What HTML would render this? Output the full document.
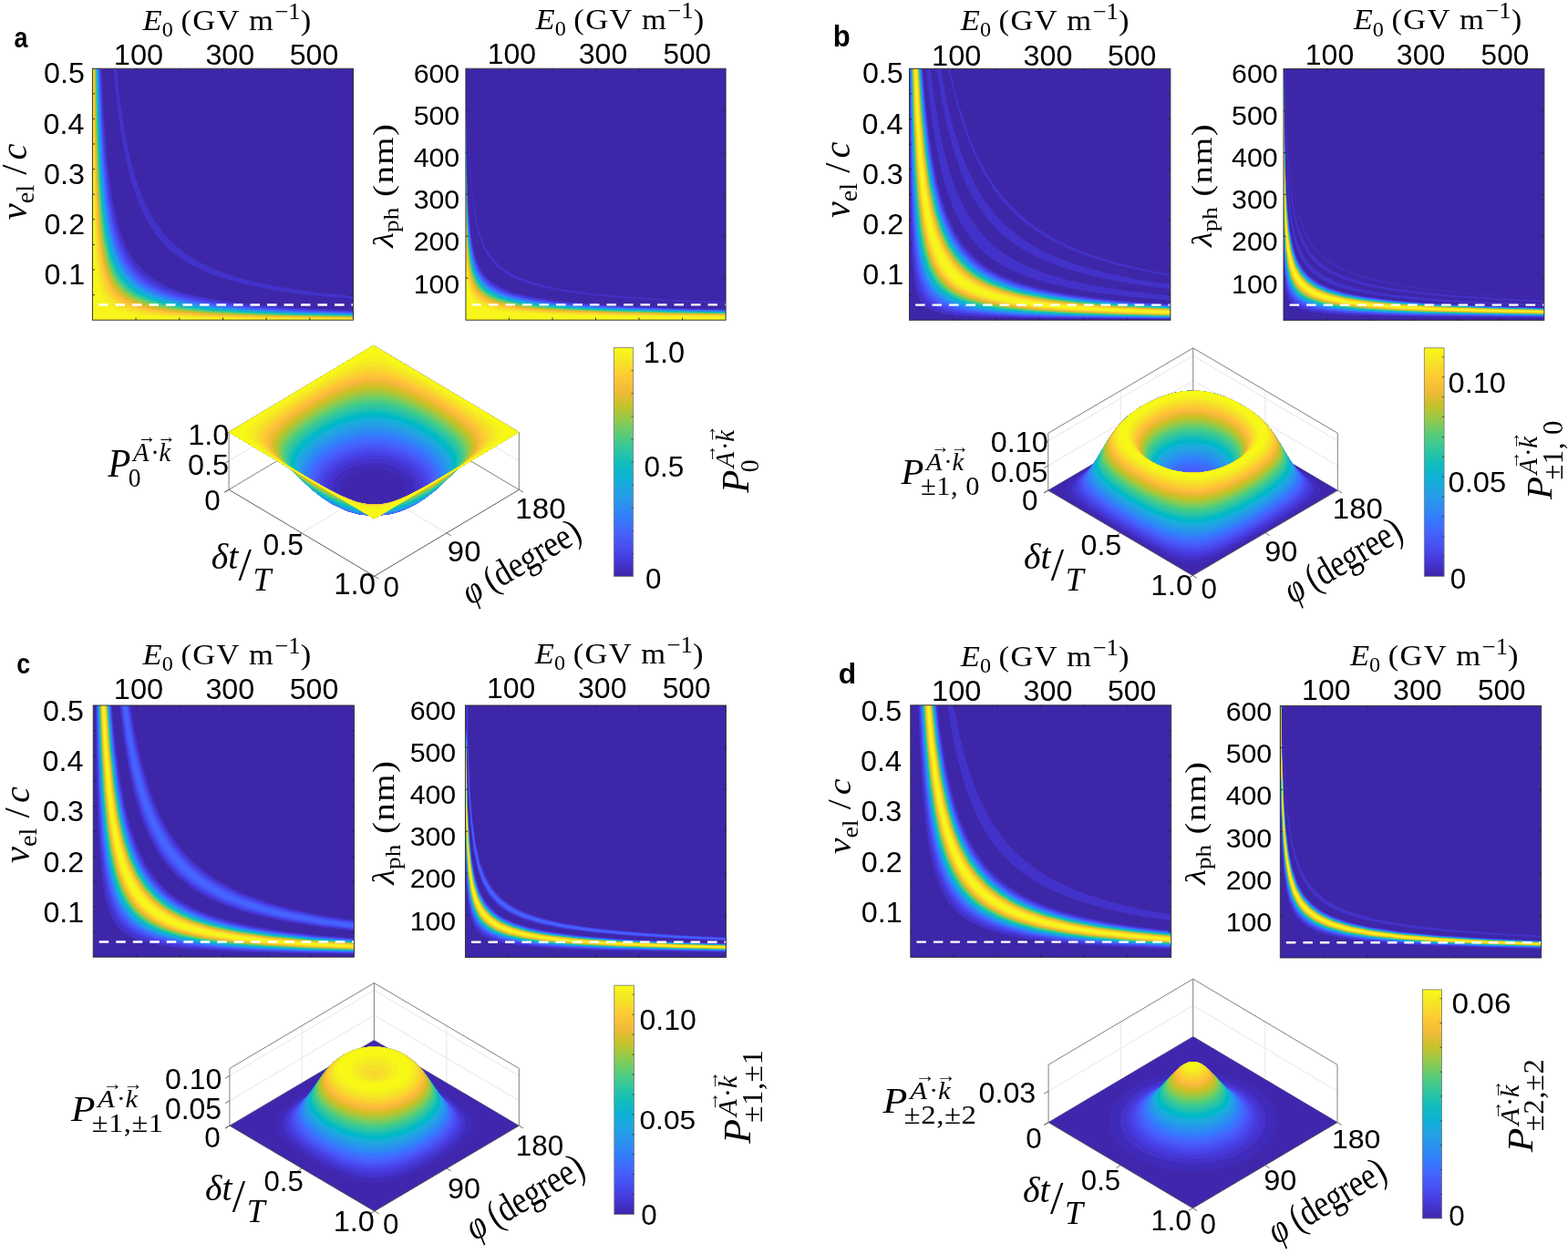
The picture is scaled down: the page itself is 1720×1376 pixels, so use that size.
<!DOCTYPE html>
<html><head><meta charset="utf-8"><style>
html,body{margin:0;padding:0;background:#fff;overflow:hidden;}
svg{display:block;}
.n{font-family:"Liberation Sans",sans-serif;font-size:29px;fill:#000;}
.m{font-family:"Liberation Serif",serif;fill:#000;}
</style></head><body>
<svg width="1720" height="1376" viewBox="0 0 1720 1376">
<defs>
<filter id="bl" x="0" y="0" width="1" height="1"><feGaussianBlur stdDeviation="0.6"/></filter>
<filter id="bl2"><feGaussianBlur stdDeviation="0.5"/></filter>
</defs>
<rect width="1720" height="1376" fill="#fff"/>
<clipPath id="cav"><rect x="101.4" y="75.2" width="286.1" height="276"/></clipPath>
<g clip-path="url(#cav)"><rect x="101.4" y="75.2" width="286.1" height="276" fill="#3e26a8"/>
<g filter="url(#bl)"><path fill="#4332c9" d="M124.5 75.3l3.5 36.3l5 36.7l5 27l7.5 29.3l7.8 21.5l9.7 19.5l9.8 14.3l12 13l12 9.7l15 9.3l19.2 8.7l24.5 8l31.8 7.3l27.3 4.5l36.5 4.5l36.2 3.2l0 -3l-38.2 -4l-41 -6l-27.3 -5.5l-24.3 -6.5l-18.5 -6.5l-17.5 -8l-15.7 -9.5l-13.5 -10.7l-8 -8l-5.8 -6.8l-10 -14.5l-8.7 -16.7l-7 -17.6l-7 -23l-7.5 -34.2l-5.5 -35.5l-4 -36.8zM101.5 75.3l0 275.8l285.8 0l0 -10.5l-56.5 -2.5l-47.7 -3.5l-36.8 -4.2l-29 -5.3l-16.3 -4.2l-19.2 -7.3l-11.5 -6.2l-11 -8.3l-9.5 -10l-5 -7l-4.3 -7.2l-5.7 -12.8l-5.8 -17.7l-5.2 -23.8l-5.5 -39.8l-4 -48.5l-2.8 -57z"/>
<path fill="#4639d9" d="M101.5 75.3l0 275.8l285.8 0l0 -9.5l-53.7 -2.2l-52.3 -3.5l-35 -3.8l-32.3 -5.5l-19 -5l-15.2 -5.7l-12.3 -6.5l-11 -8.3l-8.7 -9.2l-8 -12l-7.3 -16l-6.5 -22l-5 -26.3l-4.2 -34.8l-3.5 -45.7l-2.8 -59.8z"/>
<path fill="#473fe3" d="M101.5 75.3l0 275.8l285.8 0l0 -9.2l-49 -1.8l-56 -3.5l-38.5 -4l-31.3 -5.2l-16.7 -4.3l-15.5 -5.5l-13.3 -6.7l-11.2 -8.3l-9.3 -9.7l-7.7 -11.8l-7 -15.5l-6.5 -22.2l-5.8 -32.1l-4 -36.5l-3.2 -47.5l-2.3 -52z"/>
<path fill="#4746eb" d="M101.5 75.3l0 275.8l285.8 0l0 -8.7l-58 -2.3l-47.7 -3l-37.6 -3.7l-32.2 -5.3l-18.8 -4.7l-15.7 -5.8l-12.8 -6.7l-10 -7.5l-9.7 -10.5l-8.3 -13.3l-5.7 -13.5l-6 -20.7l-5.5 -30.6l-4 -36.2l-3 -42.8l-2.5 -60.5z"/>
<path fill="#484df1" d="M101.5 75.3l0 275.8l285.8 0l0 -8.5l-60.7 -2.2l-51.3 -3.3l-38 -4l-25.8 -4.2l-19.2 -4.8l-14.8 -5.2l-13.2 -6.8l-10.5 -7.7l-9 -9.5l-7 -10.5l-7.3 -16l-6.2 -21.5l-3.5 -17.8l-2.3 -15l-3.7 -35.3l-3.3 -49.5l-2 -54z"/>
<path fill="#4854f6" d="M101.5 75.3l0 275.8l285.8 0l0 -8.2l-57.7 -2l-50.5 -3l-40.6 -4l-30.5 -5l-19.5 -5l-13.5 -5l-12.7 -6.8l-11 -8.5l-9.8 -11.2l-7 -12l-3.7 -8.8l-3.5 -10.2l-4.3 -16.8l-4.7 -28l-4 -38.3l-3 -46.7l-2.3 -56.3z"/>
<path fill="#475bfa" d="M101.5 75.3l0 275.8l285.8 0l0 -8l-53.7 -1.7l-53.3 -3l-37.8 -3.5l-29 -4.3l-20 -4.5l-17.2 -5.7l-13.5 -6.8l-7.3 -5l-5 -4.2l-9 -10.3l-4.5 -7l-3.7 -7.2l-5.8 -15l-5.2 -20.5l-4.3 -25.5l-4 -38.3l-3.2 -52.5l-2 -52.8z"/>
<path fill="#4563fc" d="M101.5 75.3l0 275.8l285.8 0l0 -7.7l-60.2 -2l-48.5 -2.8l-38.1 -3.5l-30.2 -4.5l-18.5 -4.2l-18.3 -6.3l-11.7 -6l-10.3 -7.5l-6.2 -6.2l-4.8 -6l-7.7 -13.5l-5.3 -13.5l-5.2 -20l-4.8 -28.5l-3.7 -36.6l-3.3 -53l-2 -54z"/>
<path fill="#426afe" d="M101.5 75.3l0 275.8l285.8 0l0 -7.5l-55.2 -1.7l-55 -3l-38.3 -3.5l-30.3 -4.5l-17.5 -4l-17.7 -6l-12.8 -6.5l-6.5 -4.5l-5.2 -4.5l-8.5 -9.8l-6.8 -11.2l-6.7 -17l-4.8 -18.3l-4.5 -26.5l-3.7 -35.5l-3.5 -57l-1.8 -54.5z"/>
<path fill="#3c71ff" d="M101.5 75.3l0 275.8l285.8 0l0 -7.2l-61.2 -2l-50.3 -2.8l-36.5 -3.2l-31 -4.5l-18.8 -4.3l-18.2 -6.2l-12 -6.3l-10.8 -8.2l-8.2 -9.3l-4 -6l-4 -7.5l-5.5 -14l-4.8 -17.7l-5 -29.5l-3.7 -37.1l-3 -49.5l-2 -60.5z"/>
<path fill="#3479fd" d="M101.5 75.3l0 275.8l285.8 0l0 -7l-55.2 -1.7l-57.3 -3l-41.3 -3.8l-26.7 -4l-18.8 -4.2l-16.2 -5.5l-13.3 -6.8l-11 -8.5l-9 -10.5l-7.7 -14l-5.8 -16l-5 -21.5l-4.2 -29l-3.5 -39.3l-2.5 -45.7l-1.8 -55.3z"/>
<path fill="#2f81fa" d="M101.5 75.3l0 275.8l285.8 0l0 -7l-61.2 -1.7l-48.5 -2.5l-36.3 -3l-31.8 -4.3l-21 -4.5l-15.5 -5l-12.2 -5.7l-11.8 -8.3l-6.5 -6.5l-3.7 -4.7l-4.8 -7.5l-3.5 -7l-5.2 -14.3l-4.3 -16.7l-4.5 -27.3l-3.7 -37.5l-3 -51.3l-2 -61z"/>
<path fill="#2d87f6" d="M101.5 75.3l0 275.8l285.8 0l0 -6.7l-60.7 -1.8l-53.5 -2.7l-33.1 -2.8l-33.2 -4.5l-20.5 -4.5l-14.5 -4.7l-12.5 -6l-5.5 -3.5l-6.3 -5l-9 -10l-4.2 -6.5l-3.5 -6.8l-6 -16l-5.3 -22.2l-4 -27l-3.5 -38.8l-2.7 -51.5l-1.8 -54.8z"/>
<path fill="#2d8ef1" d="M101.5 75.3l0 275.8l285.8 0l0 -6.5l-60 -1.7l-51 -2.5l-39.8 -3.3l-31 -4.2l-20.5 -4.5l-16.2 -5.5l-13 -6.8l-10.8 -8.5l-8 -9.5l-7.2 -13l-6.3 -17.7l-4.5 -20l-4 -28l-3.5 -40.8l-2.5 -49l-1.5 -54.3z"/>
<path fill="#2995ed" d="M101.5 75.3l0 275.8l285.8 0l0 -6.5l-59 -1.5l-56.2 -2.7l-36.6 -3l-31.2 -4.3l-19.5 -4.2l-16.5 -5.5l-11.5 -5.8l-10.5 -7.7l-4.5 -4.5l-5.5 -7l-7 -12.8l-5.3 -14.5l-5 -21.2l-4 -27.3l-3.5 -39.8l-2.7 -54l-1.5 -53.5z"/>
<path fill="#259be8" d="M101.5 75.3l0 275.8l285.8 0l0 -6.2l-64.7 -1.8l-47 -2.2l-36.1 -2.8l-32 -4l-23 -4.7l-15.5 -5l-12 -5.8l-10.5 -7.5l-6 -6l-3.7 -4.7l-7 -12l-6 -16l-5 -21.3l-4.5 -32l-3 -35.8l-2.5 -49l-1.8 -59z"/>
<path fill="#23a0e5" d="M101.5 75.3l0 275.8l285.8 0l0 -6l-63.5 -1.7l-52.5 -2.5l-40 -3.3l-29.3 -4l-20.5 -4.5l-16 -5.5l-11.5 -6l-10 -7.7l-8.5 -10l-7.2 -13.3l-5.5 -15.7l-4.5 -20l-4 -28.5l-3.3 -38.8l-2.5 -50.3l-1.7 -58z"/>
<path fill="#1fa6e2" d="M101.5 75.3l0 275.8l285.8 0l0 -6l-54.7 -1.2l-57.3 -2.5l-40 -3l-30 -3.8l-23 -4.7l-14.8 -4.8l-13.2 -6.5l-10 -7.5l-8.3 -9.2l-5 -8l-3 -6.3l-5.7 -16.5l-4.5 -20.5l-3.5 -25l-3.3 -37.8l-2.5 -49l-1.7 -63.5z"/>
<path fill="#1aacdd" d="M101.5 75.3l0 275.8l285.8 0l0 -5.7l-60.5 -1.5l-51.5 -2.3l-40.8 -3l-28.7 -3.5l-18.5 -3.5l-19.5 -5.7l-12.8 -6l-10.7 -7.8l-4.8 -4.7l-4.7 -6l-7.3 -13.3l-5.2 -15l-4.5 -20l-4.3 -31.2l-2.7 -33.8l-2.5 -50.5l-1.8 -62.3z"/>
<path fill="#13b1d7" d="M101.5 75.3l0 275.8l285.8 0l0 -5.5l-58.7 -1.5l-53.3 -2.2l-41.5 -3l-29 -3.5l-20.8 -4l-15.2 -4.5l-12.5 -5.5l-7.3 -4.5l-4.7 -3.8l-5.8 -5.7l-3.7 -4.8l-6.5 -11.2l-5.8 -15.5l-5 -21.8l-4 -29l-3.2 -40.8l-2.5 -55l-1.3 -54z"/>
<path fill="#07b5d0" d="M101.5 75.3l0 275.8l285.8 0l0 -5.5l-56.7 -1.2l-55.3 -2.3l-36.8 -2.5l-31.5 -3.5l-22 -4l-18 -5.2l-13.5 -6.3l-9.5 -6.7l-6.2 -6.3l-3.5 -4.5l-3.5 -5.5l-3.8 -7.5l-5.5 -15.7l-4.5 -20.5l-3.7 -28l-3 -37.3l-2.5 -53.8l-1.5 -59.5z"/>
<path fill="#00b9c8" d="M101.5 75.3l0 275.8l285.8 0l0 -5.2l-62.7 -1.5l-53.8 -2.3l-41.3 -3l-28.5 -3.5l-20.2 -4l-15.5 -4.7l-12.3 -5.8l-5.7 -3.7l-5.5 -4.5l-8.8 -10.3l-6.2 -11.5l-5.3 -14.7l-4.5 -20l-3.7 -27.3l-3.5 -44.5l-2.3 -51.3l-1.5 -58z"/>
<path fill="#06bcbf" d="M101.5 75.3l0 275.8l285.8 0l0 -5.2l-52 -1l-59.5 -2.3l-41.5 -2.7l-31 -3.5l-21.5 -4l-15.5 -4.5l-13.8 -6.3l-10.7 -7.7l-8.8 -10l-6.7 -12.3l-5.5 -16l-4 -18.2l-4 -29.8l-3 -38.8l-2.5 -57.2l-1.3 -56.3z"/>
<path fill="#16bfb7" d="M101.5 75.3l0 275.8l285.8 0l0 -5l-58.2 -1.2l-58 -2.3l-37.6 -2.5l-33 -3.7l-18.7 -3.5l-17.3 -5l-12.5 -5.8l-10.2 -7.2l-8.8 -9.8l-7 -12.5l-5.2 -15l-4.5 -20.5l-4 -31.2l-2.8 -37.1l-2.2 -51.5l-1.5 -62z"/>
<path fill="#25c2ae" d="M101.5 75.3l0 275.8l285.8 0l0 -5l-55.7 -1l-60.3 -2.2l-41.3 -2.8l-30.5 -3.5l-20 -3.7l-13.2 -3.8l-12.5 -5.2l-6.8 -4l-5.5 -4.3l-8.5 -9.2l-4 -6.3l-3.2 -6.5l-5.5 -15.7l-4.8 -22.8l-3.5 -28.5l-3 -42.3l-2.2 -57l-1 -52z"/>
<path fill="#2ec4a5" d="M101.5 75.3l0 275.8l285.8 0l0 -4.7l-62 -1.3l-58.7 -2.2l-37.3 -2.5l-32.5 -3.8l-17.3 -3.2l-17.7 -5.3l-6.5 -2.7l-7.3 -4l-9 -7l-4 -4.3l-4.7 -6.5l-5.8 -11.2l-5 -15.3l-4.5 -22.5l-3.5 -29.7l-2.7 -40.6l-2 -50.7l-1.3 -58.3z"/>
<path fill="#34c79b" d="M101.5 75.3l0 275.8l285.8 0l0 -4.5l-50 -1l-65.5 -2.2l-40.3 -2.5l-30.7 -3.3l-20.3 -3.5l-19.2 -5.5l-11.8 -5.5l-9.7 -7l-4 -4l-5.3 -6.7l-5.7 -10.8l-5 -14.5l-4.8 -22.7l-3.5 -29l-2.5 -34.8l-2.5 -62.3l-1.2 -56z"/>
<path fill="#3dca90" d="M101.5 75.3l0 275.8l285.8 0l0 -4.5l-56.7 -1l-58.5 -2l-41.3 -2.5l-29.3 -3l-21 -3.5l-19 -5.2l-11.2 -5l-10.5 -7.3l-8.3 -9l-3.2 -5l-4 -8l-5 -14.7l-4.3 -20.3l-3.5 -28.2l-2.7 -38.3l-2.3 -56l-1.2 -62.3z"/>
<path fill="#4bcb84" d="M101.5 75.3l0 275.8l285.8 0l0 -4.2l-63.7 -1.3l-56.5 -2l-40.3 -2.5l-28.3 -3l-19.2 -3.2l-17.5 -4.8l-13 -5.7l-5.5 -3.5l-5.3 -4.3l-7.2 -8.2l-3.8 -6l-3.2 -6.8l-4.8 -14l-4.7 -23.5l-3.5 -30.7l-2.3 -33.6l-2 -49.7l-1.5 -68.8z"/>
<path fill="#5bcc77" d="M101.5 75.3l0 275.8l285.8 0l0 -4.2l-61 -1l-59.2 -2l-41.1 -2.5l-28.7 -3l-19.3 -3.3l-16 -4.2l-12.5 -5.3l-11 -7.5l-8 -8.7l-3.5 -5.5l-4 -8.3l-3.2 -9.2l-2.5 -9.5l-3.3 -17.5l-3.2 -28.3l-2.8 -42.3l-2 -55.5l-1 -58z"/>
<path fill="#6bcd69" d="M101.5 75.3l0 275.8l285.8 0l0 -4l-58 -1l-56.2 -1.7l-44.8 -2.5l-28.5 -2.8l-24.3 -4l-14.7 -4l-13.3 -5.7l-10.2 -7.3l-7 -7.7l-4.3 -6.8l-3 -6.2l-4.5 -13.3l-4.5 -21.7l-3.5 -30.3l-2.7 -43l-1.8 -48.8l-1.2 -65z"/>
<path fill="#7ecc5b" d="M101.5 75.3l0 275.8l285.8 0l0 -4l-55 -0.7l-65 -2l-40 -2.3l-30.8 -3l-20 -3.2l-17.7 -4.8l-13.3 -6l-10 -7.5l-3.7 -4l-4.5 -6.2l-6 -12.5l-4.3 -14.3l-4 -22l-3 -28.2l-2.5 -41.3l-2 -60.8l-1 -53z"/>
<path fill="#90ca4d" d="M101.5 75.3l0 275.8l285.8 0l0 -3.7l-63 -1l-57 -1.8l-37.5 -2l-32.8 -3l-20.7 -3.2l-14.3 -3.5l-15 -6l-10 -6.8l-8.2 -9l-6.3 -11.2l-4.5 -13l-2.2 -9.3l-2.8 -15.7l-3.2 -30.5l-2.3 -36.8l-2 -58.5l-1 -60.8z"/>
<path fill="#a1c840" d="M101.5 75.3l0 275.8l285.8 0l0 -3.5l-60 -1l-60 -1.7l-42.3 -2.3l-29.5 -2.7l-19.5 -3l-17 -4.3l-12.7 -5.2l-10 -6.8l-8 -8.7l-6.3 -11.3l-3.7 -10.5l-2.3 -8.7l-3.5 -19.8l-2.7 -25.7l-2.5 -40.8l-1.8 -51.3l-1.2 -68.5z"/>
<path fill="#b2c534" d="M101.5 75.3l0 275.8l285.8 0l0 -3.5l-68.7 -1l-57.5 -1.7l-40.8 -2.3l-30.3 -3l-19.2 -3.2l-14.8 -4l-13.2 -6l-9.5 -7.3l-4.3 -4.7l-3.7 -5.5l-5.3 -11.3l-4.5 -15.7l-3.5 -20.5l-3 -30.5l-2 -35.3l-2 -64.5l-0.7 -55.8z"/>
<path fill="#c3c22b" d="M101.5 75.3l0 275.8l285.8 0l0 -3.2l-66.2 -1l-54 -1.5l-41.1 -2l-31.7 -2.8l-20.3 -3l-16.5 -4l-12.5 -5l-6.2 -3.7l-4.8 -3.8l-5 -5.2l-3.2 -4.5l-6 -12.3l-4.5 -15.5l-3.5 -20.5l-3 -30.7l-2.3 -42.3l-1.5 -50l-1 -64.8z"/>
<path fill="#d1bf27" d="M101.5 75.3l0 275.8l285.8 0l0 -3.2l-63.7 -0.8l-56.8 -1.5l-38.3 -1.7l-34 -2.8l-21 -3l-16 -3.7l-9.7 -3.5l-6 -3l-7.5 -5.3l-7.3 -7.7l-3.5 -5.5l-3.7 -8l-4.8 -16l-3.7 -22.3l-3 -32.7l-2 -39.8l-1.8 -64.8l-0.7 -50.5z"/>
<path fill="#dfbc2a" d="M101.5 75.3l0 275.8l285.8 0l0 -3l-61 -0.7l-60.2 -1.5l-39.3 -1.8l-32 -2.5l-22 -3l-16.3 -3.7l-13.5 -5.3l-9.7 -6.5l-4.8 -4.7l-3.2 -4.3l-6.5 -13l-4.5 -16l-3 -18l-2.8 -27.7l-2.2 -41.3l-1.8 -62l-0.7 -60.8z"/>
<path fill="#ebba31" d="M101.5 75.3l0 275.8l285.8 0l0 -2.7l-58.2 -0.8l-63.8 -1.5l-40.5 -1.7l-32.3 -2.5l-20.5 -2.8l-17.5 -4l-7.7 -2.7l-6.8 -3.3l-7.2 -5l-5 -5l-3.3 -4.2l-5 -9.5l-2.7 -7.5l-2.5 -9.5l-3 -17l-3 -29.8l-2.3 -42.3l-1.5 -52.5l-1 -71.5z"/>
<path fill="#f6ba3c" d="M101.5 75.3l0 275.8l285.8 0l0 -2.7l-55.5 -0.5l-67.7 -1.5l-46.1 -2l-30.5 -2.5l-22 -3.3l-12.2 -3l-9 -3.2l-5.5 -2.8l-8 -5.7l-4.5 -4.8l-3.5 -5l-5.3 -11.2l-4 -14.5l-3.2 -20.3l-2.5 -27.5l-2 -39.5l-1.5 -55.3l-1 -70.5z"/>
<path fill="#febe3c" d="M101.5 75.3l0 275.8l285.8 0l0 -2.5l-125 -2l-42.8 -1.7l-32.5 -2.5l-18.7 -2.5l-16.5 -3.8l-7.8 -2.7l-6.2 -3l-8.3 -6l-3.7 -4l-3.8 -5.3l-5 -10.7l-3.7 -13.5l-3.5 -22l-2.5 -29l-2 -44.1l-1.5 -65l-0.5 -55.5z"/>
<path fill="#fec537" d="M101.5 75.3l0 275.8l285.8 0l0 -2.2l-127.2 -2l-39.3 -1.5l-32.3 -2.3l-23.2 -3l-15.3 -3.5l-12 -4.7l-8.5 -5.8l-4 -4l-4 -5.5l-5.2 -11.2l-3.5 -12.8l-3.3 -20.5l-2.2 -25l-1.5 -28l-1.8 -60.3l-1 -83.5z"/>
<path fill="#fdcc32" d="M101.5 75.3l0 275.8l285.8 0l0 -2.2l-68.2 -0.5l-62.5 -1.3l-39.8 -1.5l-32.3 -2.2l-21.2 -2.8l-15.3 -3.5l-6.5 -2.2l-6.2 -3l-6.5 -4.5l-4.5 -4.5l-3.8 -5.3l-4.7 -10.2l-4.5 -17.8l-2.5 -18l-2.3 -28.2l-1.5 -33.6l-1.5 -63.7l-0.7 -70.8z"/>
<path fill="#fad42e" d="M101.5 75.3l0 275.8l285.8 0l0 -2l-125.2 -1.5l-45.3 -1.5l-31.5 -2l-21.5 -2.5l-14.8 -3l-11.5 -4l-6 -3.2l-4 -3l-6 -6.5l-3 -4.8l-3 -6.7l-2.2 -7l-2.5 -11.3l-2.5 -18.2l-2 -25.5l-1.5 -33.8l-1.5 -66.5l-0.8 -72.8z"/>
<path fill="#f7dc2a" d="M101.5 75.3l0 275.8l285.8 0l0 -1.7l-131.5 -1.5l-45.3 -1.5l-31 -2l-19 -2.3l-16.2 -3.5l-7.8 -2.7l-5 -2.5l-7.2 -5.5l-6.3 -8.3l-4.7 -11.5l-3.8 -17.2l-2.2 -19.3l-1.8 -26l-1.2 -32.5l-1.3 -60.8l-0.7 -77z"/>
<path fill="#f5e427" d="M101.5 75.3l0 275.8l285.8 0l0 -1.5l-128.5 -1.2l-45 -1.3l-32.5 -1.7l-21.8 -2.3l-16.5 -3.2l-8.7 -3l-5.8 -3l-3.7 -2.8l-6.5 -7.2l-4.8 -9.8l-3.5 -13.2l-2.7 -19.5l-2 -27.5l-1.3 -31.8l-1.2 -62.8l-0.8 -84z"/>
<path fill="#f5ec22" d="M101.5 75.3l0 275.8l285.8 0l0 -1.2l-128 -1l-51.3 -1.3l-30 -1.5l-19 -1.7l-15.2 -2.5l-12.8 -4l-8.5 -5.3l-3.5 -3.5l-3.7 -5.5l-4 -10l-3 -14l-2.3 -20l-1.7 -30.5l-1 -33.3z"/>
<path fill="#f7f51b" d="M101.5 75.3l0 275.8l285.8 0l0 -0.7l-135.2 -1l-48.6 -1l-29.5 -1.3l-21 -1.7l-15.2 -2.5l-10.8 -3.5l-7.5 -4.8l-5.2 -6.2l-2.5 -5l-2 -5.8l-2.8 -13.5l-2 -19.5l-1.5 -30l-1 -41.5z"/></g>
<line x1="108" y1="334.5" x2="387.5" y2="334.5" stroke="#fff" stroke-width="2.4" stroke-dasharray="10.5 8"/>
</g>
<rect x="101.4" y="75.2" width="286.1" height="276" fill="none" stroke="#262626" stroke-width="0.9"/>
<path d="M149.1 75.2v2.6M149.1 351.2v-2.6M196.8 75.2v2.6M196.8 351.2v-2.6M244.5 75.2v2.6M244.5 351.2v-2.6M292.1 75.2v2.6M292.1 351.2v-2.6M339.8 75.2v2.6M339.8 351.2v-2.6M101.4 102.8h2.6M387.5 102.8h-2.6M101.4 130.4h2.6M387.5 130.4h-2.6M101.4 158h2.6M387.5 158h-2.6M101.4 185.6h2.6M387.5 185.6h-2.6M101.4 213.2h2.6M387.5 213.2h-2.6M101.4 240.8h2.6M387.5 240.8h-2.6M101.4 268.4h2.6M387.5 268.4h-2.6M101.4 296h2.6M387.5 296h-2.6M101.4 323.6h2.6M387.5 323.6h-2.6" stroke="#262626" stroke-width="0.9" fill="none"/>
<clipPath id="cal"><rect x="510.9" y="75.2" width="285.2" height="276"/></clipPath>
<g clip-path="url(#cal)"><rect x="510.9" y="75.2" width="285.2" height="276" fill="#3e26a8"/>
<g filter="url(#bl)"><path fill="#4332c9" d="M511 86.3l0 264.7l285 0l-0 -11.7l-52.8 -1.3l-57 -2.2l-41.2 -2.5l-34.8 -3.3l-25.2 -3.7l-21 -5l-10.3 -3.8l-5.7 -2.7l-10 -6.8l-5.3 -5.2l-3.2 -4.3l-5.8 -11l-4 -13l-3.5 -20.5l-2.2 -25.5l-1.5 -32.7l-1.3 -59.3zM512.3 75.3l0.7 49.5l1.8 50l2 31l3.2 28.2l4.5 21.8l5.5 15.5l7 12.2l8.8 9.8l6 4.7l6.7 4.3l7.5 3.7l9.5 3.8l20.3 5.7l25.2 4.8l31.5 4l37.3 3.2l54.7 3.3l51.5 2l0 -1.3l-55 -2.2l-59.7 -4l-36.8 -3.8l-27.2 -4l-24.5 -5.2l-18.8 -6l-15.5 -7.5l-6 -4l-5.7 -4.8l-9 -10.2l-4.5 -7.3l-3.3 -6.7l-5 -14.5l-4.5 -21.3l-3 -24l-2.5 -34.5l-1.7 -44.5z"/>
<path fill="#4639d9" d="M511 98.6l0 252.5l285 -0l-0 -11.3l-57 -1.2l-57.5 -2.3l-38 -2.2l-37.5 -3.5l-24.8 -3.8l-17.7 -4.2l-10 -3.5l-8.3 -4l-8.7 -6.3l-7.5 -8.5l-5.8 -11l-4.5 -15.5l-2.7 -17.2l-2.3 -26.3l-1.5 -35z"/>
<path fill="#473fe3" d="M511 104.8l0 246.2l285 0l-0 -10.7l-50.5 -1.3l-61.3 -2.2l-46.5 -2.8l-31.7 -3l-25.3 -3.7l-18.7 -4.5l-9.8 -3.5l-6.7 -3.3l-8.8 -6l-7 -7.5l-5.7 -10l-4.8 -14.7l-3 -17l-2.2 -23.8l-1.5 -30.2l-1.3 -55.3z"/>
<path fill="#4746eb" d="M511 110.1l0 241l285 -0l-0.3 -10.8l-50.7 -1l-62 -2.2l-46.8 -2.8l-29.7 -2.7l-23 -3.3l-21 -4.7l-13 -4.8l-7 -3.7l-5 -3.5l-5.8 -5.5l-2.7 -3.5l-5.8 -10.5l-4.2 -13.8l-3 -17.5l-2.3 -25l-1.5 -33.5z"/>
<path fill="#484df1" d="M511 114.6l0 236.5l285 -0l-0 -10.5l-59 -1.3l-54.5 -2l-40.3 -2.2l-32.2 -2.8l-29 -4l-17.8 -4l-14 -5l-6.2 -3.2l-5.5 -3.8l-7.5 -7.5l-6.3 -10.5l-2.7 -7.2l-2.3 -8.5l-2.7 -16l-2.3 -24.5l-1.2 -25.5l-1.3 -53z"/>
<path fill="#4854f6" d="M511 118.8l0 232.2l285 0l-0 -10.2l-57.8 -1.3l-55.7 -2l-41 -2.2l-34.8 -3l-25.2 -3.5l-17.3 -3.8l-7.5 -2.2l-8.7 -3.5l-10.8 -6.5l-7.5 -7.5l-6.2 -10.5l-4.3 -12.8l-3.2 -18l-2.3 -24l-1.5 -32.2z"/>
<path fill="#475bfa" d="M511 122.8l0 228.2l285 0l-0 -10l-113.3 -3.2l-41.5 -2.3l-32.7 -2.7l-23.3 -3l-21.7 -4.5l-14.5 -5l-5.5 -2.8l-6.8 -4.5l-7.2 -7.2l-5.8 -9.5l-4 -11.3l-3.7 -19.5l-2 -20.2l-1.5 -28l-1.3 -51.3z"/>
<path fill="#4563fc" d="M511 126.3l0 224.7l285 0l-0 -10l-53.8 -1l-58.7 -2l-38.5 -2l-37 -3l-21.8 -2.7l-21.5 -4.3l-15.7 -5.2l-7.8 -4l-4 -2.8l-8.5 -8.5l-5.5 -9.5l-4.2 -12.7l-3.3 -18.3l-2 -21.5l-1.5 -31z"/>
<path fill="#426afe" d="M511 129.8l0 221.2l285 0l-0 -9.7l-60 -1.3l-57.3 -2l-41.2 -2.2l-32.3 -2.8l-24.2 -3.2l-20.5 -4.5l-12 -4.3l-6 -3l-6 -4l-7.5 -7.5l-6 -10.2l-3.8 -11l-3 -15.3l-2.2 -21.2l-1.5 -27.5l-1.3 -49.5z"/>
<path fill="#3c71ff" d="M511 133.1l0 218l285 -0l-0 -9.5l-116 -3.3l-42.3 -2.2l-32.7 -2.8l-19.8 -2.5l-22.5 -4.5l-15.2 -5.2l-10.8 -6.3l-7.5 -7.2l-5.5 -8.8l-4.5 -12.5l-3.5 -18.7l-2 -20.8l-1.5 -30.2z"/>
<path fill="#3479fd" d="M511 136.3l0 214.7l285 0l-0 -9.5l-63 -1.2l-63 -2.3l-45.8 -2.7l-34 -3.5l-21.7 -3.8l-12.3 -3.2l-9.7 -3.8l-10.8 -6.5l-6 -5.7l-2.5 -3.3l-4.7 -8.7l-4 -12.5l-2.8 -15.5l-2.2 -24l-1.3 -26.3z"/>
<path fill="#2f81fa" d="M511 139.3l0 211.7l285 0l-0 -9.2l-113 -3l-44.3 -2.3l-31.5 -2.5l-24.2 -3l-22 -4.5l-13.3 -4.5l-10.7 -6l-7.8 -7.2l-5.7 -9l-4 -10.8l-3.3 -15.5l-2.2 -20.5l-1.5 -26l-1.3 -47.5z"/>
<path fill="#2d87f6" d="M511 142.3l0 208.7l285 0l-0 -9.2l-46 -0.8l-65.3 -2l-41.2 -2l-33.5 -2.5l-27.3 -3.2l-18.2 -3.5l-16.5 -5.3l-11 -6l-3.8 -3l-4.5 -4.7l-3.7 -5.5l-2.5 -5l-3.3 -9.3l-3 -14.5l-2.2 -20l-1.5 -25.7l-1.3 -46.8z"/>
<path fill="#2d8ef1" d="M511 145.3l0 205.7l285 0l-0 -9l-115.8 -3l-40.2 -2l-32.5 -2.5l-23.3 -2.7l-19 -3.5l-14.5 -4.3l-9.7 -4.5l-4 -2.5l-7.5 -6.7l-4 -5.5l-3 -5.8l-3.8 -11l-2.7 -14l-2 -18.2l-1.5 -25.3l-1.3 -46.2z"/>
<path fill="#2995ed" d="M511 148.3l0 202.7l285 0l-0 -9l-47.5 -0.7l-66.3 -2l-45.5 -2.3l-31.7 -2.5l-24.3 -3l-21.7 -4.5l-14 -5l-9 -5.2l-8 -7.8l-5.5 -9.2l-3.5 -10l-3 -14.8l-2.3 -21l-1.5 -28.2z"/>
<path fill="#259be8" d="M511 151.1l0 200l285 -0l-0 -8.8l-118 -3l-36.3 -1.7l-34 -2.5l-25.5 -3l-19.7 -3.8l-15 -4.7l-10.8 -5.8l-8 -7.2l-4.7 -7l-4 -9.5l-3.8 -16.3l-2.2 -19.2l-1.5 -24.8l-1.3 -44.7z"/>
<path fill="#23a0e5" d="M511 153.8l0 197.2l285 0l-0 -8.7l-59.3 -1l-68.7 -2.3l-48 -2.7l-32.5 -3.3l-17.3 -2.7l-14.5 -3.5l-12.5 -4.8l-7.5 -4.5l-7.2 -6.7l-5.5 -8.5l-4 -10.8l-3.3 -16l-2 -18.7l-1.5 -27.5z"/>
<path fill="#1fa6e2" d="M511 156.6l0 194.5l285 -0l-0 -8.5l-74.5 -1.5l-57.5 -2l-40 -2.3l-36.5 -3.5l-18.8 -3l-12.5 -3l-12.2 -4.5l-8.3 -4.7l-4.5 -3.8l-4 -4.5l-5.2 -9l-3.5 -10.2l-2.8 -14l-2 -18.5l-1.5 -27z"/>
<path fill="#1aacdd" d="M511 159.3l0 191.7l285 0l-0 -8.5l-60.5 -1l-69.8 -2.2l-44.5 -2.5l-35.7 -3.5l-14.3 -2.3l-15.2 -3.5l-11.3 -4l-9.2 -5.2l-6 -5.3l-5.8 -8l-4.5 -11l-3 -13.2l-2.2 -18.5l-1.8 -29.5z"/>
<path fill="#13b1d7" d="M511 162.1l0 189l285 -0l-0 -8.3l-115.5 -2.7l-43.3 -2l-28.2 -2l-23.5 -2.5l-23 -4l-13.8 -4l-11.7 -5.8l-8 -6.7l-5.8 -8.3l-4 -10l-3.2 -14.5l-2 -16.7l-1.5 -23.3l-1.3 -42.5z"/>
<path fill="#07b5d0" d="M511 164.6l0 186.5l285 -0l-0 -8.3l-106 -2.2l-47 -2l-36.5 -2.5l-24.8 -2.8l-19.5 -3.5l-14.5 -4.2l-10.2 -5l-4.3 -3l-4.7 -4.5l-4.5 -6.3l-2.5 -5l-2.5 -7l-2.8 -12l-2 -15.2l-1.7 -25.8l-1.3 -41.7z"/>
<path fill="#00b9c8" d="M511 167.3l0 183.7l285 0l-0 -8l-110.5 -2.5l-46 -2l-29.8 -2l-26.2 -2.7l-19.3 -3.3l-14.7 -4l-6.3 -2.5l-6.5 -3.5l-5 -3.7l-3.5 -3.5l-4.7 -6.8l-4.8 -11.7l-2.7 -12.5l-2 -16.3l-1.5 -22.7l-1.3 -41.3z"/>
<path fill="#06bcbf" d="M511 170.1l0 181l285 -0l-0 -8l-107.8 -2.3l-42.7 -1.7l-38.3 -2.5l-23.7 -2.5l-19.5 -3.3l-15.5 -4.2l-11.3 -5.3l-5.5 -4l-3.7 -3.7l-5 -7.3l-4.3 -10.7l-2.7 -12.3l-2.3 -18.7l-1.5 -25.3z"/>
<path fill="#16bfb7" d="M511 172.6l0 178.5l285 -0l-0 -7.8l-112.5 -2.5l-41.8 -1.7l-34.2 -2.3l-26 -2.7l-19 -3.3l-15 -4.2l-11 -5.3l-4.8 -3.5l-4.2 -4.2l-3.8 -5.3l-4.5 -10.2l-3.2 -13.8l-2.3 -18.5l-1.5 -24.7z"/>
<path fill="#25c2ae" d="M511 175.3l0 175.7l285 0l-0 -7.7l-109.8 -2.3l-43.2 -1.7l-32 -2l-29.5 -3l-19.3 -3.3l-13.7 -3.7l-11.5 -5.3l-5.3 -3.7l-4.7 -4.8l-3.8 -5.5l-4.2 -10l-3 -12.7l-2 -15.5l-1.5 -21.8l-1.3 -39.5z"/>
<path fill="#2ec4a5" d="M511 178.1l0 173l285 -0l-0 -7.5l-70.3 -1.3l-64.7 -2l-42.5 -2.2l-33.3 -3l-17 -2.5l-14.5 -3.3l-10.7 -3.7l-6.8 -3.5l-7.7 -6.3l-5.5 -7.5l-4.3 -10.2l-2.7 -11.8l-2.3 -18l-1.5 -24z"/>
<path fill="#34c79b" d="M511 180.8l0 170.2l285 0l-0 -7.5l-112 -2.2l-43.5 -1.8l-35 -2.2l-26.3 -2.8l-16.5 -2.7l-14.2 -3.8l-11.8 -5.2l-4.7 -3.3l-4.3 -4l-5 -7l-4.5 -11.2l-2.2 -10l-2 -15l-1.8 -26.3z"/>
<path fill="#3dca90" d="M511 183.6l0 167.5l285 -0l-0 -7.3l-117.3 -2.5l-42 -1.7l-31 -2l-24.7 -2.5l-19.8 -3.3l-15.2 -4.2l-8.8 -4l-6.7 -4.8l-6.5 -7.5l-4.8 -10l-3.2 -13l-2.3 -17.2l-1.5 -23.3z"/>
<path fill="#4bcb84" d="M511 186.3l0 164.7l285 0l-0 -7.2l-67.5 -1l-61.8 -1.8l-42.5 -2l-34.7 -2.7l-17.5 -2.3l-14.5 -2.7l-11.3 -3.3l-10.2 -4.7l-5.3 -3.8l-4.2 -4.2l-3.5 -5l-4.8 -11.3l-2.5 -11l-2 -15.7l-1.5 -22.8z"/>
<path fill="#5bcc77" d="M511 189.3l0 161.7l285 0l-0 -7l-74.3 -1.2l-59.7 -1.8l-45.3 -2.2l-29.7 -2.5l-17 -2.3l-15 -3l-10.5 -3.2l-8.5 -4l-6.8 -5l-6.2 -7.8l-4.3 -9.5l-2.5 -9.7l-2 -13.3l-1.7 -22.2l-1.3 -36.5z"/>
<path fill="#6bcd69" d="M511 192.3l0 158.7l285 0l-0 -7l-57.8 -0.7l-67.5 -1.8l-45.5 -2l-36 -2.7l-18 -2.3l-13.5 -2.5l-13.7 -4l-8 -3.7l-6 -4.3l-3.5 -3.5l-3.5 -4.7l-3.8 -8l-3.2 -12.3l-2.3 -16.5l-1.5 -22z"/>
<path fill="#7ecc5b" d="M511 195.1l0 156l285 -0l-0 -6.8l-130.8 -2.7l-43.7 -2l-32.5 -2.5l-18.3 -2.3l-13.5 -2.5l-13.7 -4l-7.5 -3.5l-7.8 -5.7l-4.7 -5.8l-4.5 -9.2l-3.3 -12.8l-2 -14.7l-1.5 -21.8z"/>
<path fill="#90ca4d" d="M511 198.3l0 152.7l285 0l-0 -6.7l-60.8 -0.8l-68.2 -1.7l-45.3 -2l-30.5 -2.3l-21 -2.5l-15.7 -3l-11.5 -3.5l-7.5 -3.5l-6 -4.2l-4.8 -5l-2.5 -3.8l-3.7 -8.5l-2.8 -11l-2.2 -17.2l-1.3 -18.5z"/>
<path fill="#a1c840" d="M511 201.3l0 149.7l285 0l-0 -6.5l-68.8 -1l-66 -1.7l-39.2 -1.8l-33.8 -2.5l-18.5 -2.2l-14.7 -2.8l-11.3 -3.2l-8.7 -4l-6.5 -4.8l-6.3 -7.7l-2.5 -5l-2 -5.8l-2.2 -9.7l-2 -15.5l-1.3 -18.3z"/>
<path fill="#b2c534" d="M511 204.6l0 146.5l285 -0l-0 -6.3l-108.8 -2l-44.5 -1.5l-36.7 -2l-27.5 -2.5l-17 -2.5l-13 -3l-11.8 -4.5l-7 -4.5l-6.2 -6.7l-4.5 -8.8l-2.8 -9.5l-2.2 -14l-1.5 -18.2l-1.3 -32.8z"/>
<path fill="#c3c22b" d="M511 207.8l0 143.2l285 0l-0 -6.2l-73.8 -1l-58.5 -1.5l-41.7 -1.8l-34.8 -2.5l-13.5 -1.5l-18 -3l-13.2 -3.7l-7.8 -3.5l-5.5 -3.8l-6.5 -7.2l-4.2 -8.8l-2.3 -8l-2.2 -13.7l-1.5 -17.8l-1.3 -32z"/>
<path fill="#d1bf27" d="M511 211.3l0 139.7l285 0l-0 -6l-114.3 -2l-72.7 -3l-27.5 -2.2l-17.3 -2.3l-15.5 -3.2l-11.2 -4l-7.5 -4.5l-6.3 -6.3l-4.5 -8l-3 -9.7l-2.5 -15.5l-1.2 -15.3l-1.3 -31.2z"/>
<path fill="#dfbc2a" d="M511 215.1l0 136l285 -0l-0 -6l-113 -1.8l-74.8 -3l-22.7 -1.7l-22.3 -2.8l-16.2 -3.5l-10.8 -4l-7.5 -4.7l-6 -6.5l-4.5 -9l-2.2 -8l-2 -12l-1.5 -16.8l-1.3 -30.5z"/>
<path fill="#ebba31" d="M511 218.8l0 132.2l285 0l-0 -5.7l-112 -1.8l-76.8 -3l-25.5 -2l-18 -2.2l-15 -3l-12.2 -4.3l-7.8 -4.7l-5.7 -6l-4.3 -7.8l-2.7 -9l-2 -11.7l-1.5 -16.3l-1.3 -29.7z"/>
<path fill="#f6ba3c" d="M511 222.8l0 128.2l285 0l-0 -5.5l-111.5 -1.7l-78.5 -3l-23 -1.8l-19 -2.2l-18.3 -3.8l-8.5 -3l-7.2 -4l-6.3 -5.7l-4.7 -8l-2.8 -8.3l-2 -10.5l-1.7 -17.7l-1.3 -28.8z"/>
<path fill="#febe3c" d="M511 227l0 124l285 -0l-0 -5.3l-111.8 -1.7l-75.7 -2.8l-27.3 -2l-20.5 -2.5l-14.5 -3l-9.5 -3.2l-7.2 -4l-6.8 -6.5l-4 -7l-3 -9.5l-2.2 -14l-1.3 -15z"/>
<path fill="#fec537" d="M511 231.5l0 119.5l285 -0l-0 -5.3l-112.5 -1.5l-77 -2.7l-24.8 -1.8l-19.5 -2.2l-13.5 -2.5l-12 -3.8l-7.5 -4l-6 -5.5l-4 -6.2l-3 -8.3l-2.2 -11.5l-1.5 -14.7l-1.3 -27z"/>
<path fill="#fdcc32" d="M511 236.5l0 114.5l285 -0l-0 -5l-114.8 -1.5l-73.2 -2.5l-26 -1.8l-18.5 -2l-15.5 -2.7l-11.5 -3.5l-8 -4.3l-5.3 -4.7l-4 -6l-3 -8l-2.2 -11l-1.5 -14.3l-1.3 -25.7z"/>
<path fill="#fad42e" d="M511 242l0 109l285 -0l-0 -4.8l-106.3 -1.2l-80.7 -2.5l-24.3 -1.5l-22.2 -2.3l-16.8 -3l-9 -2.7l-7.2 -3.5l-3.5 -2.5l-3.5 -3.5l-4.5 -7.5l-2.3 -6.8l-2.2 -12.2l-1.3 -13.3z"/>
<path fill="#f7dc2a" d="M511 248.3l0 102.7l285 0l-0 -4.5l-112 -1.2l-75 -2.3l-22 -1.2l-24.3 -2.3l-16.5 -2.7l-9 -2.5l-7.7 -3.5l-4.3 -3l-3 -3l-3.2 -4.8l-3 -7.5l-2.3 -10.7l-1.2 -11l-1.3 -23.3z"/>
<path fill="#f5e427" d="M511 255.3l0 95.7l285 0l-0 -4l-133.3 -1.7l-70.2 -2.5l-34.3 -3l-13.2 -2.3l-9.8 -2.7l-7.7 -3.8l-6 -5.2l-3.8 -6l-2.2 -6.3l-1.8 -8.2l-1.5 -13.5z"/>
<path fill="#f5ec22" d="M511 264l0 87l285 -0l-0 -3.8l-123.3 -1.2l-51 -1.3l-34.2 -1.5l-31.8 -2.7l-12 -2l-7.7 -2l-8.3 -3.5l-4.2 -3l-3.5 -3.8l-3.5 -6.5l-2.3 -7.7l-1.7 -12l-1.3 -19.5z"/>
<path fill="#f7f51b" d="M511 275.8l0 75.2l285 0l-0 -3.2l-103.8 -0.8l-82.7 -1.7l-45.8 -2.5l-15.2 -1.8l-11.5 -2.2l-7.5 -2.5l-5.8 -3.3l-4 -3.7l-3.2 -5.3l-2.3 -6.7l-1.7 -10.5l-1.3 -17z"/></g>
<line x1="517.5" y1="334.4" x2="796.1" y2="334.4" stroke="#fff" stroke-width="2.4" stroke-dasharray="10.5 8"/>
</g>
<rect x="510.9" y="75.2" width="285.2" height="276" fill="none" stroke="#262626" stroke-width="0.9"/>
<path d="M558.4 75.2v2.6M558.4 351.2v-2.6M606 75.2v2.6M606 351.2v-2.6M653.5 75.2v2.6M653.5 351.2v-2.6M701 75.2v2.6M701 351.2v-2.6M748.6 75.2v2.6M748.6 351.2v-2.6M510.9 121.2h2.6M796.1 121.2h-2.6M510.9 167.2h2.6M796.1 167.2h-2.6M510.9 213.2h2.6M796.1 213.2h-2.6M510.9 259.2h2.6M796.1 259.2h-2.6M510.9 305.2h2.6M796.1 305.2h-2.6" stroke="#262626" stroke-width="0.9" fill="none"/>
<line x1="251.1" y1="505.7" x2="409.8" y2="410.8" stroke="#e0e0e0" stroke-width="0.8"/>
<line x1="409.8" y1="410.8" x2="569.3" y2="505.8" stroke="#e0e0e0" stroke-width="0.8"/>
<line x1="251.1" y1="474.1" x2="409.8" y2="379.2" stroke="#e0e0e0" stroke-width="0.8"/>
<line x1="409.8" y1="379.2" x2="569.3" y2="474.2" stroke="#e0e0e0" stroke-width="0.8"/>
<line x1="330.4" y1="489.8" x2="330.4" y2="426.6" stroke="#e0e0e0" stroke-width="0.8"/>
<line x1="489.5" y1="489.9" x2="489.5" y2="426.7" stroke="#e0e0e0" stroke-width="0.8"/>
<line x1="330.9" y1="584.8" x2="489.5" y2="489.9" stroke="#e0e0e0" stroke-width="0.8"/>
<line x1="330.4" y1="489.8" x2="489.9" y2="584.8" stroke="#e0e0e0" stroke-width="0.8"/>
<line x1="409.8" y1="442.4" x2="409.8" y2="379.2" stroke="#707070" stroke-width="0.9"/>
<line x1="251.1" y1="474.1" x2="409.8" y2="379.2" stroke="#707070" stroke-width="0.9"/>
<line x1="409.8" y1="379.2" x2="569.3" y2="474.2" stroke="#707070" stroke-width="0.9"/>
<line x1="251.1" y1="537.3" x2="409.8" y2="442.4" stroke="#707070" stroke-width="0.9"/>
<line x1="409.8" y1="442.4" x2="569.3" y2="537.4" stroke="#707070" stroke-width="0.9"/>
<line x1="251.1" y1="537.3" x2="251.1" y2="474.1" stroke="#707070" stroke-width="0.9"/>
<line x1="569.3" y1="537.4" x2="569.3" y2="474.2" stroke="#707070" stroke-width="0.9"/>
<g filter="url(#bl2)"><path fill="#3f28ad" d="M409.5 379.2l-158.3 95l66.6 39.7l23.7 22.6l11.3 9l11.4 7.4l17.3 8l12 3.3l11 1.3l6.3 3.7l5.7 -3.7l12.3 -1.6l10.4 -3l9 -3.7l8.3 -4.3l9 -5.7l11.7 -9l25.6 -24.3l66.4 -39.7z"/>
<path fill="#412cba" d="M374.8 534.5l1 -3.3l2.7 -4l4.3 -4l7 -4l5.3 -2l7.7 -1.7l11.3 -0.3l12 2.3l5 2l6.4 3.7l6.3 6.6l1.3 3l0.7 4l-2 6.4l-3 3.6l-11.7 4.4l-8.6 2l-14.4 0.6l-10.6 -1.6l-15.7 -5.4l-2 -2l-2.3 -4zM409.5 379.2l-158.3 95l66.6 39.7l23.7 22.6l11.3 9l11.4 7.4l17.3 8l12 3.3l11 1.3l6.3 3.7l5.7 -3.7l12.3 -1.6l10.4 -3l9 -3.7l8.3 -4.3l9 -5.7l11.7 -9l25.6 -24.3l66.4 -39.7z"/>
<path fill="#4432cb" d="M365.2 532.8l1.3 -4.3l3.4 -5l3 -3l8 -5.4l9.3 -4l12.7 -2.6l10.6 -0.4l8.4 1l8 2l5.3 2l9 5l6.3 5.4l3 4.3l1.7 5l-0 4.3l-1.3 3.7l-17.7 8l-15.7 4.3l-14.3 0.7l-10.7 -1.7l-10.6 -3.3l-18.4 -8.3l-1.3 -4zM409.5 379.2l-158.3 95l66.6 39.7l23.7 22.6l11.3 9l11.4 7.4l17.3 8l12 3.3l11 1.3l6.3 3.7l5.7 -3.7l12.3 -1.6l10.4 -3l9 -3.7l8.3 -4.3l9 -5.7l11.7 -9l25.6 -24.3l66.4 -39.7z"/>
<path fill="#4639da" d="M359.5 531.8l1.7 -5.7l2 -3.3l6.3 -6.3l6.3 -4.4l7.4 -3.6l12 -3.7l9 -1.3l12 -0l16.3 3.3l6 2.3l10 5.7l7.7 7l2.6 3.7l1.7 4.3l0.3 5.7l-0.6 2l-12.4 6.3l-11.6 5l-15.7 4.3l-14.3 0.7l-14.4 -2.7l-18.6 -7.3l-13 -6.7zM409.5 379.2l-158.3 95l66.6 39.7l23.7 22.6l11.3 9l11.4 7.4l17.3 8l12 3.3l11 1.3l6.3 3.7l5.7 -3.7l12.3 -1.6l10.4 -3l9 -3.7l8.3 -4.3l9 -5.7l11.7 -9l25.6 -24.3l66.4 -39.7z"/>
<path fill="#4741e5" d="M355.5 529.2l2 -5.7l4 -5.3l6.3 -5.7l10.7 -6.3l8.7 -3.3l11 -2.7l5.6 -0.7l12.4 0l10.6 1.7l10 3l8.7 4l7.3 4.7l4.7 4l5.7 7.3l1.6 5l0 5.3l-17 9.4l-18.6 7.3l-11 2.3l-12 0.4l-14.4 -2.7l-18.6 -7.3l-17.4 -9zM409.5 379.2l-158.3 95l66.6 39.7l23.7 22.6l11.3 9l11.4 7.4l17.3 8l12 3.3l11 1.3l6.3 3.7l5.7 -3.7l12.3 -1.6l10.4 -3l9 -3.7l8.3 -4.3l9 -5.7l11.7 -9l25.6 -24.3l66.4 -39.7z"/>
<path fill="#484aee" d="M351.8 529.2l1.3 -5.3l5.4 -8l6.3 -5.7l9.7 -6l7.6 -3.3l11.4 -3.4l11.3 -1.6l10.3 -0l10 1.3l9 2.3l9.4 3.7l7 3.7l7.3 5.3l5.7 5.7l4 6.6l1 7.7l-1.7 1.7l-11 6l-19.7 9l-15.6 4.3l-14.4 0.7l-14.3 -2.7l-14.3 -5.3l-25.4 -13.4zM409.5 379.2l-158.3 95l66.6 39.7l23.7 22.6l11.3 9l11.4 7.4l17.3 8l12 3.3l11 1.3l6.3 3.7l5.7 -3.7l12.3 -1.6l10.4 -3l9 -3.7l8.3 -4.3l9 -5.7l11.7 -9l25.6 -24.3l66.4 -39.7z"/>
<path fill="#4852f4" d="M348.8 527.5l1.3 -5.3l5 -7.7l6.4 -6l8 -5.3l9.6 -4.7l14 -4.3l12.4 -1.7l9 0l9 1l13 3.3l9 3.7l10.3 6l6.7 5.3l5.6 6.7l3 6.7l0.4 5.6l-15.7 9l-19.7 9l-15.6 4.4l-14.4 0.6l-14.3 -2.6l-14.3 -5.4l-28 -14.6zM409.5 379.2l-158.3 95l66.6 39.7l23.7 22.6l11.3 9l11.4 7.4l17.3 8l12 3.3l11 1.3l6.3 3.7l5.7 -3.7l12.3 -1.6l10.4 -3l9 -3.7l8.3 -4.3l9 -5.7l11.7 -9l25.6 -24.3l66.4 -39.7z"/>
<path fill="#475bf9" d="M346.2 526.2l2 -7l4.3 -6.3l8 -7.4l10 -6.3l9.7 -4.3l14 -4l10 -1.4l11.7 0l10 1.4l14 4l11 5l8 5l8.3 7.3l4 5.3l2.3 5l0.7 7l-18.3 10.4l-19.7 9l-15.7 4.3l-14.3 0.7l-14.3 -2.7l-14.4 -5.3l-13 -6.4l-17.3 -9.6l-1 -1zM409.5 379.2l-158.3 95l66.6 39.7l23.7 22.6l11.3 9l11.4 7.4l17.3 8l12 3.3l11 1.3l6.3 3.7l5.7 -3.7l12.3 -1.6l10.4 -3l9 -3.7l8.3 -4.3l9 -5.7l11.7 -9l25.6 -24.3l66.4 -39.7z"/>
<path fill="#4563fd" d="M343.8 523.5l1.7 -5.3l4 -6.4l8.3 -8l11 -7l11.3 -5l11 -3.3l13.4 -2l11 -0l12 1.7l9.6 2.6l9.4 3.7l14 8l4.6 3.7l8 9l2.7 5.3l0.7 7.7l-20.7 11.6l-19.7 9l-15.6 4.4l-14.4 0.6l-14.3 -2.6l-18.7 -7.4l-29 -15.6zM409.5 379.2l-158.3 95l66.6 39.7l23.7 22.6l11.3 9l11.4 7.4l17.3 8l10.7 3l12.3 1.6l6.3 3.7l5.7 -3.7l10.7 -1.3l12 -3.3l9 -3.7l8.3 -4.3l9 -5.7l11.7 -9l25.6 -24.3l66.4 -39.7z"/>
<path fill="#416cfe" d="M341.5 522.5l1.3 -5l5 -8l9 -8.3l9.4 -6l11.3 -5.4l12.7 -4l12 -2l11 -0.3l12 1.3l9.6 2.4l11.7 4.3l13 7l8.7 6.7l6.3 7l3.7 7l0.6 7.3l-18 10.7l-22 10.6l-9.6 3.4l-8.7 2l-14.3 0.6l-14.4 -2.6l-18.6 -7.4l-31.4 -17zM409.5 379.2l-158.3 95l66.6 39.7l23.7 22.6l11.3 9l11.4 7.4l16.6 7.6l10.4 3l13 1.7l6.6 4l6.4 -4l9.3 -1l8.3 -2l13.4 -5l8.3 -4.3l9 -5.7l11.7 -9l25.6 -24.3l66.4 -39.7z"/>
<path fill="#3975fe" d="M339.5 519.8l2.7 -7l3.3 -4.7l6.7 -6.6l13.3 -9l10.7 -5l15 -4.7l13.6 -2l10.4 -0l10.3 1.3l12 3l11 4.4l10.7 5.6l10.3 7.7l6.3 6.7l4.7 8.6l0.7 5.7l-1 2.3l-24.4 13.7l-17 8l-9.6 3.3l-8.7 2l-14.3 0.7l-10.7 -1.7l-10.7 -3.3l-20.3 -9.3l-25 -14.4zM409.5 379.2l-158.3 95l66.6 39.7l23.7 22.6l11.3 9l11.4 7.4l11 5.3l10.3 3.7l10 2.3l8.7 1l6.6 4l6.4 -4l10 -1.3l10.3 -2.7l9.7 -3.7l9.3 -4.6l9 -5.7l11.7 -9l25.6 -24.3l66.4 -39.7z"/>
<path fill="#307efb" d="M337.5 518.2l3.3 -8l3 -4l8 -7.7l12.7 -8.3l11.3 -5.3l15 -4.7l13.4 -2l11.6 0l13.4 2l12.3 3.7l14.7 6.6l7.6 4.7l7.7 6l7 7.7l3.7 7l1 6.6l-0.4 1.7l-1 1l-26 14.7l-17 8l-9.6 3.3l-8.7 2l-14.3 0.7l-10.7 -1.7l-10.7 -3.3l-20.3 -9.4l-26 -14.6l-1 -1zM409.5 379.2l-158.3 95l66.6 39.7l23.7 22.6l11.3 9l10.4 6.7l9.3 4.7l11.7 4.3l11 2.7l8.3 1l7.3 4.3l7 -4.3l9.7 -1.4l8 -2l12 -4.3l10.7 -5.3l9.6 -6.4l9.4 -7.3l25.6 -24.3l66.4 -39.7z"/>
<path fill="#2e87f7" d="M335.5 517.2l2 -6l5.7 -8l10.3 -9l10.7 -6.7l13.3 -6l13.3 -4l13.7 -2l11 0l13.7 2l12.3 3.7l14.3 6.3l10.4 6.4l9.3 7.6l5.3 6.4l3.7 7.6l0.3 7.7l-24 14l-22 10.7l-9.6 3.3l-8.7 2l-14.3 0.7l-10.7 -1.7l-10.7 -3.3l-20.3 -9.4l-28.3 -16l-0.7 -1zM409.5 379.2l-158.3 95l66.6 39.7l23.7 22.6l11.3 9l7.7 5l13.3 6.7l11.4 4l10 2.3l7 0.7l8.6 5l8 -5l6.7 -0.7l12.3 -3l11.4 -4.3l11 -5.7l7.6 -5l11.7 -9.3l23.3 -22.3l66.4 -39.7z"/>
<path fill="#2c8ff1" d="M333.5 516.5l1.3 -5l2 -4l3.7 -5l9.3 -8.7l13 -8.3l12 -5.7l12 -4l14.4 -2.6l13.3 -0.4l13 1.7l14 4l8.3 3.3l15.4 8.4l10 7.6l7 7.7l4.3 9l0.3 6.3l-1 2l-30 17l-17 8l-9.6 3.4l-8.7 2l-14.3 0.6l-10.7 -1.6l-10.7 -3.4l-20.3 -9.3l-30.7 -17.7zM409.5 379.2l-158.3 95l66.6 39.7l23.7 22.6l10 8l7.7 5l7.3 4l11.7 5l12.3 3.7l11.3 1.7l9 5.3l8.7 -5.3l16 -3l13 -4.7l11.3 -5.7l7 -4.3l10.4 -8l25.6 -24.3l66.4 -39.7z"/>
<path fill="#2796eb" d="M331.8 514.2l2.7 -7.3l4.3 -6l10.7 -9.7l12 -7.7l14.3 -6.6l11.3 -3.7l15 -2.7l11 -0.3l10 1l12 2.7l15.4 5.6l14.3 7.7l12.7 9.7l7 8l3.6 7.6l0.4 7.7l-0.4 1l-21.3 12.7l-11 6l-17 8l-9.7 3.3l-8.6 2l-14.4 0.7l-10.6 -1.7l-10.7 -3.3l-11.7 -5l-13.6 -7l-26.7 -15.4l-1 -1.6zM409.5 379.2l-158.3 95l66.6 39.7l23.7 22.6l9.7 7.7l6.6 4.3l8.7 4.7l10 4.3l14.3 4.4l9.7 1.3l10.3 6l9.7 -6l9.3 -1.3l11.7 -3.4l11.3 -4.6l8.4 -4.4l8.3 -5.3l7.7 -6l25.6 -24.3l66.4 -39.7z"/>
<path fill="#259de6" d="M330.2 512.2l3.7 -8.7l8.6 -9.6l6.7 -5.4l13 -8l14 -6.3l14.3 -4.3l13 -2l13 -0l13 2l11.7 3.3l10.7 4.3l15.6 8.7l9 6.7l7.7 7.6l5 8.4l1 3.3l0.3 4.7l-1.3 4l-28.3 16.3l-17.4 8.7l-7.3 3l-12.3 3.6l-9 1.4l-8.7 -0l-10.7 -1.7l-10.6 -3.3l-11.7 -5l-17.3 -9l-24.7 -14.4l-1 -2zM409.5 379.2l-158.3 95l66.6 39.7l23.7 22.6l8 6.4l8.3 5.3l19 9l11.7 3.7l11.7 2l10.6 6.3l10.4 -6.3l8.3 -1.4l12.7 -3.6l12 -5l11 -6l14.3 -10.7l23.3 -22.3l66.4 -39.7z"/>
<path fill="#20a4e3" d="M328.2 512.8l2.3 -8l6.4 -8.7l9 -8l12 -8l16 -7.6l14.3 -4.7l13.3 -2.3l13.4 -0.4l14 2l14.6 4.4l15.7 7l12 7.3l7.3 5.7l9 9.6l4.4 9l0.3 5.4l-0.7 3.6l-30.6 18l-17.4 8.7l-7.3 3l-12.3 3.7l-9 1.3l-8.7 -0l-10.7 -1.7l-10.6 -3.3l-20.4 -9.3l-35 -20l-1 -2zM409.5 379.2l-158.3 95l66.6 39.7l23.4 22.3l8.6 6.7l8 5l19.4 9l12 3.6l9.6 1.7l12 7l11.4 -7l8 -1.3l11.6 -3.4l10 -4l13.4 -7l14.3 -10.3l23.3 -22.3l66.4 -39.7z"/>
<path fill="#1babde" d="M326.5 511.8l1.7 -7l5.3 -8.3l10.3 -9.7l16 -10.3l17 -7.7l12 -3.7l14.4 -2.3l13.6 -0l14.4 2.3l14.6 4.7l14.4 6.7l12 7.3l9.6 7.7l7 7.6l3 5l1.7 4.7l0.3 5.7l-0.6 3.3l-4 3l-28.4 16.3l-17.3 8.7l-7.3 3l-12.4 3.7l-9 1.3l-8.6 0l-10.7 -1.7l-10.7 -3.3l-20.3 -9.3l-36.7 -21l-1 -2.7zM409.5 379.2l-158.3 95l66.6 39.7l20.7 20l8.3 6.6l7.7 5l13.3 7l8 3.4l11.4 3.6l10.6 2l13 7.7l12.4 -7.7l11.6 -2.3l9.4 -3l12.3 -5.3l8 -4.4l15.3 -10.6l23 -22l66.4 -39.7z"/>
<path fill="#12b1d6" d="M324.8 510.5l1.3 -6.3l2 -4l5 -6.7l12.4 -10.7l12.6 -8l14 -6.6l16 -5.4l13.7 -2.3l12 -0.3l15 2l14.7 4.3l9.6 4l17 9.3l12 9l7.7 8l4.3 7.4l1.4 5.3l-0 3l-1 4.7l-1 1l-26.7 15.6l-19 10l-9 4l-12 4l-12 2l-8.7 0l-10.6 -1.6l-10.7 -3.4l-20.3 -9.3l-37.7 -21.7l-1.3 -2.3zM409.5 379.2l-158.3 95l66.6 39.7l20.4 19.6l15.3 11l19.3 9.7l15 5l9 1.7l14 8.3l13.7 -8.3l9.7 -2l11.3 -3.7l18.3 -8.7l11 -7l7.7 -6l20.3 -19.6l66.4 -39.7z"/>
<path fill="#04b6ce" d="M323.2 509.2l0.3 -3l2 -5.7l5 -7.3l10 -9.3l8.4 -6l9.6 -5.7l15 -7l13 -4.3l17 -3l12.4 -0l12 1.6l14.3 4l12 5l17 9.4l11.3 8.3l8.4 8.3l3 4.4l2.3 5l1 7l-0.7 3.6l-1.3 2.7l-23 13.7l-24.3 13l-9 4l-12 4l-12 2l-8.7 -0l-10.7 -1.7l-10.6 -3.3l-11.7 -5l-13.7 -7l-34.3 -20l-1.3 -2.7zM409.5 379.2l-158.3 95l66.6 39.7l19.7 19l7.3 5.6l10 6.4l19.4 9.3l12 4l8.6 1.7l16 9.3l15.4 -9.3l6 -1l11 -3.4l13.3 -5.6l10 -5.4l9.3 -6l7.4 -5.6l19.6 -19l66.4 -39.7z"/>
<path fill="#01bac4" d="M321.8 504.8l2 -5.7l2.7 -4.3l9.3 -10l7.7 -6l14.6 -9l15 -7l11.7 -4l14.3 -3l14.4 -0.7l13.3 1.7l11.7 3l16 6.3l15 8l13.6 9.7l10.7 11l2.3 3.7l2 5l0.4 7.6l-1.4 4.4l-2 1.6l-23 13.7l-24.3 13l-9 4l-12 4l-12 2l-8.7 -0l-10.6 -1.7l-15.7 -5.3l-15.3 -7.3l-22.7 -12.7l-18.7 -11.7l-1.3 -4.3zM409.5 379.2l-158.3 95l66.6 39.7l20.7 19.6l16 10.7l19.3 9.3l12 4l8 1.7l17 10l16.4 -10l10.3 -2.3l10.3 -3.7l19 -9.3l15.4 -10.4l20.6 -19.6l66.4 -39.7z"/>
<path fill="#11beba" d="M320.2 503.8l2.7 -7.3l3.6 -5.4l4.7 -5l12.3 -10l14.4 -8.6l12.6 -6l16.4 -5.7l14.3 -2.7l13.7 -0.3l12.6 1.7l19.7 6l15 7l13.3 8l11.4 8.6l8.6 9.4l4 7.6l0.7 2.4l-0 5.6l-1 4l-1.3 2.4l-25.7 15.3l-24.3 13l-9 4l-12 4l-12 2l-8.7 0l-10.7 -1.7l-15.6 -5.3l-15.4 -7.3l-22.6 -12.7l-20 -12.3l-1.7 -5.7zM409.5 379.2l-158.3 95l66.6 39.7l17.7 17l7 5.3l11.7 7.3l11.6 6l10.4 4.4l16.6 4.6l18 10.7l17.4 -10.7l10.6 -2.6l10 -3.7l20 -10l16.4 -11.3l17.6 -17l66.4 -39.7z"/>
<path fill="#23c1af" d="M318.5 502.8l1 -4l2.7 -5.3l9 -10.4l12 -9.3l15 -9l17 -7.7l15.3 -4.6l13 -2l13 -0l17 3l14.7 5l13.6 6.3l17 10.3l8.7 6.7l9.7 10.3l4 7.7l0.6 7.7l-1.6 5.6l-1.4 1.7l-26.6 16l-24.4 13l-9 4l-12 4l-12 2l-8.6 0l-10.7 -1.7l-15.7 -5.3l-15.3 -7.3l-22.7 -12.7l-21.3 -13.3l-1.7 -4.7zM409.5 379.2l-158.3 95l66.6 39.7l18.4 17.3l14.3 9.7l8.3 4.6l13.7 6.4l10.3 3.6l8.4 2l19.6 11.7l19 -11.7l16 -4.6l8.7 -3.7l14.7 -7.7l15.3 -10.3l18.3 -17.3l66.4 -39.7z"/>
<path fill="#2ec4a4" d="M316.8 502.2l3 -9l5 -6.7l10.7 -9.6l17.6 -11.7l13 -6.7l17.7 -6.6l15.3 -3.4l13.7 -0.6l14 1.6l16.3 4.7l12 5l19 10.3l12.7 9l10 9.7l4.3 6.3l1.7 4l0.7 7.4l-2 6.3l-1.7 2l-27.7 16.7l-24.3 13l-9 4l-12 4l-12 2l-8.7 -0l-10.6 -1.7l-15.7 -5.3l-15.3 -7.4l-22.7 -12.6l-22 -13.4l-2.3 -5.3zM409.5 379.2l-158.3 95l65.6 39l19.4 17.7l16.3 10.6l19 9.4l10 3.6l8 2l21.3 12.7l21 -12.7l18.4 -6l18.6 -9.3l17 -11.3l17 -16l66.4 -39.7z"/>
<path fill="#36c898" d="M315.2 501.5l1.7 -7l6 -9l13 -11.7l17.6 -11.3l16.4 -8l14.6 -5.3l13.7 -3l17.3 -0.7l13.4 2l13.6 4l14.4 6l17 9.3l14.3 10l10.3 10l4.7 7l1.7 4.7l0.3 5l-1.3 5.3l-2.4 4.4l-21.3 13l-24.3 13.6l-17 8l-12 4l-12 2l-8.7 0l-10.7 -1.6l-15.6 -5.4l-15.4 -7.3l-22.6 -12.7l-23 -14l-3 -6.3zM409.5 379.2l-158.3 95l65.6 39l15 14l17 11.7l21.7 11l10.7 4l6.6 1.6l23 13.7l22.4 -13.7l18 -6l21.3 -11l16.3 -11.3l14 -13.3l66.4 -39.7z"/>
<path fill="#43cb8a" d="M313.8 497.5l1.3 -4.3l2.4 -4.4l3.3 -4.3l6.7 -6.7l10.6 -8.3l13.4 -8.3l17.3 -8.7l14.3 -5.3l14.4 -3.4l14.3 -1l12.7 1.4l17.3 4.6l12.3 5l19 10l13.4 9l11.6 10.4l6.7 9.3l1.7 4.7l0.3 4.3l-1.7 6.7l-2.6 4.3l-22.4 13.7l-24.3 13.6l-17 8l-12 4l-12 2l-8.7 0l-14.3 -2.6l-14.3 -5.4l-21.7 -11l-29.7 -17.3l-9 -6l-3 -6.7zM409.5 379.2l-158.3 95l65.6 39l13.4 12.3l15.6 11l14.4 8l9.3 4.4l16.7 5.6l24.6 14.7l22.4 -13.7l19.6 -7.3l17.7 -9l19.7 -13.3l12.6 -12l66.4 -39.7z"/>
<path fill="#55cc7b" d="M312.2 496.2l1.3 -4.3l3 -5.4l9.7 -10.3l10.3 -8l19 -11.7l16.4 -7.6l15.6 -5.4l11.4 -2.3l15.6 -0.7l14 2l19.7 6.4l16.3 7.6l17.7 10.7l13.7 10.7l7.6 8.3l2.4 3.7l2 5l0.3 7.3l-1.3 4.3l-3.7 5.7l-23 14l-24.3 13.7l-17 8l-12 4l-12 2l-8.7 -0l-14.3 -2.7l-14.4 -5.3l-21.6 -11l-38.7 -23l-2.3 -3l-2.4 -5.7zM409.5 379.2l-158.3 95l65.6 39l13.7 12.3l17.3 11.7l20 10.3l17.4 6.4l25.6 15.3l25.7 -15.7l15 -5.3l20.3 -10.3l19.7 -13.4l11.3 -10.6l66.4 -39.7z"/>
<path fill="#69cd6b" d="M310.5 494.8l3 -7.7l8.3 -10l13.4 -10.6l17.6 -11l18 -8.7l15 -5.3l14.7 -3l15.7 -0.4l16.6 3l16.4 5.7l18 8.7l16.3 10l13.3 10.3l7.4 7.7l5 8.6l0.6 2.4l0 6l-2.6 7l-3 4l-24 14.6l-24.4 13.7l-17 8l-12 4l-12 2l-8.6 0l-14.4 -2.7l-14.3 -5.3l-21.7 -11l-29.6 -17.3l-10 -6.4l-2 -2.3l-3.4 -7.3zM409.5 379.2l-158.3 95l65.6 39l12.4 11l17.3 11.7l19.7 10.3l16.6 6.3l28 16.7l28 -17l17.4 -6.7l17 -9l18.3 -12.3l11.3 -10.3l66.4 -39.7z"/>
<path fill="#7fcc5a" d="M308.8 493.5l1 -3.7l3 -5.6l7.7 -8.7l13.3 -10.7l20.7 -12.6l17.6 -8.4l16.7 -5.6l13 -2.4l12.3 -0.3l15.4 2.3l18.3 6l20 9.7l17 10.3l13 10l7.3 7.4l5.4 8.6l1 3.4l-0 6l-1.7 5l-4.7 6.6l-25 15.4l-24.3 13.6l-17 8l-12 4l-12 2l-8.7 0l-14.3 -2.6l-14.3 -5.4l-21.7 -11l-29.7 -17.3l-11 -7l-2 -2.3l-3.6 -7zM409.5 379.2l-158.3 95l65.6 39l13.7 11.7l16.3 10.6l17 9l17.4 7l29.6 17.7l29.7 -18l14.3 -5.7l19.7 -10.3l18.3 -12.3l10 -9l66.4 -39.7z"/>
<path fill="#94ca4a" d="M307.2 491.5l1.3 -4l3 -5.3l8.7 -9.4l13.3 -10.3l14.4 -9l17.3 -9l14.7 -6l14.3 -4l14.7 -1.7l15 1.4l15.3 4l15.7 6.3l17.3 9l18.7 12l13 11l6.6 8.3l2.4 5.4l0.6 5l-1.6 6.6l-5.7 8.4l-20.3 12.6l-25 14.4l-17.4 8.6l-14.3 5.4l-11 2.3l-12 0.3l-14.3 -2.6l-18.7 -7.4l-17.3 -9l-37.7 -22.3l-5.3 -4l-3.4 -5l-2.3 -6.3zM409.5 379.2l-158.3 95l65.6 39l13.4 11l15.3 10l21 11l13 5.3l31.3 18.7l31.4 -19l14.3 -6l17.7 -9.3l17.3 -11.4l11.3 -9.6l66.4 -39.7z"/>
<path fill="#a9c73a" d="M305.2 492.5l1 -5l2.7 -5.3l3.3 -4.4l6.7 -6.6l12 -9.4l17.3 -11l19.7 -10l16.6 -6.3l8.7 -2.3l8.3 -1.4l13 -0.3l12 1.7l16.7 5l22 10l15 8.6l17.7 12.4l9.3 8.6l6.3 9l1.4 4l0.3 5l-2.3 7l-5.7 7.7l-21.3 13.3l-25 14.4l-17.4 8.6l-14.3 5.4l-11 2.3l-12 0.3l-14.3 -2.6l-14.4 -5.4l-21.6 -11l-29.7 -17.3l-14 -9.3l-5.3 -8l-1.4 -4zM409.5 379.2l-158.3 95l65.6 39l9.7 8l17.7 11.7l20 10.6l12 5l34.6 20.7l34.7 -21l13.3 -5.7l16.7 -9l17.3 -11.3l10 -8.3l66.4 -39.7z"/>
<path fill="#bdc32e" d="M303.5 489.2l1.3 -4.3l3.4 -5.7l7.6 -8.3l13.7 -10.7l22 -13.7l18.3 -9l14 -5.3l15.7 -3.7l14 -0.6l14 2l17 5.3l19 8.7l18 10.3l19.3 13.7l9.7 9.3l4 5.7l2 4.6l0.3 6.7l-1.3 4.3l-2 3.7l-6.3 7.3l-21.4 13.4l-25 14.3l-17.3 8.7l-14.3 5.3l-11 2.3l-12 0.4l-14.4 -2.7l-18.6 -7.3l-17.4 -9l-42.6 -25.7l-6.4 -7.3l-3 -6.7zM409.5 379.2l-158.3 95l65.6 39l13 10l15.4 9.7l16.6 9l11 4.6l38 22.7l36.4 -22l7.6 -3.3l20.4 -10.7l16.6 -10.7l11 -8.6l66.4 -39.7z"/>
<path fill="#cfc027" d="M301.5 489.5l0.3 -3l2.7 -6l3.3 -4.7l7.4 -7.3l12 -9.3l18.3 -11.7l21 -11l15.7 -6.3l15.6 -4l14.4 -1l13.3 1.6l15 4.4l14.3 6l25.4 13.6l20 13.7l11.6 10.7l3.4 4.3l2.6 5l1 6.7l-1 4.6l-2 4l-7.6 9l-19 12l-22.4 13l-23.3 12l-14.3 5.4l-11 2.3l-12 0.3l-14.4 -2.6l-14.3 -5.4l-21.7 -11l-29.6 -17.3l-13.7 -8.7l-4.3 -4.3l-5.4 -8.3zM409.5 379.2l-158.3 95l67.3 40l10 7.7l13 8.3l13 7.3l16 7.7l40.3 24l39.7 -24l14 -6.7l12 -6.6l16.7 -10.7l9.6 -7.3l66.4 -39.7z"/>
<path fill="#e0bc2a" d="M299.8 485.5l2.7 -6.3l2.3 -3.4l10.3 -10.3l13 -9.7l20 -12.3l21.7 -11l14.7 -5.7l13.6 -3.3l13.4 -1l15.3 2l13.3 4l15 6.3l24.7 13.4l21.3 14.3l12.4 11l6 9l1.3 7l-1.3 5.3l-2.4 4.4l-7.3 8.3l-14.7 9.7l-28.3 16.6l-23.3 12l-14.4 5.4l-11 2.3l-12 0.3l-14.3 -2.6l-18.7 -7.4l-17.3 -9l-37.7 -22.3l-7 -4.7l-8 -9l-3 -6.3zM409.5 379.2l-158.3 95l67.3 40l7.7 5.7l17.3 11l22 11.3l45.3 27l44.7 -27l20.7 -10.7l15 -9.3l11.6 -8.3l66.4 -39.7z"/>
<path fill="#eeba34" d="M297.8 484.2l1.3 -4l3.4 -5.3l10.3 -10.4l18 -13l20 -12l18.7 -9.3l15.3 -6l15.3 -3.7l12.4 -0.6l7 0.6l11 2.4l16 5.6l22.6 11l17 10l14.7 10l14 12l3.7 4.4l4 8l0.3 4.3l-1 4.3l-2.7 5l-4 5l-6 5.7l-37 22.7l-16.3 9l-19.7 9l-15.6 4.3l-14.4 0.7l-14.3 -2.7l-18.7 -7.3l-17.3 -9l-37.7 -22.4l-9 -6.3l-7.3 -8l-3.7 -7zM409.5 379.2l-158.3 95l70.6 42l18 12l22.4 12l48.6 29l48 -29l21 -11.3l19.7 -13l69.7 -41.7z"/>
<path fill="#fbbb3e" d="M295.5 483.5l1.3 -4.3l2.4 -4l9.3 -10l15.3 -11.7l23.7 -14.7l19.3 -10l19 -7.6l16 -3.7l12.7 -0.3l15 2.6l16 5.7l17.7 8.3l24.3 14l18.3 12.7l12.4 11l5.6 8.7l1 3.3l0 4l-1 3.7l-4 6.6l-10.6 10.4l-20 12.6l-22.4 13l-23.3 12l-14.3 5.4l-11 2.3l-12 0.3l-14.4 -2.6l-18.6 -7.4l-17.4 -9l-37.6 -22.3l-8.4 -5.7l-9.6 -9.6l-3.7 -6.4l-1 -3.6zM409.5 379.2l-158.3 95l74 44l16.6 10.7l13.7 7.3l55.3 33l54.7 -33l14.7 -8l14.3 -9.3l74.7 -44.7z"/>
<path fill="#fec239" d="M293.2 482.5l0.7 -3l3.3 -6l10.3 -10.7l23 -16.3l19 -11.3l14.7 -7.7l17.7 -7.7l15 -4.3l15.3 -1.3l9 1l7.3 1.6l17 6l20 9.7l24 14l18 12.3l6.7 5.4l7.3 7.3l5 8l0.7 6.3l-1 3.7l-4.3 7l-11.4 10.7l-21.3 13.6l-22.3 13l-23.4 12l-14.3 5.4l-11 2.3l-12 0.3l-14.3 -2.6l-18.7 -7.4l-17.3 -9l-37.7 -22.3l-9.7 -6.7l-10 -9.6l-4.3 -7zM409.5 379.2l-158.3 95l159.6 95l158.4 -95z"/>
<path fill="#fdcb32" d="M293.2 474.5l8 -9.3l13.3 -10.7l19.4 -12.7l18.3 -10.6l18.3 -9.4l12 -5l16.4 -4.6l11.6 -1l15 2l15.4 5l20 9.3l25.3 14.3l17 11l14.3 11l6.7 6.7l3.3 4.7l2 5l0 4.6l-2.3 6l-3 4l-12.3 11.4l-16.7 11l-28.3 16.6l-23.4 12l-14.3 5.4l-11 2.3l-12 0.3l-14.3 -2.6l-18.7 -7.4l-31.3 -17l-29.4 -18l-12 -9.6l-7.3 -8.7l-2.3 -6l-0 -4.3zM409.5 379.2l-158.3 95l159.6 95l158.4 -95z"/>
<path fill="#fad52e" d="M288.2 478.5l1.7 -4.3l3.3 -4.7l11 -10.3l21.7 -15l26.3 -15.7l19.7 -10l18.6 -7.3l12.4 -2.7l11 -0.3l15.3 3l17.3 6.6l15.7 7.7l28.3 16.3l18.7 12.4l13 10.3l7.7 8.7l2.3 5l0.3 3.6l-1 4l-3.3 5.7l-6.3 6.7l-6.4 5.3l-12.3 8.7l-31 18.6l-16.3 9l-19.7 9l-8 2.7l-9.3 2l-14 0.3l-13 -2.6l-18.7 -7.4l-17.3 -9l-37.7 -22.3l-14.7 -10.3l-10.3 -9.7l-4.3 -7l-0.7 -2.3zM409.5 379.2l-158.3 95l159.6 95l158.4 -95z"/>
<path fill="#f6de29" d="M284.8 478.5l0.7 -3l2.6 -4.7l9.4 -9.6l14.3 -10.7l31 -19.3l17.3 -9.7l17 -8.3l9 -3.7l14.7 -4l12.7 -0.7l14 2.7l17.3 6.7l24.7 12.6l28 16.7l17.3 11.7l9.3 7.3l8.7 9.3l2.3 4.7l0.4 4.3l-1 3.7l-3.4 5.3l-12.3 11.4l-15.7 11l-36.3 21.6l-19 10l-18 7.4l-13.7 3l-11.3 -0l-11.3 -2.4l-9.7 -3.3l-10.7 -4.7l-17.3 -9l-37.7 -22.3l-16.3 -11.3l-10 -8.7l-5 -6.3l-1.7 -4zM409.5 379.2l-158.3 95l159.6 95l158.4 -95z"/>
<path fill="#f5e825" d="M281.2 477.5l1 -4l2 -3.3l10 -10l21.7 -15.4l29 -17.6l18 -10l24.3 -11.4l14 -4l12 -0.6l11.3 2l18.4 7l21 10.6l35.6 21l15.7 10.4l14 10.6l5.7 5.7l2.6 3.7l1.4 3l0.3 4l-2 5.3l-2.7 3.7l-12.3 11l-19 13l-31 18.6l-27.7 14.7l-12.6 5.3l-13.4 3.7l-13.3 0.3l-11 -2.3l-17.7 -7l-20.6 -10.7l-29.7 -17.3l-19.7 -12.7l-15 -11.3l-8 -8.7l-2 -4.3zM409.5 379.2l-158.3 95l159.6 95l158.4 -95z"/>
<path fill="#f6f11f" d="M276.5 476.5l0.7 -3.3l2 -3.7l9 -8.7l12.6 -9.3l25.7 -16.3l28.3 -16.7l23.4 -12.3l18.3 -7.4l11 -2l10 0.7l12.7 3.7l22 10.3l19.3 10.7l38.7 23.3l19.3 13.3l10.7 9.7l1.6 2l2 5.3l-0.3 3l-1.7 3.7l-7.3 8l-12.3 9.3l-21 13.7l-36 21.3l-24 12.7l-16.7 6.7l-9.7 2l-8.6 -0l-4.4 -0.7l-13.6 -4.3l-17.7 -8.4l-27 -15l-36 -22l-17.7 -12.3l-10.3 -9.7l-2 -3.3zM409.5 379.2l-158.3 95l159.6 95l158.4 -95z"/>
<path fill="#f8f818" d="M269.5 474.2l1 -3l5.3 -6l11 -8.3l28.7 -18.4l40.3 -24l19.7 -11l15.7 -7.6l11.6 -4l9.7 -0.7l12 3l19.7 9.3l27.3 15.4l33 19.6l28.3 18l11.7 8.7l4.7 5l1.6 3.7l0 2.6l-2.6 4.7l-4.7 4.7l-14.7 10.6l-27 17l-56.6 33l-21.4 10l-9 2.4l-8.6 -0l-14 -4.4l-15 -7.3l-27.4 -15.3l-40.6 -24.4l-18.4 -11.6l-13.3 -9.7l-6 -6l-1.3 -2.3zM409.5 379.2l-158.3 95l159.6 95l158.4 -95z"/></g>
<line x1="251.1" y1="537.3" x2="410.6" y2="632.3" stroke="#4d4d4d" stroke-width="0.9"/>
<line x1="410.6" y1="632.3" x2="569.3" y2="537.4" stroke="#4d4d4d" stroke-width="0.9"/>
<line x1="251.1" y1="537.3" x2="246.3" y2="540.1" stroke="#4d4d4d" stroke-width="0.8"/>
<line x1="330.9" y1="584.8" x2="326.1" y2="587.6" stroke="#4d4d4d" stroke-width="0.8"/>
<line x1="410.6" y1="632.3" x2="405.8" y2="635.1" stroke="#4d4d4d" stroke-width="0.8"/>
<line x1="410.6" y1="632.3" x2="415.4" y2="635.1" stroke="#4d4d4d" stroke-width="0.8"/>
<line x1="489.9" y1="584.8" x2="494.7" y2="587.7" stroke="#4d4d4d" stroke-width="0.8"/>
<line x1="569.3" y1="537.4" x2="574.1" y2="540.2" stroke="#4d4d4d" stroke-width="0.8"/>
<line x1="251.1" y1="537.3" x2="246.3" y2="540.1" stroke="#4d4d4d" stroke-width="0.8"/>
<line x1="251.1" y1="505.7" x2="246.3" y2="508.5" stroke="#4d4d4d" stroke-width="0.8"/>
<line x1="251.1" y1="474.1" x2="246.3" y2="476.9" stroke="#4d4d4d" stroke-width="0.8"/>
<linearGradient id="ga" x1="0" y1="0" x2="0" y2="1"><stop offset="0%" stop-color="#f9fb15"/><stop offset="6.2%" stop-color="#f5e327"/><stop offset="12.5%" stop-color="#feca33"/><stop offset="18.8%" stop-color="#f1ba37"/><stop offset="25%" stop-color="#c8c129"/><stop offset="31.2%" stop-color="#94ca4a"/><stop offset="37.5%" stop-color="#5ccc76"/><stop offset="43.8%" stop-color="#34c79c"/><stop offset="50%" stop-color="#12beb9"/><stop offset="56.2%" stop-color="#0cb3d3"/><stop offset="62.5%" stop-color="#21a3e3"/><stop offset="68.8%" stop-color="#2c90f0"/><stop offset="75%" stop-color="#347afd"/><stop offset="81.2%" stop-color="#4562fc"/><stop offset="87.5%" stop-color="#484cef"/><stop offset="93.8%" stop-color="#4536d5"/><stop offset="100%" stop-color="#3e26a8"/></linearGradient>
<rect x="673.3" y="381.6" width="21.4" height="251" fill="url(#ga)" stroke="#7a7a7a" stroke-width="0.8"/>
<path d="M694.7 406.7h-2.2M694.7 431.8h-2.2M694.7 456.9h-2.2M694.7 482h-2.2M694.7 507.1h-2.2M694.7 532.2h-2.2M694.7 557.3h-2.2M694.7 582.4h-2.2M694.7 607.5h-2.2" stroke="#333" stroke-width="0.8" fill="none"/>
<clipPath id="cbv"><rect x="997.5" y="75.3" width="286.4" height="276"/></clipPath>
<g clip-path="url(#cbv)"><rect x="997.5" y="75.3" width="286.4" height="276" fill="#3e26a8"/>
<g filter="url(#bl)"><path fill="#4332c9" d="M1040.1 75.4l8 34l5.2 18.5l8 23.7l8.3 20l9.7 19.3l10.5 16.7l10.8 14l12.2 13l14.3 12.2l14.7 10.3l16.8 9.5l19.7 9l25 9l20.7 6l31.3 7.2l28.5 5.3l-0.3 -2.3l-12.2 -2l-26.3 -5.5l-28.7 -7.5l-21.5 -7l-16 -6.2l-20.5 -9.8l-16.5 -9.7l-14.5 -10.5l-12 -10.5l-14 -15l-10.2 -13.5l-8 -12.5l-9.8 -18.2l-6.5 -14.5l-7 -18.3l-10 -32.2l-7.7 -32.5zM1027.4 75.4l5.5 33.5l6.5 31l7.5 27.7l7.2 21l6.5 15.3l11.3 20.7l11.2 15.7l13 14l14.5 12l13 8.5l16.8 8.8l20.2 8.2l24 7.5l26 6.3l35.7 6.5l37.5 5l0 -5l-33.5 -5l-33.7 -6.8l-29.3 -7.7l-23.7 -8.3l-15 -6.5l-19.7 -10.7l-12.8 -8.8l-12.7 -10.7l-11.8 -12.3l-10.2 -13.2l-10.5 -17l-9.5 -19.5l-7.5 -19.2l-8.8 -28.5l-7 -29.3l-6.2 -33.2zM1016.1 75.4l3.7 36.5l5 36l5.5 29.5l7 27.5l8.3 23.2l8.2 17l9.8 15l12.5 14l11.7 9.7l14.3 9l10 5l10.7 4.5l24 7.8l31 7l31.2 5l31.5 3.7l43.3 3.8l-0 -5.3l-44.8 -4.7l-33 -5l-30.5 -6.3l-27.4 -7.7l-18.5 -7l-16.8 -8.3l-13.5 -8.5l-14 -11.5l-11 -11.7l-10.7 -15l-9.3 -17l-7.2 -17.2l-8 -25l-6.5 -27l-7.3 -41l-4.5 -35.8zM997.6 75.4l0.7 134l1 48.2l1.3 28l2 21.5l2.5 12.7l4 10l5.2 6.3l7.5 4.5l10 3l14.8 2.2l24.2 1.8l69.3 1.7l143.7 0.8l-0 -16.3l-37.3 -2.5l-43.7 -4.2l-38 -5.5l-24.2 -5l-22.8 -6.5l-19.2 -7.8l-13.3 -7.2l-9.2 -6.5l-6.3 -5.3l-12 -13l-10 -15.2l-9 -19.5l-7 -21.5l-6 -25.5l-6 -36.5l-4.7 -41.5l-3 -35.2z"/>
<path fill="#4639d9" d="M997.9 75.4l1.2 132.7l1 38.2l1.5 30.3l2 20.7l3 16l2 6.3l3 6.2l5.8 7l7.2 4.8l12.8 4.2l17 2.8l20.7 1.7l67.2 2.3l141.5 1.2l0 -15.5l-39.5 -2.5l-42 -4l-33 -4.5l-30.4 -6l-18.3 -5l-10.2 -3.5l-12 -5l-11.5 -6l-8.5 -5.5l-12.8 -10.7l-10 -11.5l-10 -16l-7.5 -16.8l-7.2 -22.4l-6.5 -29l-4.8 -29.8l-4.7 -41.5l-3.3 -39.2z"/>
<path fill="#473fe3" d="M998.1 75.4l1.2 125.2l1.3 44l1.7 31.2l2.8 24l3.2 14l4.5 10.3l3.3 4.5l3 3l8.2 5.2l13 4.3l14.3 2.5l20.7 2l35.5 1.7l39.7 1l133.3 1.3l-0 -15l-40.8 -2.5l-42.2 -4l-31.5 -4.3l-28.7 -5.5l-23.8 -6.5l-19.2 -7.5l-14.8 -8l-14 -10.5l-9.7 -10l-8 -10.7l-8 -14.3l-6.8 -16.2l-4 -12.3l-4 -14.9l-6.7 -34.8l-5.3 -40l-5 -57.2z"/>
<path fill="#4746eb" d="M998.1 75.4l1.7 132l1.3 37.4l2 31.5l3 23.3l3 12.2l4.7 10.8l3.3 4.5l3.5 3.5l8.7 5.5l6.5 2.5l7.5 2l16.3 2.7l21.5 2l29 1.5l45.4 1.3l128.3 1.2l-0.3 -14.5l-44.2 -2.7l-39.5 -3.8l-30 -4l-31.5 -6l-19.5 -5.2l-21.7 -8.3l-15.3 -8.2l-8.5 -6l-7.5 -6.5l-9.7 -10.8l-8.8 -13l-6.2 -12.2l-7.3 -19l-7.2 -27.2l-5.8 -31.5l-5 -39.5l-4.7 -55.5z"/>
<path fill="#484df1" d="M998.4 75.4l1.7 129l1.5 41.4l1.8 26.3l2.5 21l3.7 16.5l5 11.5l5.8 7.2l8.5 6l11.7 4.5l15.8 3.3l22.5 2.5l35.7 2l43.7 1.2l125.5 1.3l0 -14l-48 -3l-41 -4l-27.5 -3.8l-30.9 -6l-24.5 -7l-17.3 -7l-10.7 -5.7l-7.3 -4.8l-12 -10l-8.7 -9.7l-9.5 -14.3l-6.8 -13.7l-6.7 -18.5l-7 -27.2l-5.5 -31l-5.8 -48.3l-3.7 -45.7z"/>
<path fill="#4854f6" d="M998.6 75.4l0.5 64.2l1.2 63l1.5 39.7l2 29l2.8 21.5l3.7 15.8l5 11.2l2.8 4l4.2 4.5l5.5 4l4.3 2.3l11.2 4l16.3 3.2l23 2.5l29.5 1.8l36.9 1.2l134.8 1.8l-0 -13.8l-48 -3l-41.5 -4l-29.3 -4l-28.4 -5.5l-19.5 -5.2l-10.3 -3.5l-12.5 -5.3l-13.2 -7.2l-8.3 -5.8l-6.2 -5.2l-9.8 -10.3l-9.7 -14l-8.5 -17.2l-6 -16.8l-7.3 -28.4l-6 -35.3l-5 -43.5l-3.5 -45.7z"/>
<path fill="#475bfa" d="M998.6 75.4l2 126.2l1.5 38.2l2 28.5l3 23.3l3.7 15.5l5.3 11.7l2.7 4l4.5 4.8l5.5 4l5.3 2.7l10.7 3.8l16 3.2l24.8 2.8l29 1.7l45.7 1.5l123.5 1.5l-0 -13.2l-44.8 -2.8l-36 -3.2l-33.7 -4.3l-31.2 -5.7l-22.5 -6l-19.8 -7.5l-15 -8l-13.7 -10.3l-11 -11.5l-8.8 -12.5l-7.2 -14l-7.5 -20l-7.3 -28.2l-6.2 -36.7l-5 -44l-3.5 -45.5z"/>
<path fill="#4563fc" d="M998.9 75.4l0.5 57l1.5 68.7l1.5 36.7l2.2 30.8l3 22l3 12.7l2.5 7.3l2.8 5.7l3.2 5l3.8 4.3l3.5 3l5.5 3.5l12.5 5l17.2 3.7l23.5 2.8l31.5 2l43.7 1.5l123.5 1.7l0 -13l-59.7 -4l-44.5 -4.7l-32.5 -5.3l-28 -6.7l-14.2 -4.8l-17.8 -8l-11.7 -7.2l-11.3 -9.3l-9.5 -10.5l-9 -13.5l-7.5 -15.5l-6 -16.7l-7.2 -28.7l-5.5 -32.3l-5.3 -45.5l-3.7 -47.7z"/>
<path fill="#426afe" d="M998.9 75.4l2.2 125.7l1.8 39.5l2.2 28.2l2.5 18.3l3.5 15.2l2.8 7.8l3 6l3 4.5l4 4.5l7.7 5.7l7.3 3.5l8.2 2.8l16.8 3.5l23.5 2.7l31 2l41.7 1.5l123.7 1.8l-0.2 -12.8l-53.3 -3.2l-43 -4.3l-36.7 -5.5l-29.5 -6.7l-17.5 -5.8l-18 -8.2l-11.5 -7.3l-10.2 -8.5l-10.5 -11.7l-7.8 -11.8l-7.2 -14.7l-6.5 -18l-6.8 -26.5l-6.2 -36.7l-5 -44.3l-3.5 -47.2z"/>
<path fill="#3c71ff" d="M999.1 75.4l0.5 52.5l1.5 66l1.7 40.9l2.3 29.8l3 22l4.5 18l5 11l3.2 4.7l5 5.3l10 6.5l13 4.7l18.5 3.8l24.8 2.7l32.5 2l34.7 1.3l124.5 2l-0 -12.5l-49.8 -3l-46.7 -4.5l-35.8 -5.3l-28.2 -6.2l-20.2 -6.5l-18 -8.3l-11.5 -7.2l-11 -9.3l-9.5 -10.7l-8.8 -13.5l-6.2 -13l-6.5 -18l-6.5 -25.5l-6.5 -38.2l-4.5 -39.5l-4 -52z"/>
<path fill="#3479fd" d="M999.1 75.4l2.2 119.2l1.8 39.5l2.5 31.2l3 21l4.2 16.8l2.3 5.7l4 7.5l6.7 8l8 5.8l5 2.5l9 3.2l13.8 3.3l26.5 3.5l27.5 2l42.7 1.7l125.5 2l-0 -12l-52.3 -3.2l-44.2 -4.3l-36 -5.2l-27.5 -6l-15 -4.5l-15.2 -6l-16.5 -9l-12 -9.3l-10.3 -10.7l-9.7 -14.3l-7.3 -14.7l-6 -16.5l-7 -27.2l-6.2 -36.8l-4.5 -39.2l-4 -53.8z"/>
<path fill="#2f81fa" d="M999.4 75.4l0.5 50l1.7 70.2l1.8 37.5l2.2 28.5l3.3 23.2l4.7 18.3l5.3 11.2l3.5 5l4.2 4.5l8.5 6l5.8 2.8l8.5 3l19.7 4.2l23 2.8l33.8 2.2l39.9 1.5l118 2l0 -12l-51.5 -3l-44.7 -4.2l-35 -5l-31 -6.8l-16.7 -5.2l-12.3 -5l-14 -7.5l-8.2 -5.8l-6.3 -5.2l-10.2 -11l-9.3 -13.8l-8 -16.7l-5.5 -15.8l-6.5 -25.7l-6.5 -39l-5 -46.2l-3.2 -45z"/>
<path fill="#2d87f6" d="M999.4 75.4l1 68l1.5 53l2 40.2l2.5 28.2l3.7 23.5l3.8 13.5l6.2 13l4 5.3l3.5 3.5l6.5 4.7l6.8 3.5l12.5 4.3l18.7 3.7l21.3 2.5l28.2 2l42.7 1.8l119.5 2l0 -11.5l-47.2 -2.8l-51 -4.7l-36 -5.3l-29.2 -6.5l-19.3 -6.2l-16 -7.3l-10.7 -6.5l-12 -9.7l-10.3 -11.5l-8.2 -12.8l-7.3 -15.2l-6 -17.3l-6.5 -26.2l-5.7 -34.5l-5.3 -47.7l-3.5 -47z"/>
<path fill="#2d8ef1" d="M999.4 75.4l1.2 72.5l1.5 49.5l2 38.4l2.5 27.8l3.5 22.2l4 14.8l5.5 12l4.3 6l5 5l8.5 5.7l13.7 5.5l16.3 3.8l24.5 3.2l30.2 2.3l40.7 1.7l121 2.3l0 -11.3l-49.5 -3l-48.5 -4.5l-35 -5l-27.9 -6l-18.8 -5.7l-15 -6.3l-11.7 -6.5l-13.5 -10.2l-10.8 -11.5l-8.7 -13l-7.8 -16l-5.7 -16.3l-6.5 -25.7l-6.3 -37.2l-5.2 -48.5l-3.3 -46z"/>
<path fill="#2995ed" d="M999.6 75.4l0.7 54.2l1.8 62.5l2 39.7l2.7 30.8l3.8 23.2l4.2 15l2.3 5.5l4 7.3l4 5.2l3.7 3.8l10 6.7l14.3 5.5l21.5 4.5l20.7 2.5l31.3 2.3l42.4 1.7l114.8 2l-0 -11l-55.3 -3.2l-42.5 -4l-36.7 -5.3l-27.7 -6l-15.8 -4.7l-14.5 -5.8l-14 -7.5l-8.2 -5.7l-7 -6l-9.8 -10.8l-8.7 -13.2l-6.3 -12.8l-7.5 -21.2l-3.5 -13.2l-3.7 -17.8l-4.8 -30l-4.7 -43.5l-3.8 -50.7z"/>
<path fill="#259be8" d="M999.6 75.4l2.5 111.7l2 40.7l2.7 31.8l3.8 24l4.2 15.5l2.8 6.7l3.2 6l3.8 5.3l4 4.2l5 4l6.2 3.8l13.5 5.2l16.3 3.8l21.7 3l31 2.5l37.5 1.7l124 2.5l-0 -10.7l-54.3 -3.3l-45.2 -4.2l-35 -5l-28 -6l-17.2 -5.3l-15.3 -6.2l-12.2 -6.8l-13.3 -10l-6.7 -6.7l-5 -6l-8.8 -13.5l-8 -17.5l-5.2 -15.8l-6.5 -27.2l-5.8 -36.2l-4.5 -42.3l-3.5 -49.7z"/>
<path fill="#23a0e5" d="M999.9 75.4l0.7 53.5l2 66l2.3 39.9l2.5 26l3.2 20.5l4.5 16.8l2.5 6.2l3.8 7l7.5 9.3l5.2 4.2l5.8 3.5l13.7 5.5l15.8 3.8l22.7 3.2l34.5 2.8l38.7 1.7l58 1.5l60.5 0.8l0 -10.5l-53 -3l-44 -4l-39 -5.5l-26.7 -5.8l-22.7 -7.2l-15.8 -7.3l-12.2 -7.7l-9.5 -8l-9 -10l-8.8 -13.3l-7.2 -15.2l-6.5 -19l-6.8 -28.7l-5 -31.5l-4.7 -44l-3.8 -51.5z"/>
<path fill="#1fa6e2" d="M999.9 75.4l1.2 68.7l1.8 52l2.2 38.5l2.5 25.5l3.3 20.2l4.5 16.8l6 13l3.2 4.7l4.5 5l5.5 4.5l5.3 3.3l7.5 3.5l7.2 2.5l15.8 3.7l22.5 3.3l29.7 2.5l41.2 2l120 2.5l0 -10.3l-55.2 -3.2l-39 -3.5l-32.8 -4.3l-14.4 -2.5l-20.5 -4.5l-20.5 -6.2l-14.3 -6l-15 -8.8l-10 -8l-10 -10.7l-9 -13.5l-7 -14.5l-6.2 -17.8l-4 -15l-3.5 -16.4l-4.8 -30l-4.7 -43.8l-3.8 -53.2z"/>
<path fill="#1aacdd" d="M999.9 75.4l1.2 63.2l1.8 53l2.2 39.5l2.5 26.2l3.8 23.3l4.5 16.2l5.5 12l3.7 5.5l5 5.5l9.3 6.8l7.7 3.7l8.5 3l17 4l23.3 3.3l34.7 2.7l38.2 1.8l56 1.5l59 0.7l0 -10l-57.5 -3.2l-45.2 -4.3l-33.3 -4.7l-29.9 -6.5l-16.8 -5.3l-12.7 -5.2l-13.3 -7.3l-12.2 -9.2l-10.3 -10.8l-9.2 -13.5l-7 -14.2l-6.8 -19l-3.2 -12l-4 -18.5l-5.5 -35.5l-4.3 -40.5l-3.7 -52.2z"/>
<path fill="#13b1d7" d="M1000.1 75.4l1 58l1.7 54l2.5 43.7l3 29.5l4 22.5l4.3 14.2l5.5 11.5l4.2 6l4.8 5l10 7l13.7 5.8l17.3 4.2l26.7 3.8l31.5 2.5l36.7 1.7l52.5 1.5l64.3 1l-0 -9.7l-56.3 -3.3l-46 -4.2l-33.7 -4.8l-29.2 -6.2l-15 -4.5l-14.5 -5.8l-15.5 -8.5l-13 -10.2l-10.5 -11.8l-7.8 -12l-6.5 -13.5l-7 -20.2l-6.7 -29l-5 -32l-4.5 -42.2l-3.8 -54z"/>
<path fill="#07b5d0" d="M1000.1 75.4l1.2 62.5l1.8 51l2.2 38.9l2.8 28.3l3.7 22.7l5.3 18.3l5.7 11.7l5 6.8l4.3 4.2l10.2 7l15 6l19.8 4.5l22.2 3l30.8 2.5l41.9 2l53.8 1.5l58 0.8l-0 -9.5l-48 -2.5l-47 -4l-39.5 -5.3l-31 -6.5l-15.7 -4.7l-17 -7l-15.3 -9l-9 -7.3l-11 -12l-9.2 -14.5l-7 -15.5l-6.3 -19.2l-6.7 -30.7l-5 -34.3l-4.5 -46l-3 -43.7z"/>
<path fill="#00b9c8" d="M1000.4 75.4l1 57.5l2 57.5l2.2 37.4l3.3 31.5l3.7 21l5.3 17.3l3.5 7.5l3.7 6l8 8.7l8.3 5.8l6.5 3.2l8.7 3.3l18.5 4.5l24.8 3.5l30 2.5l40.2 2l50.7 1.5l63 1l0 -9.3l-50.2 -2.7l-41.8 -3.5l-37.7 -4.8l-27.7 -5.2l-20.3 -5.5l-16.5 -6.3l-15.5 -8.2l-12.2 -9.3l-9 -9.2l-5 -6.5l-5.3 -8.3l-6.7 -13.7l-7.3 -20.8l-6.5 -27.7l-5.2 -33.5l-4.5 -42.7l-3.8 -54.5z"/>
<path fill="#06bcbf" d="M1000.4 75.4l1 52.5l2 58.5l2 34.9l3 31.8l4 24.2l5 17.5l6 12.5l4.2 6l4.8 5l9.7 7l13.8 6l20 5l22.2 3.3l27.8 2.5l42.4 2.2l115.5 2.8l0 -9.3l-48.7 -2.5l-47.5 -4l-42.5 -5.7l-29 -6.3l-19.5 -6.2l-16 -7.3l-13 -8.2l-8.2 -7l-10 -11.3l-8 -12.5l-7.8 -17l-6 -18.5l-6.7 -30.7l-5 -34.5l-4.5 -46.5l-2.8 -44z"/>
<path fill="#16bfb7" d="M1000.4 75.4l1.5 65.7l1.7 46.8l2.3 36.9l3.2 31.5l3.5 20.3l5 17.5l2.5 6l4.3 7.7l4.5 6l4.7 4.8l9.3 6.5l7.7 3.7l9.3 3.3l16.7 4l22 3.2l30.8 2.8l37.2 2l55.2 1.7l62 1l0 -8.7l-51 -2.8l-47 -4l-36.2 -4.7l-27.7 -5.5l-16.3 -4.5l-17.7 -6.8l-14 -7.5l-6.3 -4.2l-7.2 -6l-5.5 -5.5l-6 -7.3l-7.5 -11.7l-7.3 -15.5l-6.5 -19.8l-6.7 -30.4l-5 -34.3l-4.5 -46.2l-3 -46z"/>
<path fill="#25c2ae" d="M1000.6 75.4l1 52.2l2 56.5l2.7 44l3 27.7l4 22.3l5 16.5l5.8 11.7l4.5 6.3l4.2 4.5l9 6.7l12.8 6l17.7 5l24.5 4l35.8 3.3l38.2 2l113 2.7l-0 -8.7l-45.8 -2.3l-49.2 -4l-34.3 -4.2l-30.7 -5.8l-19.2 -5.2l-16.5 -6.3l-15 -8l-12.3 -9.2l-10.7 -11.5l-8.5 -12.8l-7.8 -16.5l-6 -18l-6.7 -29.7l-5.3 -35.5l-4.5 -46l-3 -47.7z"/>
<path fill="#2ec4a5" d="M1000.6 75.4l1.2 56.7l2 53.5l2.5 39.5l3 28.5l4.3 23.7l5 16.5l5.7 11.8l5.5 7.5l4.8 4.7l9.2 6.5l6.5 3.3l11 4l18 4.2l20 3l29.5 2.8l40.2 2.2l53.8 1.8l61 1l-0 -8.3l-51.8 -2.7l-47.5 -4l-34.7 -4.5l-27.2 -5.3l-18.3 -5l-18.7 -7.2l-15.5 -8.8l-12 -9.7l-10.8 -12.5l-7 -11.3l-7.2 -16l-6.5 -20.5l-6 -27.7l-5 -34.5l-4 -40.5l-3.5 -52.7z"/>
<path fill="#34c79b" d="M1000.9 75.4l1 52.2l2 54.3l2.2 37.2l3.5 34l4 22.5l5.3 17.5l6 12.2l4.5 6.3l4.5 4.7l10.2 7.5l12 5.5l9.5 3l11.8 2.8l22.5 3.5l28.7 2.7l39 2.3l51 1.7l65.2 1.3l0 -8.3l-54 -2.7l-47 -4l-36 -4.8l-26.4 -5.2l-16.3 -4.5l-17.7 -6.8l-13.5 -7.2l-7.3 -5l-6.5 -5.5l-9.2 -10l-9.3 -14l-7.7 -17l-6 -18.8l-6.8 -31.2l-4.5 -31.5l-4.5 -46.5l-3 -48.2z"/>
<path fill="#3dca90" d="M1000.9 75.4l1.2 56.2l2.3 56.8l2.5 36.9l3.5 30.8l5 24.7l4.7 14l6.8 12.5l3.5 4.5l5.2 5.3l3.8 3l7.7 4.7l7.8 3.5l8 2.8l17.7 4.2l21.8 3.3l29.5 2.7l39.7 2.3l62.2 2l50 0.7l0 -7.7l-48.7 -2.5l-49.3 -4l-32.5 -4l-30.9 -5.8l-18.5 -5l-17.3 -6.5l-14.5 -7.7l-12.2 -9.3l-10.5 -11.2l-8.8 -13.3l-8 -17.5l-6.2 -19.7l-6 -27.7l-5 -34.8l-4 -41l-3.5 -53.2z"/>
<path fill="#4bcb84" d="M1000.9 75.4l1.5 60l2 49.5l2.5 37.7l3.7 33l4 20.7l5 16l6 12l4.5 6.3l5.3 5.5l5.7 4.5l5.8 3.5l7.5 3.5l9.2 3.2l19 4.5l22.3 3.3l33.7 3l37.2 2l53.5 1.7l54.5 1l0 -7.7l-43 -2l-49.2 -3.8l-39.8 -4.7l-30.7 -5.8l-17.5 -4.7l-19.5 -7.5l-15.7 -9l-11.3 -9.3l-9.2 -10.5l-8.5 -13.5l-7.8 -17.7l-6 -19.8l-6 -28.9l-4.5 -32.3l-4.2 -45l-3 -48.7z"/>
<path fill="#5bcc77" d="M1001.1 75.4l1.2 56l2 50l2.3 35.2l3.2 31.5l4 23.2l5.5 19l3 7l3.8 6.8l8 10l10 7.7l13.5 6.5l18.2 5.3l25.3 4.2l27 2.8l40.4 2.5l47.3 1.7l68 1.5l-0 -7.5l-49.5 -2.5l-52.3 -4.2l-35 -4.5l-28.2 -5.5l-15.5 -4.3l-18.5 -7l-14.2 -7.7l-12.3 -9.5l-10.2 -11.3l-8.5 -13.2l-7.3 -16l-6.2 -19.8l-6 -27.7l-5 -35l-4.8 -51.2l-2.7 -44z"/>
<path fill="#6bcd69" d="M1001.1 75.4l1.5 59.5l2.5 56.7l2.7 36.5l3.3 26.5l4.7 23.2l5.3 15.5l6.5 12l4.2 5.5l4.8 4.8l10.7 7.5l7.3 3.5l11.2 4l18 4.2l23.8 3.5l30.2 2.8l34.7 2l57.5 2l53.8 1l-0 -7.3l-55.8 -2.7l-43 -3.5l-33 -4l-31.2 -5.8l-17 -4.5l-18.2 -6.7l-13.8 -7.3l-12.7 -9.5l-10.8 -11.5l-8.5 -13l-7 -15l-7 -21.7l-6.2 -29.5l-4.8 -34l-4.2 -45.5l-3 -49.2z"/>
<path fill="#7ecc5b" d="M1001.4 75.4l1 47.5l2.5 61l2.7 38.9l3.3 28l3.7 20.3l3 11.2l3 8.5l5.8 11.5l5 7l4.7 5l4.5 3.8l7 4.5l14.3 6.2l16.5 4.5l25.5 4.3l33.7 3.2l39 2.3l107.2 3l0 -7l-54.2 -2.8l-41.3 -3.2l-39.5 -4.8l-28.2 -5.2l-17 -4.5l-20 -7.5l-12.5 -6.8l-7.2 -5l-6.8 -5.7l-8.5 -9.3l-6 -8.5l-3.7 -6.5l-7.5 -17l-6.3 -20.5l-5 -23.4l-5.5 -38.8l-4.5 -49.7l-2.7 -44.5z"/>
<path fill="#90ca4d" d="M1001.4 75.4l1.2 51.2l2.5 58.3l2.8 37.9l3.2 27.5l4.3 22.3l5.5 17.5l4.2 9l3.8 6l3.5 4.5l5.5 5.5l10 7l14 6.2l19.5 5.3l23 3.7l29.7 3l41 2.5l56.2 2l52.5 1l0 -6.7l-48.7 -2.3l-48.8 -3.7l-35.7 -4.3l-31.2 -5.7l-18.5 -5l-16.5 -6.3l-13.3 -7l-12.7 -9.5l-9.5 -10l-9.5 -14.2l-7.3 -15.8l-6.2 -19.5l-6.3 -28.9l-5.2 -37.8l-4.3 -47.2l-2.7 -46.5z"/>
<path fill="#a1c840" d="M1001.4 75.4l1.7 61.7l2 44.5l2.8 38.5l3.5 29.7l5 25l5.2 15.8l4 8.2l3.3 5.3l8.5 9.7l5.2 4.3l5.5 3.5l14.5 6.5l18.3 5l22 3.7l34.2 3.5l36.7 2.3l53.5 2l56.5 1.2l0 -6.5l-47.2 -2.2l-49.8 -3.8l-39.5 -4.7l-28.2 -5.3l-17.7 -4.7l-18.5 -7l-14.5 -8l-12 -9.5l-8.3 -9l-6 -8.5l-3.7 -6.5l-7 -15.8l-5.8 -18.2l-6.2 -29.2l-4.5 -31.8l-4.8 -51.2l-2.7 -48.5z"/>
<path fill="#b2c534" d="M1001.6 75.4l1.5 57.7l2.2 49.5l2.8 37.5l3.5 29.2l5 24.8l5.2 15.7l4.3 8.8l3.5 5.5l3.5 4.5l5.7 5.7l5.5 4.3l6.3 3.7l12.7 5.5l18.3 5l23.7 4l31.8 3.3l40.7 2.5l54.7 2l51.3 1l-0 -6.3l-49.8 -2.2l-49.2 -3.8l-37.5 -4.5l-26.2 -4.7l-19.3 -5l-18.2 -6.8l-14.5 -7.7l-11.5 -8.8l-10.3 -11l-8.5 -13l-7.5 -16.5l-6 -19l-6 -27.9l-5 -35.8l-4.2 -46.7l-3 -50.5z"/>
<path fill="#c3c22b" d="M1001.6 75.4l1.7 60.5l2.3 47.7l3 39l3.5 27.7l4.7 23l5.3 15.8l3 6.5l4.5 7.5l4.7 6l4 4l6 4.7l6.5 4l13.3 5.8l18.2 5l23.5 4l31.3 3.2l39.4 2.5l44.3 1.8l63 1.5l-0 -6l-52.5 -2.5l-46 -3.5l-39.8 -4.8l-24.7 -4.5l-20.2 -5.2l-18 -6.8l-12.8 -6.7l-7.2 -5l-6.3 -5.3l-9 -9.7l-5 -7l-4.2 -7.3l-4 -8.2l-4.5 -11.5l-6.3 -22l-5.2 -27.2l-4.3 -32.5l-4 -45.3l-2.7 -49.2z"/>
<path fill="#d1bf27" d="M1001.9 75.4l1.2 49.5l2.3 51l3.2 43.9l3.3 26.8l5.2 26l5.3 15.7l3 6.5l5 8.3l3.5 4.5l6 6l11.7 8l14.8 6.2l16.7 4.5l23.3 4l30.7 3.3l38.5 2.5l50.2 2l58 1.2l0 -5.5l-55.2 -2.7l-45.5 -3.5l-37.5 -4.5l-29.5 -5.5l-18.2 -5l-16.3 -6.3l-7.5 -3.7l-8.5 -5.3l-11.5 -9.5l-9.7 -11.5l-4.5 -7l-4.5 -8.5l-4.3 -10l-3.7 -11l-4.3 -16l-5.2 -27.4l-4.5 -35.3l-4 -47.5l-2.5 -44.2z"/>
<path fill="#dfbc2a" d="M1001.9 75.4l1.7 59l2.3 46.5l2.7 36.2l3.8 30.5l5 24.2l5.2 15.8l4.5 9.2l4 6.3l7.8 8.7l5.5 4.5l5.7 3.8l14.3 6.5l19.5 5.5l25 4.2l34.5 3.5l36.2 2.3l51.5 2l52.7 1.2l0 -5.5l-49.7 -2.2l-42.3 -3l-37.5 -4l-31.7 -5.3l-22 -5.5l-17.2 -6.2l-14 -7.3l-12.5 -9.2l-10.5 -11.3l-4.8 -6.7l-4.7 -8.3l-7.3 -17l-6.2 -21.5l-5.8 -29.9l-4.5 -35.8l-3.7 -44.7l-2.5 -46.5z"/>
<path fill="#ebba31" d="M1002.1 75.4l1.2 48l2.5 54l3 39.5l3.8 29.9l4.7 23.3l5.8 17.2l4 8.3l4.2 6.7l8.8 9.8l11.2 8l14.5 6.5l20 5.5l21.8 3.7l32.7 3.5l38.5 2.5l57.5 2.3l47.5 1l-0 -5l-44 -2l-50.5 -3.5l-37 -4l-32.5 -5.5l-19.7 -5l-17.3 -6.3l-16 -8.5l-10.7 -8.2l-10 -10.8l-4.8 -6.7l-4.7 -8.3l-7.3 -17l-6.5 -22.7l-5.2 -27.5l-4.3 -33l-4 -46.7l-2.7 -49z"/>
<path fill="#f6ba3c" d="M1002.1 75.4l1.5 50.5l2.2 48l3 40l3.8 30.7l5.5 26.5l5.5 16l3.5 7.2l4.5 7.3l3.7 4.7l5.8 5.8l11.5 8l12.7 5.7l18 5.3l25 4.5l32.3 3.5l37.4 2.5l47.8 2l58 1.5l-0 -5l-51.5 -2.3l-45.5 -3.2l-36.5 -4l-29.7 -5l-21 -5.3l-19 -7l-13.5 -7.2l-11.5 -8.8l-9.8 -10.5l-9 -14l-7.7 -18l-6.3 -21.7l-5.2 -27.2l-4.8 -37.5l-3.5 -41.5l-2.7 -51.5z"/>
<path fill="#febe3c" d="M1002.4 75.4l1.5 52.7l2.7 54.3l2.8 33.7l3.7 29.2l4.5 22l6 18.3l6.8 13l8.5 10.5l5.7 5l6.3 4.2l7 3.8l7.7 3.2l19.8 5.8l18.7 3.5l28.8 3.5l44.7 3.2l53.5 2.3l52.7 1.2l0 -4.5l-54.7 -2.5l-42 -3l-37 -4l-30 -5l-20.2 -5l-17 -6l-13.5 -6.7l-8.3 -5.5l-5.7 -4.8l-10 -10.7l-8.3 -12.8l-7.7 -17.5l-6.8 -23.2l-5.2 -27.5l-4.5 -35.5l-4 -48.5l-2.5 -46.7z"/>
<path fill="#fec537" d="M1002.4 75.4l2 60.5l2.7 50.2l3.5 38.5l3.5 24.2l5.3 23l6 16.3l3.5 6.7l4.2 6.5l9.3 10l5.5 4.3l6.5 4l15 6.5l17 4.7l25.5 4.5l29.7 3.3l40.5 2.7l47 2l54.7 1.5l-0.2 -4.5l-44.5 -1.7l-54.8 -3.8l-36.5 -4l-30.7 -5.2l-18.7 -4.8l-16.8 -6l-14.5 -7.5l-11.5 -8.5l-10.7 -11.5l-8.8 -13.7l-6.5 -14.8l-6.2 -20.5l-6 -30.2l-4.3 -32.7l-4.2 -50.5l-2.8 -49.5z"/>
<path fill="#fdcc32" d="M1002.6 75.4l1.7 56l2.8 51l3 34.7l4 29.2l4.7 21.8l5.8 16.7l7.2 13.5l5 6.5l5.8 5.8l6.5 5l5.7 3.5l12.8 5.7l21 6l22.5 4l31.2 3.5l35.2 2.5l50 2.3l56.3 1.5l-0 -4l-48.5 -2l-48.3 -3.3l-39.7 -4.2l-29.7 -5l-20 -5l-19 -7l-13 -7l-11.8 -9l-4.7 -4.8l-5.8 -7l-8.2 -13.5l-7.3 -17.5l-5.7 -20.5l-5 -26.2l-4.3 -33.2l-3.7 -44l-3 -56z"/>
<path fill="#fad42e" d="M1002.6 75.4l2 57l2.5 46l3 35.5l4.5 32.7l4.7 21.2l5.8 16.5l7.5 13.8l4 5.2l5.5 5.8l10.7 8l7.5 4l7.8 3.2l19.5 5.8l23 4.2l27.2 3.3l44.2 3.2l51.5 2.3l50.3 1.2l-0 -3.5l-57 -2.5l-45.8 -3.2l-36.2 -4l-29.2 -5l-20.5 -5.3l-16.8 -6.2l-12.7 -6.8l-6.5 -4.5l-7 -6l-5 -5.2l-5.3 -6.8l-8.2 -14.2l-7.3 -18.8l-5.2 -20l-4.5 -24.7l-4.8 -39.5l-3.5 -44.7l-2.5 -48z"/>
<path fill="#f7dc2a" d="M1002.9 75.4l2 57.7l2.7 48.3l3.5 37.9l3.5 24.5l4.8 21.8l6 17.5l3.7 7.7l4.5 7.3l4.8 6l5 5l6 4.7l7.2 4.5l13.5 6l20 5.8l20.3 3.7l28.7 3.5l35.2 2.8l58.5 2.7l51 1.3l0 -3l-47.5 -2l-50 -3.3l-34.7 -3.5l-28.2 -4.2l-23.3 -5.3l-19.2 -6.5l-16.5 -8.5l-5.8 -4l-6.7 -5.7l-5.3 -5.5l-5.2 -6.8l-5 -8l-4 -8l-6 -15.7l-5.8 -22l-5 -28.7l-4 -34.8l-3.7 -49.7l-2.3 -43.5z"/>
<path fill="#f5e427" d="M1003.1 75.4l1.7 52.2l2.8 49.3l3.2 36.7l3.8 27.2l5 23.3l6.5 18.7l4.2 8.5l4 6.3l5 6.2l4.3 4.3l6.2 5l6.3 4l14.7 6.7l18.8 5.5l22.5 4.3l31.2 3.7l36.2 2.8l46.5 2.2l57.8 1.8l-0 -2.8l-52.5 -2.2l-42.8 -2.8l-34 -3.2l-32.4 -4.8l-23.3 -5.2l-19.7 -6.8l-15 -7.7l-11.3 -8.5l-5.7 -5.8l-5.3 -6.5l-4.7 -7.2l-4 -7.5l-3.5 -8l-4.3 -12.3l-4.5 -17.2l-5 -27.7l-4.2 -36l-4 -53.3l-2 -43.2z"/>
<path fill="#f5ec22" d="M1003.4 75.4l1.7 51.7l3 51.5l3.3 35.3l4.2 29.2l4.5 20l6.5 18.7l4 8l4.3 6.8l5 6.2l4.7 4.8l6.3 5l6.7 4.2l15 6.8l19 5.5l24.3 4.5l32.2 3.7l37.5 2.8l48 2.2l50.2 1.5l-0.2 -2.5l-48.3 -1.7l-51.2 -3.3l-33.3 -3.2l-31.7 -4.8l-22.7 -5.2l-16.3 -5.5l-13.5 -6.5l-6 -3.8l-8 -6.2l-6.5 -6.5l-5 -6.3l-5 -7.7l-4 -7.8l-7 -18.5l-5 -19.5l-4.2 -23.7l-4 -32.7l-3.8 -47l-2.7 -56z"/>
<path fill="#f7f51b" d="M1003.6 75.4l1.7 50l2.8 47.2l3.2 36.3l4 28.7l5.3 24l6.5 18.7l4.2 8.5l3.8 6l4 5.3l6.2 6.5l5.5 4.5l6.5 4.2l14.8 7l21 6.3l20.7 4l27.3 3.5l39.4 3.2l49 2.5l54.3 1.8l-0 -1.8l-55.5 -2.2l-55.8 -3.8l-32.2 -3.5l-22.2 -3.5l-20.3 -4.5l-13.7 -4.2l-8.3 -3.3l-13 -6.7l-7.5 -5.3l-5.7 -5l-6.3 -6.7l-3.7 -5l-8 -14l-6.8 -17.8l-5.2 -20.5l-5 -29.4l-3.5 -31l-3.5 -46.5l-2.5 -53.5z"/></g>
<line x1="1004.1" y1="334.6" x2="1283.9" y2="334.6" stroke="#fff" stroke-width="2.4" stroke-dasharray="10.5 8"/>
</g>
<rect x="997.5" y="75.3" width="286.4" height="276" fill="none" stroke="#262626" stroke-width="0.9"/>
<path d="M1045.2 75.3v2.6M1045.2 351.3v-2.6M1093 75.3v2.6M1093 351.3v-2.6M1140.7 75.3v2.6M1140.7 351.3v-2.6M1188.4 75.3v2.6M1188.4 351.3v-2.6M1236.2 75.3v2.6M1236.2 351.3v-2.6M997.5 102.9h2.6M1283.9 102.9h-2.6M997.5 130.5h2.6M1283.9 130.5h-2.6M997.5 158.1h2.6M1283.9 158.1h-2.6M997.5 185.7h2.6M1283.9 185.7h-2.6M997.5 213.3h2.6M1283.9 213.3h-2.6M997.5 240.9h2.6M1283.9 240.9h-2.6M997.5 268.5h2.6M1283.9 268.5h-2.6M997.5 296.1h2.6M1283.9 296.1h-2.6M997.5 323.7h2.6M1283.9 323.7h-2.6" stroke="#262626" stroke-width="0.9" fill="none"/>
<clipPath id="cbl"><rect x="1408" y="75.5" width="285.9" height="275.9"/></clipPath>
<g clip-path="url(#cbl)"><rect x="1408" y="75.5" width="285.9" height="275.9" fill="#3e26a8"/>
<g filter="url(#bl)"><path fill="#4332c9" d="M1412.4 124.1l1.2 30l2.8 34.7l4 29.3l4.2 19l4.8 14.2l4 8.8l3.7 6.5l8.8 11.2l11 9.5l11 6.7l16.7 7.3l20 6l25 5.2l26.5 4l39.2 4.3l46 3.5l52.5 2.7l-0.2 -0.5l-41.3 -2l-51 -3.7l-36.2 -3.8l-31.2 -4.5l-22.5 -4.5l-25.3 -7.2l-9.5 -3.8l-9.2 -4.5l-11 -7l-5.5 -4.5l-6.3 -6.2l-7.5 -10l-6.7 -13l-5.8 -16.7l-4.2 -19l-4 -29l-2.5 -30zM1409.6 75.6l1 47.7l1.7 45.3l2.3 32.5l3.2 26.9l4.3 20.8l5.5 16.2l7 13l5.2 6.8l5.5 5.5l6 4.7l6.8 4.3l15.7 7.2l21.8 6.5l28.5 5.5l30.7 4l38.7 3.5l52.3 3.3l48 2l-0.3 -1.5l-59.5 -2.8l-59.2 -4.5l-31 -3.5l-25.7 -4l-23.8 -5.2l-18.7 -6l-15.8 -7.5l-12 -8.5l-7 -7l-3.7 -4.8l-4.5 -7l-3.8 -7.5l-5.5 -15.5l-4.5 -20.2l-3.2 -24l-2.5 -30.2l-2 -42.3zM1408.9 75.6l0.5 51.2l1.5 54.3l2 35.5l2.5 24.2l3.5 19.5l5 16.2l3.2 7l4 6.5l8.5 9.5l11 7.8l8.8 4.2l11.7 4.3l16.5 4.2l29.5 5l35 3.8l34 2.5l48.2 2.5l59.5 2l0 -1.8l-68 -2.7l-54.2 -3.5l-36 -3.5l-23.5 -3.3l-24 -4.7l-19.2 -5.8l-15.3 -7l-11.2 -8l-5.5 -5.5l-5 -6.5l-6.3 -11.7l-4.7 -14l-4.5 -22.3l-2.8 -23.9l-2.2 -34.8l-1.5 -43zM1408.1 75.6l0.2 221.9l1 14.5l2 11.5l2.5 6.3l4.5 5.2l6.8 3.8l11.2 3l18.3 2.2l23.7 1.5l79.5 2l136 1l-0 -10.7l-70 -2.3l-53.5 -2.7l-45.5 -3.8l-34.2 -4.7l-16.3 -3.5l-15.2 -4.8l-11 -5l-10.5 -7.2l-5.3 -5.3l-3.5 -4.5l-3.5 -5.7l-3 -6.5l-4.5 -14.5l-3.5 -19.8l-2.5 -26l-1.7 -34.2z"/>
<path fill="#4639d9" d="M1408.1 75.6l0.2 210.4l1 17.5l2 14l3.5 9.5l3.8 4.8l7.5 4.7l9.5 3l15.2 2.5l23.5 2l74.8 2.5l144.7 1.5l-0 -10l-71.3 -2.2l-57.7 -3l-39.2 -3.3l-35 -4.7l-18.5 -4l-13.5 -4.3l-12.3 -5.7l-9.5 -6.8l-4.5 -4.5l-4.2 -5.5l-5.3 -9.7l-5.2 -16.5l-3.5 -20.3l-2.8 -30.9l-1.5 -33.3z"/>
<path fill="#473fe3" d="M1408.1 75.6l0 196.2l0.5 15.2l1.2 17.8l2.3 13l3.5 8.5l4.2 5l8 4.7l12.3 3.5l15.2 2.3l21 1.7l32 1.5l48.7 1.3l136.8 1.5l-0 -9.8l-62.5 -1.7l-57.5 -2.8l-45.5 -3.5l-35 -4.5l-18.5 -3.7l-16.5 -5l-12.7 -6l-9 -6.5l-7.5 -8.3l-3.5 -5.5l-3.8 -8l-4.5 -15l-3.5 -21l-2.2 -24.7l-1.8 -37z"/>
<path fill="#4746eb" d="M1408.1 75.6l0 191.2l0.7 21.2l1.3 16l2 11.5l3.7 9.5l5.3 6l6.7 4l11.3 3.5l15.2 2.5l26.3 2.3l32.5 1.5l48.4 1.2l132.3 1.5l-0 -9.2l-78.5 -2.5l-52 -2.8l-44 -3.7l-28.7 -4l-18.8 -4l-14.2 -4.5l-11.8 -5.5l-10.2 -7.5l-4.5 -4.8l-4 -5.5l-5.8 -11.7l-4.7 -17l-3 -19.5l-2.3 -26.3l-1.5 -32.7l-1.2 -55.2z"/>
<path fill="#484df1" d="M1408.1 75.6l0 186.4l0.7 22.8l1.3 16.7l2.5 14l3.5 8.5l4.5 5.5l7.5 4.8l10.7 3.5l18 3l22.8 2l36.5 1.7l47.2 1.3l130.5 1.5l-0 -9l-62.8 -1.8l-62.2 -3l-39 -3l-34.5 -4.2l-21.5 -4.3l-15 -4.5l-12.2 -5.5l-9.8 -6.7l-5.2 -5.3l-3.5 -4.5l-6 -11.2l-4.3 -13.3l-3.7 -20.7l-2.5 -26.5l-1.8 -36.2l-1.2 -54.8z"/>
<path fill="#4854f6" d="M1408.1 75.6l0 182.4l0.7 23.8l1.3 17.5l2.7 15.5l3.3 8l4.5 5.7l3.5 2.8l5.2 2.7l10 3.3l19.5 3.2l22.8 2l36.2 1.8l46 1.2l130 1.5l-0 -8.5l-59 -1.7l-64 -3l-40 -3l-33.5 -4l-21.2 -4l-17.3 -5l-12.7 -5.8l-5.5 -3.5l-5.3 -4.2l-4.5 -4.8l-4 -5.5l-5.2 -10.5l-4.3 -14l-3.5 -20.5l-2.5 -28l-1.5 -32.2l-1.2 -54.5z"/>
<path fill="#475bfa" d="M1408.1 75.6l0 178.7l1 29.5l1.5 17.7l2.2 11.8l3.8 9.2l5 6l6.5 4.3l12.5 4.2l15.7 2.8l23.3 2.2l32.7 1.8l40 1.2l141.5 2l-0 -8.5l-68.5 -2l-52.5 -2.5l-43.5 -3.2l-34.7 -4.3l-18.3 -3.5l-17.5 -5l-13.2 -6l-9.5 -6.7l-7.5 -8.3l-6.3 -11.2l-3 -8.3l-2.2 -8.5l-3.3 -19.2l-2.2 -24.3l-1.8 -35.4l-1.2 -54z"/>
<path fill="#4563fc" d="M1408.1 75.6l0 175.4l1 30.5l1.5 18.3l2.2 12.2l3.8 9.5l4.5 5.8l5 3.7l4.5 2.3l7.2 2.5l16 3.2l23.5 2.5l35.5 2l48.7 1.5l132.3 1.8l-0 -8.3l-64.5 -1.7l-58.5 -2.8l-43 -3.2l-34.2 -4.3l-20.3 -4l-15.7 -4.7l-12 -5.5l-9 -6.3l-8.3 -9l-2.7 -4.2l-4.3 -9l-4.7 -16.5l-3.3 -21l-2 -23.5l-1.7 -39.5z"/>
<path fill="#426afe" d="M1408.1 75.6l0 172.2l1.2 36l1.5 16.2l2.5 12.5l4 9.3l5.8 6.5l8.2 4.7l13.5 4l17.8 2.8l22.5 2l33.7 1.7l40.7 1.3l134.3 1.7l-0 -7.7l-67 -2l-57.8 -2.8l-39.9 -3l-36.5 -4.5l-20 -4l-16.3 -5l-10.7 -5l-5.5 -3.5l-5.5 -4.5l-4 -4.2l-4 -5.5l-5.5 -11.3l-4.5 -15.7l-3 -18.8l-2.5 -29.5l-1.5 -35.2z"/>
<path fill="#3c71ff" d="M1408.1 75.6l0 169.2l1 32.5l1.5 19.2l2.5 14l4 10l4.5 5.8l3.7 3l5.5 3l11.5 3.7l15 2.8l28 2.7l72 3l136.5 2l-0 -7.7l-69.3 -2l-57.2 -2.8l-39.5 -3l-33 -4l-18.7 -3.5l-19 -5.5l-11.5 -5.2l-10.5 -7.5l-7.3 -8.3l-6.2 -11.7l-2.8 -8l-2.2 -9l-3.3 -20.8l-2.2 -27.2l-1.5 -34.7l-1.3 -63.5z"/>
<path fill="#3479fd" d="M1408.1 75.6l0 166.2l1.2 38l1.8 19.2l2.5 12.3l3.2 8l5.8 7.2l3.2 2.5l6.8 3.5l11.5 3.5l15.7 2.8l25.8 2.5l32 1.7l46.9 1.5l129.3 1.8l-0 -7.5l-58 -1.5l-61.8 -2.8l-44.9 -3.2l-35.3 -4.3l-19.5 -3.7l-15 -4.3l-13.2 -5.7l-6.8 -4.3l-4 -3.2l-7 -7.8l-3.5 -5.5l-3.5 -7.5l-4.2 -14l-3.5 -20.7l-2.3 -25.3l-1.7 -38.7l-1.3 -63z"/>
<path fill="#2f81fa" d="M1408.1 75.6l0 163.4l1.2 39l1.8 19.8l2.5 12.5l4 9.5l2.5 3.5l3.5 3.5l7.2 4.5l13.8 4.5l15.7 2.7l25.3 2.5l31 1.8l44.9 1.5l132.3 2l-0 -7.3l-60.3 -1.7l-61.2 -2.8l-44.5 -3.2l-33.2 -4l-21 -4l-15.5 -4.5l-13.8 -6.3l-9 -6.5l-7.7 -8.7l-6.5 -12.5l-4.5 -15.5l-3.3 -20.5l-2.2 -27l-1.5 -34.5l-1.3 -62.5z"/>
<path fill="#2d87f6" d="M1408.1 75.6l0 160.9l1.5 44l1.5 16l2.5 12.8l4 9.7l5.5 6.8l3.2 2.5l5.5 3l13.3 4.2l15.5 2.8l28.2 2.7l32.3 1.8l46.9 1.5l125.8 1.7l-0 -7l-62.8 -1.7l-60.5 -2.8l-41.2 -3l-34 -4l-20.2 -3.7l-17.5 -5l-12.8 -5.8l-9.5 -6.7l-7.2 -8l-3.8 -6l-3.5 -7.8l-4.5 -16l-3 -19.2l-2.2 -26.8l-1.5 -34.2l-1.3 -62.2z"/>
<path fill="#2d8ef1" d="M1408.1 75.6l0 158.4l1.2 40.8l1.8 20.5l2.7 14l4 9.5l4.5 5.7l6 4.5l7 3.3l6.3 2l17.5 3.5l23 2.5l27 1.7l45.9 1.8l138.8 2.2l-0 -7l-57.8 -1.5l-62.7 -2.7l-42.5 -3l-34.7 -4l-19.5 -3.5l-19.5 -5.5l-11.8 -5.3l-10 -7l-8 -9l-6.2 -12l-4.8 -16.5l-3 -19.2l-2.2 -26.5l-1.5 -34l-1.3 -62z"/>
<path fill="#2995ed" d="M1408.1 76.4l0 155.2l1.5 46l1.7 18.5l3 14l3.8 8.5l2.5 3.5l3.7 3.7l7.8 4.8l13.7 4.5l19 3.2l23.3 2.3l36 2l45.9 1.5l123.8 1.7l-0 -6.7l-60 -1.5l-57.8 -2.5l-43.4 -3l-35.8 -4l-22 -4l-18.2 -5.3l-12.5 -5.7l-8.8 -6.3l-7.5 -8.2l-2.7 -4.3l-3.8 -7.7l-4.2 -13.8l-3.5 -20.2l-2.5 -28.5l-1.5 -34l-1.3 -61.5z"/>
<path fill="#259be8" d="M1408.1 77.9l0 151.4l1.5 46.8l1.5 17l2.7 14.5l3.8 9.5l3.2 4.7l3.5 3.5l4.3 3l5 2.5l11.5 3.8l19.7 3.5l22.8 2.2l34.5 2l43.9 1.5l127.8 2l-0 -6.5l-62.3 -1.7l-61.5 -2.8l-44.2 -3.2l-31.5 -3.8l-21.2 -4l-17 -5l-11 -5l-9.8 -6.7l-4.7 -4.8l-4.8 -6.5l-5.5 -11.5l-3.7 -13.2l-3.3 -20l-2 -22.5l-1.7 -37.5l-1.3 -61.5z"/>
<path fill="#23a0e5" d="M1408.1 79.4l0 147.7l1.7 51.5l2 18.7l2.8 12l3.5 8l3 4.3l3.2 3.2l3.8 2.8l5.7 3l12.5 4l18.5 3.2l22.3 2.3l33.2 2l41.7 1.5l131.8 2.2l-0 -6.5l-71.3 -2l-54 -2.5l-38.4 -2.7l-33.3 -3.8l-23.2 -4.2l-17.3 -5l-12.5 -5.8l-8.5 -6l-4.7 -4.7l-3.5 -4.5l-2.8 -4.5l-3.7 -8.3l-4.3 -15l-3 -18.7l-2 -22.3l-1.7 -37.4l-1.3 -61z"/>
<path fill="#1fa6e2" d="M1408.1 80.9l0 143.9l1.7 52.5l2 19l2.8 12.3l4.5 9.7l5.5 6.3l9 5.5l13 4.2l18.2 3.3l24.8 2.5l34.5 2l42.9 1.5l126.8 2l-0 -6.3l-66.5 -1.7l-56 -2.5l-39.5 -2.8l-37.5 -4.2l-22.5 -4.3l-16 -4.7l-11.5 -5.3l-9.2 -6.5l-7.5 -8.2l-3 -4.8l-3.8 -8l-4.5 -15.5l-3 -18.7l-2.2 -26l-1.5 -33.5l-1.3 -60.5z"/>
<path fill="#1aacdd" d="M1408.1 82.1l0 140.7l1.7 53.2l2 19.3l2.8 12.5l3.7 8.7l3 4.3l3.5 3.5l9 5.5l10 3.5l15.8 3.2l26.2 3l31 2l46.2 1.8l130.8 2.2l-0 -6.2l-61.3 -1.5l-62.7 -2.8l-44.7 -3.2l-31.5 -3.8l-20.3 -3.7l-17.2 -5l-10.8 -4.8l-10.5 -7.2l-7.2 -8l-2.8 -4.3l-3.7 -7.7l-4.5 -15l-3.3 -19.8l-2 -22l-1.7 -36.9l-1.3 -60.5z"/>
<path fill="#13b1d7" d="M1408.1 83.6l0 137l1.7 54.2l1.8 18l3 14.2l4.2 9.8l2.5 3.5l3.8 3.7l3.7 2.8l5.8 3l14.5 4.5l19.2 3.2l23 2.3l28.8 1.7l47.7 1.8l126 2l-0 -5.8l-63.5 -1.7l-62 -2.8l-47 -3.5l-27 -3.2l-20.5 -3.8l-18.2 -5.2l-11.5 -5.3l-9.3 -6.5l-7.2 -8l-3.8 -6l-3.2 -7.2l-4.3 -14.8l-3 -18.5l-2.2 -25.7l-1.5 -33l-1.3 -60z"/>
<path fill="#07b5d0" d="M1408.1 84.9l0 133.7l0.7 33.7l1.3 24.8l1.7 16.5l2.5 12l2 5.7l3 5.8l6.3 7l9.2 5.5l14.3 4.5l19 3.2l22.5 2.3l32.7 2l49 1.7l121.5 2l-0 -5.7l-65.5 -1.8l-61.5 -2.7l-44 -3.3l-29.2 -3.5l-22.5 -4.2l-15.3 -4.5l-10.7 -4.8l-10.5 -7.2l-7.8 -8.8l-6 -11.5l-4.5 -15.2l-3 -18.5l-2.2 -25.5l-1.5 -33l-1.3 -59.7z"/>
<path fill="#00b9c8" d="M1408.1 86.4l0 130.2l0.7 34l1.3 25.5l2 18.2l3 13l3.5 8l5.7 7.3l6.3 4.5l5 2.5l8.7 3l18.3 3.7l21.2 2.5l28 2l47.7 2l134.3 2.5l-0 -5.7l-67.5 -1.8l-61 -2.7l-43.5 -3.3l-30.7 -3.7l-18.5 -3.5l-16.5 -4.8l-12.3 -5.5l-9.5 -6.7l-4 -4l-4.5 -6l-5.5 -11.3l-4.2 -15l-2.8 -17.2l-2.2 -25.5l-1.5 -32.7l-1.3 -59.3z"/>
<path fill="#06bcbf" d="M1408.1 87.6l0 127l0.7 34.7l1.3 25.5l1.7 17l3 14l4.3 9.7l6 7.3l9 5.7l11.2 4l18.8 3.8l24.7 2.7l30.5 2l53 2l121.5 2l-0 -5.5l-62.5 -1.5l-58.5 -2.5l-44 -3l-35.2 -4l-20.5 -3.7l-17.5 -5l-10.8 -4.8l-10.5 -7.2l-4 -4l-5 -6.8l-5.2 -11l-3.8 -13.2l-3.2 -20.3l-2 -23.2l-1.5 -32.5l-1.3 -59.2z"/>
<path fill="#16bfb7" d="M1408.1 89.1l0 123.5l0.7 35.2l1.3 26l2 18.7l2.5 11.8l2 5.7l2.5 5l3 4.3l3.5 3.5l4.5 3.2l5.2 2.8l15 4.7l17 3l26.8 2.8l33.5 2l40.2 1.5l126 2.2l-0 -5.2l-57 -1.5l-65.8 -2.8l-40.4 -2.7l-37.8 -4.3l-19.2 -3.5l-17.8 -5l-12.2 -5.5l-9.5 -6.7l-3.8 -3.8l-5 -6.7l-5 -10.3l-4.2 -15l-3 -19l-2 -23.2l-1.5 -32.2l-1.3 -58.8z"/>
<path fill="#25c2ae" d="M1408.1 90.4l0 120.2l0.7 35.7l1.5 29.8l2.3 18.7l3.2 12.8l3.3 7l2 3l5.2 5.5l4.8 3.2l5 2.5l14.2 4.5l18.5 3.3l24.3 2.5l37.5 2.2l41.4 1.5l121.8 2.3l-0 -5.3l-59.3 -1.5l-65 -2.7l-45.7 -3.3l-33.5 -4l-18.5 -3.5l-15.7 -4.5l-13.3 -6l-9 -6.5l-4.7 -5l-4.3 -6l-4.5 -9.5l-4.2 -14.7l-3 -19l-2.3 -27l-1.5 -36.2z"/>
<path fill="#2ec4a5" d="M1408.1 91.9l0 116.7l0.7 36.2l1.3 26.8l2.2 21l2.5 11.2l4.3 10.3l6.2 7.7l5.5 4l4.3 2.3l12.2 4.2l17.8 3.5l24.2 2.8l29 2l49.2 2l126.3 2.2l-0 -5l-68.8 -1.7l-57 -2.5l-39.7 -2.8l-32 -3.5l-21.7 -3.7l-19 -5.3l-12.3 -5.5l-9.7 -7l-4.8 -5l-3.2 -4.5l-5.5 -11.2l-3.8 -13l-3.2 -20l-2.3 -27l-1.5 -36z"/>
<path fill="#34c79b" d="M1408.1 93.1l0 113.5l1 44.2l1.2 23l1.8 16.2l3 14l2 5.5l2.7 5.3l6.3 7.2l4.5 3.3l5.7 3l11 3.7l17.5 3.5l23.5 2.8l32.8 2.2l42.4 1.8l130.3 2.5l-0 -5l-55.8 -1.3l-62.2 -2.5l-42.7 -2.7l-35.8 -3.8l-22.2 -3.7l-19.3 -5.3l-13.2 -6l-9.3 -6.7l-4.5 -4.8l-3.2 -4.5l-5.3 -10.5l-4.2 -14.7l-3 -18.8l-2.3 -26.7l-1.5 -35.7z"/>
<path fill="#3dca90" d="M1408.1 94.6l0 110.2l1 44.7l1.5 26.5l2.2 17.8l3.8 14l4.2 8l6 6.5l8 5l13.5 4.7l19.5 3.8l22.5 2.5l33.5 2.2l43.5 1.8l126.5 2.5l-0 -4.8l-58 -1.5l-66.3 -2.7l-43.4 -3l-31.5 -3.5l-21.3 -3.8l-17.2 -4.7l-13 -5.8l-9.8 -7l-4.5 -4.7l-3.7 -5.3l-5.3 -11l-4 -14.5l-2.7 -17.5l-2.3 -26.7l-1.5 -35.5z"/>
<path fill="#4bcb84" d="M1408.1 96.1l0 106.7l1 45.2l1.5 27l1.5 13.5l3 14.3l4 9.7l3 4.5l3.7 4l4.3 3.3l6.5 3.5l11.7 4l17.5 3.5l26.5 3l34.3 2.2l44.4 1.8l122.8 2.2l-0 -4.5l-60.3 -1.5l-61 -2.5l-38.7 -2.5l-36.5 -3.7l-23.5 -4l-14.5 -3.8l-15.2 -6.2l-9 -6l-8 -8.5l-6 -10.8l-4.8 -15.2l-2.7 -15.8l-2.5 -26.4l-1.5 -31.5l-1.3 -57.3z"/>
<path fill="#5bcc77" d="M1408.1 97.4l0 103.5l1 45.9l1.5 27.3l2.5 19.7l3 11.5l4.5 9.3l6 6.7l8 5.3l13.7 5l17.3 3.5l25.7 3l28.5 2l47 2l127 2.5l-0 -4.5l-62.5 -1.5l-55.5 -2.3l-43.2 -2.7l-34.3 -3.5l-24 -4l-15.5 -4l-8.2 -3l-7.8 -3.8l-8 -5.5l-4.5 -4.2l-4 -5l-5.5 -10.3l-4.2 -13.5l-3 -16.7l-2.5 -26.2l-1.5 -31.5l-1.3 -56.8z"/>
<path fill="#6bcd69" d="M1408.1 98.9l0 100.2l1 46.5l1.5 27.5l1.7 15.5l2.8 13l4 10l3.5 5.2l3 3.3l6 4.5l5.2 2.7l11.5 4l17 3.5l22.5 2.8l30.3 2.2l44.9 2l130.8 2.8l-0 -4.5l-64.8 -1.5l-55 -2.3l-42.7 -2.7l-32 -3.3l-20.7 -3.2l-19.5 -4.8l-7.8 -2.7l-7.5 -3.5l-9 -6l-7.2 -7.5l-6.3 -10.8l-3.2 -9l-2 -7.7l-2.5 -14.5l-2.3 -22.5l-1.7 -34.7l-1.3 -56.8z"/>
<path fill="#7ecc5b" d="M1408.1 100.4l0.2 113.7l1 36.5l1.5 24.5l2.3 17.2l3.2 12.5l3.8 8l6.5 7.8l4.7 3.5l6.8 3.5l10.2 3.5l20 4l24 2.7l32.8 2.3l41.4 1.7l69.3 1.8l58 0.7l-0 -4l-59.3 -1.5l-57.2 -2.2l-44.2 -2.8l-32.8 -3.2l-22.5 -3.5l-19.2 -4.8l-8.3 -3l-7.7 -3.7l-7.8 -5.3l-8 -8.5l-5.7 -10.2l-4.8 -15l-2.7 -15.5l-2.5 -26l-1.5 -31l-1.3 -56.2z"/>
<path fill="#90ca4d" d="M1408.1 101.6l0.2 110.7l1 37l1.5 24.7l2.3 17.5l3 12l4 8.8l3 4.2l4.2 4.3l3.8 2.7l6 3.3l12.2 4.2l17 3.5l28 3.3l28.8 2l46.9 2l123.8 2.5l-0 -4l-61.5 -1.5l-56.8 -2.3l-43.7 -2.7l-36.2 -3.8l-19.8 -3.2l-17 -4.3l-9 -3.2l-6.7 -3.3l-8.5 -5.7l-6.3 -6.3l-3.2 -4.5l-3.5 -6.5l-4.5 -13l-3.5 -18.5l-2.5 -25.7l-1.5 -31l-1.3 -55.7z"/>
<path fill="#a1c840" d="M1408.1 103.1l0.2 107.5l1 37.4l1.5 25l2.3 17.8l3.7 14.2l4 8l5.8 6.8l5 3.7l6.7 3.5l11 3.8l16.8 3.5l24.5 3l30.7 2.2l45 2l127.5 2.8l-0 -4l-56 -1.3l-64 -2.5l-40.2 -2.5l-37 -3.7l-20.3 -3.3l-17.2 -4.2l-12.5 -4.8l-7.3 -4l-4.7 -3.5l-8 -8.5l-5.5 -9.7l-3 -8.3l-2 -7.7l-2.8 -16l-2.2 -24l-1.5 -30.5l-1.3 -55.7z"/>
<path fill="#b2c534" d="M1408.1 104.6l0.2 104.2l1 38l1.5 25.2l2.3 18l3.5 13.8l4.2 8.7l2.8 3.8l3.7 3.7l4 3l6 3.3l12 4.2l19.8 4l26.2 3l33 2.3l49 2l116.5 2.2l-0.3 -3.7l-58.2 -1.3l-58.3 -2.2l-47.9 -3l-29.8 -3l-23.7 -3.8l-16.3 -4l-11 -4l-7.7 -4l-6 -4.2l-5 -4.8l-3.8 -4.7l-5 -9.3l-4.7 -15.2l-2.8 -16l-2.2 -23.7l-1.5 -30.5l-1.3 -55.3z"/>
<path fill="#c3c22b" d="M1408.1 106.4l0.2 100.7l1 38.5l1.8 28.2l2 15.5l4 15.3l5.2 9.7l5.8 6l5.5 3.8l5 2.5l10.7 3.7l19.5 4l25.5 3l32 2.3l47 2l120.5 2.5l-0 -3.5l-61 -1.5l-57.8 -2.3l-44.2 -2.7l-32.5 -3.3l-22.2 -3.5l-16.5 -4l-12.3 -4.5l-7.5 -4l-5.2 -3.7l-5.3 -5l-3 -3.8l-5.7 -10.5l-4.5 -14.5l-2.8 -16l-2.2 -23.4l-1.5 -30.3l-1.3 -55z"/>
<path fill="#d1bf27" d="M1408.1 107.9l0.5 110.7l1 31.8l1.7 25.2l2.3 15.7l3.2 12l3.5 7.5l2 3l6.3 6.5l9 5.5l12.7 4.5l21.5 4.3l24.5 2.7l32.8 2.3l47.9 2l116.8 2.2l-0 -3.2l-63.8 -1.5l-57 -2.3l-40.4 -2.5l-31.3 -3l-24.7 -3.7l-16.8 -4l-13.5 -5l-6.5 -3.5l-5 -3.5l-8 -8.3l-6 -10.5l-4.5 -14l-3.2 -18.7l-2.3 -25.2l-1.5 -33.8z"/>
<path fill="#dfbc2a" d="M1408.1 109.4l0.2 94l1 39.7l1.8 29l2.5 18.5l3.5 12.7l4.5 9l6.2 7l4 3l7 3.8l11.5 4l18 3.7l24.5 3l30 2.3l43.2 2l62.8 1.7l65 1l-0 -3.2l-49.8 -1l-62.5 -2.3l-47.2 -2.7l-32 -3l-25.2 -3.8l-18.8 -4.5l-12.5 -4.7l-11 -6.8l-8.2 -8.5l-3.5 -5.5l-2.8 -5.7l-4 -12.8l-3 -16.7l-2.2 -23.2l-1.5 -29.8l-1.3 -54.2z"/>
<path fill="#ebba31" d="M1408.1 111.1l0.5 104.2l1 32.3l1.5 23.4l2.7 20l3 11l4.8 9.8l4 5l3 2.7l8.7 5.5l14 5l15.3 3.3l25.5 3.2l29.2 2.3l41.5 2l59.7 1.7l71.3 1.3l-0 -3l-52.8 -1.3l-67 -2.5l-44.4 -2.7l-34.5 -3.5l-16.3 -2.5l-19.5 -4.5l-14.5 -5.5l-5 -2.8l-6.2 -4.5l-7.3 -7.7l-5.7 -10.3l-4.3 -13.2l-3.2 -18.5l-2.3 -25l-1.5 -33.2z"/>
<path fill="#f6ba3c" d="M1408.1 112.9l0.5 100.7l1.2 38l1.8 23.5l2.7 17.5l3 10.2l4.8 9.3l2.7 3.5l4.3 4l9.5 5.7l8.5 3.3l8.2 2.2l21 3.8l23.3 2.5l38 2.5l43.2 1.7l113 2.3l-0 -2.8l-55.8 -1.2l-61 -2.3l-42.4 -2.5l-34.8 -3.2l-23.2 -3.5l-18.8 -4.5l-10.2 -3.8l-6.5 -3.2l-7.3 -5l-7.7 -8.3l-5.3 -9.2l-4.7 -14.8l-2.8 -15.5l-2 -19.4l-1.7 -32.8l-1.3 -53.5z"/>
<path fill="#febe3c" d="M1408.1 114.6l0.5 97.2l1.2 38.5l1.8 23.7l2.7 17.8l3.3 11l5.2 9.7l6.8 7l5.7 3.8l5.8 2.7l16.5 5l18.5 3.3l22.7 2.5l32.3 2.2l46.2 2l116.5 2.5l-0 -2.7l-50.3 -1l-68.7 -2.5l-42 -2.5l-34.2 -3.3l-24.3 -3.7l-18 -4.5l-12.5 -5l-9.7 -6.3l-5.5 -5.2l-2.8 -3.5l-5.5 -10l-4.2 -13.5l-2.8 -15.3l-2.2 -22.7l-1.5 -29.2l-1.3 -53z"/>
<path fill="#fec537" d="M1408.1 116.6l0.5 93.2l1.2 39.3l1.8 23.9l2.7 18l3 10.5l5.5 10.5l7 7.3l10.3 6l12.5 4.2l16.7 3.5l26.3 3.3l34 2.5l44.4 2l119.8 2.7l-0 -2.5l-62.3 -1.5l-59.2 -2.2l-38 -2.3l-35 -3.2l-26 -4l-15.2 -3.8l-13.3 -5l-10.2 -6.2l-7.8 -7.8l-3.5 -5.2l-3 -6l-4.5 -14.5l-2.7 -16l-2.3 -24.2l-1.5 -32.8z"/>
<path fill="#fdcc32" d="M1408.1 118.6l0 55.7l0.7 44.8l1.3 33.2l1.7 22l2.3 14.7l4 13.8l5.5 9.7l6.5 6.5l10.2 6l11.5 4l17.5 3.8l25.8 3.2l29 2.3l47.2 2.2l61 1.8l61.5 1l-0 -2.3l-65.8 -1.5l-53 -2l-42.7 -2.5l-34.5 -3.2l-23 -3.5l-16.7 -4l-12.3 -4.5l-11 -6.5l-8.5 -8.5l-6 -10.5l-4.2 -13.3l-3 -17l-2.5 -27.9l-1.3 -28.5z"/>
<path fill="#fad42e" d="M1408.1 120.9l0 50.7l0.7 45.8l1.3 33.5l2 24.4l2.7 16.3l3.8 11.7l5.2 9l6.5 6.5l9.8 5.8l12 4.2l20.5 4.3l24.7 3l34 2.5l44.2 2l118.3 2.7l-0 -2.2l-52.3 -1l-64 -2.3l-43.9 -2.5l-33 -3l-25.5 -3.7l-17 -4l-11.3 -4l-6.5 -3.3l-6 -4l-7.7 -7.7l-3.5 -5.3l-2.8 -5.5l-3.2 -9.2l-3.8 -18.8l-2.2 -22.2l-1.5 -28.5l-1.3 -51.5z"/>
<path fill="#f7dc2a" d="M1408.1 123.1l0.7 92.2l1.3 34l2 24.7l2.5 15.5l4 13l4.7 8.5l7 7.3l9 5.5l14 5l21 4.2l25.5 3l35 2.5l45.2 2l113.8 2.5l-0 -1.7l-56.5 -1.3l-62.8 -2.2l-43.2 -2.5l-32.5 -3l-21 -3l-19 -4.3l-13.2 -4.7l-5 -2.5l-6.8 -4.5l-8 -8.3l-5.7 -10.2l-4.3 -13.5l-2.7 -15.5l-2.3 -23.7l-1.5 -31.5z"/>
<path fill="#f5e427" d="M1408.1 125.9l0 40.2l1 56.5l1.2 29.5l1.8 20.7l2.5 15.8l3.5 12l5 9.5l3 3.7l5.2 4.8l9.5 5.5l12 4.2l20.3 4.3l26.7 3.2l30 2.3l41.5 2l122.5 3l-0 -1.8l-52.3 -1l-65 -2.2l-40.7 -2.3l-36.7 -3.2l-24 -3.5l-19 -4.5l-10.8 -4l-5 -2.5l-6.7 -4.5l-7 -7l-6.3 -10.5l-4.7 -15l-2.5 -14.2l-2.3 -23.5l-1.5 -31.3z"/>
<path fill="#f5ec22" d="M1408.1 128.9l1 91.2l1.5 34.3l2 21.2l2.2 13l4.3 13.5l3.5 6.5l3 4l7.2 6.5l4.5 2.7l7.8 3.5l14.2 4.3l19.3 3.5l24.2 2.7l31 2.3l43 2l117 2.7l-0 -1.2l-66.8 -1.5l-60 -2.3l-34.4 -2l-29 -2.5l-21.5 -2.7l-22 -4.5l-14 -4.8l-11.5 -6.5l-8.3 -8l-6 -10l-4.7 -14.7l-2.8 -16l-2 -21.2l-1.5 -31z"/>
<path fill="#f7f51b" d="M1408.1 132.6l0.2 47l1 46l1.3 26.7l2.2 23.5l3.3 16.5l3.2 9.2l5.5 9.3l7.3 7l9.5 5.5l12.7 4.5l18.8 4l28 3.5l29.2 2.2l46.2 2.3l58 1.7l59.3 1l-0.5 -1l-64.3 -1.2l-61.5 -2.3l-38.7 -2.2l-25.7 -2.3l-24.8 -3.2l-18 -3.8l-14.2 -4.7l-11 -6l-3.8 -3l-5 -5.3l-3.7 -5.5l-2.8 -5.5l-3.2 -9.5l-3.3 -15.9l-2.2 -21l-1.5 -27l-1.3 -49z"/></g>
<line x1="1414.6" y1="334.6" x2="1693.9" y2="334.6" stroke="#fff" stroke-width="2.4" stroke-dasharray="10.5 8"/>
</g>
<rect x="1408" y="75.5" width="285.9" height="275.9" fill="none" stroke="#262626" stroke-width="0.9"/>
<path d="M1455.7 75.5v2.6M1455.7 351.4v-2.6M1503.3 75.5v2.6M1503.3 351.4v-2.6M1551 75.5v2.6M1551 351.4v-2.6M1598.6 75.5v2.6M1598.6 351.4v-2.6M1646.2 75.5v2.6M1646.2 351.4v-2.6M1408 121.5h2.6M1693.9 121.5h-2.6M1408 167.5h2.6M1693.9 167.5h-2.6M1408 213.4h2.6M1693.9 213.4h-2.6M1408 259.4h2.6M1693.9 259.4h-2.6M1408 305.4h2.6M1693.9 305.4h-2.6" stroke="#262626" stroke-width="0.9" fill="none"/>
<line x1="1149.8" y1="510.9" x2="1308.8" y2="417.5" stroke="#e0e0e0" stroke-width="0.8"/>
<line x1="1308.8" y1="417.5" x2="1467.3" y2="510.9" stroke="#e0e0e0" stroke-width="0.8"/>
<line x1="1149.8" y1="483.7" x2="1308.8" y2="390.3" stroke="#e0e0e0" stroke-width="0.8"/>
<line x1="1308.8" y1="390.3" x2="1467.3" y2="483.7" stroke="#e0e0e0" stroke-width="0.8"/>
<line x1="1229.3" y1="491.4" x2="1229.3" y2="428.6" stroke="#e0e0e0" stroke-width="0.8"/>
<line x1="1388" y1="491.4" x2="1388" y2="428.6" stroke="#e0e0e0" stroke-width="0.8"/>
<line x1="1229" y1="584.8" x2="1388" y2="491.4" stroke="#e0e0e0" stroke-width="0.8"/>
<line x1="1229.3" y1="491.4" x2="1387.8" y2="584.8" stroke="#e0e0e0" stroke-width="0.8"/>
<line x1="1308.8" y1="444.7" x2="1308.8" y2="381.9" stroke="#707070" stroke-width="0.9"/>
<line x1="1149.8" y1="475.3" x2="1308.8" y2="381.9" stroke="#707070" stroke-width="0.9"/>
<line x1="1308.8" y1="381.9" x2="1467.3" y2="475.3" stroke="#707070" stroke-width="0.9"/>
<line x1="1149.8" y1="538.1" x2="1308.8" y2="444.7" stroke="#707070" stroke-width="0.9"/>
<line x1="1308.8" y1="444.7" x2="1467.3" y2="538.1" stroke="#707070" stroke-width="0.9"/>
<line x1="1149.8" y1="538.1" x2="1149.8" y2="475.3" stroke="#707070" stroke-width="0.9"/>
<line x1="1467.3" y1="538.1" x2="1467.3" y2="475.3" stroke="#707070" stroke-width="0.9"/>
<g filter="url(#bl2)"><path fill="#3f28ad" d="M1314.5 428.8l-15.3 0.3l-17.7 3.7l-18.7 7.3l-13.6 7.7l-12.7 9.3l-11.3 11.7l-9.7 13.7l-12.3 21l-4 5.6l-49.4 29l158.4 93.4l159 -93.4l-49 -29l-6.7 -9.6l-11.3 -19.4l-7.4 -10.3l-11 -11.7l-8.3 -6.6l-17.7 -10.7l-13 -5.7l-14.6 -4.3z"/>
<path fill="#412cba" d="M1303.2 428.8l-14 2l-7.7 2l-12 4.3l-16 8l-15 10.4l-9 8.3l-8.6 10.7l-17.7 29l-5.3 7.6l-2 2l-13.4 8.7l-9.3 7.7l-3.7 5.3l-0.3 3.7l3 5.3l4.7 4.7l9.3 7l29 18.3l42.3 24.7l21 11.3l13.4 6l10 3l10.6 0.3l7.7 -1.6l7.3 -2.7l19 -9.3l28.7 -16l39.7 -23.7l16 -10.3l10.6 -8l5.4 -6.4l1 -2.3l-0 -3.3l-2.7 -4.7l-3.7 -3.7l-8.6 -6.6l-13 -8.7l-8.4 -12.3l-11.3 -19.4l-7.3 -10.3l-11 -11.7l-8.4 -6.6l-18.3 -11l-19.3 -7.7l-17.7 -3.7z"/>
<path fill="#4432cb" d="M1303.2 428.8l-14 2l-7.7 2l-12 4.3l-17.6 9l-15.4 11l-7 6.7l-8.6 10.7l-17.7 29l-6.7 9.3l-12 9.3l-6 6l-2.6 4.7l-0.4 4.7l2 4.6l2 2.7l13 11l29 18.7l27.4 16l14.6 8l24 11.3l12.4 3.7l12.3 0.6l13.3 -3l16.7 -7l31.7 -17l33 -19.6l19 -12.7l8.3 -6.7l5.7 -6.3l1.6 -4l0 -4.3l-2.3 -4.7l-5.3 -5.7l-12.7 -9.6l-6.3 -8.7l-11.4 -19.3l-7.6 -11.7l-6.4 -8l-13.3 -12.3l-15.3 -10l-18 -8.4l-9.4 -3l-12.6 -2.6z"/>
<path fill="#4639da" d="M1303.2 428.8l-14 2l-7.7 2l-12 4.3l-17.6 9l-15.4 11l-7 6.7l-8.6 10.7l-17.7 29l-5.3 7.6l-15.7 15l-3 6l0 4l1 3.4l3 4.3l5.3 5.3l6.4 5l18.6 12.7l34.7 20.7l25.7 13.3l14.3 6l13 3.3l11.7 0.4l12.6 -2.7l15.4 -6l26 -13.3l29.6 -17.4l18.7 -12l13.3 -10l5.7 -5.6l2.3 -3.4l1.7 -6l-1 -4.3l-3 -4.7l-13 -11.6l-5 -6.7l-16 -26.7l-7.3 -10.3l-11 -11.7l-5.7 -4.6l-15.3 -10l-18 -8.4l-9.4 -3l-12.6 -2.6z"/>
<path fill="#4741e5" d="M1303.2 428.8l-14 2l-7.7 2l-12 4.3l-17.6 9l-15.4 11l-7 6.7l-8.6 10.7l-17.7 29l-5.3 7.6l-13 13.4l-2.7 5l-0.3 5l0.6 2.6l3 5l4.4 4.7l6.6 5.7l22 15l29.4 17.3l23 12l15 6.3l13.3 3.7l12.7 0.7l14 -2.7l18.6 -7.3l24 -12.4l28.4 -16.6l17.3 -11.4l12.7 -10l3.6 -3.6l3.4 -4.7l1.3 -3.7l0 -4.6l-1 -3l-2.3 -3.7l-10.7 -10.3l-5 -6.7l-16 -26.7l-7.3 -10.3l-11 -11.7l-5.7 -4.6l-15.3 -10l-18 -8.4l-9.4 -3l-12.6 -2.6z"/>
<path fill="#484aee" d="M1303.2 428.8l-14 2l-7.7 2l-12 4.3l-17.6 9l-15.4 11l-7 6.7l-5.6 6.7l-8.4 12l-15.6 26l-5.4 6.6l-7 7l-3.3 6.7l0 5l0.7 2.3l3 5l9.6 9.4l22 15.3l21.7 13l26.3 14l15.4 6.7l13.3 4l13.7 1.3l10.6 -1.3l7.7 -2l10 -3.7l21.7 -10.3l23.3 -13l26.3 -16.7l14.7 -11.3l5.3 -5.7l2.4 -3.7l1.3 -4.6l0 -2.4l-1 -3.6l-2 -3.7l-9 -9.3l-5 -6.7l-20.3 -33l-6.4 -8l-13.3 -12.3l-15.3 -10l-18 -8.4l-9.4 -3l-12.6 -2.6z"/>
<path fill="#4852f4" d="M1303.2 428.8l-14 2l-7.7 2l-12 4.3l-17.6 9l-15.4 11l-7 6.7l-8.6 10.7l-21 34l-11.4 13.3l-2.3 5l-0.3 4l1 4l2.6 4.7l9.4 9.3l20.6 14.7l22.7 13.6l27.3 14.4l13.7 5.6l14.3 4l13 1l14.7 -2.3l18.3 -6.7l19.7 -9.6l31.7 -18.4l21.6 -15l10 -9.3l4 -6.7l0.7 -6.3l-2.3 -5.7l-12.7 -15.3l-20.3 -33l-6.4 -8l-13.3 -12.3l-15.3 -10l-18 -8.4l-9.4 -3l-12.6 -2.6z"/>
<path fill="#475bf9" d="M1303.2 428.8l-14 2l-7.7 2l-12 4.3l-17.6 9l-15.4 11l-7 6.7l-8.6 10.7l-21 34l-10 12.3l-1.7 3.7l-0.7 4l0.7 4l3 5.6l10 10l15.7 11.4l30.3 18.3l23.7 12l15.3 6l14 3.3l13.3 0.4l11.4 -2l17.3 -6l25.7 -12.7l23 -13.3l18 -12l13.6 -11.4l3.7 -4.3l2.7 -5l0.6 -6l-1 -3.7l-2 -3.6l-10.3 -12.7l-20.3 -33l-6.4 -8l-13.3 -12.3l-15.3 -10l-18 -8.4l-9.4 -3l-12.6 -2.6z"/>
<path fill="#4563fd" d="M1294.8 517.5l4.7 -2l4.6 -1l8.7 0l4.7 1l4.6 2l-8.6 1.3l-10 0zM1303.2 428.8l-14 2l-7.7 2l-12 4.3l-17.6 9l-15.4 11l-11.3 11.7l-9.7 13.7l-12.3 21l-12.3 16.6l-1.4 3.4l-0.3 5l1 4l2.3 4l9.4 9.6l16.3 12l31.7 19l23 11.4l15.3 5.6l12.3 2.7l12.7 0.3l13 -2.3l18.7 -6.7l19.6 -9.6l25 -14.4l19.7 -13.3l12.7 -11l4 -5.3l1.6 -3.7l0.4 -6.3l-2.4 -5.7l-10.6 -14l-11.4 -19.3l-7.6 -11.7l-6.4 -8l-13.3 -12.3l-15.3 -10l-18 -8.4l-9.4 -3l-12.6 -2.6z"/>
<path fill="#416cfe" d="M1289.8 516.5l4.3 -2.7l10.4 -2.6l12 0.6l6.3 2l4.3 2.7l-3 1l-10.6 1.3l-14 -0.3zM1303.2 428.8l-14 2l-7.7 2l-12 4.3l-17.6 9l-15.4 11l-11.3 11.7l-9.7 13.7l-12.3 21l-10.7 14.6l-1.6 4.4l-0.4 4l1.4 5l2.3 4l8.7 9l20.6 15l22.4 13.3l21.3 11l16.3 6.7l14.7 3.6l15 0.7l13.3 -2.3l18.7 -6.7l20.3 -10l25.4 -14.7l16.6 -11.3l12.4 -10.7l5.6 -8.3l1 -3.7l0 -3.6l-2 -5.7l-9.6 -13l-11.4 -19.3l-7.6 -11.7l-6.4 -8l-13.3 -12.3l-15.3 -10l-18 -8.4l-9.4 -3l-12.6 -2.6z"/>
<path fill="#3975fe" d="M1286.2 515.5l2.3 -2l5 -2.7l11 -2.6l8 -0l7.4 1.3l6.6 2.7l4.7 3.3l-7 2l-10.7 1.3l-14 -0.3l-10 -1.7zM1303.2 428.8l-14 2l-7.7 2l-12 4.3l-17.6 9l-15.4 11l-11.3 11.7l-9.7 13.7l-12.3 21l-8.7 12l-2.3 5.3l-0.3 4l1 4.3l2 4l3.6 4.7l8.4 7.7l14.3 10.3l27.7 16.7l20.6 10.3l14.7 5.7l15.7 3.6l14 0.4l7.3 -1l9.3 -2.4l19 -7.3l16 -8l26.7 -15.7l13.7 -9.3l12.6 -11l5.4 -7.7l1.3 -4.3l0 -4l-2.7 -6.7l-7.6 -10.3l-11.4 -19.3l-7.6 -11.7l-6.4 -8l-13.3 -12.3l-15.3 -10l-18 -8.4l-9.4 -3l-12.6 -2.6z"/>
<path fill="#307efb" d="M1282.8 514.8l3 -3l6 -3.3l11.3 -3l10.7 -0l9 2l6 2.6l5.3 4.4l-0.3 0.6l-8 2l-12.3 1.7l-16.7 -0.7zM1303.2 428.8l-14 2l-7.7 2l-12 4.3l-17.6 9l-15.4 11l-11.3 11.7l-9.7 13.7l-12.3 21l-8 11.3l-1.7 4.3l-0.3 5l1.3 4.7l2.4 4l8 8.7l13 10l25.6 16l18.4 9.6l18 7.7l17 4.7l13.6 1l14.4 -2l17.3 -5.7l22 -10.3l21 -12l20 -13.4l12.3 -11l5.4 -8l1 -3.3l-0 -4.7l-2.7 -6.6l-6.3 -8.7l-11.4 -19.3l-7.6 -11.7l-6.4 -8l-13.3 -12.3l-15.3 -10l-18 -8.4l-9.4 -3l-12.6 -2.6z"/>
<path fill="#2e87f7" d="M1336.8 513.5l-1 1l-7 2l-15.3 2.3l-16.7 -0.6l-11.3 -2.4l-5.4 -2l4.4 -4.3l6.6 -3.7l7.7 -2.3l11.3 -1l8 1l8.7 2.7l5.3 3zM1303.2 428.8l-14 2l-7.7 2l-12 4.3l-17.6 9l-15.4 11l-11.3 11.7l-9.7 13.7l-12.3 21l-6.3 9l-2.4 6l0 5.3l2 5.3l2 3l10.4 10.4l19.6 14l22.4 13l18.3 9l17 6.3l14 3l13 0.3l12.7 -2l18.6 -6.3l20.4 -9.7l20.3 -11.6l17 -11.4l12.3 -10.3l4 -4.7l3 -5l1 -3l0.4 -4.3l-0.7 -3.3l-2 -4.4l-5.3 -7.3l-17.4 -28.7l-8 -10.3l-13.3 -12.3l-15.3 -10l-18 -8.4l-9.4 -3l-12.6 -2.6z"/>
<path fill="#2c8ff1" d="M1277.8 513.2l2 -3l5.7 -4.3l9.3 -4l9 -1.7l9.7 0l11 2.3l8.3 4l6.7 6.4l-10.7 3.6l-15.3 2.4l-16.7 -0.7l-11.3 -2.3zM1303.2 428.8l-14 2l-7.7 2l-12 4.3l-17.6 9l-15.4 11l-11.3 11.7l-9.7 13.7l-12.3 21l-5.3 7.6l-2 5l-0.4 5l2.7 7.4l3.7 5l4.6 4.6l10.4 8.4l22.6 14.6l26.7 14l13 5.4l17.3 4.6l14.4 1l11.3 -1.3l16.3 -4.7l25.7 -11.6l19.3 -11l16.7 -11l10.3 -8.4l4.7 -4.6l5.3 -8l1 -3.4l0 -5l-2.3 -6.3l-4.3 -6l-11.4 -19.3l-7.6 -11.7l-6.4 -8l-7.6 -7.7l-8.4 -6.6l-18.3 -11l-19.3 -7.7l-17.7 -3.7z"/>
<path fill="#2796eb" d="M1275.5 511.8l6 -6.3l7 -4l11.3 -3.4l11.4 -0.6l8 1l10.3 3.3l7 4.3l5.3 6l-8 3l-9.6 2.4l-10.7 1.3l-10 0l-14 -2l-12.3 -3.7zM1299.2 429.2l-15.3 3l-16.7 6l-15.3 8l-15.4 11l-11.3 11.7l-9.7 13.6l-12.3 21l-4 5.7l-2 4.3l-0.7 5.4l0.4 2.6l2 5l3 4.4l7.6 7.6l14.7 11l26 15.7l22.3 10.7l16.7 5.6l13.3 2.4l15 -0.4l13.7 -3l14 -5l18.3 -8.6l23.7 -13.7l12.3 -8.3l13 -11l4.7 -5.7l2.3 -4.3l1 -4l0 -3.7l-2.3 -6.7l-22.3 -35.6l-6.4 -8l-7.6 -7.7l-8.4 -6.7l-18.3 -11l-19.3 -7.6l-17.7 -3.7z"/>
<path fill="#259de6" d="M1273.5 511.2l3 -4.3l6.7 -5.4l9 -4l12.6 -2.3l7.4 0l7.6 1l10.4 3.3l7.6 4.7l5.7 6.7l-0.3 1l-11.7 4l-7.3 1.6l-10.7 1.4l-10 -0l-10.7 -1.4l-9.6 -2.3l-8.7 -3zM1303.2 428.8l-14 2l-7.7 2l-12 4.3l-17.6 9l-15.4 11l-11.3 11.7l-9.7 13.7l-17 28.6l-0.6 2.4l-0 6.3l2.3 5.7l2.3 3.3l11.7 11.3l14 10l22 13l22.3 10.7l13.4 4.7l14.3 3l13 0.3l14.3 -2.3l16 -5.4l20 -9.3l20 -11.3l19.4 -13.4l10.6 -10l5 -8l1 -4l0 -3.3l-2.6 -7.3l-21 -33.7l-6.4 -8l-7.6 -7.7l-8.4 -6.6l-18.3 -11l-19.3 -7.7l-17.7 -3.7z"/>
<path fill="#20a4e3" d="M1271.8 509.8l2.3 -3.7l4 -4l5 -3.3l5 -2.3l10.7 -3l14 -0.7l11.3 2l9.4 3.7l6.3 4.3l3.7 4l2 3.7l-11.7 4.6l-9.7 2.4l-10.6 1.3l-10 0l-6.7 -0.7l-11.3 -2.3l-13.4 -4.7zM1303.2 428.8l-14 2l-7.7 2l-12 4.3l-17.6 9l-15.4 11l-11.3 11.7l-9.7 13.7l-15.6 26.3l-1 3.3l-0 6l1.3 4l2.7 4.4l8 8.6l15 11.4l20 12.3l0.3 -0.3l4 2.6l14.7 7.4l16.6 6.6l17 4l12.7 0.7l13 -1.7l15 -4.3l14.3 -6l10.7 -5.3l20.3 -11.7l18 -12.7l9.4 -8.6l5.3 -8l1 -3l0.3 -5l-2.3 -7l-20.3 -32.7l-6.4 -8l-7.6 -7.7l-8.4 -6.6l-18.3 -11l-19.3 -7.7l-17.7 -3.7z"/>
<path fill="#1babde" d="M1269.8 509.5l2.7 -4.7l4.6 -4.6l8.4 -5l5 -2l8.3 -2l14 -0.7l10.3 1.7l12 4.6l5.4 3.7l3.6 3.7l3 5.6l-8.3 3.7l-13 3.7l-12.3 1.6l-10 0l-6.7 -0.6l-11.3 -2.4l-11 -3.6zM1299.2 429.2l-15.3 3l-16.7 6l-15.3 8l-15.4 11l-11.3 11.7l-9.7 13.6l-14.3 24l-1.3 4l-0 6l1.3 4.4l3.7 5.6l9 9l19 13.7l21 12l21.3 9.7l14.7 4.6l11.6 2l14 0l16.4 -3.3l13.3 -4.7l21 -10l23 -13.6l14 -10.4l9 -9l4 -6.3l1 -3l0.3 -5.3l-1 -4l-2 -4l-14.3 -23.7l-7.3 -10.3l-11 -11.7l-11.7 -9l-9.3 -5.7l-10.7 -5.3l-16.7 -6l-8.6 -2l-10.4 -1.3z"/>
<path fill="#12b1d6" d="M1268.2 509.2l1.7 -4l2.3 -3.3l4 -3.7l5 -3.3l10.3 -4.4l13.4 -2.3l7.6 0l7.7 1l7.7 2l7 3l7 4.7l3.6 3.6l3.4 6.4l-5.7 3l-11.7 4l-7.3 1.6l-10.7 1.4l-10 -0l-14 -2l-12.3 -3.7zM1299.2 429.2l-17.7 3.7l-12 4.3l-10 4.7l-18 11.3l-8.6 7.3l-6 6.4l-11.4 15.6l-12 20l-2.6 6.4l-0.4 4l1.4 5.6l3 5.4l6.6 7.3l12 9.7l13.7 9l16 9l15.3 7.3l12 4.7l11 3l10.7 1.6l12.3 0l7.7 -1l12 -3l11 -4l16 -7.3l17.3 -9.7l15 -9.6l7 -5.4l8.4 -7.6l4.6 -6l2.7 -6l0.3 -5.7l-1 -4l-18 -30l-8 -10.3l-7.6 -7.7l-8.4 -6.7l-10.3 -6.6l-8 -4.4l-12.3 -5.3l-9.4 -3l-12.6 -2.7l-6.4 -0.6z"/>
<path fill="#04b6ce" d="M1266.8 507.8l3 -6.3l5.3 -5.4l8.4 -5l12 -4l6.3 -1l9.7 -0.3l11.6 1.7l13.4 5l6.3 4.3l3.3 3.3l3.7 6l0.3 2.4l-11.3 5l-13 3.6l-12.3 1.7l-10 0l-10.7 -1.3l-9.7 -2.4l-16 -6.3zM1299.2 429.2l-17.7 3.7l-12 4.3l-10 4.7l-10.3 6l-10.7 7.6l-5.6 5l-7.7 8.4l-9.7 13.6l-12.6 21.7l-1.4 5l0.4 5l2.3 5.7l4.7 6.3l6.6 6.3l7.7 6l14.7 9.7l13.3 7.7l18 8.6l11.3 4.4l11 3l11.4 1.6l11 0l13 -2l8.3 -2.3l11.7 -4.3l15.6 -7.4l23 -13.3l12.7 -9l10 -9l4.3 -5.7l2.7 -6l0.3 -6.3l-1 -3.7l-17 -28.3l-8 -10.3l-7.6 -7.7l-8.4 -6.7l-10.3 -6.6l-8 -4.4l-12.3 -5.3l-9.4 -3l-12.6 -2.7l-6.4 -0.6z"/>
<path fill="#01bac4" d="M1265.5 506.5l3.3 -7l5 -5l5 -3.3l11.7 -5l7.3 -1.7l10 -1l15 1.7l7.7 2.3l7.3 3.3l8.7 6.7l3.3 4.3l2 5.7l-10.3 5l-12.7 4l-11.6 2l-13.7 0.3l-10.7 -1.3l-9.6 -2.3l-17.4 -7zM1299.2 429.2l-17.7 3.7l-12 4.3l-10 4.7l-10.3 6l-10.7 7.6l-5.6 5l-7.7 8.4l-9.7 13.6l-10 16.7l-2.3 5l-0.7 3.3l0.4 5.4l2.3 5.6l5.3 7l11 9.7l14 9.7l20 11.3l13.7 6.3l21 7l13 2l10.3 0l8.4 -1l13.3 -3.3l9.3 -3.3l12.7 -5.7l14 -7.3l16.3 -10l11.4 -8.4l7.6 -7l5 -6.3l2.7 -6l0.3 -6.7l-1 -3.6l-16 -26.7l-8 -10.3l-7.6 -7.7l-8.4 -6.7l-10.3 -6.6l-8 -4.4l-12.3 -5.3l-9.4 -3l-12.6 -2.7l-6.4 -0.6z"/>
<path fill="#11beba" d="M1264.2 505.5l2 -5.3l2.7 -3.7l4.6 -4.3l8.4 -5l9 -3.4l7.3 -1.6l15 -0.7l14.3 2.7l12.4 5.3l5 3.7l4.3 4.3l2.7 4.3l1.3 5l-11.7 5.7l-12.6 4l-11.7 2l-13.7 0.3l-14 -2l-12.3 -3.6l-11.3 -5l-1.7 -1.4zM1299.2 429.2l-17.7 3.7l-12 4.3l-10 4.7l-10.3 6l-10.7 7.6l-5.6 5l-7.7 8.4l-9.7 13.6l-11 19l-1 4l0.4 6.4l2.6 6l4.4 5.6l6.3 6l14.3 10.7l10 6.3l12.7 7l17.3 8l12.4 4.4l9.3 2.3l10.3 1.3l10 0l10 -1.3l11.7 -3l18.7 -7.3l12 -6l4 -2.7l0.3 0.3l14.3 -8.6l11.4 -8l10.3 -9.4l5 -6.6l2.3 -6.4l0 -6l-1 -3.3l-15 -25l-8 -10.3l-7.6 -7.7l-8.4 -6.7l-10.3 -6.6l-8 -4.4l-12.3 -5.3l-9.4 -3l-12.6 -2.7l-6.4 -0.6z"/>
<path fill="#23c1af" d="M1262.8 504.5l1.3 -4.3l2.7 -4.4l5 -5l6 -4l9 -4l7 -2l8.3 -1.3l8.4 -0.3l14.3 2l9 3l6.7 3.3l6 4.3l4 4.4l2.6 4.6l1 5.4l-11 5.6l-11.6 4l-14.4 2.7l-13.6 0.3l-14 -2l-12.4 -3.6l-13.6 -6.4l-0.7 -0.6zM1296.5 429.5l-12.7 2.7l-9.3 3l-18.7 8.6l-17.3 11.7l-9 8.3l-5.7 6.7l-8.3 12l-8 13.3l-3 7.7l0 5.7l2 5.6l5.3 7.4l6.4 6l12.3 9.3l13.3 8.3l9.7 5.4l17 8l13.3 4.6l11.4 2.7l9 1l8.6 0l8.7 -1l12.7 -3l22.6 -9l16.4 -8.7l13.3 -8.3l10.3 -7.7l8.4 -7.6l4.3 -5.7l2.7 -5.7l0.6 -6l-1.3 -5.3l-8 -14l-7.7 -11.7l-6.3 -8l-10 -9.6l-9.3 -7l-9.4 -5.7l-13 -6.3l-12 -4.4l-11 -2.6l-10.3 -1.4z"/>
<path fill="#2ec4a4" d="M1261.8 502.2l1.3 -4l4 -5.7l5.4 -4.6l7.3 -4.4l9.3 -3.6l7 -1.7l7.7 -1l9.7 0l7.6 1l8 2l8.4 3.3l5.3 3l4 3l5.3 5.7l2.4 4.3l1 5.4l-1.4 1.6l-8.6 4.4l-14 5l-14.4 2.6l-13.6 0.4l-14 -2l-15 -4.7l-11.7 -5.7l-1 -1zM1296.5 429.5l-12.7 2.7l-9.3 3l-18.7 8.6l-17.3 11.7l-9 8.3l-5.7 6.7l-8.3 12l-9.3 16.3l-1 4.7l0.6 6l2.7 5.7l5 6.3l7.7 7l11.3 8.3l12.3 7.7l24 12l10.7 4l10.7 3l9.6 1.7l13 0.3l12.4 -1.7l9 -2.3l15.3 -5.7l15 -7.6l0.3 0.3l23 -14l10 -7.7l8.4 -8.3l3 -4.3l2.3 -5.7l0.3 -6l-1.3 -4.7l-7 -12.3l-7.7 -11.7l-6.3 -8l-10 -9.6l-9.3 -7l-9.4 -5.7l-13 -6.3l-12 -4.4l-11 -2.6l-10.3 -1.4z"/>
<path fill="#36c898" d="M1260.5 501.5l2.3 -6.3l3 -4l4.7 -4.4l6 -4l6.3 -3l9.4 -3l7 -1.3l11 -0.7l15 2l10 3.4l7.6 4l4.7 3.3l6 6.3l3 7l0 4l-11 6l-14 5l-14.3 2.7l-13.7 0.3l-14 -2l-15 -4.6l-13.3 -6.7l-0.7 -1zM1299.2 429.2l-10 1.7l-14.7 4.3l-18.6 8.7l-17.4 11.6l-9 8.4l-5.6 6.6l-8.4 12l-7 11.7l-2.3 7l0.3 6l2.4 5.7l5.3 7l8 7.3l18.7 13l14.3 8l13.7 6.3l13.6 5l7.7 2l10 1.7l12.7 0.3l14 -2l8.6 -2.3l11 -4l17 -8l11.4 -6.3l14.3 -9.4l7.7 -6l8.6 -8.6l3.7 -5.7l1.7 -5l-0 -5.7l-1.7 -5.3l-9 -15l-7.3 -10.3l-13.4 -13.7l-16.3 -11.3l-8 -4.4l-12.3 -5.3l-9.4 -3l-12.6 -2.7l-6.4 -0.6z"/>
<path fill="#43cb8a" d="M1259.5 499.5l2.7 -6.7l2.3 -3l5.7 -5.3l9.6 -5.7l8 -3l8 -2l8.4 -1l9 0l11.3 1.7l8 2.3l9.3 4.4l4.7 3l5 4.3l4 5.3l2 5l0 5.4l-12 6.6l-14 5l-14.3 2.7l-13.7 0.3l-14 -2l-17.3 -5.6l-12 -6.4l-0.7 -1zM1207.2 498.8l0 5.7l0.7 2.6l2.3 5l2.7 3.7l10.3 10l13 9.3l14 8.4l21 10l19 6l14.7 2l14.3 -0.7l14 -3l15 -5.3l17.3 -8.4l19.4 -11.6l11 -8.4l6 -5.6l4.3 -5.4l2 -3.3l1.7 -5l-0 -6.3l-0.7 -2.7l-9 -15.7l-10.7 -14.3l-13.3 -12.3l-13 -8.7l-15.3 -7.7l-14.4 -5l-8.6 -2l-10.4 -1.3l-15.3 0.3l-17.7 3.7l-18.6 7.3l-13.7 7.7l-12.7 9.3l-11.3 11.7l-9.7 13.7l-6.3 10.6z"/>
<path fill="#55cc7b" d="M1258.2 500.2l1 -5l2.7 -5l6 -6.3l6.3 -4.4l6.7 -3.3l8.6 -3l7.7 -1.7l10.7 -1l16 1.7l10 3l8 3.7l6.6 4.3l5.4 5l4 6.7l1 4l-0.4 4.6l-13 7.4l-14 5l-7.3 1.6l-10.7 1.4l-16.6 -0.7l-11.4 -2.3l-8.3 -2.7l-8 -3.3l-9.7 -5.4l-1 -1.3zM1208.2 497.2l0 6.3l0.7 2.7l5 8.3l8.3 8.4l13 9.6l16.7 10l0.3 -0.3l9.7 5.3l12.6 5.4l14 4.3l16 2.3l14.4 -0.6l14.3 -3l20.3 -7.7l15 -7.7l16.4 -10l13.6 -11l7.4 -8.6l2.3 -4.7l1 -4.3l-0.3 -5.4l-1.4 -4l-10 -16.3l-8 -10.3l-13.3 -12.4l-13 -8.6l-15.3 -7.7l-14.4 -5l-8.6 -2l-10.4 -1.3l-15.3 0.3l-17.7 3.7l-18.6 7.3l-13.7 7.7l-12.7 9.3l-11.3 11.7l-9.7 13.6l-5 8.4z"/>
<path fill="#69cd6b" d="M1257.2 496.8l1.7 -5l3.3 -5l4.7 -4.7l7.3 -5l8.7 -4l11.3 -3.3l11 -1.3l7 -0l9 1l9.3 2.3l8 3l8.4 4.7l7.3 6.3l3.7 5l2 5.7l-0 4l-0.7 2.6l-5 3.4l-11 5.3l-9.3 3.3l-13.7 3l-16.7 0.7l-6.6 -0.7l-11.4 -2.3l-16.3 -6l-11.3 -6.7zM1208.8 496.8l0.3 5.7l1.4 4l6 8.6l10.3 9.4l12 8.3l13 7.7l22.7 10.3l12.6 4l8.4 1.7l10 1l10.6 -0.4l16 -3l14.4 -5l17.3 -8l14.3 -8.3l15.7 -11.3l6.7 -6.4l4 -5l2.3 -4.3l1.3 -4.7l0 -5l-1.3 -4.6l-9.3 -15.4l-8 -10.3l-13.4 -12.3l-13 -8.7l-15.3 -7.7l-14.3 -5l-8.7 -2l-10.3 -1.3l-15.4 0.3l-17.6 3.7l-18.7 7.3l-13.7 7.7l-12.6 9.3l-11.4 11.7l-4.3 5.7l-9.3 14.6z"/>
<path fill="#7fcc5a" d="M1256.2 494.8l2.3 -6l4 -5.3l7.4 -6l7.6 -4.4l16 -5.3l9.4 -1.3l11.6 -0l10.7 1.6l9 2.7l8.3 3.7l7.7 5l5.3 5l3 4l2.4 6l-0 5.3l-0.7 2.3l-6 4.4l-11 5.3l-9.3 3.3l-13.7 3l-16.7 0.7l-6.6 -0.7l-11.4 -2.3l-11 -3.7l-8.6 -4l-6.4 -3.6l-2.6 -2.4zM1209.8 494.8l0 5l1.3 4.7l4.7 7.3l10 9.7l14 10l12 7l22.7 10.3l17.3 5l13.7 1.7l13.3 -0.7l15.7 -3.3l15.3 -5.7l17 -8.3l16.3 -10l12 -9.4l9 -10.3l3 -7.7l0 -6l-0.6 -2.6l-6.4 -11.4l-10.6 -14.3l-13.4 -12.3l-13 -8.7l-15.3 -7.7l-14.3 -5l-8.7 -2l-10.3 -1.3l-15.4 0.3l-17.6 3.7l-18.7 7.3l-13.7 7.7l-12.6 9.3l-9.7 9.7l-11.3 15.7l-4.4 7.6z"/>
<path fill="#94ca4a" d="M1255.2 493.2l2.7 -6.7l4 -5l10.6 -8l8.4 -4l10.6 -3.3l10 -1.7l9.7 -0.3l11.7 1.3l9 2.4l7.6 3l9 5l4.4 3.3l6.6 7.7l2.4 5.6l0.3 4l-1 4.7l-1.3 1.7l-10 6l-8.4 3.6l-7.6 2.7l-9.7 2.3l-10.7 1.4l-10 -0l-6.6 -0.7l-11.4 -2.3l-11 -3.7l-8.6 -4l-9.7 -6.3l-1 -3.4zM1210.8 492.8l0.3 7.7l3.4 7l8 9l14.3 11l15.7 9.3l14.3 7l10.3 4l14.7 4l15.3 1.7l14.4 -1l13 -3l14.6 -5.4l20.7 -10.3l14.7 -9.3l14 -12l5 -6.7l1.6 -3.3l1.4 -5.7l-0.4 -4.7l-1.3 -4l-9 -14.3l-6.3 -8l-7.7 -7.7l-8.3 -6.6l-17.7 -10.7l-13 -5.7l-14.7 -4.3l-13.6 -2l-15.4 0.3l-15.3 3l-16.7 6l-15.3 8l-13.3 9.4l-11.7 11.3l-11.3 15.7l-3.7 6.6z"/>
<path fill="#a9c73a" d="M1253.8 492.8l3 -8l3.3 -4.3l4 -3.7l7.7 -5.3l12 -5.4l8.3 -2.3l12 -1.7l9.4 0l10 1.4l6.6 1.6l11.4 4.4l7.6 4.3l5 4l6.4 7.3l2.6 6.7l0 4.3l-0.6 3l-1.7 3l-11 6.7l-8.3 3.7l-7.7 2.6l-9.7 2.4l-10.6 1.3l-10 0l-6.7 -0.7l-11.3 -2.3l-11 -3.7l-8.7 -4l-10 -6.3l-1.7 -4.3zM1211.5 493.2l1 7l5 8.7l8.3 8.3l17.4 12.3l19.3 10.4l11 4.6l14 4.4l14 2.3l13.7 0l15.6 -2.7l11.7 -3.6l20 -9l20.3 -12.4l13 -10.6l3.7 -4l4 -6l2 -7l0 -3.7l-1.7 -5.7l-8 -12.6l-6.3 -8l-7.7 -7.7l-8.3 -6.7l-17.7 -10.6l-13 -5.7l-14.6 -4.3l-13.7 -2l-15.3 0.3l-15.4 3l-16.6 6l-15.4 8l-13.3 9.3l-11.7 11.4l-6 7.6l-6.3 9.7l-2 4.3z"/>
<path fill="#bdc32e" d="M1252.8 490.5l2 -5.7l4.7 -6.3l8 -6.7l5 -3l9 -4l10 -3l10.6 -1.6l7.7 -0.4l10.7 1l10.3 2.4l9 3.3l10.3 5.7l4.4 3.3l6.6 7.3l3 7.4l0 5l-1 3.6l-2.3 3.4l-11 6.6l-8.3 3.7l-7.7 2.7l-9.7 2.3l-10.6 1.3l-10 0l-10.7 -1.3l-9.7 -2.3l-8.6 -3l-11.7 -5.7l-8 -5.7l-2 -6zM1212.5 491.5l0.3 5l1.4 4l2.6 4.7l4.7 5.6l8.7 7.7l13.6 9.3l18.7 10l12 5l13 4l14.3 2.4l13.4 -0l14 -2.4l14 -4.3l18 -8l18.6 -11l11 -8.3l4.7 -4.4l4.7 -5.6l2.6 -4.4l1.7 -6l0 -4.6l-1.7 -5.4l-7 -11l-6.3 -8l-7.7 -7.6l-8.3 -6.7l-17.7 -10.7l-13 -5.6l-14.6 -4.4l-13.7 -2l-15.3 0.4l-15.4 3l-16.6 6l-15.4 8l-13.3 9.3l-11.7 11.3l-11.6 16.4l-2 4.6z"/>
<path fill="#cfc027" d="M1251.8 488.5l2.3 -6l3.7 -5l5.3 -5l9.4 -6l9.3 -4l12 -3.3l11 -1.4l7.7 0l9 1l7.6 1.7l9.7 3.3l9.3 4.7l6.7 4.7l6.7 7l2.6 4.6l1.4 7.4l-1.7 6.3l-3 3.7l-6.7 4.3l-8.6 4.3l-11.7 4.4l-9.7 2.3l-10.6 1.3l-10 0l-10.7 -1.3l-9.7 -2.3l-8.6 -3l-11.7 -5.7l-6.7 -4.3l-2 -2l-2.3 -6zM1213.5 489.8l0 3.3l1.3 5.4l4 6.6l10.4 10.4l9.6 7l15 9l19 8.6l16.4 5l13 2l15.6 -0.3l14 -2.7l15.7 -5.3l14.3 -6.7l17.4 -10.3l11.6 -9l8.4 -9l3 -5.3l1.3 -4.7l0 -5l-1 -4l-5 -8.7l-8 -10.3l-7.7 -7.7l-8.3 -6.6l-17.7 -10.7l-13 -5.7l-14.6 -4.3l-13.7 -2l-15.3 0.3l-15.4 3l-16.6 6l-15.4 8l-13.3 9.4l-11.7 11.3l-11 15.3z"/>
<path fill="#e0bc2a" d="M1250.5 488.2l3 -8l3.3 -4.3l5.4 -5l8 -5.4l11 -5l10.3 -3l11 -1.6l12.7 -0l10.6 1.6l8.4 2.4l7.6 3l11 6.3l6 5l4.7 5.7l3 7.3l0 4.7l-1 4l-3 5l-8.3 5.6l-8.7 4.4l-11.7 4.3l-9.6 2.3l-10.7 1.4l-10 -0l-10.7 -1.4l-9.6 -2.3l-8.7 -3l-11.7 -5.7l-8.6 -6l-3 -6zM1214.5 488.2l1 8l4.7 8l8.6 8.7l13.7 10l14.7 8.3l19.3 8.3l14.3 4l12.7 1.7l14 -0.3l15.3 -3l13 -4.4l17.7 -8.3l13 -7.7l14 -10.6l8.3 -9.4l2 -3.6l1.7 -5.4l-0.3 -7l-1 -3l-3.7 -6.3l-8 -10.3l-7.7 -7.7l-8.3 -6.7l-17.7 -10.6l-13 -5.7l-14.6 -4.3l-13.7 -2l-15.3 0.3l-15.4 3l-14.3 5l-16 8l-12 8l-12 10.7l-5.7 6.6l-6.3 9l-1.7 3.4z"/>
<path fill="#eeba34" d="M1249.5 485.5l2.3 -6l3.4 -4.7l6.6 -6.3l9 -5.7l10.7 -4.6l9.3 -2.7l10 -1.7l11.4 -0.3l11.3 1.3l9.3 2.4l8.7 3.3l9 4.7l6 4.3l7.3 7.7l2.7 4.6l1.3 6.7l-1 5.3l-3 5.7l-3 2.7l-11 6.6l-11 4.7l-13 3.7l-12.3 1.6l-10 0l-10.7 -1.3l-9.6 -2.3l-14 -5.4l-9.7 -5.3l-5 -3.7l-3.3 -4.6l-1.7 -5zM1215.5 486.8l0.3 5.3l1 3.4l5 8l9.4 9l13.6 9.6l14.4 8l15.6 6.7l15 4.3l15 2l14.7 -0.6l13 -2.7l14.7 -5l15.6 -7.3l14 -8.4l15.4 -12.3l6.3 -8l2 -4l1 -4.3l-0.7 -7.7l-5 -9l-6.3 -8l-7.7 -7.7l-8.3 -6.6l-17.7 -10.7l-13 -5.7l-14.6 -4.3l-13.7 -2l-15.3 0.3l-15.4 3l-14.3 5l-16 8l-12 8l-12 10.7l-10.7 13.7l-2.3 4.6z"/>
<path fill="#fbbb3e" d="M1248.2 485.2l1.7 -5.7l3.3 -5.3l8 -7.7l8.3 -5.3l10.4 -4.7l11.3 -3.3l11 -1.7l13.3 0l9 1.4l11 3l11 4.6l7.7 4.7l8.7 7.7l3.6 5l2.4 6.3l-0 5l-2 6l-4.4 5.7l-8.3 5.6l-8.7 4.4l-11.6 4.3l-9.7 2.3l-10.7 1.4l-10 -0l-10.6 -1.4l-9.7 -2.3l-14 -5.3l-9.7 -5.4l-5 -3.6l-3.3 -4l-2.7 -6.4zM1216.5 486.2l1.3 7.7l4.7 7.6l8.7 8.7l10.3 7.7l14.7 8.6l18 8l13 4l14.3 2.4l14 -0l16.7 -3l15.6 -5.4l15.4 -7.3l13.3 -8l12 -9.3l4.3 -4.4l4.4 -5.6l2.3 -4.7l1 -4.3l0 -4l-1.3 -5l-2 -4l-4.4 -6l-11 -11.7l-11.6 -9l-14.4 -8.3l-13 -5.7l-14.6 -4.3l-13.7 -2l-15.3 0.3l-15.4 3l-14.3 5l-16 8l-12 8l-12 10.7l-10.3 13.3l-1.7 3.7z"/>
<path fill="#fec239" d="M1246.8 484.5l1.7 -6.3l4.3 -6.7l6 -5.7l10 -6.6l10.3 -4.7l14 -4l10.7 -1.3l10.3 -0l11.4 1.6l11.6 3.4l10 4.3l7.7 4.7l6.7 5.3l5.3 6.3l3 6.7l0.3 5.7l-1.3 5l-4 6.3l-4 3.7l-11 6.6l-11 4.7l-13 3.7l-12.3 1.6l-10 0l-10.7 -1.3l-9.7 -2.3l-14 -5.4l-9.6 -5.3l-5 -3.7l-4.7 -5.6l-2.7 -6.4zM1217.8 482.5l0.3 7.3l4 8.4l8.7 9.3l13 9.7l12.7 7.3l18 8l14.6 4.3l14 2l14 -0.3l14.7 -2.7l19.7 -7l12.6 -6.3l18.4 -12l10 -9.3l3.3 -4.4l2.3 -4.6l1.4 -6.4l-1.4 -7.3l-5.3 -8.7l-11 -11.6l-11.7 -9l-14.3 -8.4l-13 -5.6l-14.7 -4.4l-13.6 -2l-15.4 0.4l-15.3 3l-14.3 5l-13.7 6.6l-14.3 9.4l-12 10.6l-8.4 10.4z"/>
<path fill="#fdcb32" d="M1245.8 480.5l2.7 -6.3l4 -5.4l6.3 -5.6l8.7 -5.7l10 -4.7l13 -4l10.3 -1.6l11.7 -0.4l11 1.4l8.6 2l9.4 3.3l11.6 6l7.7 5.7l6 6.3l3.3 5.7l1.4 5l-0 3.3l-1 4.3l-4.7 7.7l-5 4.7l-11 6.6l-11 4.7l-13 3.7l-12.3 1.6l-10 0l-10.7 -1.3l-9.7 -2.3l-14 -5.4l-9.6 -5.3l-5 -3.7l-3.4 -3.3l-3 -4.3l-2.3 -6zM1218.8 482.5l0.3 5.3l1 3l5 8.4l9 8.6l11.7 8.4l15.7 8.6l13.3 5.7l13.7 4l12.6 2l14.4 -0l15.6 -2.7l14.4 -4.6l17.6 -8.4l13 -8l12.4 -10l7 -9l2.6 -8l-0.6 -7.3l-2 -4.7l-2.7 -4l-11 -11.6l-11.7 -9l-14.3 -8.4l-13 -5.6l-14.7 -4.4l-13.6 -2l-15.4 0.4l-15.3 3l-14.3 5l-13.7 6.6l-14.3 9.4l-12 10.6l-8 10.4l-2 4.6z"/>
<path fill="#fad52e" d="M1244.2 480.8l2.7 -7.7l5 -6.6l8.3 -7l8.3 -5l9.7 -4.4l13.7 -4l9 -1.3l11 -0.3l9.6 1l10.7 2.3l11 4l11.3 6l7.4 5.3l7.3 8l3 6l0.7 7.4l-1.4 4.6l-4.3 7l-6.3 6l-11 6.7l-11 4.7l-13 3.6l-12.4 1.7l-10 0l-10.6 -1.3l-9.7 -2.4l-14 -5.3l-9.7 -5.3l-5 -3.7l-6.6 -7.3l-3 -6.4zM1220.2 480.5l0 4l1 4.3l5.7 9.4l8.3 8l13.3 9.3l16.4 8.7l11.6 4.6l16.4 4.4l11.6 1.3l12 -0.3l15 -2.7l13.4 -4.3l15.3 -7l14 -8.4l10 -7.6l8.3 -9l2.7 -4.7l1.7 -5.7l-0.7 -8l-4 -7.6l-10.3 -11l-11.7 -9l-14.3 -8.4l-13 -5.6l-14.7 -4.4l-13.7 -2l-15.3 0.4l-15.3 3l-14.4 5l-13.6 6.6l-14.4 9.4l-12 10.6l-7 9.4z"/>
<path fill="#f6de29" d="M1242.8 478.2l2 -5.7l5 -7l8.3 -7.3l8 -5l10 -4.7l14 -4.3l10.4 -1.7l11.6 -0.3l15 2l11.4 3.3l11.3 5l9.7 6l9 8.4l3.6 5.3l2 5.3l0 6.4l-2.6 7l-5 6.3l-5.7 5l-11 6.7l-11 4.6l-13 3.7l-12.3 1.7l-10 -0l-10.7 -1.4l-9.7 -2.3l-14 -5.3l-10.6 -6l-6.4 -5l-6.3 -7.7l-2.7 -6zM1221.5 479.2l1 8l5 8.7l9.7 9.3l10.3 7.3l17.3 9.4l10.7 4.3l17 4.7l11.7 1.3l13 -0.3l15.6 -3l14.7 -5l13.3 -6.4l15 -9.3l10 -8.3l6.7 -8.4l1.7 -3.3l1.3 -5.3l-0.7 -7.4l-4.6 -8.6l-8.4 -8.7l-11.6 -9l-14.4 -8.3l-13 -5.7l-14.6 -4.3l-13.7 -2l-11.3 -0l-14 2l-14.7 4.3l-15 6.7l-15.3 9.3l-11.4 9.3l-8.3 10l-2 4.4z"/>
<path fill="#f5e825" d="M1241.2 476.5l3 -7.3l5.7 -7l8.6 -7l11 -6.4l9.7 -4l13.3 -3.6l10 -1.4l12.4 0l10 1.4l9.3 2.3l13.7 5.3l8.3 4.7l8.7 6.3l6.3 6.7l3.7 6.3l1 3l0.3 4.7l-1 4.7l-1.7 3.6l-6 7.7l-6.6 5.7l-11 6.6l-11 4.7l-13 3.7l-12.4 1.6l-10 0l-10.6 -1.3l-9.7 -2.3l-14 -5.4l-10.7 -6l-8.6 -7l-5.7 -7l-2.7 -6zM1223.2 477.2l0.7 7.7l4.3 8.3l8.7 9l11 8l14.3 8l16.3 6.7l12.7 3.3l15.3 1.7l13 -0.7l15.7 -3.3l11.3 -4l14.7 -7l9 -5.4l10.7 -8l8 -8.3l4 -7l1 -4l-0.4 -7.3l-1 -3l-3.3 -5.7l-7.3 -8l-11.7 -9l-14.3 -8.3l-13 -5.7l-14.7 -4.3l-13.7 -2l-11.3 -0l-14 2l-14.7 4.3l-15 6.7l-10.3 6l-12.7 9.3l-9 9.7l-2.6 4.6z"/>
<path fill="#f6f11f" d="M1239.2 475.2l0.7 -3l5 -8.3l8 -7.7l13.6 -8.7l10.7 -4.6l15.3 -4.4l10 -1.3l12.4 0l13 2l12.3 3.7l11.3 5l8.4 5l7.6 6l6.4 7l3 5.3l1 3l0.3 4.7l-1 5l-1.3 3l-3.7 5.3l-6.3 6.3l-4.4 3.4l-11.6 7l-11 4.6l-13 3.7l-12.4 1.7l-10 -0l-14 -2l-12.3 -3.7l-11.3 -5l-10.4 -6.3l-4.3 -3.4l-6.3 -6.3l-2.7 -3.7l-3 -7.6zM1225.2 475.2l0.7 8.7l3.6 7l8 8.6l11.7 8.7l14.3 8l12 5l15.4 4.3l13.6 1.7l12.4 -0.3l13.6 -2.4l17.7 -6l13 -6.3l11.7 -7.3l6.6 -5.4l6 -6l4.7 -7l2 -8.6l-1 -6l-5 -8.7l-8 -8l-9 -6.7l-13.3 -7.6l-13 -5.7l-14.7 -4.3l-13.7 -2l-11.3 -0l-14 2l-14.7 4.3l-15 6.7l-10.3 6l-11.7 8.6l-5.6 5.7l-3 4l-2.4 4.3z"/>
<path fill="#f8f818" d="M1236.2 475.8l1.7 -7l4.6 -7l8 -7.7l11 -7.3l14.4 -6.7l11.6 -3.6l10.7 -2l11.3 -0.7l9.7 0.7l14.3 3l13 4.6l11 5.7l10 7l7.7 7.7l4.7 7.6l1 4.4l-0 3.6l-2.7 8l-5.3 7l-8 7l-13 8l-12.4 5.4l-11.3 3.3l-12.7 2l-14.3 0l-11 -1.7l-13.7 -4l-8.6 -3.6l-10.4 -5.7l-8.6 -6.3l-7 -7l-4.4 -7.4zM1227.8 473.5l0.3 7.7l4 8.3l7.4 8l12.6 9.3l13 7l14.4 5.7l13.3 3.3l12 1.4l12 -0.4l12 -2l16 -5l12.3 -5.6l14 -8.7l11 -9.7l5.7 -8.6l1.7 -6.4l-0.4 -5l-1.3 -4.3l-3.7 -6l-7 -7.3l-10.6 -8l-16 -8.7l-9 -3.7l-12.4 -3.6l-17 -2.4l-14.6 0.7l-13.4 2.7l-14.3 5l-13 6.3l-12.3 8l-8.7 7.7l-5.7 7.6z"/></g>
<line x1="1149.8" y1="538.1" x2="1308.3" y2="631.5" stroke="#4d4d4d" stroke-width="0.9"/>
<line x1="1308.3" y1="631.5" x2="1467.3" y2="538.1" stroke="#4d4d4d" stroke-width="0.9"/>
<line x1="1149.8" y1="538.1" x2="1145" y2="540.9" stroke="#4d4d4d" stroke-width="0.8"/>
<line x1="1229" y1="584.8" x2="1224.3" y2="587.6" stroke="#4d4d4d" stroke-width="0.8"/>
<line x1="1308.3" y1="631.5" x2="1303.5" y2="634.3" stroke="#4d4d4d" stroke-width="0.8"/>
<line x1="1308.3" y1="631.5" x2="1313.1" y2="634.3" stroke="#4d4d4d" stroke-width="0.8"/>
<line x1="1387.8" y1="584.8" x2="1392.6" y2="587.6" stroke="#4d4d4d" stroke-width="0.8"/>
<line x1="1467.3" y1="538.1" x2="1472.1" y2="540.9" stroke="#4d4d4d" stroke-width="0.8"/>
<line x1="1149.8" y1="538.1" x2="1145" y2="540.9" stroke="#4d4d4d" stroke-width="0.8"/>
<line x1="1149.8" y1="510.9" x2="1145" y2="513.7" stroke="#4d4d4d" stroke-width="0.8"/>
<line x1="1149.8" y1="483.7" x2="1145" y2="486.5" stroke="#4d4d4d" stroke-width="0.8"/>
<linearGradient id="gb" x1="0" y1="0" x2="0" y2="1"><stop offset="0%" stop-color="#f9fb15"/><stop offset="6.2%" stop-color="#f5e327"/><stop offset="12.5%" stop-color="#feca33"/><stop offset="18.8%" stop-color="#f1ba37"/><stop offset="25%" stop-color="#c8c129"/><stop offset="31.2%" stop-color="#94ca4a"/><stop offset="37.5%" stop-color="#5ccc76"/><stop offset="43.8%" stop-color="#34c79c"/><stop offset="50%" stop-color="#12beb9"/><stop offset="56.2%" stop-color="#0cb3d3"/><stop offset="62.5%" stop-color="#21a3e3"/><stop offset="68.8%" stop-color="#2c90f0"/><stop offset="75%" stop-color="#347afd"/><stop offset="81.2%" stop-color="#4562fc"/><stop offset="87.5%" stop-color="#484cef"/><stop offset="93.8%" stop-color="#4536d5"/><stop offset="100%" stop-color="#3e26a8"/></linearGradient>
<rect x="1562.3" y="381.8" width="21.8" height="250.7" fill="url(#gb)" stroke="#7a7a7a" stroke-width="0.8"/>
<path d="M1584.1 610.6h-2.2M1584.1 588.7h-2.2M1584.1 566.9h-2.2M1584.1 545h-2.2M1584.1 523.1h-2.2M1584.1 501.2h-2.2M1584.1 479.4h-2.2M1584.1 457.5h-2.2M1584.1 435.6h-2.2M1584.1 413.7h-2.2M1584.1 391.9h-2.2" stroke="#333" stroke-width="0.8" fill="none"/>
<clipPath id="ccv"><rect x="102.2" y="774" width="286.2" height="276.2"/></clipPath>
<g clip-path="url(#ccv)"><rect x="102.2" y="774" width="286.2" height="276.2" fill="#3e26a8"/>
<g filter="url(#bl)"><path fill="#4332c9" d="M131.1 774.1l4.2 35l5.5 33.5l6.8 30.2l7.2 24l8.5 21l9 16.8l11 15.5l12.3 13l14 11.2l15.5 9.5l15.7 7.5l22.8 8.3l25 6.7l28.2 5.8l32.5 5l39 4.5l0 -11.8l-30 -4.5l-31.2 -6.2l-26.3 -6.8l-23.5 -7.7l-18 -7.5l-17.2 -9l-15.3 -10l-15.5 -13l-11.5 -12.3l-9 -11.7l-8.5 -13.5l-7.5 -14.5l-5.2 -12l-5.5 -14.8l-7.8 -25.7l-8.2 -36.8l-5 -29.7zM104.8 774.1l0.7 62.7l1.5 54.8l2 40.5l2.8 30.7l3.2 20.5l4.3 15.8l2.7 6.7l3.8 6.8l3.7 5l4.3 4.2l5.7 4.3l6.5 3.5l12.5 4.5l14.5 3.2l24.3 3.3l29.2 2.2l39 1.8l59.8 1.5l63 0.7l-0 -17.5l-35.5 -2.7l-41.8 -4.8l-32.5 -5.2l-25.7 -5.8l-22.8 -7l-15.7 -6.5l-16 -8.7l-8.3 -5.8l-7.2 -6l-8.3 -8.2l-6 -7.3l-9.7 -15l-8.8 -18.5l-7.2 -21.2l-6 -24l-6 -33.8l-4.5 -35.7l-3.5 -39z"/>
<path fill="#4639d9" d="M132.1 774.1l5 38.7l4.5 26.5l6.7 30.3l7.8 25.5l8 19.7l10.2 19l10 14l10.5 11.5l14.3 12l17 10.8l19 9l22.5 8l24.2 6.5l28.3 5.7l32.2 5l36 4.3l0 -9.5l-34.2 -5.3l-33.3 -6.7l-28.7 -7.8l-25.3 -9l-20.2 -9.5l-12 -7l-14.8 -10.5l-10.2 -9l-9.5 -10l-10 -12.7l-9 -14.3l-8.5 -16.7l-8.3 -20.5l-9 -29.5l-7.5 -33.3l-5.7 -35.2zM105.3 774.1l1.2 67l1.8 51.5l2 34.7l3 30.5l3.5 20.8l4.7 16.7l6 12.5l5 6.8l4.5 4.5l9 6.2l6.8 3.3l7.5 2.7l18.5 4.5l25 3.5l34.7 2.8l37.8 1.7l53.7 1.5l58.3 0.8l-0 -16l-41.8 -3.3l-39.2 -4.5l-33.8 -5.5l-23.2 -5.2l-22.8 -7l-17.2 -7.3l-13.5 -7.5l-9.3 -6.5l-6.2 -5.2l-12.3 -13l-9.7 -14.3l-8.8 -17.5l-8 -22.5l-6.7 -27l-5.3 -29.5l-4.7 -37.5l-3.8 -42.7z"/>
<path fill="#473fe3" d="M132.8 774.1l4.2 34.5l4.8 28.2l6.5 29.5l7.5 25.3l9.2 23l9 16.7l11.8 16.5l11.7 12.5l14.5 11.8l16.3 10l17.5 8.2l21.5 7.8l24.7 6.7l30.5 6.3l34.3 5.2l31.5 3.5l-0 -8.2l-38 -5.8l-32.8 -6.7l-26.7 -7.3l-25.3 -9l-10.2 -4.5l-18.8 -10l-16 -11l-10.2 -8.7l-13 -13.8l-9.3 -12.2l-8.7 -14.3l-9.3 -19l-10 -27.2l-7 -25.3l-7.2 -34.5l-4.5 -28.2zM105.8 774.1l0.7 49.7l2 61.8l2.5 41.7l3 28.8l3.8 21.2l4.7 16.3l2.8 6.5l3.7 6.7l4.3 5.8l5.5 5.5l10 6.7l14.7 6l17.5 4.3l19.8 3l32.7 3l43.3 2.2l60 1.8l51.5 0.7l-0 -15.2l-43.5 -3.5l-35.5 -4l-28 -4.3l-29.8 -6.2l-22 -6.5l-17.5 -7l-16.5 -9l-9.5 -6.8l-7.5 -6.5l-10.5 -11.5l-6.7 -9.5l-5.3 -9l-8.2 -18.2l-7.3 -22.3l-6.5 -28.2l-5.2 -32.5l-4.5 -39.5l-2.5 -32z"/>
<path fill="#4746eb" d="M133.3 774.1l4 32.2l6.2 36l6.3 26.8l7.2 23.5l8 19.7l10.5 19.5l11 15.3l11.5 12.2l13 10.8l17 10.7l20.8 9.8l21.2 7.5l27.3 7.2l26 5.3l30.2 4.7l34.8 4l-0 -7.2l-37.3 -5.5l-32.2 -6.5l-24 -6.3l-24 -8l-16 -6.7l-20.5 -11l-14.8 -10.3l-10.7 -9.2l-12 -12.8l-8.8 -11.5l-9 -14.5l-8.7 -17.7l-6.8 -17l-8.7 -28.5l-8 -35.5l-6 -37zM106.1 774.1l1 55.7l2 56.3l2.2 36.5l3 29.2l3.8 22l5 17.5l6.5 13.5l3.5 5l4.5 5l6 5l5.5 3.5l13.7 6l15.8 4.3l24.5 4l31.7 3l40.8 2.2l54.2 1.8l58.5 1l0 -14.8l-44.5 -3.5l-35.7 -4l-32.3 -5l-23.5 -5l-23.2 -6.7l-20.8 -8.5l-13 -7.3l-9.2 -6.5l-6.3 -5.2l-7.5 -7.5l-5.2 -6.3l-6 -8.5l-4.8 -8l-8.2 -17.7l-7.8 -23.5l-6.5 -28.3l-5.2 -32.5l-4.3 -37l-3 -35.7z"/>
<path fill="#484df1" d="M133.8 774.1l4 31.7l6 34.5l6.5 27.8l7 22.7l7.2 18.3l10 19.2l5.5 8.5l7 9.3l12.3 13l15.2 12.2l15.5 9.5l18 8.5l23 8.3l25 6.7l30.8 6.3l30.7 4.7l30.8 3.5l-0 -6.2l-37.8 -5.5l-32.5 -6.5l-25 -6.5l-24.5 -8.3l-14.7 -6.2l-15.5 -8l-15.8 -10.3l-12.2 -10l-12.3 -12.5l-10.5 -13.5l-9 -14.5l-8.7 -17.7l-6 -15l-4.5 -13.3l-7 -25.2l-6.3 -29.3l-5.7 -36.2zM106.3 774.1l1 53.5l2 55l2.2 36.5l3.5 33.2l3.5 19.8l5 17.5l2.3 5.5l5.2 9.7l3.5 4.8l5.5 5.7l5.8 4.5l6.7 4l12.8 5.3l21.2 5.2l22 3.3l29.8 2.7l40.5 2.3l53 1.7l56.5 1l-0 -14.2l-39.8 -3l-37.5 -4l-32 -4.8l-27.7 -5.7l-22.5 -6.5l-18.3 -7.3l-16.5 -9l-8.5 -6l-6.2 -5.2l-11.8 -12.5l-5 -6.8l-5.7 -9.2l-5 -9.8l-4.8 -11.2l-7 -21.5l-6.5 -28.3l-4.7 -29l-3.8 -31l-4 -46.2z"/>
<path fill="#4854f6" d="M134.3 774.1l4.5 34.5l6.2 34.5l6.5 26.7l7 22l9 21.5l9.3 16.8l11 15.2l12.2 13l12.8 10.5l17 10.8l18.7 9l22 8l27.5 7.5l24 5l28.8 4.7l37.5 4.8l-0 -5.5l-27.8 -3.8l-37.7 -7l-25.5 -6.2l-26.5 -8.5l-17.5 -7.3l-17.8 -9.2l-13 -8.5l-13.5 -11l-11.2 -11.5l-10.8 -13.8l-10.2 -16.7l-8.5 -17.8l-9.5 -26l-7.5 -27.5l-6.3 -30l-5.2 -34.2zM106.6 774.1l1 52.5l2.2 58.5l2.5 37.2l3.5 30.8l5 24.7l5 14.8l3.3 6.7l4.2 6.8l8.3 9l10 7l7.7 3.7l9.8 3.5l20 4.8l22.2 3.2l29.8 2.8l40 2.2l51.5 1.8l55.7 1l0 -13.8l-42.7 -3.2l-39 -4.3l-28.3 -4.2l-25.7 -5.3l-20 -5.5l-22.3 -8.5l-17 -9.2l-8.7 -6.3l-7 -6l-11 -12l-5.8 -8l-5.5 -9.2l-9 -20l-7 -22l-6 -26.5l-5.2 -32.8l-4.5 -40.2l-2.8 -34z"/>
<path fill="#475bfa" d="M134.8 774.1l4.7 35.2l5.5 30.3l7 29l6.8 21.2l7.5 18.5l9.7 18.5l10.8 15.5l12.5 13.8l14 11.7l17.7 11.3l17 8.2l23.8 8.8l28.5 7.7l22.7 4.8l33.8 5.5l31.5 3.7l-0 -4l-33.3 -4.7l-36.7 -7l-28.3 -7.3l-23.7 -8l-14.3 -6l-19.7 -10.5l-13.3 -9l-14.5 -12.5l-10.7 -11.7l-11.5 -16l-11.3 -20.8l-6 -14l-7.5 -21.7l-7.2 -27.3l-6.8 -33.7l-4.5 -29.5zM106.8 774.1l1 52.2l2 52.3l2.5 38.7l3.7 33.5l3.5 19l2.8 10.5l3.7 10.5l6.8 12.8l4.2 5.5l5.3 5.2l5.5 4.3l6.2 3.7l14.5 6l16.3 4.3l24.5 4l27.5 2.7l40.2 2.5l55.3 2l56 1l-0 -13.2l-42.8 -3.3l-41.2 -4.5l-28 -4.2l-28.5 -6l-20.5 -6l-18.8 -7.5l-15.5 -8.5l-8.5 -6l-6.2 -5.3l-9 -9.2l-9.5 -12.8l-8.3 -15l-6.5 -15.7l-4 -12.3l-4.2 -16l-6.8 -35l-5.2 -41l-4 -49z"/>
<path fill="#4563fc" d="M135.6 774.1l3.5 27.2l6.2 35.3l6.3 26.5l7.7 25l9 21.7l9.3 17l10.7 15.3l13.5 14.5l13.8 11.2l16.2 10.3l18 8.7l23 8.5l17.3 5l29.5 6.8l32 5.5l36.7 4.7l0 -3l-33.2 -4.5l-35 -6.5l-26.5 -6.5l-25 -8l-19.8 -8.2l-16 -8.5l-11.5 -7.5l-15.2 -12.5l-12.5 -13.3l-10.5 -14.2l-8.8 -15l-10.5 -23.5l-7.5 -22.3l-7 -27l-6 -30.2l-4.7 -32.5zM106.8 774.1l1.5 60.5l2 47.5l2.2 33.5l3.5 31.7l3.8 20.8l5.5 18.7l2.7 6.5l4.3 7.8l4.5 6.2l5.2 5.5l10.3 7.5l13.5 6.3l18.5 5.2l25 4.3l32.2 3.2l36.8 2.3l53.2 2l56.8 1.2l-0 -13.2l-39.8 -2.8l-36.5 -3.7l-34.7 -5l-27 -5.5l-19 -5.3l-21.8 -8.2l-9.5 -4.8l-8.7 -5.2l-13.3 -10.3l-11.7 -12.5l-8.5 -12.2l-7.3 -13.8l-6.7 -17l-7.5 -26.5l-6.8 -35.7l-5 -39.8l-4 -49.2z"/>
<path fill="#426afe" d="M136.6 774.1l4.5 31.7l6 32l6.2 25.5l7.5 23.5l10 23.5l9 16l10 14l13.8 14.8l15.5 12.5l15.7 9.7l20 9.5l23 8.3l26.8 7.2l23.7 5l28.3 4.8l31.7 4l-0.7 -0.8l-31 -4l-32.8 -5.7l-26.2 -6l-23.8 -7l-21.5 -8.3l-19 -9.5l-15.7 -10.2l-13.8 -11.5l-11.5 -12.3l-11.5 -15.7l-11 -20l-7.5 -17.8l-7 -21l-6.5 -25l-7 -35.7l-4.5 -31.5zM107.1 774.1l1.5 61.2l2 46l2.7 38.5l3.5 29.3l5.3 25.5l4.7 14l3 6.5l4.5 7.5l8.3 9.5l4.5 3.7l6.5 4.3l13 6l19.2 5.5l25 4.2l29 3l39 2.5l51.8 2l57.7 1.3l0 -12.8l-39.2 -2.7l-37 -3.8l-36.5 -5.2l-27.8 -5.8l-24.5 -7.2l-18 -7.5l-13.7 -7.8l-14 -10.7l-11.5 -12.3l-7.8 -11l-8 -15l-6.5 -16.2l-7.5 -26.3l-6.2 -32.2l-5.5 -42.5l-4.3 -51.5z"/>
<path fill="#3c71ff" d="M107.3 774.1l1.2 54.7l2.3 52l2.7 37.8l3.8 30.7l4.7 23l5.5 16.3l3.3 6.7l4.5 7.3l8.7 9.7l11.5 8l12.3 5.5l18.2 5.3l24.3 4.2l30.5 3.3l38.2 2.5l58.3 2.2l51 1l-0 -12.2l-50 -3.8l-40 -4.5l-32.5 -5.2l-30.5 -7.3l-18.5 -6.2l-13.5 -6l-13.8 -8l-13 -10.3l-9.5 -10l-9.7 -13.7l-7.3 -13.8l-7 -17.7l-7.2 -26l-6.5 -34.5l-5 -39.8l-4.3 -51.2z"/>
<path fill="#3479fd" d="M107.3 774.1l1.5 56.2l2.2 50.3l2.8 37l3.2 27.2l3.8 20.3l5.7 19.2l6.5 13.5l5.8 8l4.5 4.8l5.7 4.7l5.8 3.8l6.2 3.2l10 4l18.5 5l23.8 4l25.5 2.8l40.2 2.7l48.3 2l61 1.5l-0 -12l-46.8 -3.5l-43.2 -4.7l-39 -6.5l-27.8 -7l-18.2 -6.5l-14.3 -6.8l-13.5 -8.5l-11 -9.2l-11.2 -12.8l-8.3 -12.7l-7.5 -15.5l-6.2 -17.3l-6.5 -24.7l-5.8 -31.5l-5.5 -45l-3.5 -45.8z"/>
<path fill="#2f81fa" d="M107.6 774.1l1.5 57.7l2.2 48.8l2.8 36.2l3.2 27l4.3 22.3l5.2 17.2l2.8 6.5l4.5 8.3l4.2 6l4.5 5l4.5 4l6.8 4.7l8 4.3l7.2 3l18 5.2l27 4.8l31 3.2l38.5 2.5l57.5 2.3l47 1l0 -11.8l-43.2 -3l-48.5 -5.2l-39.8 -6.8l-24.7 -6.2l-14.8 -5l-17.2 -7.8l-13.5 -8.2l-10.3 -8.3l-10 -10.5l-9.2 -13l-7.8 -14.7l-7 -18l-7 -25.5l-6.5 -35l-5.2 -43l-3.8 -48z"/>
<path fill="#2d87f6" d="M107.8 774.1l1 45l2.2 53l3.3 44.2l3.5 28.3l4.7 23.5l6 18l5.5 10.7l3.8 5.5l5.7 6.5l5.5 4.8l5.5 3.7l13.8 6.8l9.5 3.2l10.5 2.8l23.2 4.2l31.3 3.5l40.5 2.8l47.7 2l57.3 1.5l-0 -11.5l-45.3 -3.3l-42.5 -4.5l-35.2 -5.5l-31 -7.2l-19.3 -6.5l-16.7 -7.8l-13.5 -8.5l-10.8 -9l-10.5 -11.7l-8.7 -13.3l-7.8 -16l-5.7 -15.7l-7.3 -27.8l-5.7 -32.5l-5.3 -44.5l-3.5 -44.7z"/>
<path fill="#2d8ef1" d="M107.8 774.1l1.7 61l2.3 45.7l2.7 35l3.8 29.5l4.7 22.8l6 17.7l3 6.3l4.8 7.7l8.2 9.5l10.3 7.8l8 4.2l9.2 3.8l20 5.5l25.3 4.2l28.2 3l36.8 2.5l53.5 2.3l52 1.2l-0 -11.2l-47.3 -3.3l-47.7 -5.2l-38 -6.5l-23.8 -6l-15.5 -5.3l-16.2 -7.2l-14 -8.5l-10.5 -8.5l-9.5 -10l-10 -14.3l-7.8 -15.2l-7 -18.8l-7 -26.7l-5.5 -30.5l-5.5 -45.8l-3.5 -46.7z"/>
<path fill="#2995ed" d="M108.1 774.1l1.2 49.5l2.5 53.5l2.8 35.7l4 31.8l4.5 21.7l5.7 17.5l3.3 7l5 8.3l4.7 6l4.5 4.5l5.3 4.2l8.5 5.3l14.7 6.2l19.8 5.3l22 3.7l29.7 3.3l35.8 2.5l59.2 2.5l47 1l0 -10.8l-49.2 -3.5l-41.8 -4.5l-32 -5l-28.7 -6.5l-16.8 -5.2l-15.2 -6.3l-15 -8.2l-13.5 -10.3l-10.8 -11.2l-9.5 -13.5l-7.5 -14.5l-7.5 -20l-6.7 -25.8l-5.5 -30.2l-5.8 -48l-3.5 -46z"/>
<path fill="#259be8" d="M108.1 774.1l1.5 51.7l2.2 47.8l3 39l3.5 28.2l5 24.8l5.8 17.5l6.2 12.2l4.8 6.8l5 5.5l5.5 4.7l6.2 4.3l14 6.7l9.5 3.3l11.5 3l20.3 3.7l29 3.5l40.2 3l50 2.3l57 1.5l0 -10.5l-48.2 -3.5l-46.3 -5l-33.7 -5.5l-27.3 -6.5l-18 -6l-17.5 -8l-12.5 -7.8l-11.7 -9.7l-9.5 -10.5l-9.5 -14.3l-7.5 -15.5l-5.8 -15.7l-6.7 -25.5l-5.8 -31.8l-5.5 -46l-3.7 -47.7z"/>
<path fill="#23a0e5" d="M108.3 774.1l1.5 54l2.2 46.2l3.3 40.5l4 30l4.5 21l6.2 18.3l4.3 8.5l4 6.2l4 5l5.2 5.3l5 4l8 5l15.8 6.7l22 5.8l23 3.7l28 3l40.2 2.8l53.8 2.2l45 1l-0 -10.2l-47.3 -3.3l-43 -4.5l-34 -5.2l-28.7 -6.5l-20.8 -6.8l-18 -8.2l-12.7 -8l-10 -8.3l-11.5 -12.7l-7.5 -11.3l-8 -16l-6 -16.2l-7 -26.5l-5.8 -32l-5.5 -46.5l-3.5 -47z"/>
<path fill="#1fa6e2" d="M108.3 774.1l1.7 56.2l2.5 48.5l2.8 33.5l3.7 29l5.3 24.8l5.7 16.7l3.8 7.8l4.5 7.2l8.7 10l11.5 8.5l14.3 6.8l19.2 5.7l24.3 4.5l27.5 3.3l40.2 3l49 2.2l55.3 1.5l-0 -10l-46.3 -3.2l-45.5 -4.8l-33.7 -5.2l-28.5 -6.5l-21.3 -7l-17.2 -8l-11.3 -7l-10.5 -8.5l-11.2 -12.3l-9 -13.5l-7.8 -16l-6.2 -17.5l-7 -27.7l-5.8 -34l-4.5 -39.3l-3.7 -48.7z"/>
<path fill="#1aacdd" d="M108.6 774.1l1.5 52.2l2.5 49.3l3.2 39l3.3 24.7l5 24.3l6 18l6.2 12.2l6 8.3l4.5 4.7l10.8 8.3l8.7 4.7l6.5 2.8l11.3 3.7l10.7 2.8l20.3 3.7l28.7 3.5l39.3 3l54.2 2.5l51 1.3l0 -9.8l-51 -3.5l-42.2 -4.5l-33.5 -5.2l-28.3 -6.5l-18.5 -6l-19.2 -8.8l-11.3 -7l-10 -8l-10 -10.5l-9.7 -14l-8.8 -17.7l-6 -16.8l-6.5 -25.2l-3.5 -18.3l-3.2 -21.5l-5 -46.2l-2.8 -39.5z"/>
<path fill="#13b1d7" d="M108.6 774.1l2 60.5l2.5 45.5l2.5 29.7l4.5 33.5l4.7 21.5l3.8 11.8l3 7.2l4 7.8l3.7 5.7l3.8 4.8l6.2 6.2l5.8 4.5l6.5 4l15.2 6.8l17.5 5l22.8 4.2l29.2 3.5l40 3l48.3 2.3l53.7 1.5l0 -9.5l-47 -3.3l-47.7 -5l-33.3 -5.2l-26.2 -6l-16.8 -5.3l-13 -5.2l-9 -4.5l-8.7 -5.3l-12.3 -9.5l-10.2 -10.7l-9.8 -14l-7.2 -14.3l-6.8 -18l-7.2 -27.7l-6.5 -38.3l-4 -35l-4 -52.2z"/>
<path fill="#07b5d0" d="M108.8 774.1l1.7 56.7l2.8 50l3.5 38l3.7 25.5l5 21.8l6.5 17.7l3.5 6.8l4.8 7.2l9.5 10.3l4.7 3.7l8 5l12.8 5.8l19.5 5.7l24.2 4.5l29.8 3.5l36.5 2.8l53.2 2.5l49.8 1.2l-0 -9.2l-48.8 -3.3l-45.5 -4.7l-32.2 -5l-28.8 -6.5l-14.5 -4.5l-15 -6l-16.5 -9l-12.7 -9.8l-10.8 -11.2l-9.5 -13.8l-8 -16l-6.7 -18.7l-6.8 -26.8l-5.5 -32l-4.7 -41l-3.8 -51.2z"/>
<path fill="#00b9c8" d="M108.8 774.1l2 59l2.2 41.2l3 35.5l4.5 32.8l4.5 20.2l3.5 11.3l3 7.5l7.3 13.2l5 6.5l6.2 6.3l5.8 4.5l6 3.7l14.7 6.8l18.8 5.5l24 4.5l29.2 3.5l39.8 3l47.5 2.2l52.5 1.5l-0 -9l-44.5 -3l-45.3 -4.5l-35.2 -5.2l-27.5 -6l-19.5 -6l-13 -5.3l-16.5 -9l-12.8 -9.7l-10.7 -11.3l-9.5 -13.7l-7 -13.8l-7.3 -19.5l-7.7 -31l-5.3 -31.7l-4.2 -37l-4 -53z"/>
<path fill="#06bcbf" d="M109.1 774.1l1.5 49.5l2.7 51.5l2.8 32.5l4.5 33.2l4.7 21.5l3.3 10.5l3.5 8.8l3.5 7l4.7 7.5l3.8 4.7l6.5 6.5l11.7 8.3l15.5 7l19 5.5l22.8 4.2l28.7 3.5l43 3.3l41.8 2l55.2 1.7l0 -9l-46.2 -3l-45 -4.5l-35 -5.2l-27.3 -6l-18 -5.5l-14.2 -5.8l-16 -8.7l-12.5 -9.5l-11 -11.5l-9.5 -13.8l-8.3 -16.7l-6.2 -17.5l-6.5 -25.5l-6.5 -38.8l-4.8 -44l-3 -43.7z"/>
<path fill="#16bfb7" d="M109.1 774.1l1.7 51.7l2.5 46.5l3.3 37.8l4 29l4.5 21l5.7 17.5l6.8 13.5l4.5 6.5l6.2 7l5.5 4.7l6.5 4.5l6.8 3.8l9.2 4l8.8 3l13.2 3.5l18.3 3.5l26.7 3.5l42.8 3.5l50.7 2.5l51.5 1.5l0 -8.5l-45 -3l-43.5 -4.3l-34.7 -5l-15.5 -3l-18.5 -4.5l-18.5 -6l-17.8 -8l-13.2 -8.2l-11.8 -10l-9 -10.3l-8.5 -13l-7.7 -16.2l-6.3 -18l-6.2 -25.3l-5.8 -34.2l-4.7 -42.8l-3.5 -48.2z"/>
<path fill="#25c2ae" d="M109.3 774.1l1.5 48.5l2.7 50.7l2.8 32.3l4.2 31.7l4.8 22.3l5.7 17.5l6.8 13.5l5.5 7.7l6 6.5l11.5 8.8l16 7.7l16.7 5.3l23.3 4.7l28.7 3.8l39.5 3.2l49 2.5l54.3 1.8l-0 -8.5l-46.8 -3l-43.2 -4.3l-37.3 -5.5l-28.2 -6.2l-19.8 -6.3l-18.5 -8.2l-13.2 -8.3l-11.3 -9.5l-9.5 -10.7l-8.5 -13l-7 -14.5l-7.2 -20.8l-4.3 -16.5l-3 -14.5l-5 -32l-4.5 -42.5l-3 -44.2z"/>
<path fill="#2ec4a5" d="M109.3 774.1l2 56.5l2.2 40l3.3 37.5l4 29l5 23l3.5 11.2l3.5 8.8l3.5 7l4.7 7.5l9.3 10.5l6.5 5.2l5.7 3.8l14.8 7l20.7 6.2l20.5 4l26.8 3.5l42.5 3.5l49.7 2.5l50.8 1.5l-0 -8l-45.5 -3l-46 -4.5l-32.8 -4.7l-31.2 -6.8l-21.3 -6.7l-16.7 -7.5l-13.8 -8.5l-10.7 -9l-10 -11.3l-8.8 -13.5l-7.2 -15.2l-6.3 -18l-6.2 -25.3l-5.5 -32.5l-5.3 -47.7l-3.2 -46z"/>
<path fill="#34c79b" d="M109.6 774.1l1.5 47.5l2.7 50l2.8 32l4.5 33.2l5.2 23.8l6.8 19l3.5 7l4.7 7.5l5 6.2l5 5l11.8 8.5l14.7 7l12 4l9.8 2.5l20.7 4l34.8 4.3l35.5 2.7l44.2 2.3l53.5 1.7l0 -8l-47.2 -3l-47.8 -4.7l-33.2 -5l-28.3 -6.3l-19.7 -6.2l-17 -7.5l-14.3 -8.8l-10.7 -9l-10 -11.2l-8.8 -13.5l-6.5 -13.5l-7.2 -20.8l-3.5 -13.2l-3.8 -17.8l-4.7 -30.2l-4.5 -41.8l-3.3 -47.7z"/>
<path fill="#3dca90" d="M109.6 774.1l2 55.2l2.7 46.5l3.3 34.8l4.2 28.7l5.8 24.3l5.7 15.5l7.5 13.5l5.3 6.7l6 6l6 4.8l6.7 4.2l14.8 6.8l19.2 5.7l23.3 4.5l27.5 3.5l39.7 3.3l49 2.5l50 1.5l0 -7.5l-49 -3.3l-41.2 -4l-35 -5l-16.8 -3.2l-15.5 -3.8l-17.5 -5.5l-18 -7.7l-14.7 -9l-10.5 -8.8l-10.3 -11.5l-8.7 -13.5l-6.3 -13l-7 -19.7l-4 -15l-3.2 -15.3l-5.3 -33.2l-4.2 -39.5l-3.5 -49.5z"/>
<path fill="#4bcb84" d="M109.8 774.1l1.5 46.5l3 52.7l3 33l4.2 30l5 22.5l6 17.5l7 13.5l5.3 7.3l5 5.5l7 6l6.7 4.5l14.5 7l11.8 4l11.5 3l22.5 4.2l33 4l35.2 2.8l43.5 2.2l52.8 1.8l-0 -7.5l-47.8 -3l-44 -4.3l-33.2 -4.7l-27.8 -5.8l-21.7 -6.5l-13 -5.2l-16.5 -9l-7 -5l-7.3 -6.3l-10.5 -11.7l-9 -14l-8 -17.5l-5.2 -15.8l-3.8 -14.2l-3.5 -16.8l-4.7 -30.2l-4.5 -42.3l-3.3 -48.2z"/>
<path fill="#5bcc77" d="M109.8 774.1l2 54.2l2.7 45.8l3.3 34.5l3.5 24.7l5 23.3l5.7 17.5l7.3 14.5l5.5 7.7l6.5 7l7 5.8l7 4.5l14.5 6.7l16.7 5.3l22.8 4.7l29.7 4l34.5 3l49.5 2.8l55.3 1.7l-0.3 -7.2l-49.2 -3l-43.8 -4.3l-33 -4.7l-28.5 -6l-17.7 -5.3l-15.3 -6l-16.5 -9l-7 -5l-7 -6l-10 -11l-9.7 -15l-8.3 -18.2l-5.7 -17.8l-6.3 -27.2l-5 -32l-4.7 -45.8l-3 -44.2z"/>
<path fill="#6bcd69" d="M110.1 774.1l1.5 45.7l3 51.8l3.7 39.2l4.3 27.8l5.2 22l5.8 16l4.5 9l4.5 7l5 6.2l5 5l6.2 5l7 4.5l14.5 6.8l9.5 3.2l13.3 3.5l19.5 3.8l33.5 4.2l33.7 2.8l52.5 2.7l46 1.5l0 -7l-48.2 -3l-46.5 -4.5l-32.8 -4.7l-29.2 -6.3l-18.8 -5.7l-13 -5.3l-15.2 -8.2l-7.8 -5.5l-6.7 -5.8l-10.3 -11.2l-8.5 -12.8l-7.5 -15.5l-7 -20.2l-6.2 -26.3l-5.8 -36.2l-4.2 -40.5l-3.3 -49z"/>
<path fill="#7ecc5b" d="M110.1 774.1l2 53.2l3 48.3l3.2 33.2l4.5 29.5l5.8 23.5l6.5 17l8.2 14l4.3 5.3l5.7 5.7l11.3 8.3l15.5 7.5l21.2 6.5l23 4.5l29 3.7l35.5 3l51 2.8l48.5 1.5l-0.2 -6.8l-43.3 -2.5l-48.5 -4.5l-36.7 -5.2l-29 -6.3l-17.3 -5.2l-14.2 -5.8l-14.8 -8l-6.5 -4.5l-7.7 -6.5l-9.8 -10.5l-5.7 -8l-4.8 -8l-7.2 -15.7l-7 -21.5l-5.8 -25.5l-5.5 -36l-3.7 -36.3l-3.5 -50.7z"/>
<path fill="#90ca4d" d="M110.3 774.1l1.5 44.7l2.7 47.8l3.8 40.2l4 27.3l5 22.2l6.7 19.3l6.8 12.7l5.2 7.3l5 5.5l6 5.2l6.8 4.8l14.2 7.2l18.8 6.3l21.7 4.7l27.8 4l38 3.5l47.5 2.8l56.5 2l-0 -6.5l-45.5 -2.8l-36.8 -3.2l-37.2 -4.8l-31.3 -6l-20.7 -5.7l-18 -7l-14 -7.5l-8.3 -5.8l-6.2 -5.2l-11.3 -12.3l-9.5 -14.7l-8 -17.8l-6 -18.7l-5.7 -25.3l-5.5 -35.7l-4.8 -48l-2.5 -40.5z"/>
<path fill="#a1c840" d="M110.3 774.1l2 52l2.5 41.2l3.5 37.5l4.2 29l4.5 20.3l3.5 11.5l3.5 9l3.8 7.7l5.2 8.5l4.3 5.5l5.5 5.8l7 5.7l7 4.5l15.5 7.3l16.7 5.2l24 5l27.5 3.8l43.5 3.7l46.5 2.5l47.8 1.5l-0 -6.2l-47.5 -2.8l-45.5 -4.2l-34 -4.8l-28 -5.7l-22.5 -6.8l-12.3 -5l-14 -7.5l-9.2 -6.5l-5 -4.2l-10.8 -11.5l-6.5 -9.3l-3.7 -6.5l-7.5 -16.5l-6.3 -19.2l-6.5 -29l-5 -33.5l-4.2 -42.5l-3 -45.5z"/>
<path fill="#b2c534" d="M110.6 774.1l2 54l2.7 43.2l3 31.5l4.8 32l5.5 23.3l6.7 18.2l4 7.8l4.5 7l5.3 6.5l4.7 4.7l6.5 5.3l7 4.5l15.5 7.2l21.8 6.5l21.7 4.3l33.5 4.2l33.3 2.8l45.2 2.5l50 1.7l0 -6l-42.7 -2.5l-42.8 -3.7l-36.7 -4.8l-30.8 -6l-16.5 -4.5l-20.5 -7.7l-15.2 -8.3l-12.5 -9.5l-7.5 -7.5l-4.8 -5.7l-9 -14l-7.7 -17l-6.5 -20.3l-6.5 -29.7l-4.8 -32.5l-4.2 -43.3l-2.8 -44.2z"/>
<path fill="#c3c22b" d="M110.6 774.1l2 50.7l3 47.3l3 30.7l4.7 31.8l5.5 23l6.8 18.2l4 7.8l4.5 7l5 6.2l5.5 5.5l11.5 8.5l10 5.3l7.2 3l9.5 3.2l14.3 3.8l19.5 3.7l33 4.3l36.2 3l51.5 2.7l41 1.3l-0.2 -5.8l-44.5 -2.5l-42.5 -3.7l-34.8 -4.5l-30 -5.8l-25.2 -7.2l-16.3 -6.8l-15.7 -9.2l-11.3 -9.3l-9 -10l-9.5 -14.5l-8 -17.5l-6 -18.5l-6.7 -30.5l-5 -34.2l-4 -40.8l-3 -46.2z"/>
<path fill="#d1bf27" d="M110.8 774.1l1.5 42.5l3 49.7l3.2 34.5l4.5 30.8l5.8 24.7l7 19l4 7.8l4.5 7l5 6.2l6 6l7.7 6l5.3 3.3l15.5 7.2l21.5 6.5l23 4.5l28.7 3.8l37.8 3.2l44.5 2.5l49 1.8l-0 -5.5l-50.3 -3l-38.7 -3.5l-34.5 -4.5l-29.8 -5.8l-24.2 -7l-15.3 -6.2l-13.5 -7.5l-13.2 -10.3l-9.8 -10.5l-9.5 -14.2l-8.5 -18.5l-6.2 -19.5l-6 -27l-5 -33.3l-4.5 -45.5l-2.8 -45z"/>
<path fill="#dfbc2a" d="M110.8 774.1l2 49.2l3 46.8l3 30.7l4.7 31.8l5.5 23.2l2.8 8.5l4.5 11l8.2 14.3l4.8 6l6.5 6.5l6 4.7l7 4.5l15.5 7.3l16.5 5.2l24.7 5.3l24.8 3.5l40.2 3.7l46.8 2.8l51 1.7l-0 -5l-38.5 -2.2l-50 -4.3l-38 -5l-29 -5.7l-22.3 -6.5l-14.2 -5.8l-15 -8.2l-12 -9.3l-6.8 -6.7l-5.7 -7l-8.5 -13.5l-6.8 -14.8l-7.2 -22.5l-6.3 -29l-4.7 -33l-4 -41l-3 -47.2z"/>
<path fill="#ebba31" d="M111.1 774.1l1.7 46l3 47.2l3.5 35.5l4.3 28l5.7 24.5l6.3 17.3l4.5 9l4.2 6.7l5.3 6.8l6.7 6.7l11.8 8.5l15.5 7.5l17.7 5.8l21.8 4.7l33.7 4.8l36.5 3.2l47.5 2.8l47.5 1.7l0 -5l-40.7 -2.2l-47.3 -4l-38.5 -5l-26 -5l-16.2 -4.3l-10.8 -3.5l-15.5 -6.5l-7.5 -4l-8.5 -5.5l-10.2 -8.5l-9.3 -10.2l-9 -13.8l-8 -17.5l-6.7 -21.2l-6.3 -29.3l-4.5 -31.2l-4.2 -43.8l-3 -46.2z"/>
<path fill="#f6ba3c" d="M111.1 774.1l2.2 52.2l3.3 47.5l3.5 32.8l4.5 27.7l5.2 21.3l6.3 17l8 14.5l6 7.7l6.5 6.5l12.5 9l6.5 3.5l10.5 4.5l16.7 5.3l23.5 5l26.3 3.7l36.7 3.5l44.5 2.8l54.5 2l0 -4.5l-46.7 -2.8l-45.5 -4l-34.3 -4.5l-27.2 -5.2l-17 -4.5l-9.8 -3.3l-12.2 -5l-15 -8.2l-12 -9.3l-6.5 -6.5l-5 -6l-9.3 -14.5l-7.5 -16.7l-6.5 -20.8l-6 -28l-4.7 -33l-4 -41.2l-3 -48.5z"/>
<path fill="#febe3c" d="M111.3 774.1l2.2 53.5l3.3 46.5l3.5 32.2l4.2 26.3l5.8 23.2l6.7 17.8l8 14l5.8 7.2l5.7 5.8l11 8.2l14.8 7.5l16.5 5.8l26.5 6l29.5 4.2l40.7 3.8l41.8 2.5l51 2l-0 -4.5l-52.5 -3l-41.8 -3.8l-32.2 -4.2l-30.8 -6l-22.2 -6.5l-14.8 -6l-12.7 -7l-7.5 -5.3l-6.8 -5.7l-6.5 -6.8l-5 -6.2l-8.7 -14.3l-7.3 -16.7l-5.5 -17.5l-6.2 -28.8l-5 -34.7l-3.8 -38.8l-3.2 -50.7z"/>
<path fill="#fec537" d="M111.6 774.1l1.5 40.5l3.2 50.7l3.3 32.8l4.5 30l6.2 26.2l6.5 17.5l3.8 7.5l5 8l4.2 5.5l6.8 7l11.2 8.5l7.5 4.3l8.3 3.7l19.5 6.5l22.7 5l29.3 4.3l36.7 3.5l49.3 3l47.2 1.7l0 -4l-51.7 -3l-42.3 -3.7l-34.2 -4.5l-27.3 -5.3l-23.7 -6.7l-16.5 -6.8l-14.8 -8.5l-12.7 -10.5l-10.3 -12l-6.7 -10.7l-8 -17.5l-6.8 -21.5l-5.7 -27l-4.8 -33l-4.5 -48l-2.5 -43.5z"/>
<path fill="#fdcc32" d="M111.6 774.1l2.2 51l3 43.2l3.8 35.3l4.2 26.5l5 21l7 19.5l8.3 15l5.7 7.5l4.5 4.7l12 9.5l7.3 4.3l8.5 4l18 6.2l24 5.5l28.2 4.3l35.3 3.5l41.7 2.7l58 2.5l0 -4l-43.7 -2.2l-47.8 -4l-37 -4.8l-28.5 -5.5l-18.2 -5l-17.3 -6.5l-15.5 -8.2l-12.2 -9.3l-11.3 -12l-5 -7l-5.5 -9.5l-7.2 -16.7l-6.5 -21.5l-5 -23.8l-5 -34.7l-4.3 -45.3l-2.7 -46.2z"/>
<path fill="#fad42e" d="M111.8 774.1l1.7 42.5l3.3 48.7l4 37.8l4.5 27.5l5.5 22.2l6.5 17.5l4 8l4.5 7.3l5 6.5l6.5 6.7l11.5 8.8l7 4l9.2 4.2l20.5 6.8l23 5l29.5 4.2l33.8 3.3l47 3l49.5 2l-0 -3.5l-46.8 -2.5l-44.7 -3.8l-35.8 -4.5l-30.2 -5.7l-16.8 -4.5l-20.5 -7.8l-15.7 -8.7l-8 -6l-5.3 -4.8l-10.5 -12.2l-5.7 -9l-4.5 -8.8l-5.8 -14.2l-6.2 -21.5l-5.8 -29.3l-4.2 -32l-3.8 -41.5l-2.7 -45.7z"/>
<path fill="#f7dc2a" d="M112.1 774.1l2 47.5l3.2 46.2l3.8 34.5l5 29.8l6 23l6 15.5l5 9.5l5 7.5l10.2 11.2l11.8 8.8l15.2 7.7l17.5 6l25.3 5.8l26.5 4l37.5 3.7l46.2 3l50 2l0 -3l-50 -2.7l-41.7 -3.5l-32.8 -4l-29.2 -5.3l-22 -5.7l-17.5 -6.5l-16 -8.5l-13 -10l-10.5 -11.5l-9.3 -14.5l-5.2 -11.3l-3.5 -9.2l-6.8 -24l-5 -26.3l-4.2 -32.2l-3.8 -42l-2.7 -45.5z"/>
<path fill="#f5e427" d="M112.1 774.1l2.7 56l2.8 37l3.7 34.2l4.5 27.3l5.8 23l6.7 18l3.3 6.5l5.7 9.2l6.3 7.8l4.7 4.7l12.3 9.3l14 7.2l20.2 7l25.8 5.8l27 4l35 3.5l50.2 3.2l45.5 1.8l0 -2.5l-42.2 -2.3l-42.3 -3.2l-39 -4.5l-30 -5.3l-21.5 -5.5l-20.7 -7.7l-14.3 -7.8l-6.7 -4.7l-7 -6l-10 -11.3l-8.3 -13l-8.2 -18.7l-7 -24l-5.5 -28.5l-4.3 -32.5l-4 -46l-2.2 -42z"/>
<path fill="#f5ec22" d="M112.3 774.1l2.7 55.2l3.3 42l3 26.8l5.2 31.5l5.5 21.5l6.5 17.2l3.8 7.5l5.5 8.8l5.7 7.2l6 6l11.8 8.8l14.5 7.5l21.2 7.2l23.5 5.3l30.5 4.5l35.8 3.5l46.5 3l45 1.7l-0 -2l-46.5 -2.5l-41.5 -3.2l-33 -3.8l-31.3 -5.2l-22.2 -5.5l-19.5 -7l-15 -7.8l-8 -5.5l-6.3 -5.2l-10.5 -11.5l-8.5 -13.3l-8 -18l-6.7 -22.5l-5.8 -29l-4.5 -34.2l-3.7 -43l-2.5 -46z"/>
<path fill="#f7f51b" d="M112.8 774.1l2.2 49.5l3.5 45.7l3.3 28.5l5.2 31l5.3 20.5l6.7 18l4.8 9.3l5 7.7l5 6.3l7 7l11.5 8.5l14.5 7.5l20.2 7l25.5 5.7l30.5 4.5l35.8 3.5l41.2 2.8l48.3 2l-0 -1.5l-47.8 -2.5l-49.5 -4l-32.5 -4l-23 -4l-25.7 -6.5l-17.5 -6.5l-14.3 -7.5l-13 -9.8l-6.5 -6.5l-4.7 -5.7l-9.3 -14.8l-7.7 -18.2l-6.5 -22.8l-5 -25.7l-4 -29.8l-4.5 -51.5l-2.5 -43.7z"/></g>
<line x1="108.8" y1="1033.5" x2="388.4" y2="1033.5" stroke="#fff" stroke-width="2.4" stroke-dasharray="10.5 8"/>
</g>
<rect x="102.2" y="774" width="286.2" height="276.2" fill="none" stroke="#262626" stroke-width="0.9"/>
<path d="M149.9 774v2.6M149.9 1050.2v-2.6M197.6 774v2.6M197.6 1050.2v-2.6M245.3 774v2.6M245.3 1050.2v-2.6M293 774v2.6M293 1050.2v-2.6M340.7 774v2.6M340.7 1050.2v-2.6M102.2 801.6h2.6M388.4 801.6h-2.6M102.2 829.2h2.6M388.4 829.2h-2.6M102.2 856.9h2.6M388.4 856.9h-2.6M102.2 884.5h2.6M388.4 884.5h-2.6M102.2 912.1h2.6M388.4 912.1h-2.6M102.2 939.7h2.6M388.4 939.7h-2.6M102.2 967.3h2.6M388.4 967.3h-2.6M102.2 995h2.6M388.4 995h-2.6M102.2 1022.6h2.6M388.4 1022.6h-2.6" stroke="#262626" stroke-width="0.9" fill="none"/>
<clipPath id="ccl"><rect x="510.4" y="774" width="286" height="276.5"/></clipPath>
<g clip-path="url(#ccl)"><rect x="510.4" y="774" width="286" height="276.5" fill="#3e26a8"/>
<g filter="url(#bl)"><path fill="#4332c9" d="M511.8 774.1l0.8 50.2l1.5 44.8l2.5 39l2.7 23.8l4.8 23.2l5.2 15l6.5 11.8l4.5 5.7l5.2 5.2l6.8 5.3l5.2 3.2l16 7.3l19.5 5.8l25.8 5l33 4.2l37.2 3.2l54.8 3.3l52.5 2l0 -3.5l-60 -3l-47.5 -3.5l-39.5 -4.2l-31.5 -5l-20.8 -4.8l-21.5 -7.2l-14.7 -7.5l-10.8 -8l-9.2 -10l-8 -13.3l-6.2 -16.5l-5.3 -23.2l-3.2 -24.5l-2.3 -27l-2.2 -47l-1.3 -49.8zM510.5 774.1l0 156.2l1.5 46l1.8 18.5l2.7 13.3l3.5 8.5l2.5 3.8l3.5 3.7l4 3l5.2 2.8l13.3 4.2l17.2 3l22 2.2l28.3 1.8l48 1.8l132.2 2l0.1 -9.5l-64.5 -2.3l-54.8 -3l-41.2 -3.5l-36.3 -5l-21.5 -4.8l-13.8 -4.5l-11.7 -5.5l-6.2 -4l-5.3 -4.2l-7.8 -8.8l-3.5 -5.5l-3.5 -7.2l-4.7 -14.5l-4.2 -23.2l-2.5 -25.5l-1.8 -31.8l-1.5 -53.5l-0.5 -53z"/>
<path fill="#4639d9" d="M511.8 774.1l1 55.8l1.8 46l2.2 32.2l3 24.8l4.2 20.5l5.3 15.2l3.8 7.5l3.5 5.5l7.7 9l11.5 8.8l15.2 7.5l16 5.2l29.3 6.2l26.8 3.8l42 4l51.7 3.2l59.5 2.5l0 -3l-49.5 -2.2l-57.2 -4l-42.3 -4.5l-27.2 -4.2l-24.5 -5.5l-18.3 -6l-15.5 -7.5l-11.8 -8.5l-9.7 -10.5l-4.8 -7.3l-3.7 -7.2l-5.5 -15l-4.5 -19.3l-3.5 -24.5l-2.8 -32.8l-2 -42.5l-1.2 -53.2zM510.5 774.1l0 143l1.8 55.2l2 20l3 13.8l2 5.2l2.7 5l5.2 6l8.5 5.5l5.5 2.3l9.5 2.8l18.3 3.2l24.5 2.5l28 1.8l45.5 1.7l129.2 2.2l0.1 -8.7l-66.8 -2.2l-54.8 -3l-38.7 -3.3l-35.5 -4.8l-21.2 -4.5l-15 -4.7l-13.3 -6.2l-9.8 -7l-8.5 -9.5l-4 -6.5l-3 -6.5l-4.5 -14l-3.7 -20l-2.5 -23.5l-2 -34.5z"/>
<path fill="#473fe3" d="M511.8 774.1l1 53.5l1.8 46.5l2.5 35.2l2.7 22.3l4.2 20.8l5.5 16l3.5 7l4 6.2l4 5l5.3 5.2l12 8.5l9 4.5l8.2 3.3l17.8 5.2l26.5 5.3l34.8 4.5l40.5 3.5l50.7 3l50.5 2l0 -2.5l-53 -2.5l-53.5 -3.8l-38.8 -4l-35.2 -5.5l-25 -6l-17.5 -6.2l-13.5 -7l-12 -9.2l-8.5 -9.8l-7.2 -12.5l-5.5 -14.5l-5.3 -22.8l-3 -21.5l-2.8 -32.5l-2.2 -49.5l-1 -47.7zM510.5 774.1l0 137l0.8 35.2l1.2 26.3l2 18.8l2.8 12.7l4 9.5l6 7.5l5 3.8l6.2 3.2l9.5 3.2l17 3.5l26 3l34.5 2.3l45.8 1.8l125 2.2l-0 -8.2l-64.8 -2.3l-59.8 -3.2l-40.2 -3.5l-34 -4.8l-18.5 -4l-15.8 -5l-13 -6.2l-9 -6.5l-5 -5l-3.7 -4.8l-3 -4.8l-3.8 -7.7l-5 -16l-3.5 -19.5l-2.5 -24.8l-1.7 -30.7z"/>
<path fill="#4746eb" d="M511.8 774.1l1 51.5l1.8 47l2 30l3.2 28l4.5 21.8l5.2 15.2l3.8 7.5l4 6.2l8.5 9.5l5.5 4.5l6.5 4.3l8.8 4.5l8 3.2l22.2 6.5l23.2 4.5l34.5 4.5l40 3.5l50 3l51.8 2l-0.2 -2.2l-56 -2.5l-52.8 -3.8l-42 -4.5l-25.8 -4l-25.5 -5.7l-19.2 -6.5l-15.2 -7.8l-6.5 -4.5l-5.3 -4.5l-9.2 -10.7l-7.5 -13.5l-5.3 -14.8l-4.8 -21.5l-3.2 -24.5l-2.5 -31.7l-2 -45l-1 -49.5zM510.5 774.1l0 132l0.8 36.5l1.2 27.2l2 19.5l2.8 13l2.7 7.5l2.5 4.5l6.5 7.3l8.5 5.2l6.2 2.5l8.8 2.5l17.8 3.3l26 2.8l31.5 2l45.2 1.7l123.2 2.2l0 -8l-62.2 -2l-61 -3.2l-41 -3.5l-33 -4.5l-21 -4.5l-14.2 -4.5l-13.3 -6.2l-10 -7.3l-8 -9l-4.2 -7l-2.8 -6l-4.8 -15.2l-3.7 -21.3l-2.5 -26l-1.8 -33.2z"/>
<path fill="#484df1" d="M512 774.1l0.8 49.5l1.7 47.5l2.5 35.8l3 24.2l4 19.5l5.5 16.2l4.2 8.5l3.8 5.8l8.2 9.2l6.5 5.3l6.3 4l7.2 3.8l9.8 4l20.5 6l25.8 5l35 4.5l37.2 3.2l49.2 3l53 2.2l0 -2l-63.5 -3l-58.7 -4.5l-28.8 -3.2l-28.5 -4.5l-23 -5.2l-20.5 -7l-15.2 -8l-10.2 -8l-5.3 -5.5l-4.8 -6.3l-6.2 -11.2l-5.8 -15.8l-4.2 -18.5l-3.8 -27.2l-2.5 -31.5l-1.7 -37.3zM510.5 774.1l0 127.8l0.8 37.7l1.4 31.2l1.8 16.8l3 14.2l4 9.8l3 4.5l3.8 4l4.2 3.2l6.5 3.5l11.8 4l17.5 3.5l23.5 2.8l32.5 2.2l41.2 1.8l70.5 1.8l60.2 0.7l0 -7.5l-59.2 -2l-58.8 -3l-45.5 -3.8l-29 -3.7l-21.7 -4.2l-16.2 -4.8l-14.5 -6.5l-9.8 -6.8l-6 -6l-4 -5.2l-6 -11.5l-5.2 -17.2l-3.3 -19l-2.5 -25.8l-1.8 -33.2z"/>
<path fill="#4854f6" d="M512 774.1l0.8 47.5l1.7 47.8l2.2 33.5l3.3 27.2l4.5 21.5l4.2 12.8l6 12l4.8 6.7l5.8 6.2l7 5.8l5.7 3.8l9.8 5l6.7 2.7l20.8 6.2l28.2 5.5l33.2 4.3l36.8 3.2l48.5 3l54.2 2.3l0 -1.5l-62.5 -3l-56.7 -4.2l-31.8 -3.5l-26 -4l-23 -5l-20.2 -6.5l-7.5 -3.3l-10 -5.5l-10.8 -8.2l-9 -10.3l-7 -12l-5.5 -14.5l-4.7 -20l-3.8 -27l-2.5 -31.2l-2 -44.5zM510.5 774.1l0 124l0.8 38.8l1.4 32l2 18.7l2.8 13l4.2 10.5l2.3 3.5l4.2 4.8l5.8 4.2l5.2 2.8l11.5 4l18.5 3.7l23.5 2.8l32 2.2l48 2l123.5 2.5l0 -7.5l-68 -2.2l-55.7 -3l-41.2 -3.5l-34.5 -4.8l-20.5 -4.5l-13.3 -4.2l-12.2 -5.8l-10.5 -7.5l-8 -9l-3 -4.8l-3.8 -7.7l-4.8 -15l-3.7 -21l-2.2 -22.2l-2 -36.3z"/>
<path fill="#475bfa" d="M512 774.1l0.8 45.5l1.7 48.2l2 30.8l3.2 28.8l5 24.2l4.8 13.8l3.5 7.2l4 6.5l4.5 5.8l5.8 5.7l5 4l9.2 5.8l15.5 6.7l20.8 6l24.5 4.8l32.2 4.2l38.8 3.5l52.7 3.2l50.2 2l-0.2 -1.2l-61.5 -2.8l-54.8 -4l-26.5 -2.7l-31.5 -4.5l-27.7 -6l-17.8 -5.8l-15.2 -7.2l-5.5 -3.5l-7.2 -5.8l-9.3 -10.2l-4.5 -7l-3.8 -7.5l-5.7 -16.5l-4.2 -19.8l-3.5 -27.5l-2.3 -30.2l-1.8 -39.8zM510.5 774.1l0 120.8l0.8 39.5l1.4 32.7l2 19.2l3 14l4.5 10.8l2.8 4l4 4.2l4.8 3.5l5 2.8l11.7 4.2l19.5 4l23.2 2.8l31.5 2.2l46.8 2l124.8 2.5l-0 -7.2l-64.5 -2l-53.5 -2.8l-46 -3.7l-30.8 -4l-18 -3.5l-19.8 -5.8l-13.5 -6.2l-9.5 -6.8l-5.2 -5.2l-3.5 -4.5l-6.2 -11.5l-5.3 -16.5l-3.8 -21.8l-2.5 -27l-1.5 -29.2z"/>
<path fill="#4563fc" d="M512.3 781.9l0.8 44.2l2 49l2.7 35l3.2 23.5l4.5 19.5l6 15.8l6.8 11.2l5.5 6.5l4.2 4l12.3 8.5l16 7.3l23.2 6.8l25 4.7l30.5 4l42 3.8l48.8 3l50.5 2l0 -0.8l-57.2 -2.5l-56.8 -4l-29.5 -3l-33 -4.8l-23.5 -5l-19.2 -6l-14.8 -6.7l-6.5 -4l-6.5 -5l-5 -4.8l-5.8 -7l-7.2 -12.5l-3 -7.2l-3.2 -10.2l-4.3 -19.5l-3 -22.3l-2.8 -34.8l-2 -47.5zM510.5 774.1l0 117.5l1 48.5l1.5 28.8l2.5 20.7l3.8 14.2l4.2 8.5l6.5 7.3l9.2 5.8l9.3 3.5l7.5 2l19.8 3.5l23.5 2.5l34.5 2.2l43.5 1.8l119 2.2l-0 -6.8l-54.5 -1.7l-57.3 -2.8l-46.2 -3.5l-33 -4l-21.5 -4l-19.3 -5.5l-12 -5.2l-6.2 -3.8l-5.3 -4l-5.8 -5.7l-3.5 -4.5l-3.7 -6.2l-2.8 -6l-4.7 -15.3l-3.5 -19.8l-2.5 -25.2l-1.8 -32.5z"/>
<path fill="#426afe" d="M519 916.6l2.2 16.2l3.5 15.8l4.3 13l6 12.2l6.2 8.8l7.8 7.8l10.8 7.5l12.2 6l15 5.2l19 4.8l20.8 3.7l22 3l29.2 3l36.2 2.8l82 4l-88 -4.5l-60 -5.5l-23.2 -3.3l-20 -3.8l-16 -4l-16 -5.5l-11.5 -5.5l-9.2 -6l-10 -9.2l-6.5 -8.8l-5.8 -11l-4.8 -13.5l-3.7 -16zM510.5 774.1l0 114.8l1 49.2l1.5 29.2l2.2 19.8l2.8 12.2l4.2 10.3l3 4.5l4.3 4.5l5.5 4l5.2 2.8l11.3 4l17.8 3.7l21.7 2.8l32.8 2.5l44 2l128.5 2.7l-0 -6.8l-63 -2l-58.5 -3l-42.8 -3.5l-35.2 -4.7l-20.8 -4.5l-14 -4.5l-13 -6.2l-10.5 -8l-3.8 -4l-4.5 -6.3l-5.7 -11.8l-4.5 -15.5l-3.5 -21.2l-2.2 -24.8l-1.8 -35.5z"/>
<path fill="#3c71ff" d="M510.5 774.1l0 112l0.8 41.8l1.4 34.7l2.3 21.8l3.2 15l4.3 10l3.2 4.7l3.5 3.8l8.8 6l13 5l18.5 4l24 3l33.8 2.5l45.2 2l66.2 1.7l57.5 0.8l0 -6.5l-59 -1.8l-60.2 -3l-43.8 -3.5l-34.5 -4.5l-22.5 -4.8l-14.7 -4.7l-10.8 -5l-6.2 -4l-5.5 -4.5l-5.5 -6l-3 -4.2l-6.2 -12.8l-4.3 -14.8l-3.2 -19.2l-2.5 -26.5l-1.8 -35.2z"/>
<path fill="#3479fd" d="M510.5 774.1l0.2 127.8l1.1 39.7l1.4 26.2l2 17.3l3.3 14.2l4.5 10.3l6.2 7.8l7.3 5.2l6.8 3.2l8 2.8l21.5 4.5l23 2.8l34.7 2.5l46.2 2l119.5 2.5l0 -6.3l-61 -2l-59.7 -3l-45.8 -3.8l-28.7 -3.7l-18.2 -3.5l-19.8 -5.8l-13.5 -6.2l-10.5 -7.8l-7 -8l-3.8 -6l-2.7 -5.7l-2.8 -7.5l-2.5 -9.2l-3.2 -18.3l-2.8 -28.5l-1.7 -35z"/>
<path fill="#2f81fa" d="M510.5 774.1l0.2 125.8l1.1 40.2l1.4 26.5l2 17.5l3.3 14.5l4.2 10l3.3 4.8l3.8 4l5.7 4.2l6.2 3.2l11.5 4l19.5 4l25.3 3l31.2 2.3l44.5 2l122.5 2.8l0 -6.3l-63 -2l-59.2 -3l-40.5 -3.2l-31.8 -4l-20.7 -4l-18.5 -5.5l-13.8 -6.5l-9.7 -7.3l-8.2 -9.8l-5.5 -10.5l-5 -16l-3.3 -18.2l-2.5 -24.8l-1.8 -31.7l-1.2 -43.2z"/>
<path fill="#2d87f6" d="M510.5 774.1l0.2 123.8l1.1 40.7l1.4 27l1.8 16l3.2 15.5l2 5.8l3 6l2.8 4l4.2 4.5l6.3 4.5l6 3l12.8 4.2l19 3.8l23.2 2.7l34.5 2.5l45.8 2l118.5 2.5l-0 -6l-65 -2l-54.8 -2.8l-41.5 -3.2l-32.5 -4l-21 -4l-18.8 -5.5l-13.5 -6.2l-10.5 -7.8l-5.5 -6l-3 -4.2l-6 -12.3l-4.7 -16.8l-3.2 -20.7l-2.5 -30l-1.5 -34.2z"/>
<path fill="#2d8ef1" d="M510.5 774.1l0.2 121.8l1.1 41.2l1.4 27.2l2 18l3.8 16.5l2.8 6.8l2.7 4.8l6.2 7l4.8 3.5l5.5 3l12.5 4.5l19 4l24.2 3l38 2.7l39.8 1.8l121.8 2.7l-0 -6l-54 -1.5l-63 -3l-42.8 -3.2l-34.8 -4.3l-24 -4.8l-15.5 -4.7l-13.7 -6.5l-10.2 -7.8l-5 -5.5l-3 -4.2l-3.3 -5.8l-3.2 -7.7l-4 -14.2l-3.5 -21.8l-2.3 -25.8l-1.5 -30.7z"/>
<path fill="#2995ed" d="M510.5 774.1l0.2 119.8l1.1 42l1.2 24.2l2.2 21.5l3.3 15l4.8 11.2l5.7 7.5l8.8 6.5l13.2 5.5l17 4l23.2 3.3l29.5 2.5l50.3 2.5l60 1.8l65.2 1l0 -5.5l-55.7 -1.8l-62.8 -3l-42.2 -3.2l-34.5 -4.3l-21.8 -4.2l-16.7 -5l-7.2 -3l-7.5 -4l-10 -7.8l-4.5 -5l-3.5 -5l-5.8 -12l-4.5 -16l-3.2 -20.5l-2.3 -25.8l-1.8 -38z"/>
<path fill="#259be8" d="M510.5 774.1l0.2 118l1.1 42.5l1.7 30.8l2.5 20l3.5 13.7l4.5 9.5l6.8 8l4.2 3.2l6.2 3.5l13.3 4.8l20.8 4.2l25.2 3l35 2.5l39 1.8l121.8 2.8l-0 -5.5l-57.8 -1.8l-62 -3l-42 -3.2l-31 -3.8l-23.8 -4.5l-17 -5l-12.7 -5.8l-9.8 -6.7l-8.5 -9.2l-3.7 -6l-2.8 -5.8l-5 -15.8l-3.5 -19.7l-2.7 -29.5l-1.5 -30.8l-1.2 -48.7z"/>
<path fill="#23a0e5" d="M510.5 774.1l0.2 116.2l1.1 42.8l1.7 31.5l2.5 20l4 15.2l5.5 10.5l6 6.5l5.2 3.8l6.3 3.2l13.2 4.5l15.5 3.3l25.3 3.2l32.5 2.5l41.5 2l125.2 3l0 -5.5l-59.5 -1.7l-57.5 -2.8l-40.5 -3l-36 -4.2l-22.5 -4.2l-17.2 -5l-13.8 -6.3l-9.2 -6.5l-8.2 -9l-3.8 -6l-2.8 -5.8l-3 -8.2l-2.5 -9.5l-3 -17.5l-2.5 -25.8l-1.7 -34.2l-1.2 -48.8z"/>
<path fill="#1fa6e2" d="M510.5 774.1l0.2 114.8l1.1 43.2l1.7 31.5l2 17.2l3 14l2.5 7l2.5 5l3.2 4.8l4 4.2l8.3 5.8l7.8 3.5l6.7 2.2l21 4.5l24.2 3l28.8 2.3l46.5 2.2l59.2 1.8l63 1l0 -5.2l-61.2 -1.8l-57 -2.8l-45.5 -3.5l-30.5 -3.7l-21.2 -4l-16.8 -4.8l-13.2 -5.7l-6.5 -4l-4.8 -3.8l-7.8 -8.5l-3.5 -5.5l-3.2 -6.7l-4.8 -15l-3.7 -21.5l-2.2 -23.8l-1.8 -34l-1.2 -48.5z"/>
<path fill="#1aacdd" d="M510.5 774.1l0.2 113l1.1 43.8l1.7 32l2.8 21.7l3.7 14.2l5 10l7 7.8l9.5 6l13.8 5l20.5 4.2l22 2.8l32 2.5l47.2 2.2l119.2 2.8l0 -5l-63 -2l-56.5 -2.8l-40 -3l-33.7 -4l-22.8 -4.2l-18.7 -5.5l-12 -5.5l-10.2 -7.2l-8 -9l-6.3 -11.5l-5 -16l-3.2 -18.5l-2.3 -22l-2 -37.3l-1.2 -48.2z"/>
<path fill="#13b1d7" d="M510.5 774.1l0.5 126.5l1 35.8l1.8 28.5l2.2 17.7l4 15.8l4 8.5l2.8 4l4.5 4.7l7 5l7.2 3.5l8.8 3l18 4l22.2 3l29.5 2.5l49.2 2.5l123 3l0 -5l-58 -1.8l-58.7 -2.7l-41 -3l-36.2 -4.2l-21.5 -4l-18.3 -5.3l-13.2 -6l-10.5 -7.5l-5 -5.2l-4 -5.5l-5.8 -11.8l-4.8 -16.8l-3.2 -21l-2.2 -27l-1.5 -33.2z"/>
<path fill="#07b5d0" d="M510.5 774.1l0.2 109.8l1.1 44.5l1.7 32.7l2 17.8l3.5 16l2.5 6.7l2.8 5.2l6.2 7.8l8.2 6l6.8 3.2l9.5 3.3l15.5 3.5l25.5 3.5l30 2.5l43.8 2.2l64.7 2l61.8 1l-0 -4.7l-59.8 -1.8l-58.2 -2.7l-46 -3.5l-32.3 -4l-19.8 -3.8l-17.5 -5l-14.2 -6.5l-10.5 -7.7l-4.2 -4.5l-4 -5.5l-5.5 -11l-4.8 -16.2l-3.2 -20l-2.3 -25l-1.8 -37z"/>
<path fill="#00b9c8" d="M510.5 774.1l0.5 123.8l1 36.2l1.8 29l2.7 21l3.5 13.2l4.5 9.5l3.2 4.5l4.3 4.3l5.5 4l6.2 3.2l12 4.3l21.8 4.5l25 3l33.5 2.5l43 2l117.2 2.8l0 -4.8l-61.5 -1.8l-57.7 -2.7l-43 -3.2l-31.5 -3.8l-21.8 -4l-16.2 -4.5l-15 -6.5l-9.5 -6.5l-8.8 -9.5l-3 -4.8l-3.5 -7.2l-5 -16.2l-3.2 -19l-2.2 -23.3l-2 -40.5z"/>
<path fill="#06bcbf" d="M510.5 774.1l0.5 122.2l1 36.8l1.8 29.2l2.5 19.8l4 15.5l4.5 9.2l3.7 5l3.2 3.3l5 3.8l7 3.7l12.8 4.5l20.5 4.2l21.8 2.8l35.2 2.8l41 2l121.2 3l0 -4.8l-56.5 -1.5l-59.7 -2.8l-47 -3.5l-29.5 -3.5l-23.2 -4.2l-18.3 -5.2l-13.2 -6l-9.3 -6.5l-7.5 -8l-3.8 -5.8l-3 -6l-5 -15.2l-3.5 -19.3l-2.5 -25l-1.7 -33.2l-1.2 -47.8z"/>
<path fill="#16bfb7" d="M510.5 774.1l0.5 121l1 37l1.8 29.5l2.2 18.5l3 13.2l4.5 11l4 6l3.5 3.8l8.8 6.2l7.5 3.5l8.2 2.8l18 4l24.2 3.2l34 2.8l39.5 2l63.8 2l61.2 1l0 -4.2l-58.2 -1.8l-55 -2.5l-42.8 -3l-35.7 -4l-24.8 -4.5l-16.7 -4.8l-12.2 -5.2l-7 -4.2l-4.8 -3.8l-4.8 -4.8l-6 -8.5l-4.2 -9l-3 -9.2l-2 -8.5l-3 -19.5l-2.2 -26.5l-1.5 -32.8z"/>
<path fill="#25c2ae" d="M510.5 774.1l0.5 119.5l1.2 43.5l1.8 26.5l2.5 18.8l4 15l5.8 11l6.5 7l4.5 3.2l7 3.8l13.7 4.7l19.5 4l26.8 3.2l33.5 2.5l42.5 2l116 2.8l-0 -4.2l-66.5 -2l-56.5 -2.8l-42 -3.2l-30.8 -3.8l-21.2 -4l-18 -5.2l-11.8 -5.3l-6 -3.8l-5 -4l-8.2 -9.5l-6.3 -12.2l-4.8 -16.5l-3 -18.5l-2.2 -24.5l-1.8 -36.5l-1.2 -55.2z"/>
<path fill="#2ec4a5" d="M510.5 774.1l0.5 118.2l1 37.8l1.8 30l2.5 20.2l2.2 10.3l2 6.2l4.5 9.3l3.5 4.8l3.8 3.7l5 3.8l7 3.7l11.7 4.2l18 4l26.5 3.5l31 2.5l44.8 2.3l120 3l-0 -4.2l-61.5 -1.8l-58.5 -2.8l-46 -3.5l-30.5 -3.7l-20 -3.8l-18.3 -5.2l-12.8 -5.8l-5.5 -3.5l-5.2 -4.2l-4.8 -5l-4.2 -6l-5.5 -11.5l-4 -14l-3.2 -19.5l-2.3 -24.5l-1.8 -36.2l-1.2 -55z"/>
<path fill="#34c79b" d="M510.5 774.1l0.5 117l1 38l1.8 30.2l2 17.3l3.2 15.2l5 12.3l3.8 5.5l4.2 4.5l7.8 5.5l6.7 3.2l8.5 3l18.5 4.3l26 3.5l30 2.5l49.2 2.5l117.5 3l0 -4.2l-56.5 -1.5l-60.5 -2.8l-47.2 -3.5l-31.2 -3.8l-21.5 -4l-16.8 -4.7l-14 -6.2l-5.5 -3.5l-5.8 -4.8l-3.7 -4l-4.5 -6.2l-5.5 -11.5l-4.2 -15l-3.3 -20.5l-2.2 -26l-1.8 -40.3z"/>
<path fill="#3dca90" d="M510.5 774.1l0.5 115.8l1 38.2l1.8 30.5l2.7 22l3.2 13.2l5.3 11.5l6.5 8l8.2 6l5.5 2.8l10.5 3.8l18.8 4.2l26.2 3.5l38.5 3l42 2l57.3 1.8l57.8 1l-0 -3.8l-51 -1.5l-63 -2.8l-43 -3l-37.5 -4.2l-23 -4.2l-18 -5.3l-13 -6l-8.5 -6l-8.3 -9l-4 -6.5l-2.8 -6l-4.7 -15.8l-3.5 -21.5l-2.2 -26l-1.8 -40z"/>
<path fill="#4bcb84" d="M510.5 774.1l0 76.2l0.8 50.8l1.2 37.5l1.8 24.8l2.5 18l3.5 13.5l4.5 9.7l3.7 5.2l4.8 4.8l5.2 3.8l6.8 3.5l12 4.2l16.7 3.8l25.8 3.5l33.2 2.7l38.2 2l60.5 2l64.5 1.2l0 -3.7l-52.7 -1.5l-62.5 -2.8l-42.8 -3l-37.2 -4.2l-21.8 -4l-18.2 -5.2l-11.8 -5.3l-10.5 -7.2l-7.7 -8.5l-6.2 -11.3l-4.8 -14.8l-3.8 -21.5l-2.2 -24.2l-1.8 -35.8l-1.2 -54.5z"/>
<path fill="#5bcc77" d="M510.5 774.1l0.5 113l1.2 45.2l1.8 27.8l2.8 20.8l3.7 14.2l5.2 10.8l3 4l4.3 4.2l5.5 4l7.2 3.8l11.3 4l16.5 3.7l27.5 3.8l30 2.5l48.8 2.5l116.5 3l-0 -3.8l-61.5 -1.8l-55 -2.5l-42.5 -3l-35.3 -4l-23.2 -4.2l-16.8 -4.8l-13.5 -6l-10 -7l-8 -9l-3.5 -5.7l-3.2 -7.2l-4.5 -15.5l-3.5 -22.3l-2.3 -27.8l-1.5 -35.7z"/>
<path fill="#6bcd69" d="M510.5 774.1l0.5 111.8l1.2 45.5l1.8 28l3 22.2l3.8 13.8l4.7 9.7l3.8 5l3.5 3.5l5.7 4.2l5 2.8l6.5 2.8l9.5 3l21 4.2l21.8 2.8l30.5 2.5l49.5 2.5l66.2 2l47.8 0.7l-0 -3.5l-56.5 -1.5l-61.3 -2.8l-42.2 -3l-35 -4l-23 -4.2l-18 -5.2l-12.5 -5.8l-9.8 -7l-7.5 -8.5l-3.2 -5.2l-3.3 -7l-2.5 -7.3l-2.5 -10l-3 -19l-2.5 -29.8l-1.5 -35.5z"/>
<path fill="#7ecc5b" d="M510.5 774.1l0.5 110.5l1.2 45.8l1.8 28.2l2.5 19.8l2.2 10.2l2.3 7l4.2 8.8l3 4.2l4 4.2l4.8 3.8l5 3l7.2 3.2l8.3 2.8l19.2 4.2l24.5 3.3l33.3 2.8l44 2.2l63 2l54.8 1l-0 -3.5l-58.3 -1.5l-61 -2.8l-41.8 -3l-33 -3.7l-23.5 -4.2l-18.2 -5.3l-13.5 -6.2l-9.5 -7l-4.5 -4.8l-4 -5.5l-5.5 -11.2l-4.2 -14.8l-3.3 -20l-2.2 -25.5l-1.8 -39.5z"/>
<path fill="#90ca4d" d="M510.5 774.1l0.5 109.2l1.2 46.3l1.8 28.2l2.2 18.5l3.8 16l5 11.3l6.8 8.5l6 4.8l4.2 2.5l6.5 3l8 2.7l19.8 4.5l26.2 3.5l33.8 2.8l44.5 2.2l115.5 3l-0 -3.2l-60 -1.8l-60.5 -2.8l-41.5 -3l-32.8 -3.7l-23.2 -4.2l-16.8 -4.8l-13.5 -6l-5.5 -3.5l-5.8 -4.8l-3.7 -4l-4 -5.5l-5.5 -11.2l-4.5 -15.8l-3 -18.7l-2.5 -29.5l-1.5 -35.2z"/>
<path fill="#a1c840" d="M510.5 774.1l0 68.2l0.8 52.8l1.2 39l1.8 25.8l2.5 18.7l4 15.5l4.5 9.5l3.7 5.2l4.8 4.8l6 4.2l5.7 3l14.2 5l20.5 4.3l23.5 3l34.3 2.8l39 2l119.2 3.2l0 -3.2l-61.7 -1.8l-55.8 -2.5l-42.7 -3l-33.5 -3.8l-21.5 -3.7l-19.2 -5.2l-12.3 -5.3l-10.8 -7.2l-8.2 -9l-6.2 -11.5l-4.3 -13.3l-3.8 -21l-2.2 -23.8l-1.8 -35l-1.2 -53.2z"/>
<path fill="#b2c534" d="M510.5 774.1l0 66.8l0.8 53.2l1.2 39.2l1.8 25.8l2.5 19l4 15.5l5 10.5l3.7 5l4 4l8 5.5l6.2 3l9.3 3.2l19.8 4.5l23.5 3.3l32 2.8l41.2 2.2l58.2 2l64.5 1.2l0 -3l-63.7 -1.7l-59.5 -2.8l-38 -2.7l-31.5 -3.5l-27.5 -5l-16.8 -5l-11 -5l-9.7 -6.8l-8 -8.7l-3 -4.8l-4.2 -9.2l-4.3 -15l-3.2 -20.8l-2.3 -27l-1.5 -35l-1.2 -63z"/>
<path fill="#c3c22b" d="M510.5 774.1l0 65l0.8 53.8l1.2 39.5l1.8 26l2.7 20.5l4 15l5 10.2l7 8.2l8.5 6l10 4.5l7 2.3l17.8 4l27.7 3.8l33.8 2.7l44 2.2l114.5 3l-0 -3l-58.8 -1.5l-52.5 -2.2l-48.2 -3.2l-32.3 -3.5l-23.5 -4l-14.8 -3.8l-10.5 -3.8l-8.2 -4l-9.2 -6.5l-7.8 -8.5l-3 -4.7l-4 -8.5l-5 -18l-2.8 -18.2l-2.2 -27l-1.5 -34.8l-1.2 -62.8z"/>
<path fill="#d1bf27" d="M510.5 774.1l0 63.5l0.8 54l1.2 39.8l2 29l2.8 19.2l4 14.5l4.5 9.2l6.7 8.3l9 6.5l6.8 3.2l9.2 3.3l18.2 4.2l29.5 4l34.3 2.8l38.8 2l118 3.2l-0 -2.7l-53.5 -1.5l-59.3 -2.5l-38.8 -2.5l-39.2 -4l-22.8 -3.8l-17 -4.2l-9.2 -3.2l-8 -3.8l-10.5 -7.2l-4.5 -4.5l-5 -6.8l-5.5 -11.5l-4 -14.2l-3.2 -20.5l-2.3 -26.8l-1.5 -34.5l-1.2 -62.8z"/>
<path fill="#dfbc2a" d="M510.5 774.1l0 61.8l0.8 54.5l1.2 40l2 29.2l2.2 16.8l2.3 10.2l2.2 7l3.3 7.2l3 4.8l6.8 7.2l6 4.3l6.2 3.2l12.5 4.5l17.8 4l27.5 3.8l33.2 2.8l43 2.2l60.8 2l55 1l-0 -2.5l-62.8 -1.8l-51.5 -2.2l-47.5 -3.2l-29.8 -3.3l-25 -4.2l-14.5 -3.8l-9.7 -3.5l-8.2 -4l-9.3 -6.5l-7.5 -8.2l-3.8 -6l-3.5 -7.8l-4.5 -16l-3 -19.2l-2.2 -26.8l-1.5 -34.2l-1.2 -62.3z"/>
<path fill="#ebba31" d="M510.5 774.1l0 60l0.8 54.8l1.2 40.7l2 29.2l2.5 18.3l3.5 14l5.2 11.5l4 5.5l4 4l8.3 5.8l6.8 3.2l9.2 3.2l19.8 4.5l25.5 3.5l40 3.3l39.7 2l113.2 3l0 -2.5l-57.7 -1.5l-62.8 -2.8l-39.5 -2.7l-32.5 -3.5l-23.5 -4l-14.7 -3.8l-9.2 -3.2l-8 -3.8l-10.5 -7.2l-8 -9l-6.3 -12l-4.2 -14.2l-3.5 -21.5l-2.3 -26.5l-1.5 -34.3l-1.2 -61.8z"/>
<path fill="#f6ba3c" d="M510.5 775.4l0 57l0.8 55.2l1.2 41l2 29.5l2.8 19.8l3.5 13.5l5.2 11.2l3 4.3l4.2 4.5l8.8 6.2l6.8 3.3l7.5 2.8l21 5l25 3.5l31.5 2.7l40.2 2.2l55.5 2l66.8 1.5l-0 -2.5l-52.5 -1.2l-65 -2.8l-43.8 -3l-30.2 -3.2l-24 -4l-15.8 -4l-15.2 -6l-5.3 -3l-6.8 -5l-4.5 -4.5l-4.5 -6l-5.7 -11.8l-4 -14l-3.2 -20.2l-2.3 -26.2l-1.5 -34l-1.2 -61.8z"/>
<path fill="#febe3c" d="M510.5 776.9l0 53.8l1 67l1.2 35l2 27.2l3.3 21l3.8 12.8l5.5 10.5l7.5 8.2l5.2 3.8l7 3.7l12.5 4.5l20.2 4.5l24 3.2l32 2.8l46.5 2.5l59.8 2l54.2 1l0 -2l-62.2 -1.8l-57 -2.5l-43.2 -3l-30 -3.2l-23.8 -4l-14.8 -3.8l-10.5 -3.7l-7.2 -3.5l-9.8 -6.8l-7.5 -8.2l-6 -10.8l-4.5 -13.7l-3.7 -21.2l-2.2 -24.5l-1.8 -37.8l-1.2 -61.2z"/>
<path fill="#fec537" d="M510.5 778.6l0 50l1 67.8l1.2 35.2l1.8 25l2.8 20l3.5 13.8l2.2 5.7l3.5 6.5l3.8 5l3.7 3.8l5.2 4l7.3 4l13.8 5l17.7 4l27.2 3.7l28.8 2.5l45 2.5l57.5 2l59.8 1.2l-0 -2l-57.3 -1.5l-59.2 -2.5l-38.5 -2.5l-34.8 -3.5l-27.2 -4.5l-16.3 -4.2l-15 -6.2l-10.2 -7l-7.8 -8.5l-3 -4.8l-4 -8.8l-4 -13.7l-3.2 -20l-2 -22.2l-1.8 -37.5l-1.2 -60.8z"/>
<path fill="#fdcc32" d="M510.5 780.1l0 46.5l1 68.2l1.2 35.8l1.8 25l2.5 19l2 9.2l2.5 8l4.5 9.5l7 8.8l5.2 4.2l6.8 4l13.5 5.3l16.5 4l25 3.8l32.5 3l38.2 2.2l60.5 2.2l65 1.5l0 -2l-60 -1.5l-58.5 -2.5l-44 -3l-30.2 -3.2l-25 -4.2l-14.5 -3.8l-10.2 -3.8l-5.8 -2.7l-10 -6.8l-8.2 -9l-3.5 -5.7l-2.8 -6l-4.5 -15l-3 -17.8l-2.5 -28l-1.5 -33.5l-1.2 -60.5z"/>
<path fill="#fad42e" d="M510.5 782.1l0 42.5l1 68.8l1.2 36.2l2 27.8l2.3 16.5l2.5 11.2l2 6.2l5.2 10.8l3.8 5l3.8 3.8l8.5 6l6.7 3.2l9 3.2l19 4.5l24 3.5l36.8 3.3l40.7 2.2l65 2.3l52.2 1l0 -1.5l-62.7 -1.8l-66.5 -3l-34.8 -2.5l-28 -3l-25.5 -4.2l-17 -4.5l-13.7 -5.8l-6.5 -4l-5 -4l-4.5 -4.7l-3.5 -4.8l-5.8 -11.7l-4.2 -15.2l-3 -19.5l-2.2 -28l-1.5 -37z"/>
<path fill="#f7dc2a" d="M510.5 784.1l1 107.8l1.2 36.5l2 28l3 20.7l4.3 15l5.8 11l7.2 8l5 3.8l5.8 3.2l7 3l9.2 3l19.5 4.2l26.2 3.5l32.8 2.8l41.5 2.2l57 2l57.2 1.3l0 -1.5l-72.7 -2l-62.8 -3l-27.2 -2l-30.5 -3.2l-19 -3l-19 -4.5l-8.8 -3l-8.7 -4l-10.2 -7l-7.5 -8.3l-3 -4.8l-4 -8.7l-4 -14l-3.3 -20.5l-2.2 -27.8l-1.5 -36.7z"/>
<path fill="#f5e427" d="M510.5 786.4l1 103.8l1.2 36.7l2 28.5l2.5 18.2l4.3 16.5l5.2 11l6.8 8.3l5.2 4.2l5.8 3.5l14.2 5.8l17.3 4.2l26.8 4l33 3l44 2.5l63.7 2.3l52.8 1l-0 -1.2l-61.8 -1.5l-63.5 -2.8l-30.2 -2l-31.3 -3l-25.2 -3.8l-19.3 -4.5l-13 -4.7l-8.5 -4.5l-5.5 -4l-8 -8.5l-3.5 -5.5l-3.8 -8.2l-4.2 -15l-3 -19.3l-2 -23.2l-1.5 -32.5l-1.2 -59.3z"/>
<path fill="#f5ec22" d="M510.5 788.9l1.2 109.2l1.6 36.8l2 24l2.7 17.8l3.8 13.5l3.7 8.2l3 4.8l7.2 7.7l9.5 6.2l13.8 5.5l18.5 4.5l23 3.5l31.2 3l46.3 2.8l53.2 2l65 1.5l0 -1l-65.7 -1.8l-62.2 -2.7l-29.8 -2l-30.8 -3l-23.5 -3.5l-21 -5l-9.7 -3.5l-7.2 -3.5l-8.8 -6l-5.5 -5.5l-3.2 -4.2l-6.3 -12.5l-4 -14.3l-3 -19l-2 -23l-1.5 -32.2l-1.2 -58.8z"/>
<path fill="#f7f51b" d="M511 841.1l0.2 32.5l1.3 44.5l1.8 29.2l2.2 19.8l3.2 15.8l4 11.2l4 7.2l3.3 4.3l7.8 7l9.5 5.5l15.5 5.5l22.7 4.8l25.5 3.2l37.5 3l38.5 2l57.8 2l50.5 1l-0 -0.8l-55.3 -1.2l-62.5 -2.5l-36.2 -2.2l-30.3 -2.8l-23.8 -3.2l-21 -4.5l-15.2 -5.3l-11.2 -6.2l-7.3 -6.3l-3.8 -4.5l-3.5 -5.5l-2.7 -5.8l-2.8 -7.7l-3.5 -15.2l-2.7 -22l-1.5 -21.5l-1.5 -40.8z"/></g>
<line x1="517" y1="1033.7" x2="796.4" y2="1033.7" stroke="#fff" stroke-width="2.4" stroke-dasharray="10.5 8"/>
</g>
<rect x="510.4" y="774" width="286" height="276.5" fill="none" stroke="#262626" stroke-width="0.9"/>
<path d="M558.1 774v2.6M558.1 1050.5v-2.6M605.7 774v2.6M605.7 1050.5v-2.6M653.4 774v2.6M653.4 1050.5v-2.6M701.1 774v2.6M701.1 1050.5v-2.6M748.7 774v2.6M748.7 1050.5v-2.6M510.4 820.1h2.6M796.4 820.1h-2.6M510.4 866.2h2.6M796.4 866.2h-2.6M510.4 912.2h2.6M796.4 912.2h-2.6M510.4 958.3h2.6M796.4 958.3h-2.6M510.4 1004.4h2.6M796.4 1004.4h-2.6" stroke="#262626" stroke-width="0.9" fill="none"/>
<line x1="251.9" y1="1207.8" x2="410.4" y2="1114" stroke="#e0e0e0" stroke-width="0.8"/>
<line x1="410.4" y1="1114" x2="569.3" y2="1207.8" stroke="#e0e0e0" stroke-width="0.8"/>
<line x1="251.9" y1="1180.4" x2="410.4" y2="1086.6" stroke="#e0e0e0" stroke-width="0.8"/>
<line x1="410.4" y1="1086.6" x2="569.3" y2="1180.4" stroke="#e0e0e0" stroke-width="0.8"/>
<line x1="331.1" y1="1188.3" x2="331.1" y2="1125.5" stroke="#e0e0e0" stroke-width="0.8"/>
<line x1="489.8" y1="1188.3" x2="489.8" y2="1125.5" stroke="#e0e0e0" stroke-width="0.8"/>
<line x1="331.4" y1="1282.1" x2="489.8" y2="1188.3" stroke="#e0e0e0" stroke-width="0.8"/>
<line x1="331.1" y1="1188.3" x2="490" y2="1282.1" stroke="#e0e0e0" stroke-width="0.8"/>
<line x1="410.4" y1="1141.4" x2="410.4" y2="1078.6" stroke="#707070" stroke-width="0.9"/>
<line x1="251.9" y1="1172.4" x2="410.4" y2="1078.6" stroke="#707070" stroke-width="0.9"/>
<line x1="410.4" y1="1078.6" x2="569.3" y2="1172.4" stroke="#707070" stroke-width="0.9"/>
<line x1="251.9" y1="1235.2" x2="410.4" y2="1141.4" stroke="#707070" stroke-width="0.9"/>
<line x1="410.4" y1="1141.4" x2="569.3" y2="1235.2" stroke="#707070" stroke-width="0.9"/>
<line x1="251.9" y1="1235.2" x2="251.9" y2="1172.4" stroke="#707070" stroke-width="0.9"/>
<line x1="569.3" y1="1235.2" x2="569.3" y2="1172.4" stroke="#707070" stroke-width="0.9"/>
<g filter="url(#bl2)"><path fill="#3f28ad" d="M410.2 1141.5l-15 9l-8.3 2.3l-10.4 5l-8 5.7l-7.6 7.3l-109 64.4l158.3 93.6l1 0l158 -93.6l-109 -64.4l-8.3 -8l-8.4 -5.6l-9.3 -4.4l-8.3 -2.3z"/>
<path fill="#412cba" d="M404.2 1148.8l-12.3 2.3l-9 3.4l-6.4 3.3l-10 7.3l-10.6 11.7l-12.7 17.7l-8 4.6l-13 9l-12.7 11.4l-5.6 8.6l-1 3.7l-0 4.7l1.6 5.3l2 3.3l4.4 5.4l5.6 5.3l9 7l13.4 9l15 8.7l19.6 9.3l15 5l13.4 2.7l14.6 0.3l14 -2.3l15.7 -5l22.7 -10.7l11.6 -6.7l19.4 -13.3l12.3 -11.3l4.7 -7l1.3 -4l0.3 -4.4l-1.3 -5.3l-4.7 -7.3l-12.6 -11.7l-12.4 -8.7l-9.6 -5.6l-16.7 -22.7l-7.3 -7.3l-4.7 -3.7l-11.7 -6.7l-8.3 -3l-12.3 -2.3z"/>
<path fill="#4432cb" d="M404.2 1148.8l-12.3 2.3l-9 3.4l-6.4 3.3l-10 7.3l-10.6 11.7l-15 21.7l-14.7 10.3l-6.3 5.7l-4.4 5l-4.3 7.6l-0.7 2.7l0 6l1.7 5l2.3 4l7.7 8.7l16.7 12.6l14 8.4l18.6 9l16.4 5.6l13.6 2.7l14.7 0.3l13.3 -2l18 -5.6l17.4 -8l17.6 -10.4l14 -10.3l8.4 -8.3l4.6 -7.7l1.4 -4.7l-0 -4.6l-2.4 -6.7l-5.3 -7.3l-8.7 -8l-14.6 -10.7l-15.4 -22l-12.6 -13l-8.4 -5.7l-6 -3l-8.3 -3l-12.3 -2.3z"/>
<path fill="#4639da" d="M391.8 1151.2l-9 3.3l-6.3 3.4l-10 7.3l-10.7 11.7l-16 23l-12.3 9.6l-7.4 7.7l-4.6 8l-1 4l-0 4.3l1 4l2.3 5l4.7 6l8.3 7.7l6.7 5l10.3 6.7l15.7 8.3l20.3 8l10.7 2.7l10 1.3l12.3 0l10 -1.3l10.7 -2.7l11.3 -4l9.7 -4.3l15 -8l13 -8.7l10 -8.3l6 -7l3.3 -6.7l1 -5.7l-1.7 -7.6l-2.6 -4.7l-5.7 -6.7l-15 -12l-12.3 -18l-8.4 -10.6l-7.3 -7.4l-10.3 -7.3l-9.4 -4.3l-9 -2.7l-8.3 -1.3l-12.7 -0z"/>
<path fill="#4741e5" d="M391.8 1151.2l-9 3.3l-6.3 3.4l-10 7.3l-10.7 11.7l-17 24.3l-9 7.3l-6.3 6.7l-4.7 7.7l-1.3 5l-0 4l1.3 5.3l5.3 8.3l6.7 6.7l11.3 8.7l12.7 7.6l12 6l19 7l10 2.4l8 1l14 -0l7.7 -1l11.3 -2.7l10.7 -3.7l10 -4.3l14.3 -7.7l10.7 -7l8 -6.3l8 -8.3l3.6 -6.4l1.4 -4.3l-0 -6.3l-1 -3.7l-2 -4l-3.7 -5l-6.7 -6.7l-7.3 -5.6l-13.3 -19.4l-8.4 -10.6l-7.3 -7.4l-10.3 -7.3l-9.4 -4.3l-9 -2.7l-8.3 -1.3l-12.7 -0z"/>
<path fill="#484aee" d="M404.2 1148.8l-12.3 2.3l-9 3.4l-6.4 3.3l-10 7.3l-10.6 11.7l-17 24.3l-5.7 5l-8.7 9.4l-3.3 6l-1 3.3l-0.3 4.7l1.6 6.6l2 3.7l3.7 5l5 5l9.7 7.7l16.6 10l17.7 8l14.3 4.3l12 2l16.4 0l10.6 -1.7l15.7 -4.6l19 -8.7l13.3 -8l12.4 -9.7l7.3 -8.3l3 -5.7l1 -4l0 -5.6l-1.3 -4.4l-3.7 -6.3l-6 -6.7l-7.3 -6.3l-18.4 -26l-12.6 -13l-8.4 -5.7l-6 -3l-8.3 -3l-12.3 -2.3z"/>
<path fill="#4852f4" d="M391.8 1151.2l-13 5.3l-12.3 8.7l-10.7 11.7l-18.3 26l-7.4 6.6l-5 6.7l-3 7.7l0 6l0.7 2.6l3.7 7.4l8.6 9.3l10 7.7l10.4 6.3l12.6 6.3l11 4.4l18.7 4.6l5.7 0.7l14.6 0l16.7 -3l9.3 -3l11.4 -4.7l10.3 -5.3l12.7 -8l8.3 -6.7l5 -5l4 -5.3l2.3 -4.7l1 -4.3l0 -4.3l-1.3 -5l-4.3 -7.4l-10.7 -10.6l-18.3 -26l-10.7 -11.4l-10.3 -7.3l-9.4 -4.3l-9 -2.7l-8.3 -1.3l-12.7 -0z"/>
<path fill="#475bf9" d="M391.8 1151.2l-13 5.3l-12.3 8.7l-10.7 11.7l-17 24.3l-6.7 6.7l-5.3 7l-1.7 3.3l-1.3 5l0.7 7.7l3.6 7.3l9 9.7l6.4 5l11.3 7.3l20.3 9.7l10 3.3l10 2.3l11.7 1.4l7.7 -0l18 -2.7l12 -3.7l9.6 -4l10 -5l9.4 -5.6l10.6 -8l6.4 -6.4l4 -5.6l2.3 -5.7l0.3 -8l-1.3 -4.3l-3 -5.4l-13 -14.6l-15.3 -22l-10.7 -11.4l-10.3 -7.3l-9.4 -4.3l-9 -2.7l-8.3 -1.3l-12.7 -0z"/>
<path fill="#4563fd" d="M391.8 1151.2l-13 5.3l-12.3 8.7l-10.7 11.7l-15 21.6l-8.7 9.7l-4 5.7l-2.6 8l0.6 7.3l4 8l7.4 8l9.3 7.3l9.7 6l10.3 5.4l11.3 4.6l7.4 2.4l12.3 2.6l5.7 0.7l14.3 0l18 -3.3l18.7 -7l8 -4l12 -7.4l13 -11l5.3 -7l2.3 -5.6l0.4 -8.4l-1.7 -5l-4.3 -6.6l-9.7 -11l-15.3 -22l-10.7 -11.4l-10.3 -7.3l-9.4 -4.3l-9 -2.7l-8.3 -1.3l-12.7 -0z"/>
<path fill="#416cfe" d="M391.8 1151.2l-13 5.3l-12.3 8.7l-10.7 11.7l-15 21.6l-10.7 13l-3 7.7l0.4 8l2 5l3 4.7l6 6.3l7.3 6l12 7.7l11.3 5.6l8.4 3.4l9.3 3l11.3 2.3l6 0.7l13 -0l17.4 -3l17.6 -6.4l18 -9.6l10 -7.4l6 -5.6l4 -5l3.4 -7l0.6 -7.7l-1.6 -5.7l-3.4 -5.6l-9.3 -11l-13 -19l-5.7 -7l-7.3 -7.4l-10.3 -7.3l-9.4 -4.3l-9 -2.7l-8.3 -1.3l-12.7 -0z"/>
<path fill="#3975fe" d="M391.8 1151.2l-13 5.3l-12.3 8.7l-10.7 11.7l-15 21.6l-9.3 11.7l-3 8.3l0.3 7l4 8.4l8 8.6l7.7 6l9 5.7l19 9l13 4l8.6 1.7l6.4 0.6l12.3 0l17.7 -3l17.6 -6.3l9.4 -4.7l10.3 -6.3l6.7 -5l6.6 -6.3l4.4 -5.7l3 -7.3l0.3 -5l-1.7 -6.7l-3.3 -5.7l-8 -9.6l-13 -19l-5.7 -7l-7.3 -7.4l-10.3 -7.3l-9.4 -4.3l-9 -2.7l-8.3 -1.3l-12.7 -0z"/>
<path fill="#307efb" d="M382.8 1154.5l-11.3 6.7l-10.4 9.3l-7.3 9l-13 19l-6.3 7.7l-4 7.6l-0.7 8l2.3 7.4l6.4 8.3l9.3 8l12.7 8l13.3 6.3l9.3 3.4l17.4 3.6l17.3 0.4l9.7 -1.4l8.3 -2l19.3 -7.3l8.7 -4.7l9.7 -6.3l8.6 -7.3l4.4 -5l3.3 -5.7l1.3 -4.3l0.4 -5l-1.4 -5.7l-4 -7l-6.3 -7.7l-13 -19l-5.7 -7l-9.3 -9l-6.7 -4.6l-7.6 -4l-8.4 -3l-9.3 -2l-15.7 -0.4l-12.3 2.4z"/>
<path fill="#2e87f7" d="M382.8 1154.5l-11.3 6.7l-10.4 9.3l-10 12.7l-8.6 13l-8 10.3l-2 4l-1.4 4.7l0 5.6l1 4l5 8.4l8.7 8.3l5.3 4l12.4 7.3l17.3 7.4l11 3l7.7 1.3l8 0.7l11.3 -0.4l17.3 -3.3l9 -3l10 -4.3l15 -8.7l7.7 -6l7 -7.3l3 -4.7l2 -5.3l0.3 -6l-1.3 -5.4l-3.3 -6l-5.7 -7l-13 -19l-5.7 -7l-9.3 -9l-6.7 -4.6l-7.6 -4l-8.4 -3l-9.3 -2l-15.7 -0.4l-12.3 2.4z"/>
<path fill="#2c8ff1" d="M370.2 1162.2l-9 8.3l-10 12.7l-8.7 13l-6.6 8.7l-2.4 4.6l-1.3 5.7l1 7.7l1.7 3.6l4.3 6l10.3 9.4l10.4 6.6l17 8l17.6 5l11 1.4l10.4 -0l11 -1.4l16 -4.3l9.6 -4l9 -4.7l7 -4.3l8.7 -6.7l5 -5l4 -5.6l2.3 -5.7l0.4 -7.7l-3.4 -8.3l-18.6 -26.3l-5.7 -7l-9.3 -9l-8.4 -5.7l-9.3 -4.3l-9 -2.7l-8.3 -1.3l-12.7 -0l-8.3 1.3l-9 2.7l-8 3.6z"/>
<path fill="#2796eb" d="M333.8 1210.5l0 9l2.7 6.3l3.6 5l5 5l7.7 6l8 5l10 5l10.3 4l16.4 4l12.3 1l14 -1l13.3 -3l10.4 -3.6l13 -6.4l11.6 -7.6l8.7 -8l5 -7.4l2 -7l-0.3 -5.6l-2.7 -6.7l-18 -25.7l-5.7 -7l-7.3 -7.3l-8.7 -6.3l-7.6 -4l-8.4 -3l-12.3 -2.4l-12.7 0l-12.3 2.4l-9 3.3l-11.3 6.7l-5 4l-10.7 11.6l-18.7 26.4z"/>
<path fill="#259de6" d="M334.8 1209.5l0 8l3.3 7.7l8 9l7.7 6l8.7 5.3l15.3 7l15 4.3l12.3 1.7l11 0l15.4 -2.3l14.6 -4.7l12.7 -6l12.3 -8l8.7 -8l3.7 -5l3 -7.7l-0 -6.6l-1.4 -4.4l-2 -3.6l-18.6 -26.4l-10.7 -11.3l-8.7 -6.3l-7.6 -4l-8.4 -3l-12.3 -2.4l-12.7 0l-12.3 2.4l-9 3.3l-11.3 6.7l-5 4l-10.7 11.6l-17.7 25z"/>
<path fill="#20a4e3" d="M335.8 1208.8l0 6.7l1.3 4.3l2 3.7l5.7 7l13 10l12.3 6.6l14 5.4l9.4 2.3l14.6 1.7l10.7 -0.4l16 -3l13.3 -4.6l9 -4.4l13 -8.3l8.7 -8l3.7 -5l1.6 -3.3l1.4 -5l-0 -5.4l-3.4 -8.3l-17.6 -25l-10.7 -11.3l-8.7 -6.4l-7.6 -4l-8.4 -3l-12.3 -2.3l-12.7 0l-12.3 2.3l-9 3.4l-11.3 6.6l-10.4 9.4l-7.3 9l-14.7 21z"/>
<path fill="#1babde" d="M337.2 1205.8l-0.3 7.7l2.6 7.3l5.4 7l8 7l13 8l12 5.3l14.6 4.4l11.7 1.6l13 0l11.7 -1.6l12 -3.4l14.6 -6.3l14.7 -9.3l8.3 -8l4.7 -7.7l1.3 -5l-0.6 -7.7l-3 -6.3l-16.4 -23l-10.6 -11.3l-8.7 -6.4l-7.7 -4l-8.3 -3l-12.3 -2.3l-12.7 0l-12.3 2.3l-9 3.4l-11.4 6.6l-5 4l-10.6 11.7l-15.7 22.3z"/>
<path fill="#12b1d6" d="M338.2 1204.5l-0.3 7.3l2.6 7.4l4.4 6l4 4l7.3 5.6l9.3 5.7l15.4 6.7l10.6 3l14 2l10.4 -0l14 -2l14.3 -4.4l11.7 -5.3l13 -8.3l7.6 -7l5 -7.4l2 -7l-0.6 -7l-3.7 -7.3l-14.7 -20.7l-10.6 -11.3l-8.7 -6.3l-7.7 -4l-8.3 -3l-12.3 -2.4l-12.7 0l-12.3 2.4l-9 3.3l-11.4 6.7l-5 4l-10.6 11.6l-15.4 22z"/>
<path fill="#04b6ce" d="M338.8 1205.2l0.3 6.7l3 7l7.7 8.6l6.7 5.4l14 8l11.6 4.6l11.4 3l14.3 1.7l10.7 -0.3l11 -1.7l13.3 -4l12 -5.3l12.7 -8l8.3 -7.7l5 -7.7l1.7 -6.3l-0.4 -5.3l-2.6 -6.7l-15 -21.3l-10.7 -11.4l-8.7 -6.3l-7.6 -4l-8.4 -3l-12.3 -2.3l-12.7 -0l-12.3 2.3l-9 3.3l-11.3 6.7l-10.4 9.3l-7.3 9l-12.3 18z"/>
<path fill="#01bac4" d="M339.8 1203.5l0.3 6.7l2.4 6l5.3 7l7.7 6.6l12 7.4l11.3 5l9.3 3l15.4 2.6l14.3 0l11 -1.6l13.7 -4l11.3 -5l11 -6.7l10.3 -9.3l5 -8l1.4 -6.4l-0.7 -5.6l-2.7 -6l-13.6 -19.4l-10.7 -11.3l-8.7 -6.3l-7.6 -4l-8.4 -3l-12.3 -2.4l-12.7 0l-12.3 2.4l-9 3.3l-11.3 6.7l-10.4 9.3l-7.3 9l-11 16z"/>
<path fill="#11beba" d="M340.8 1202.2l0.3 6.7l2.7 6.3l7.3 8.7l7.7 6l13 7.3l10 4l11 3l12 1.7l11.7 -0l12 -1.7l11 -3l12.6 -5.3l10.4 -6l10.3 -8.7l5.3 -7.3l2 -5.4l0.4 -3l-0.7 -6l-3 -6.3l-12.3 -17.3l-10.7 -11.4l-8.7 -6.3l-7.6 -4l-8.4 -3l-12.3 -2.3l-12.7 -0l-12.3 2.3l-9 3.3l-11.3 6.7l-10.4 9.3l-7.3 9l-10.3 15z"/>
<path fill="#23c1af" d="M341.8 1200.5l0 5.3l0.7 2.7l3 6.3l7.6 8.4l6.7 5l6.3 4l12.4 5.6l13.3 4l14.3 2l13.4 -0.3l10 -1.7l13.3 -4l12.7 -6l9.6 -6.3l8 -7.3l5 -8l1.4 -6l-0.7 -6l-2.3 -5.4l-12 -17l-10.7 -11.3l-8.7 -6.3l-7.6 -4l-8.4 -3l-12.3 -2.4l-12.7 0l-12.3 2.4l-9 3.3l-11.3 6.7l-5 4l-10.7 11.6l-11 15.7z"/>
<path fill="#2ec4a4" d="M342.8 1198.8l0.3 7l4 8.3l4.7 5.4l10.3 8l9.7 5.3l11.7 4.7l14 3.3l10 1l11 -0.3l10.6 -1.7l12.4 -3.7l11.3 -5l8.3 -5l9.4 -7.6l5.3 -7l2 -4.7l0.7 -4l-1 -7.3l-2.4 -4.7l-10.6 -15l-10.7 -11.3l-8.7 -6.4l-7.6 -4l-8.4 -3l-12.3 -2.3l-12.7 0l-12.3 2.3l-9 3.4l-11.3 6.6l-5 4l-10.7 11.7l-10.7 15.3z"/>
<path fill="#36c898" d="M343.8 1197.5l0.3 7l2.4 5.7l3.6 5l4.7 4.6l5.7 4.4l9 5.3l12.3 5.3l12.3 3.4l9.7 1.3l13.7 0l9.6 -1.3l12.4 -3.4l12.3 -5.3l9 -5.3l9.7 -8.4l5.6 -8.6l1.4 -5.7l-0.7 -6.3l-2.3 -5.4l-10 -14l-10.7 -11.3l-8.7 -6.3l-7.6 -4l-8.4 -3l-12.3 -2.4l-12.7 0l-8.3 1.4l-9 2.6l-10.3 5l-10 7.4l-9.4 10l-10.3 14.3z"/>
<path fill="#43cb8a" d="M344.8 1195.8l0.3 7l2.7 6.3l5 6.4l6.7 5.6l9.6 6l14 6l10 2.7l11.4 1.7l12.3 -0l13 -2l12 -3.7l10.3 -4.7l10 -6.3l8.4 -7.7l4.3 -6.6l1.7 -6.7l-1 -7.3l-2.4 -4.7l-8.6 -12l-10.7 -11.3l-8.7 -6.4l-7.6 -4l-8.4 -3l-12.3 -2.3l-12.7 0l-8.3 1.3l-9 2.7l-10.3 5l-10 7.3l-7.7 8l-10.7 14.4z"/>
<path fill="#55cc7b" d="M346.2 1192.8l-0.3 6.7l2 6.3l5 7l7.6 6.7l9.7 6l14.3 6l7.4 2l14 2l9.6 -0l14 -2l12 -3.7l9.7 -4.3l9.7 -6l6.6 -5.7l5 -6.3l1.7 -3.4l1.3 -5.6l-0.6 -6.4l-3 -6.3l-10.7 -14l-7.3 -7.3l-8.7 -6.4l-7.7 -4l-8.3 -3l-12.3 -2.3l-12.7 0l-8.3 1.3l-9 2.7l-10.4 5l-10 7.3l-7.6 8l-10.4 14z"/>
<path fill="#69cd6b" d="M346.8 1193.2l0.3 6.7l2.7 6.3l3 4l9 8l8.7 5.3l10.6 4.7l11.4 3.3l14.6 2l11.4 -0.3l13.3 -2.3l11 -3.7l9.7 -4.7l8.3 -5.3l7 -6.3l5 -7.4l1.7 -6.6l-0.7 -6l-2.3 -5.4l-10.4 -13.6l-9.3 -9l-6.7 -4.7l-7.6 -4l-8.4 -3l-12.3 -2.3l-12.7 -0l-8.3 1.3l-9 2.7l-10.3 5l-10 7.3l-7.7 8l-8.3 11l-2.4 4.3z"/>
<path fill="#7fcc5a" d="M347.8 1191.8l0.3 6.3l2.4 5.7l3 4.3l7 6.7l9.3 6l9 4.3l14 4.4l11 1.6l13.7 0l11 -1.6l14 -4.4l9 -4.3l9.3 -6l6.7 -6.3l4.3 -6.7l1.7 -6.7l-0.7 -5.6l-3.3 -7l-8.4 -10.7l-9.3 -9l-6.7 -4.7l-7.6 -4l-8.4 -3l-12.3 -2.3l-12.7 0l-8.3 1.3l-9 2.7l-10.3 5l-10 7.3l-7.7 8l-8.7 11.7z"/>
<path fill="#94ca4a" d="M349.2 1188.8l-0.3 5.7l2.3 7.3l5 6.7l5.3 4.6l9.4 6l12 5.4l10.6 3l11.7 1.6l11 0l11.7 -1.6l10.6 -3l10.7 -4.7l11 -7l6.7 -6.3l4.3 -7l1.3 -6.4l-0.6 -5l-3.4 -7l-7.3 -9.3l-9.3 -9l-6.7 -4.7l-7.7 -4l-8.3 -3l-12.3 -2.3l-12.7 0l-8.3 1.3l-9 2.7l-10.4 5l-8 5.7l-7.3 7l-10 13z"/>
<path fill="#a9c73a" d="M349.8 1189.8l0.3 5l3 7l4.7 5.7l7.3 6l11.4 6.3l7.6 3l13.4 3.3l9.6 1l11.7 -0.3l11.3 -2l8 -2.3l12 -5.4l8.7 -5.6l5.3 -4.7l4.4 -5.7l2.6 -7l0 -6l-2 -5.6l-8 -10.7l-7.3 -7.3l-8.7 -6.4l-7.6 -4l-8.4 -3l-12.3 -2.3l-12.7 0l-8.3 1.3l-9 2.7l-10.3 5l-10 7.3l-7.7 8l-7 9.7z"/>
<path fill="#bdc32e" d="M351.2 1186.5l0 6.3l2.7 6.7l4.3 5.7l6.7 5.6l6.3 4l11.7 5.4l9 2.6l12.3 2l13 0l7.7 -1l9.6 -2.3l9 -3.3l10 -5.4l9.4 -7.3l5 -6.7l2.3 -7l-0.3 -6.3l-2.7 -6l-6 -7.7l-9.3 -9l-6.7 -4.6l-7.7 -4l-8.3 -3l-12.3 -2.4l-12.7 0l-8.3 1.4l-9 2.6l-10.4 5l-8 5.7l-7.3 7l-6.3 7.7z"/>
<path fill="#cfc027" d="M352.2 1185.8l0.3 6.3l2.4 5.7l2.3 3.3l8.7 8l7 4.4l10.6 4.6l10.7 3l12.3 1.7l12.7 -0.3l11 -2l10.3 -3.4l9.7 -4.6l8.7 -6l6.3 -6.7l3 -5.7l1 -4.6l-0.3 -5l-2.4 -5.7l-5.3 -7l-9.3 -9l-6.7 -4.7l-7.7 -4l-8.3 -3l-12.3 -2.3l-12.7 0l-8.3 1.3l-9 2.7l-10.4 5l-10 7.3l-7.6 8l-4 5.4z"/>
<path fill="#e0bc2a" d="M353.2 1185.8l0.7 5.7l2.6 5.6l6.7 7.4l4.3 3.3l6 3.7l9.7 4.3l7.3 2.3l13.7 2.4l13 -0l10.7 -1.7l10.3 -3l9.7 -4.3l8.6 -5.7l6 -5.7l4.4 -7l1 -4l-0 -5.3l-3 -7.3l-3.7 -4.7l-9.3 -9l-6.7 -4.7l-7.7 -4l-8.3 -3l-12.3 -2.3l-12.7 0l-8.3 1.3l-9 2.7l-10.4 5l-10 7.3l-7.6 8l-4.4 7z"/>
<path fill="#eeba34" d="M354.5 1183.2l0.3 6l2 5l3.4 4.7l7.6 6.6l7.7 4.7l10.3 4.3l12 3l9.4 1l11.6 -0.3l9.7 -1.7l7 -2l9.7 -4l9.6 -6l5.7 -5l2.7 -3.3l2.6 -5l1 -5l-1 -6.7l-3.3 -6l-8.7 -9l-10.3 -7.3l-9.3 -4.3l-9 -2.7l-8.4 -1.3l-12.6 -0l-8.4 1.3l-9 2.7l-8 3.6l-8.6 5.7l-9 8.3l-5 7z"/>
<path fill="#fbbb3e" d="M355.8 1181.2l0 5l2 6l3.3 4.7l7 6.3l5.7 3.7l10 4.6l10.3 3l11.4 1.7l10.3 0l11.3 -1.7l10.4 -3l9.3 -4.3l7.7 -5l5.3 -5l4.3 -6.7l1.4 -5.3l-1 -7.3l-3 -5.4l-7.7 -8l-10.3 -7.3l-9.4 -4.3l-9 -2.7l-8.3 -1.3l-12.7 -0l-8.3 1.3l-9 2.7l-8 3.6l-8.7 5.7l-9 8.3l-2.6 3.7z"/>
<path fill="#fec239" d="M357.2 1179.5l0.3 7l1.7 4l2.7 4l7.6 7l6.4 4l10 4.3l9.6 2.7l9.7 1.3l11 0l9.7 -1.3l12.3 -3.7l9.7 -4.6l7.3 -5.4l5 -5.3l2.7 -4.7l1.3 -5.3l-0.7 -6l-3 -6l-6.6 -7l-10.4 -7.3l-9.3 -4.4l-9 -2.6l-8.3 -1.4l-12.7 0l-8.3 1.4l-9 2.6l-8 3.7l-8.7 5.7l-7.7 7l-2.6 3.6z"/>
<path fill="#fdcb32" d="M358.5 1179.2l0.3 5l1.7 4.7l3 4.3l7 6.3l4.7 3l10 4.7l12 3.3l8 1l11 0l7.6 -1l9.4 -2.3l7 -2.7l6 -3l8 -5.6l6 -7l2.3 -6.4l0 -5.6l-2.3 -6l-2.7 -3.7l-5.7 -5.3l-6.6 -4.7l-7.7 -4l-8.3 -3l-12.4 -2.3l-12.6 -0l-8.4 1.3l-9 2.7l-8 3.6l-7.3 4.7l-7 6l-3.3 4.3l-2 4.4z"/>
<path fill="#fad52e" d="M360.2 1177.2l0.3 6l2.4 5.3l6.3 7l4 3l6.3 3.7l10.4 4l8.3 2l8.3 1l8.4 0l11.6 -1.7l9 -2.6l7.7 -3.4l9 -6l4 -4l3.3 -5l1.7 -6.3l-0.3 -4.3l-2 -5l-2.4 -3.4l-7.3 -6.6l-5.7 -3.7l-9.3 -4.3l-9 -2.7l-8.3 -1.3l-12.7 -0l-12.3 2.3l-9 3.3l-6.4 3.4l-8.3 6l-6 7.3z"/>
<path fill="#f6de29" d="M405.8 1176.8l2.7 -2l2.3 -0.3l3.3 1l1 1l0.4 1.6l-1.4 1.7l-4 1l-3 -1l-1.3 -1.3zM361.8 1176.2l0.7 6.3l1.6 3.7l2.4 3.3l6.6 6l4.7 3l9.7 4.4l10 2.6l7.3 1l11.7 0l7.3 -1l8 -2l7.7 -3l7.6 -4.3l7 -6l2.7 -3.7l2.3 -6l-0.3 -7l-2.3 -5l-2.4 -3l-6 -5.3l-4.6 -3l-9.4 -4.3l-9 -2.7l-8.3 -1.3l-12.7 -0l-12.3 2.3l-9 3.3l-10.3 6l-6.4 6l-3.3 5.7z"/>
<path fill="#f5e825" d="M396.8 1175.2l2 -3.3l4 -2.4l5.3 -1.3l4.7 0l4.7 1l4.3 2.3l1.7 1.7l1 3.3l-1 2.7l-3.4 3l-5.3 2l-6.3 0.3l-6.4 -1.6l-2.6 -1.7l-2.4 -3zM363.8 1175.2l0.3 4l2 5.3l3 4l6.7 5.7l8 4.3l7.3 2.7l14 2.7l11 -0l7.4 -1l14.6 -4.7l7.7 -4.3l5 -4l4 -5l2.3 -6.4l-0.3 -6.3l-2 -4.3l-4 -5l-4 -3.4l-4.7 -3l-8 -3.6l-9 -2.7l-8.3 -1.3l-12.7 -0l-12.3 2.3l-9 3.3l-8 4.7l-6.3 5.7l-3.7 6z"/>
<path fill="#f6f11f" d="M390.8 1173.5l1 -2.7l1.7 -2l6.6 -4l7 -1.6l6.7 -0l7.3 1.6l5.4 3l3 3.4l1 3.6l-2 5l-4 3.4l-8.4 3l-8.6 0.3l-7.4 -1.7l-5.3 -3l-3.7 -4.6zM366.5 1172.8l0.3 5.3l1.7 4.4l2.7 3.6l5.6 5l11.7 6l8 2.4l9 1.3l10.3 0l9 -1.3l8 -2.4l7.4 -3.3l6 -4l4.6 -4.7l2.7 -4.3l1.3 -5l-0.6 -5.3l-1.7 -3.7l-7.7 -8l-4.6 -3l-8.4 -3.7l-7 -2l-8.6 -1.3l-11.4 0l-7 1l-7.6 2l-7.4 3l-7 4.3l-5 4.7l-3.3 5.3z"/>
<path fill="#f8f818" d="M384.8 1170.8l3.7 -5.7l6.3 -4l10.7 -3l10 0l8.3 2l7.7 4l3 3l1.3 2.4l0.7 5.3l-2 4.3l-3.4 3.4l-6.3 3.6l-9.3 2.4l-9.7 -0l-9.3 -2.4l-7.4 -4.3l-4 -5.3zM370.2 1171.2l0 4l2 5.3l1.7 2.7l5 4.7l10.3 5.6l7.7 2.4l8.3 1.3l11 0l11 -2l8 -3l6.3 -3.7l5.4 -4.6l2.6 -4l1.7 -5.7l-0.3 -4l-1.7 -4l-2.7 -3.7l-6 -5l-7.6 -4l-4.7 -1.6l-12.3 -2.4l-13.7 0.4l-8 1.6l-6.7 2.4l-6.3 3.3l-4 3l-5 5.7z"/></g>
<line x1="251.9" y1="1235.2" x2="410.8" y2="1329" stroke="#4d4d4d" stroke-width="0.9"/>
<line x1="410.8" y1="1329" x2="569.3" y2="1235.2" stroke="#4d4d4d" stroke-width="0.9"/>
<line x1="251.9" y1="1235.2" x2="247.1" y2="1238" stroke="#4d4d4d" stroke-width="0.8"/>
<line x1="331.4" y1="1282.1" x2="326.6" y2="1284.9" stroke="#4d4d4d" stroke-width="0.8"/>
<line x1="410.8" y1="1329" x2="406" y2="1331.8" stroke="#4d4d4d" stroke-width="0.8"/>
<line x1="410.8" y1="1329" x2="415.6" y2="1331.8" stroke="#4d4d4d" stroke-width="0.8"/>
<line x1="490" y1="1282.1" x2="494.8" y2="1284.9" stroke="#4d4d4d" stroke-width="0.8"/>
<line x1="569.3" y1="1235.2" x2="574.1" y2="1238" stroke="#4d4d4d" stroke-width="0.8"/>
<line x1="251.9" y1="1235.2" x2="247.1" y2="1238" stroke="#4d4d4d" stroke-width="0.8"/>
<line x1="251.9" y1="1207.8" x2="247.1" y2="1210.6" stroke="#4d4d4d" stroke-width="0.8"/>
<line x1="251.9" y1="1180.4" x2="247.1" y2="1183.2" stroke="#4d4d4d" stroke-width="0.8"/>
<linearGradient id="gc" x1="0" y1="0" x2="0" y2="1"><stop offset="0%" stop-color="#f9fb15"/><stop offset="6.2%" stop-color="#f5e327"/><stop offset="12.5%" stop-color="#feca33"/><stop offset="18.8%" stop-color="#f1ba37"/><stop offset="25%" stop-color="#c8c129"/><stop offset="31.2%" stop-color="#94ca4a"/><stop offset="37.5%" stop-color="#5ccc76"/><stop offset="43.8%" stop-color="#34c79c"/><stop offset="50%" stop-color="#12beb9"/><stop offset="56.2%" stop-color="#0cb3d3"/><stop offset="62.5%" stop-color="#21a3e3"/><stop offset="68.8%" stop-color="#2c90f0"/><stop offset="75%" stop-color="#347afd"/><stop offset="81.2%" stop-color="#4562fc"/><stop offset="87.5%" stop-color="#484cef"/><stop offset="93.8%" stop-color="#4536d5"/><stop offset="100%" stop-color="#3e26a8"/></linearGradient>
<rect x="673.8" y="1081.2" width="21.8" height="251.3" fill="url(#gc)" stroke="#7a7a7a" stroke-width="0.8"/>
<path d="M695.6 1310.6h-2.2M695.6 1288.6h-2.2M695.6 1266.7h-2.2M695.6 1244.8h-2.2M695.6 1222.9h-2.2M695.6 1200.9h-2.2M695.6 1179h-2.2M695.6 1157.1h-2.2M695.6 1135.1h-2.2M695.6 1113.2h-2.2M695.6 1091.3h-2.2" stroke="#333" stroke-width="0.8" fill="none"/>
<clipPath id="cdv"><rect x="998.8" y="773.8" width="285.9" height="276.6"/></clipPath>
<g clip-path="url(#cdv)"><rect x="998.8" y="773.8" width="285.9" height="276.6" fill="#3e26a8"/>
<g filter="url(#bl)"><path fill="#4332c9" d="M1039.4 773.9l4.7 29.7l5.8 27.3l8.2 30l8.3 22.7l9.7 20.8l10.5 17.2l10 13l12.5 13l14.8 12l13.5 8.7l17.7 9.3l22.3 9l23.9 7.5l25.5 6.2l27 5.3l30.8 4.7l-0 -6.7l-34.5 -6.3l-27.5 -6.5l-29.5 -9l-19.2 -7.5l-16.8 -8l-12.2 -7l-15.5 -10.7l-11.5 -9.8l-11.3 -11.5l-10.2 -12.7l-10 -15.2l-8.8 -16.5l-8.2 -19.3l-8.5 -25l-8.3 -31.7l-6.5 -33zM1007.2 773.9l2 51l3 47.2l3 30.8l4.7 31.7l5.5 23l6.8 18.2l4 7.8l4.5 7l5 6.2l5.5 5.5l11.5 8.5l15.2 7.5l16.8 5.5l16 3.8l14 2.5l31.4 4l36.3 3l51.5 2.7l40.7 1.3l0 -20l-36.7 -4.3l-33.8 -5.2l-25.7 -5.3l-25.3 -6.7l-22.4 -8l-18 -8.5l-16.5 -10.3l-14.5 -12l-10.5 -11.2l-11 -15.3l-10 -18.4l-7.8 -19l-7.7 -25.3l-7.3 -32.5l-6 -37.5l-3.2 -27.7z"/>
<path fill="#4639d9" d="M1008.2 773.9l2.5 55l3 42l3.5 32.5l4.5 27.7l5.2 21.5l3.3 9.7l4.2 10.3l4.5 8.5l5 7.5l10 11l6.5 5.2l7.8 5l14.7 7l17.8 5.8l25.5 5.5l30.4 4.2l38.8 3.5l41.5 2.5l47.7 1.8l0 -18.3l-39.5 -4.5l-31 -4.7l-25.2 -5l-26 -6.8l-19.7 -6.7l-20.5 -9.3l-16.5 -10l-13.8 -11l-13 -13.7l-10.5 -14.8l-10.2 -19.2l-7.8 -19.5l-6.7 -22.2l-7.5 -33.8l-5 -30.7l-4.3 -36z"/>
<path fill="#473fe3" d="M1008.7 773.9l2.5 53.5l2.7 38l3.8 35l4.7 28.9l5.3 21.3l7.2 19.5l5 9.5l5 7.5l4.5 5.5l6 6l6.5 5.2l7.8 5l15.2 7.3l20.5 6.5l23.8 5l28.2 4l33.7 3.2l37.5 2.5l56 2.5l0 -17.7l-29 -3l-37 -5.3l-33.2 -6.5l-23.8 -6.2l-25.2 -9l-16.2 -7.8l-15 -9.2l-14.5 -11.8l-12.5 -13.5l-10 -14.2l-9.3 -17.3l-8.2 -20.4l-6.8 -22.3l-6.7 -29.7l-6 -36.5l-4.3 -35.5z"/>
<path fill="#4746eb" d="M1009.2 773.9l2 45.2l3.2 45.3l3.8 34.2l4.7 28.7l6.3 24.5l7.2 18.5l4 7.5l4.8 7.3l5 6.2l6.5 6.5l11 8.3l15.5 8l20.5 7l23.2 5.2l30 4.5l35 3.5l45.2 3l47.5 2l0 -17l-37.7 -4l-35 -5.2l-25.3 -5l-26.7 -7l-18.2 -6.3l-20.5 -9.2l-15.8 -9.5l-9.2 -7l-6.5 -5.8l-12.8 -14l-5 -6.7l-6.7 -10.8l-8.3 -16.4l-8.2 -21.8l-7.8 -28l-4.7 -22.7l-5.5 -34.5l-4 -34.5z"/>
<path fill="#484df1" d="M1009.4 773.9l2.7 54.7l3.3 41l3.7 31.8l4 23.4l6 24l7 18.5l3.3 6.5l5.7 9.3l9.3 11l7.7 6.7l7.3 5l14 7.3l20.7 7.2l24 5.5l27.5 4.3l33.2 3.5l42 3l53.8 2.5l-0.3 -16.5l-32 -3.3l-38.2 -5.5l-31.5 -6.2l-21 -5.5l-20.7 -7l-20 -9l-17.3 -10.5l-12.7 -10.3l-11.8 -12.2l-12 -16.8l-9.5 -18l-8.2 -20.9l-6 -20l-7.3 -32.5l-5.7 -36l-4 -35z"/>
<path fill="#4854f6" d="M1009.7 773.9l2.2 44.7l3.3 43.5l4 35.3l5 28.9l5.7 22.3l7.5 19.2l3.3 6.3l5.7 9l9.3 10.7l7.2 6.3l6 4.2l15 8l21.3 7.5l23.7 5.5l27 4.3l35.2 3.7l37.5 2.8l56 2.7l0 -16l-28.2 -2.7l-36.5 -5l-32.3 -6l-25.7 -6.5l-22.2 -7.5l-20.8 -9.5l-14.7 -9l-13.3 -10.5l-13.5 -14.3l-10.2 -14.5l-8.8 -16.2l-8.2 -20.2l-6.8 -22l-7.2 -32.3l-5.3 -32l-4.7 -40.7z"/>
<path fill="#475bfa" d="M1009.9 773.9l2.5 47.5l3.5 44.2l4 33.5l4.7 26.7l6.3 23.5l6.2 16l5.3 10l4.2 6.5l6 7.5l6 6l12.8 9.5l15.7 8l18.8 6.5l24.7 5.8l29 4.5l36 3.7l42.7 3l46.3 2l-0 -15.2l-28.3 -2.8l-36.7 -5l-31.3 -5.7l-27 -6.8l-22.2 -7.5l-21.2 -9.7l-14.3 -8.8l-13.5 -10.7l-11.7 -12.3l-11.5 -16l-9 -16.7l-8 -19.7l-7 -23l-6.5 -28.8l-6.3 -38.5l-4.2 -37.2z"/>
<path fill="#4563fc" d="M1010.2 773.9l3 54l3.7 43.7l4.3 32.5l4.7 24.7l6.8 23.5l3.7 9.5l4.5 9.3l4 6.7l5.3 7.3l9.5 10l12.5 9.2l16.2 8.3l20.8 7l23 5.2l26.9 4.3l37.8 4l42.2 3l45.5 2l0 -14.8l-32.2 -3.2l-36 -5l-28.3 -5.3l-28 -7l-19.4 -6.5l-11.5 -4.7l-10.8 -5.3l-14.5 -8.7l-15 -12l-12.7 -13.8l-6.3 -8.5l-5.7 -9.2l-8.5 -17l-8 -21.2l-6.3 -22l-6.5 -30.8l-5 -32l-4.2 -37.2z"/>
<path fill="#426afe" d="M1010.4 773.9l2.5 46l3 38.2l3.7 33l5.5 32l5.3 20.5l3.7 11l4 9.5l5 9.5l4.8 7.2l4.7 6l6.3 6.5l5.2 4.5l9 6.3l17 8.5l17.5 6l25.8 6l26.9 4.2l34.5 3.8l40.5 3l49.3 2.5l-0 -14.5l-32 -3.3l-34.8 -4.7l-32.2 -6l-27.5 -7l-18.5 -6.3l-20.2 -9l-16.3 -9.7l-13 -10.3l-11.2 -11.5l-11 -14.7l-8.5 -15l-4.5 -9.7l-5.3 -13.5l-7.7 -25.8l-6.5 -29.7l-6 -38.3l-4 -35.2z"/>
<path fill="#3c71ff" d="M1010.7 773.9l2.5 45.7l3 37.8l3.7 32.7l5.3 30.7l5.7 22.5l7.5 19.8l4.3 8.2l5.2 8.3l5.5 7l5.5 5.7l12 9.5l7.5 4.5l9.3 4.5l17.7 6.5l22.8 5.8l29.4 5l35.3 4l38.7 3l53 2.7l0 -14l-33.7 -3.5l-34.5 -4.7l-29.8 -5.5l-28.7 -7.3l-19.2 -6.5l-21.5 -9.7l-16.5 -10.3l-12.8 -10.5l-12.2 -13.2l-6.3 -8.5l-5.7 -9.3l-9.3 -18.7l-8 -22l-6.5 -24l-5.7 -28.2l-5 -33l-3.8 -34.8z"/>
<path fill="#3479fd" d="M1010.9 773.9l2.5 45.7l3.7 44.8l4.3 33.5l5.2 27.7l3.5 13.5l3.8 11.5l6.2 14.7l8.8 14.5l4.7 6l6.3 6.5l13 10l14.5 7.8l16.5 6.2l24 6.3l30.4 5.2l35 4l42 3.3l49.3 2.5l-0 -13.8l-37.5 -3.7l-35.3 -5l-26.5 -5l-26 -6.5l-20.9 -7l-12.5 -5.3l-9.5 -4.7l-15 -9.3l-12.8 -10.2l-7.7 -7.8l-5.8 -6.7l-11.5 -17l-9.5 -19.2l-8 -22l-7 -26.3l-5.5 -27.7l-5.2 -35.8l-3.3 -30.7z"/>
<path fill="#2f81fa" d="M1011.2 773.9l2.7 49.5l3.5 40.5l4.3 33.2l5 26.5l5 18.7l7 18.5l5 9.8l4.2 6.7l5.8 7.5l7.5 7.8l12.5 9.5l16.2 8.5l17.3 6.2l22.7 5.8l24 4.2l37.2 4.5l44 3.5l49.5 2.5l0 -13.2l-37 -3.8l-32.5 -4.5l-29.7 -5.5l-28.8 -7.2l-24.7 -8.8l-16.2 -7.7l-13.5 -8.3l-13.3 -10.5l-10.5 -10.7l-9.2 -12l-8 -13.3l-8.5 -18.2l-3.8 -10l-5.7 -18.5l-7.5 -32.5l-6 -37l-4.8 -41.7z"/>
<path fill="#2d87f6" d="M1011.4 773.9l2.2 42.5l3.8 44.7l4.2 33.8l5.3 27.9l5 18.8l7 18.5l4 8l6.2 10l10.8 12.5l6 5.2l9.2 6.5l13.3 7l19.5 7.3l22.7 5.7l27.2 4.8l33.5 4l47.3 3.7l46 2.3l-0 -12.8l-46.5 -5l-37.5 -5.7l-34.3 -7.5l-25.7 -8l-15.2 -6.3l-15.8 -8.2l-13.2 -9l-12 -10.5l-11 -12.5l-11 -16.8l-8.8 -18l-7 -18.9l-6.2 -22.3l-6.5 -31.2l-5.3 -34.8l-3.7 -35.5z"/>
<path fill="#2d8ef1" d="M1011.4 773.9l3 50l3.5 39.5l4.7 35.7l4.8 24.2l7 24.3l7.2 17l3.8 6.7l5.7 8.5l4.8 5.8l6.5 6.5l13 9.7l7 4l10.7 5l18 6.3l23.8 5.7l26.9 4.5l34.8 4l45.2 3.5l42.8 2.3l-0 -12.8l-40 -4l-41 -6l-20.5 -4l-17.8 -4.2l-24.2 -7.5l-16.5 -6.8l-15.2 -8l-13.3 -9l-11 -9.5l-12 -13.5l-11 -16.7l-9.2 -19.2l-7.3 -20.3l-6.7 -25.2l-5 -24.8l-5.5 -36.5l-3.8 -35.2z"/>
<path fill="#2995ed" d="M1011.7 773.9l2.7 47l3.5 40l4 31.5l5.3 28.2l5.7 21.2l7 18l4.5 8.8l5.3 8.2l7 8.8l5.7 5.7l6 5l7.3 5l15.2 8l16.8 6.3l23 6l26.4 4.7l39.5 4.8l44.5 3.5l43.5 2.2l0 -12.2l-45.5 -4.8l-39.5 -6l-35.2 -7.7l-22 -6.8l-15.7 -6.2l-15.8 -8l-12 -7.8l-14 -11.7l-9 -9.8l-9.5 -13l-10 -18.2l-5.5 -13l-8.5 -26.2l-7 -30.5l-5.7 -35l-5.3 -46z"/>
<path fill="#259be8" d="M1011.9 773.9l3 51l3.2 36l4.3 32.7l5.2 27.5l4.8 17.7l3.5 10.3l5 11.7l4.2 8l5.5 8.5l4.8 6l7 7.3l13 10l15.5 8.2l19.7 7.3l20.5 5.2l26.2 4.8l41.8 5l41.2 3.2l44.3 2.3l-0.3 -12l-38.5 -3.8l-46 -6.7l-35.5 -7.8l-23.4 -7.2l-15 -6l-16.5 -8.5l-13.8 -9.3l-11.5 -10l-10.5 -11.7l-9.5 -13.8l-7.2 -13.5l-6.5 -15.2l-8.3 -25.7l-7.2 -32l-6.5 -41.5l-4 -38z"/>
<path fill="#23a0e5" d="M1012.2 773.9l2 37.7l4 47l4 31.5l5.5 29.5l5 18.7l7.2 19.3l4.3 8.5l6.2 10l5.3 6.7l7.2 7.5l6.3 5.3l8 5.5l16 8.2l19.7 7l22.3 5.5l32.9 5.5l30.8 3.5l37 3l48.7 2.8l0 -11.8l-44.2 -4.5l-36 -5.2l-31 -6.3l-18 -4.7l-12.5 -4l-18.2 -7.3l-13.8 -7l-11.7 -7.5l-11.3 -9l-11 -11.2l-11.2 -15.3l-10.3 -19l-5 -11.9l-8.5 -26.5l-7.2 -32.3l-6 -38l-4.5 -41.2z"/>
<path fill="#1fa6e2" d="M1012.2 773.9l2.7 45.5l3.3 37l4.2 33.5l6 31.4l7 24l3.8 9.5l5.2 10.8l7.5 11.7l5.8 7l6 6l6 5l8 5.5l16 8.3l18 6.5l21.5 5.5l29.7 5.2l30.7 3.8l41.3 3.5l49.7 2.7l0 -11.2l-41.5 -4.3l-42.7 -6.2l-29 -6l-16 -4.3l-14 -4.5l-18 -7.2l-11.7 -6l-12 -7.5l-12.5 -10l-10.3 -10.5l-11 -14.8l-10 -18.2l-5.5 -13l-4.5 -12.7l-4.2 -14.5l-7.3 -32.5l-5.7 -36.5l-4.8 -42.5z"/>
<path fill="#1aacdd" d="M1012.4 773.9l2.5 43l3.7 42l4.5 34l5.3 26.9l7.2 25l3.8 9.5l5.2 10.8l10 15l9.8 10.2l7.7 6.3l6 4l16 8.2l20.5 7.3l21.3 5.2l32.4 5.5l32.5 3.8l48 3.7l35.8 1.8l-0 -11l-40.8 -4l-41.7 -6l-33.8 -7l-28.4 -8.5l-18.3 -7.5l-13.2 -7l-10 -6.5l-11.8 -9.5l-11.2 -11.8l-10.5 -14.5l-8.5 -15.5l-6.5 -15.2l-4.5 -13l-4.3 -14.7l-6.2 -27.8l-6.8 -42.7l-4.2 -40z"/>
<path fill="#13b1d7" d="M1012.4 773.9l3.5 53.5l3.2 34l3.8 28.2l6 31l7.2 24.5l6.3 14.7l8 13.8l5.5 7.2l6.2 6.8l7.5 6.5l7.8 5.5l15.5 8.2l20.5 7.5l22.7 5.8l27 4.7l30 3.8l47 4l44.5 2.5l-0 -10.8l-42 -4.2l-43 -6.3l-21.5 -4.2l-15.5 -3.8l-23.5 -7.2l-16 -6.5l-14.5 -7.5l-12.5 -8.3l-10.2 -8.5l-10.5 -11l-9.8 -13.2l-5.7 -9.8l-9.5 -20.7l-8 -24.2l-7.5 -32.3l-6.8 -42.5l-4.5 -41.2z"/>
<path fill="#07b5d0" d="M1012.7 773.9l2.7 44.7l3.5 38.5l4.8 35.5l5 25.5l5 18.5l3.7 10.7l4.5 10.5l4.8 9l5.7 8.8l4.8 6l6.7 7l6.5 5.5l8.3 5.7l15.2 8l21.5 7.8l22.3 5.5l25.4 4.5l34.5 4.2l41.5 3.5l45.5 2.5l0 -10.5l-41.2 -4l-40.5 -5.7l-33.3 -6.8l-26.9 -7.7l-16.3 -6.3l-15.2 -7.5l-14.5 -9.2l-11.8 -9.8l-11.7 -12.7l-8.5 -12l-9 -16.5l-6.8 -16.2l-7.7 -24.8l-7.3 -32.7l-5.7 -37l-4.5 -42.5z"/>
<path fill="#00b9c8" d="M1012.9 773.9l2.2 39l3.8 42.2l4.2 32.8l5.8 29.9l3.7 14.3l3.8 11.5l4 10l4.5 9.2l4.7 8l5 7l10.8 11.5l12.5 9.5l6.7 4l10.3 5l19.2 7l23.8 6l26.9 4.8l30 3.7l39.8 3.5l50 3l-0 -10.2l-42.5 -4.3l-41.8 -6l-28.5 -5.7l-13.7 -3.5l-16.2 -5l-19 -7.5l-15 -7.8l-14.8 -10l-9.5 -8.2l-10.5 -11.5l-9 -12.8l-9.5 -17.7l-5.7 -14l-8.3 -26.5l-6.7 -30.7l-5.8 -36.8l-4.7 -43.7z"/>
<path fill="#06bcbf" d="M1012.9 773.9l3.2 49.7l3.5 36.3l4 29.5l5.5 28.2l5 18.2l7 18.5l4.5 9l6.8 10.8l5.7 7.2l5.8 6l13.2 10.5l7 4.3l10 5l19.5 7.2l23.3 6l27.9 5l32 4l47.3 4l40.5 2.3l-0 -10l-41.8 -4l-33 -4.5l-33.5 -6.3l-29.9 -8l-16 -5.7l-17.8 -8.3l-14.2 -8.7l-12.3 -9.8l-10.5 -10.7l-10.7 -14.5l-9.5 -17.3l-6.5 -15.4l-7.8 -24.5l-7.5 -33.8l-5.7 -37.2l-4.5 -43z"/>
<path fill="#16bfb7" d="M1013.2 773.9l3 47.5l4 41l4.5 31.5l4.7 23.4l3.5 13.3l4 12.2l8 18.3l4.5 7.7l6 8.5l10.5 11.3l7 5.7l7 4.8l15.3 8l18 6.7l27.5 7l22.4 4l35.8 4.5l44 3.8l41.7 2.2l0 -9.5l-38.7 -3.7l-40.3 -5.5l-31.2 -6l-28 -7.5l-18.5 -6.8l-16.7 -8l-14 -8.7l-11.8 -9.5l-11 -11.5l-10.5 -14.5l-9.5 -17.8l-6.5 -15.9l-7.5 -24.5l-7.2 -33.5l-5.3 -34.3l-4.7 -44.2z"/>
<path fill="#25c2ae" d="M1013.2 773.9l3 45.2l3.7 39.3l4.3 31l5.2 26.7l4.8 17.5l7.7 20.5l5.3 10.2l5.2 8.3l5 6.5l7 7.5l7.3 6.2l8.2 5.8l14.5 7.7l16.8 6.5l25 6.8l26.9 5l35.3 4.5l39.7 3.5l46.5 2.7l0 -9.5l-40 -3.7l-37 -5l-32 -6l-29.9 -8l-17.3 -6.3l-18.7 -9l-13 -8.2l-12.3 -10l-11 -11.8l-10 -14l-8.2 -15.2l-7.3 -17.5l-7 -22.5l-4.5 -18.7l-3.7 -19.3l-6.3 -43.2l-3.2 -33.5z"/>
<path fill="#2ec4a5" d="M1013.4 773.9l3 46.2l3.2 34.3l4.8 35l5.2 26.5l7 24.2l4.8 12l4 8.2l4.5 7.8l6 8.5l10.7 11.5l14 10.5l15.8 8.2l19 7l23.2 6l27.7 5l36.3 4.5l45 3.8l37 2l-0 -9l-43.5 -4.3l-33 -4.5l-34.5 -6.5l-28 -7.5l-18.5 -6.7l-16.7 -8l-13.3 -8.3l-14.2 -11.7l-9.5 -10.3l-10.5 -14.7l-8.8 -16.5l-6.5 -16l-7.2 -23.5l-4 -16.7l-3.8 -19.3l-5 -33l-4.7 -44.7z"/>
<path fill="#34c79b" d="M1013.7 773.9l2.7 44l4 41.2l4 28.8l5.3 26.7l5.5 20l7 18.2l5.5 10.8l5.2 8.2l6.3 8l6.5 6.8l6.7 5.7l8.3 5.8l15 8l19.2 7.2l22.8 6l26.9 5l32.8 4.3l42 3.7l45.2 2.8l0 -9l-38.2 -3.5l-42.5 -5.8l-32.3 -6.2l-25.9 -7l-18 -6.5l-16 -7.5l-15 -9.3l-11.3 -9l-12 -12.5l-9.7 -13.5l-8.8 -16l-7.2 -17.4l-7 -22.5l-7.8 -35.3l-5.2 -34.2l-4.8 -45.8z"/>
<path fill="#3dca90" d="M1013.7 773.9l3 45l3.7 38.5l5.5 37.7l6.3 28.2l6.2 19.5l7.8 17.3l4.2 7.2l6 8.5l11.3 12l6.7 5.5l7 4.8l15.8 8.2l18 6.8l23.7 6.2l27.2 5l35.5 4.5l36.5 3.3l46.5 2.7l0 -8.5l-41.7 -4l-37 -5l-33 -6.2l-27.2 -7.3l-19.3 -7l-16.2 -7.7l-12.3 -7.5l-13.5 -10.8l-12 -12.7l-9.2 -13l-9.3 -17.3l-6.2 -15.2l-7.5 -24.2l-7.3 -33.3l-5.2 -34l-5 -47.2z"/>
<path fill="#4bcb84" d="M1013.9 773.9l2.5 39.7l3.7 39.8l4.3 31.5l6.2 31.5l7 23.4l7.8 18l8.5 14l5.5 7l7.5 7.8l6.2 5.2l9 6.3l17 8.7l19.5 7l22.8 5.8l27.9 5l31.8 4l39.2 3.5l44.3 2.7l-0 -8.5l-43 -4l-35.3 -4.7l-28.7 -5.3l-18 -4.2l-14 -4l-18.7 -6.8l-15.5 -7.2l-14.8 -9l-13 -10.5l-11.2 -12l-9.8 -13.8l-8 -14.7l-8.5 -21l-7.2 -24.7l-6.5 -31l-6.3 -43l-3.7 -36.5z"/>
<path fill="#5bcc77" d="M1013.9 773.9l2.7 40.7l3.5 37l4.3 31.8l6 30.7l4.5 16.5l8 21.2l5.2 10.3l5.8 9l5 6.5l6.5 7l7.7 6.7l7 5l16.5 9l17.5 6.8l21.8 6l28.4 5.5l38.5 5l39.8 3.5l42 2.5l-0 -8l-46.5 -4.5l-36 -5l-30 -5.8l-27.2 -7.2l-17.5 -6.3l-18 -8.5l-15 -9.5l-12 -10l-10 -10.7l-9.5 -13.3l-9.3 -17.2l-7.5 -18.7l-8.2 -28.8l-6 -29.5l-5.8 -40l-3.7 -37.7z"/>
<path fill="#6bcd69" d="M1014.2 773.9l2.5 38.7l4.2 43.8l5 34.5l6.3 28.9l6.5 20.8l7.7 17.5l9.3 14.7l6 7.3l6.5 6.5l8 6.5l6.7 4.5l17.5 9l18 6.5l23.3 6l27.4 5l33.3 4.2l39 3.5l43.2 2.8l0 -8l-43.5 -4l-37 -5l-36.2 -7l-23 -6.3l-20 -7.2l-17 -8.3l-13 -8.2l-6.5 -5l-8 -7.3l-10 -11.2l-10.2 -15.3l-7.3 -14.2l-6.7 -17l-8 -27.5l-6 -29l-6 -41.2l-4 -39z"/>
<path fill="#7ecc5b" d="M1014.4 773.9l2.5 39.7l4 41l3.5 25.8l6 31.2l5.2 19.2l7.5 19.8l4.5 9l6 9.7l5.5 7.3l8 8.5l11.5 9.2l16 9.3l11 4.7l13 4.5l19.8 5.3l28.9 5.5l30 4l36.5 3.5l50.8 3.2l-0 -7.5l-47 -4.5l-33 -4.5l-28.8 -5.2l-30.2 -7.8l-15.2 -5.2l-18.5 -8.3l-16.5 -10l-11.5 -9.2l-10 -10.3l-10.8 -14.5l-10 -18.5l-6.7 -16.7l-3.8 -11.5l-5.2 -19.7l-6 -30l-5.5 -38.8l-3.8 -38.2z"/>
<path fill="#90ca4d" d="M1014.4 773.9l3.5 49.5l4.5 41.5l4.7 30l5.8 25.4l7.2 22.3l7.3 15.7l9.5 14.8l4.7 5.7l7.5 7.5l13.3 10l6.7 4l10.8 5.3l19 7l23 6l26.9 5l32.5 4.2l41 3.8l42.3 2.5l-0 -7.3l-37.3 -3.2l-40.7 -5.3l-34 -6.2l-27 -7l-19.7 -7l-16.5 -7.8l-12.8 -7.7l-13.2 -10.5l-12 -12.8l-9.3 -13l-8.5 -15.7l-7.2 -17.7l-7 -23l-7.5 -35l-6.3 -43.5l-3.7 -37.5z"/>
<path fill="#a1c840" d="M1014.7 773.9l2.2 35.5l4.5 46l4.3 29.7l6.5 31.3l6.7 21.9l7.8 17.8l9.2 15l7 8.5l5.5 5.5l6.5 5.5l8.3 5.7l13.2 7.3l9.3 4l13.5 4.7l21.7 5.8l28 5.2l27.7 3.8l41.5 4l46.5 3l0 -7l-47.5 -4.5l-33.2 -4.5l-32.3 -6l-25.9 -6.8l-19.3 -6.7l-16.2 -7.5l-14.8 -9l-12.7 -10.3l-11.3 -12l-9 -12.5l-8.2 -15l-7.8 -18.7l-7.5 -24.7l-6.7 -31.5l-6 -40.5l-4.3 -43z"/>
<path fill="#b2c534" d="M1014.7 773.9l3.5 48.2l4.2 39.5l4.8 30.5l5.5 25l7 22.2l8.5 18.8l10 15.2l9 10l7.5 6.5l9.2 6.5l15 8l19.8 7.5l20.2 5.5l31.5 6l28 3.8l38.7 3.7l47.5 3l-0.2 -6.7l-37.5 -3.3l-44.3 -5.7l-29.7 -5.5l-27.2 -7l-20 -7l-18 -8.5l-14.3 -9l-11.5 -9.5l-10.7 -11.5l-10.5 -15l-9 -17.5l-6.5 -16.7l-8.3 -29.3l-5.2 -26l-5.8 -39.5l-4.2 -42.2z"/>
<path fill="#c3c22b" d="M1014.9 773.9l3.2 46.2l4.3 39.8l4.5 29.5l6 27.4l6.7 21.5l7.8 17.5l4.7 8.3l5.8 8.2l11.5 12.5l6.2 5.3l8.3 5.7l13.7 7.5l19.8 7.8l22.7 6.2l25.5 5l34.5 4.8l39.2 3.7l45.3 3l-0 -6.5l-39.3 -3.5l-40.7 -5.2l-32.8 -6l-27.9 -7.3l-19 -6.7l-16.5 -7.8l-14.5 -9l-12.5 -10.2l-10.3 -11l-9.5 -13.3l-8.5 -15.7l-7.5 -18.5l-4.7 -15l-4 -15.5l-5.5 -27.2l-6 -42l-3.8 -39.5z"/>
<path fill="#d1bf27" d="M1014.9 773.9l3.5 47l4.2 39.2l4.8 30.5l5.7 26l7.3 22.7l8.2 18l10 15.3l9.5 10.5l7.3 6.2l9.2 6.5l15 8l10.3 4.3l11.7 4l18.8 5l31.4 6l25.8 3.5l40.7 4l46.3 3l-0 -6l-40.8 -3.8l-40.5 -5.2l-30.2 -5.5l-28.5 -7.3l-20.5 -7.2l-15.5 -7.3l-15 -9.2l-12.5 -10.3l-10.2 -11l-10.3 -14.5l-7.5 -14l-7 -16.9l-4.5 -13.8l-4.7 -18l-5.8 -28.5l-5.5 -38.2l-4.2 -43z"/>
<path fill="#dfbc2a" d="M1015.2 773.9l3 42l4.5 42.5l5.2 33.5l5.3 23.5l6.2 20.2l8.5 19.5l9.8 15.5l6 7.2l6.5 6.5l6.2 5.3l8.3 5.7l13.7 7.5l8 3.5l14 5l21.3 5.8l30.2 5.7l29.7 4l39 3.8l44 3l0 -6l-42.2 -3.8l-37 -4.7l-31 -5.5l-29 -7.3l-17 -5.7l-19.5 -8.8l-15.5 -9.5l-12.5 -10.2l-12.2 -13.5l-9 -13.3l-8.8 -17.2l-8 -21.5l-7 -26.2l-6 -31.5l-4.7 -34.8l-4 -40.2z"/>
<path fill="#ebba31" d="M1015.4 773.9l2.7 39.7l4.3 41l4.5 30.3l6.2 29.2l7 22.5l8.5 19l9 14.2l10.8 12.3l8.7 7.5l6.8 4.7l16.5 9l12.2 5l10.5 3.5l18.8 5l29.9 5.8l29.5 4l41.5 4l41.8 2.7l-0 -5.5l-41.5 -3.7l-37.5 -4.8l-30 -5.2l-29.5 -7.3l-19.2 -6.5l-18.3 -8.2l-13 -7.8l-14.5 -11.5l-12 -13l-9.7 -14.2l-8.8 -17.3l-7 -18.4l-8 -29.5l-5.7 -30.3l-5.3 -38.7l-3.5 -37.5z"/>
<path fill="#f6ba3c" d="M1015.4 773.9l3.7 48.7l4 36l4.8 30.3l5 23l7 22.9l5 12.3l4.5 9l9 14l6.5 7.7l5.5 5.5l7.5 6.3l8 5.5l15.5 8.2l20.5 7.8l19.2 5.2l26.2 5.3l33.8 4.7l44 4.3l39.5 2.5l-0 -5.3l-38.5 -3.2l-43.5 -5.5l-31.8 -5.8l-25.7 -6.5l-18.5 -6.2l-18.7 -8.5l-14 -8.5l-12.5 -10l-6.8 -6.8l-6.7 -8l-9.5 -14.2l-8.8 -17.8l-7.5 -20.7l-7.2 -28l-5.5 -29.7l-4.5 -33.3l-4 -41.2z"/>
<path fill="#febe3c" d="M1015.7 773.9l3.7 49.2l4 35.5l4.8 30l5.7 25.8l7.3 22.7l8.7 19l9.5 14.5l5 6l7 7l13.8 10.5l14 7.7l15.7 6.5l25.5 7.5l25.7 5.3l32.8 4.7l39.5 4l46.2 3.3l0 -5l-40.2 -3.5l-38.3 -4.8l-35.2 -6.2l-24.2 -6l-20.3 -6.8l-19.7 -9l-13.8 -8.5l-11.2 -9l-11.3 -11.7l-5.7 -7.5l-5.5 -8.5l-9 -17.8l-8 -21.7l-6 -22.2l-6.5 -33.5l-5 -36.8l-3.8 -40.7z"/>
<path fill="#fec537" d="M1015.9 773.9l3 41.5l4.5 41.2l5.2 33l5.8 25.3l7 21.7l8.7 19l4.5 7.5l5.8 8l11.7 12.5l13.5 10.2l17.3 9.3l21.5 8l18.5 5l23.4 4.7l32.5 4.8l39 4l46.8 3.2l-0 -4.5l-37.3 -3.2l-42.7 -5.3l-31.5 -5.5l-26.7 -6.5l-19 -6.2l-12 -5l-10 -5l-14.3 -9l-11.7 -9.8l-11.8 -13l-9.2 -13.7l-9.5 -19.3l-7 -19.4l-7.8 -30.3l-5.2 -29l-4.3 -31.7l-4 -42.5z"/>
<path fill="#fdcc32" d="M1016.2 773.9l2.7 39l4.5 41.7l5 32l5.3 24l7.2 23.5l4.8 11.5l4.5 9l7.5 12l11 13l7.5 6.7l7 5.3l16.5 9.5l16.2 6.7l14 4.5l13.5 3.5l24.7 5l35 5l43.3 4.3l38.2 2.5l0 -4.3l-36.7 -3l-41.5 -5l-37 -6.5l-21.5 -5.2l-21.5 -7l-20 -9l-14.2 -8.8l-11.3 -9l-11 -11.5l-5.7 -7.5l-5.5 -8.5l-8 -15.5l-8 -20.9l-7.3 -26.8l-5.7 -29.7l-5.5 -40.5l-3.8 -40z"/>
<path fill="#fad42e" d="M1016.2 773.9l3.2 42l4.3 38.5l5 31.7l6 26.8l7.5 23.2l7.7 17l5 8.5l6.3 8.7l11.7 12.5l14.3 10.8l15.2 8.2l21.5 8.3l20 5.5l23.2 4.7l34 5l39 4l44.5 3l0 -3.7l-41.2 -3.5l-38.8 -4.8l-24.2 -4l-32 -7.2l-23.7 -7.8l-18.3 -8.2l-14 -8.5l-13 -10.5l-12.5 -13.8l-9.5 -14.2l-8.5 -17.3l-7.2 -19.9l-7.5 -29l-5.3 -28.5l-5.2 -40l-3.5 -37.5z"/>
<path fill="#f7dc2a" d="M1016.4 773.9l3 39.2l4.7 42.8l5 31l6 26.2l6.8 21l8.7 19.2l4.8 8l5.5 7.8l11.5 12.5l6.5 5.5l8.5 6l16.7 9l22 8.2l19.5 5.3l23.5 4.7l36.5 5.3l34.5 3.5l44.5 3.2l-0 -3.5l-48.3 -4.2l-37 -4.8l-29.5 -5.2l-23.7 -5.8l-22 -7.2l-18.7 -8.5l-13.5 -8.3l-13.3 -10.7l-12 -13.3l-9.5 -14.2l-8.5 -17.3l-7.2 -19.9l-7 -26.8l-5.8 -31l-5.5 -42.7l-3 -35z"/>
<path fill="#f5e427" d="M1016.7 773.9l3.5 44.2l4.7 40.8l4.5 27.2l6.5 28l6.8 20.5l8.2 18l4.8 8l6.2 8.7l12 12.8l14.3 10.7l16.2 8.8l21 8l20 5.5l24.5 5l36.2 5.2l37 3.8l41.5 3l0 -3l-33.5 -2.8l-41.7 -4.7l-32.5 -5.3l-30.5 -7l-20.2 -6.5l-18.5 -8l-16 -9.5l-12.5 -10l-12.3 -13.2l-9.5 -14l-8 -15.8l-7.7 -20.7l-7.3 -27.2l-5.7 -30.8l-5.5 -42.2l-3.3 -37.5z"/>
<path fill="#f5ec22" d="M1016.9 773.9l3.2 41l4.8 41.2l4.7 29l6.5 28l6.8 20.5l4 9.5l5.7 11.2l9 13.5l5 6l7.5 7.5l14.5 11l13 7.3l19.5 8l24.3 7l25.4 5.2l38.3 5.5l37.5 3.8l38 2.7l-0 -2.5l-36.5 -3l-41.3 -4.7l-29.5 -4.8l-32.7 -7.5l-22 -7.2l-17.2 -7.8l-14.5 -8.7l-13.3 -10.8l-11.7 -13l-9.5 -14.2l-9.5 -19.8l-7 -20.2l-7 -28.2l-5.5 -31.5l-5 -40.8l-2.8 -33.2z"/>
<path fill="#f7f51b" d="M1017.4 773.9l3.5 44.7l4.2 36l5 30.3l6.3 26.7l6.5 20l4.2 10.2l6 11.8l9 13.5l5 6l7.8 7.7l14.5 11l17.2 9.3l22 8.2l19.3 5.3l24.4 5l38.3 5.5l40.2 4l33.8 2.2l-0 -1.7l-42.8 -3.5l-43.2 -5.3l-26.5 -4.5l-22.2 -5l-19.5 -5.7l-19.5 -7.8l-15.8 -8.5l-10 -7l-6.2 -5.2l-12.3 -13l-10.2 -15l-9.5 -19.5l-7.3 -20.7l-5.5 -21.3l-5.2 -27.2l-6 -45l-3.8 -41.5z"/></g>
<line x1="1005.4" y1="1033.6" x2="1284.7" y2="1033.6" stroke="#fff" stroke-width="2.4" stroke-dasharray="10.5 8"/>
</g>
<rect x="998.8" y="773.8" width="285.9" height="276.6" fill="none" stroke="#262626" stroke-width="0.9"/>
<path d="M1046.5 773.8v2.6M1046.5 1050.4v-2.6M1094.1 773.8v2.6M1094.1 1050.4v-2.6M1141.8 773.8v2.6M1141.8 1050.4v-2.6M1189.4 773.8v2.6M1189.4 1050.4v-2.6M1237 773.8v2.6M1237 1050.4v-2.6M998.8 801.5h2.6M1284.7 801.5h-2.6M998.8 829.1h2.6M1284.7 829.1h-2.6M998.8 856.8h2.6M1284.7 856.8h-2.6M998.8 884.4h2.6M1284.7 884.4h-2.6M998.8 912.1h2.6M1284.7 912.1h-2.6M998.8 939.8h2.6M1284.7 939.8h-2.6M998.8 967.4h2.6M1284.7 967.4h-2.6M998.8 995.1h2.6M1284.7 995.1h-2.6M998.8 1022.7h2.6M1284.7 1022.7h-2.6" stroke="#262626" stroke-width="0.9" fill="none"/>
<clipPath id="cdl"><rect x="1404.3" y="774.4" width="286.4" height="276.6"/></clipPath>
<g clip-path="url(#cdl)"><rect x="1404.3" y="774.4" width="286.4" height="276.6" fill="#3e26a8"/>
<g filter="url(#bl)"><path fill="#4332c9" d="M1406.7 774.5l1 46.2l2 43.8l2.5 31.5l3.5 26.2l4.2 19.5l6.3 17.7l7.2 13l4 5.3l6.5 6.7l6.5 5.3l6.5 4.2l7.5 4l10 4.3l18 5.7l25 5.5l35.7 5.3l34.5 3.5l44.8 3.2l58.2 3l0 -2l-41 -2l-52 -3.7l-42.7 -4.5l-32.5 -5l-23.7 -5.3l-20.5 -6.5l-11.5 -5l-6 -3.2l-7.8 -5l-6.7 -5.5l-5 -5l-6 -7.5l-7.8 -13.8l-6.2 -17.2l-4.3 -18.3l-4 -27.4l-2.5 -28.3l-2 -36.5zM1404.4 774.5l0 60.2l0.7 54.8l1.3 40.4l1.7 26.8l2.8 20.7l3.7 14.8l5 10.7l4 5.5l4.3 4.3l8 5.5l6.7 3.2l9.3 3.3l18.2 4.2l27 3.8l32.3 2.7l41.4 2.3l58.3 2l61.5 1.2l-0 -8.7l-57.8 -2.5l-58 -3.8l-37.9 -3.7l-36 -5.5l-20.3 -4.8l-17.5 -6l-10.7 -5.2l-11.8 -8.3l-6.2 -6.2l-3.8 -4.8l-7 -12.2l-5.2 -14.5l-4.8 -22l-3 -24l-2.2 -30.7l-2 -51.5l-1 -52z"/>
<path fill="#4639d9" d="M1404.4 774.5l0 47l1 70l1.2 36.4l2 28.3l2.5 18.2l2.3 10l2.2 7l3.3 7.3l2.7 4.5l7.5 8.2l5.5 4l7.5 4l14.3 5l19.7 4.3l26.5 3.5l29.5 2.5l45.5 2.5l113 3.2l-0 -8l-54 -2.2l-60 -3.8l-39 -3.7l-38 -5.8l-21 -5l-16.5 -5.7l-13.5 -7l-9.5 -7.3l-8.5 -9.5l-4 -6.2l-3.7 -7.5l-5.5 -16.3l-4.3 -21.2l-2.5 -20.5l-2.2 -30.2l-2 -51l-1 -55z"/>
<path fill="#473fe3" d="M1404.4 774.5l1 112.7l1.5 42.5l2 26.5l2.2 16.2l4.5 17.5l5 10.5l4.3 5.8l4.2 4.2l8.3 5.8l7.7 3.7l8.5 3l18.8 4.5l25.5 3.8l33 3l43.4 2.5l116.3 3.5l-0 -7.8l-57 -2.2l-59.3 -3.8l-38.4 -3.7l-32.3 -4.8l-21.5 -4.7l-19.5 -6.5l-13.7 -7l-10.8 -8.3l-7.5 -8.5l-3.7 -5.7l-4.3 -8.5l-5.5 -16.5l-3.7 -18.5l-2.8 -22l-2.2 -30l-2 -50.5l-1 -56.7z"/>
<path fill="#4746eb" d="M1404.4 774.5l0.2 62.5l1 57.2l1.5 37.7l2 24.8l3.3 20.5l3.2 11.5l5.5 11.5l7.3 8.7l4.2 3.5l6 3.8l6.3 3l9.7 3.5l20.3 4.7l22.2 3.3l31.5 3l41.2 2.5l58.5 2.2l62.3 1.5l-0 -7.2l-59.5 -2.5l-58.5 -3.8l-40.2 -4l-29.8 -4.5l-22.2 -5l-16 -5.2l-14 -6.8l-11 -8l-8.5 -9.2l-7.3 -12.3l-6 -16.7l-4 -18.8l-3.2 -25.9l-2 -27.3l-2 -50.2l-1 -58z"/>
<path fill="#484df1" d="M1404.4 774.5l0.2 59l1 58l1.5 38.4l1.8 22.8l2.5 18.2l4 16l5.5 12l3.7 5.3l4.5 4.7l8.8 6.3l8.2 4l9.3 3.2l19 4.5l27.7 4l37.5 3.3l40.7 2.2l54.8 2l55.5 1.3l-0 -7l-56.8 -2.3l-59.7 -3.7l-43 -4.3l-29.5 -4.5l-22 -5l-14.5 -4.7l-14.7 -7l-10.5 -7.5l-9.3 -10l-3.5 -5.3l-4.2 -8.2l-5.3 -15l-4.5 -21.8l-2.7 -22.7l-2.3 -31.7l-1.7 -45.3l-1 -59.2z"/>
<path fill="#4854f6" d="M1404.4 774.5l1.2 114.7l1.3 34.2l2.2 30.3l2.8 18.7l2.2 9.5l2.5 7.5l3.3 7l3.5 5.5l6.7 7.3l5.8 4.2l5.2 3l14 5.5l19.8 4.8l25.5 3.7l32.2 3l47 2.8l61.7 2.2l49.3 1l-0 -6.7l-58.8 -2.3l-59.2 -3.7l-38.5 -3.8l-36 -5.5l-21.7 -5.2l-15.5 -5.5l-13.8 -7.3l-9.5 -7.5l-9 -10.7l-6.2 -11.8l-5 -14.7l-4.3 -20.8l-3 -25.2l-2 -28.7l-2 -54.8l-0.7 -50.7z"/>
<path fill="#475bfa" d="M1404.4 774.5l1.2 112.5l1.5 39.4l2.3 28.3l3.2 20.2l3.8 13l5.2 10.8l3 4.2l5.3 5.5l9.7 6.8l6.3 3l11.2 4l15.5 3.7l25.8 4l27.5 2.8l47.2 3l57 2.2l60.5 1.5l-0 -6.5l-55.5 -2.2l-54.3 -3.3l-45.7 -4.2l-32.5 -4.8l-22.5 -5l-19.7 -6.7l-12 -6.3l-10.5 -8l-8.3 -9.5l-3.7 -6l-3.8 -7.7l-4.7 -14l-4.8 -24l-2.7 -24.7l-1.8 -25.8l-2 -54.5l-0.7 -51.7z"/>
<path fill="#4563fc" d="M1404.4 774.5l1.2 110.7l1.5 39.7l2 26.3l3.3 21.7l4 14.3l5 10.5l3.5 5l5 5.2l4.7 3.8l5.8 3.5l7 3.2l9.2 3.3l18.8 4.5l25 3.7l31.2 3l45 2.8l58.5 2.2l55.5 1.3l-0 -6.3l-57.3 -2.2l-53.7 -3.3l-45.5 -4.2l-32.2 -4.8l-25 -5.7l-15.8 -5.5l-11.5 -5.8l-5 -3.2l-6.7 -5.5l-7.8 -8.8l-5.2 -8.5l-3 -6.5l-5.5 -17.2l-3.8 -20l-2.5 -21.7l-2 -28.5l-2 -54.3l-0.7 -52.7z"/>
<path fill="#426afe" d="M1404.4 774.5l1.5 118l1.5 35.4l2.2 26.8l3.3 19.7l3.7 12.8l5.3 10.7l4.5 6l4 4l10.2 7l9.5 4.3l7.5 2.5l20.5 4.7l22 3.3l30.8 3l43.9 2.7l56.5 2.3l59.3 1.5l-0 -6.3l-59 -2.2l-59.8 -3.8l-40.7 -4l-31.2 -4.7l-21.8 -5l-18 -6.3l-11.2 -5.7l-11.3 -8.5l-8.7 -10.3l-3.8 -6.2l-3.5 -7.5l-3.2 -9.3l-2.5 -9.5l-3.3 -17.7l-2.7 -24.5l-2 -30.5l-1.8 -49.2l-0.7 -53.5z"/>
<path fill="#3c71ff" d="M1404.4 774.5l1.5 116.5l1.5 35.9l2.2 26.8l3.3 20l3.5 12.2l5.5 11.5l4.2 5.8l4.8 4.7l9.5 6.5l8 3.8l7.7 2.7l22 5.3l23.8 3.5l31.2 3l44.7 2.7l57.5 2.3l55.3 1.2l-0 -5.7l-60.5 -2.5l-49.8 -3l-43.7 -4l-34.7 -5l-22.5 -5l-17.3 -5.8l-14.7 -7.5l-10.5 -8.2l-8 -9.5l-6.8 -12.5l-5.2 -15.8l-3.8 -18.5l-2.7 -22.2l-2.3 -31l-2 -53.7l-1 -54.5z"/>
<path fill="#3479fd" d="M1404.4 774.5l1.5 115l1.2 31.7l2 27l3.8 24.7l4 13.8l5 10.2l3.7 5.3l4 4.2l10 7.3l6.5 3.2l8.5 3.3l22 5.5l24.8 3.7l30.7 3l38.7 2.5l53 2.3l66.8 1.7l-0 -5.7l-57 -2.3l-54.3 -3.2l-34.4 -3l-38 -5l-19 -3.8l-12.5 -3.2l-9.8 -3.3l-15.2 -7l-11 -7.7l-9.3 -10l-4.5 -7l-2.7 -5.5l-5.8 -16.5l-4.2 -21l-2.5 -20.5l-2.3 -31l-2 -53.5l-1 -55.2z"/>
<path fill="#2f81fa" d="M1404.4 774.5l1.5 113.7l1.5 36.5l2.2 27.2l3.5 21.5l4.3 14l2.5 5.5l4 6.5l7 7.8l9.7 6.7l6.8 3.3l11.2 4l20.5 4.7l23.8 3.5l28 2.8l42.4 2.7l54 2.3l63.3 1.7l-0 -5.7l-58.3 -2.3l-54.2 -3.2l-43.2 -4l-31.5 -4.5l-24 -5.3l-15.5 -5l-13.8 -6.5l-11.2 -8l-8.8 -9.5l-4.5 -7l-3 -6l-5.2 -15l-4.3 -20.2l-2.7 -22l-2.3 -30.7l-2 -53.5l-1 -56z"/>
<path fill="#2d87f6" d="M1404.4 774.5l1.5 112.5l1.5 36.7l2 25.2l3.5 22.8l3.7 13.2l5.5 11.5l7.5 9.3l9.8 7.2l12.5 5.8l19.5 5.5l25 4.2l27.5 3l47.2 3.3l59.5 2.5l60 1.5l-0 -5.5l-59.8 -2.3l-53.7 -3.2l-43 -4l-30 -4.3l-25.2 -5.5l-14.8 -4.7l-14.7 -7l-11 -8l-8.8 -9.8l-7 -12.2l-5 -14l-4.2 -19.5l-3.3 -26.2l-2 -28l-2 -53.3l-1 -56.7z"/>
<path fill="#2d8ef1" d="M1404.4 774.5l1.5 111.2l1.5 37l2.2 27.7l3.5 21.8l4.3 14.2l3.2 7l3.3 5.3l7.5 8.2l11.2 7.5l13.5 5.5l11.8 3.3l12 2.5l23.7 3.5l31 3l43.7 2.7l48 2l64.3 1.8l-0.3 -5.5l-55.7 -2l-55.3 -3.3l-45.9 -4.2l-31.3 -4.5l-22.7 -5l-16.3 -5.3l-12.7 -6l-7 -4.5l-5.5 -4.5l-8.3 -9.2l-7 -12.3l-5.5 -15.7l-4.2 -20.8l-2.8 -22.9l-2 -28l-2 -53l-1 -57.5z"/>
<path fill="#2995ed" d="M1404.4 774.5l1.5 110l1.5 37.2l2.2 28l3.3 20.7l4.5 15.5l5.2 10.5l3.3 4.5l5 5.3l9.5 6.7l8.2 4l9 3.3l19.3 4.7l26 4l30.2 3l42.5 2.8l61.2 2.5l53.8 1.2l-0 -5l-52 -2l-60.3 -3.5l-41.4 -3.7l-32.5 -4.5l-25.5 -5.5l-14.8 -4.8l-14 -6.5l-6.2 -4l-7 -5.7l-5.5 -6l-4.3 -6l-6 -12l-5.5 -18.3l-3.2 -18l-2.8 -25.2l-1.7 -27l-1.8 -48l-1 -58.2z"/>
<path fill="#259be8" d="M1404.4 774.5l1.5 108.7l1.5 37.7l2 25.8l2.7 19.5l2.3 10l2.5 8l2.7 6.5l3.3 5.7l7 8.5l4.7 4l5.8 3.8l12 5.5l20.5 5.7l27.2 4.5l34.8 3.5l42.9 2.8l61.8 2.5l51 1.2l-0 -5l-63.8 -2.5l-49.5 -3l-41.2 -3.7l-33.7 -4.8l-23 -5l-15 -4.7l-12.8 -5.8l-8 -5l-4.7 -3.7l-9 -9.8l-3.5 -5.2l-3.8 -7.3l-5.2 -14.7l-4.3 -20l-2.7 -21.7l-2.5 -35l-1.8 -48.3l-1 -58.7z"/>
<path fill="#23a0e5" d="M1404.4 774.5l1.7 116l1.5 33.7l2.3 26.2l2.7 17.8l4.5 16.2l3.8 8.3l3.2 5.2l7.8 8.5l7.2 5.3l5 2.7l7.5 3.3l9 3l20.8 4.7l24 3.5l31 3l43.4 2.8l55 2.2l55.8 1.5l-0 -5l-65 -2.5l-52.5 -3.2l-37.7 -3.5l-33.5 -4.8l-21 -4.5l-18.8 -6l-12.5 -6l-6.2 -4l-5.3 -4.2l-8.7 -9.8l-6.8 -11.7l-3 -7.5l-3 -10l-3.7 -18.8l-2.8 -22.7l-2.2 -32.2l-1.8 -48l-1 -59.5z"/>
<path fill="#1fa6e2" d="M1404.4 774.5l1.7 115l1.5 33.9l2.5 28.5l3.3 19.3l4.5 14.7l3.7 7.8l2.8 4.2l7.2 8l3.8 3l7.7 4.8l9.8 4.2l6.7 2.3l20 4.7l24.8 3.8l33.5 3.2l39.2 2.5l60.5 2.5l53 1.3l-0 -4.8l-56 -2l-55.8 -3.2l-41.9 -3.8l-31.3 -4.2l-23.2 -4.8l-18 -5.5l-15 -7l-5.5 -3.5l-6.5 -5.2l-8.5 -9.8l-3.8 -6l-4 -8.5l-5.2 -17l-3.3 -17.2l-2.7 -23.7l-2 -29.5l-1.8 -47.8l-1 -60.2z"/>
<path fill="#1aacdd" d="M1404.7 774.5l0.2 52.2l1.3 61.8l1.5 34.2l2.2 26.5l3.5 21.5l4 13.5l4.8 10l4.2 6l5 5.2l4 3.3l7.3 4.5l5.7 2.7l10.3 3.8l16.7 4.2l24.3 4l33.5 3.5l41.2 2.8l58.2 2.5l58 1.5l0 -4.5l-57.2 -2.3l-52 -3l-40.5 -3.5l-37.2 -5l-25.5 -5.5l-14.8 -4.7l-12.5 -5.8l-6.5 -4l-5.5 -4.2l-9.2 -10l-6.8 -11.5l-5.2 -14.3l-4.8 -22.2l-2.5 -20l-2.5 -34.7l-1.7 -47.8l-1 -60.7z"/>
<path fill="#13b1d7" d="M1404.7 774.5l1.2 104.5l1.5 38.5l2.3 28.9l3.7 23.8l3.8 13l6 12.2l3.2 4.5l5 5.3l4 3.2l6.8 4.3l6.7 3.2l8.8 3.3l18.5 4.7l24.5 4l28 3l42.9 3l56.3 2.5l62.7 1.8l0 -4.5l-58.5 -2.3l-58.5 -3.5l-42.4 -4l-29.5 -4.2l-22 -4.8l-15.3 -4.7l-14.2 -6.5l-6 -3.8l-5.8 -4.5l-5.5 -5.5l-3.7 -4.7l-3.3 -5l-4 -8l-4.7 -13.8l-4.8 -23.7l-2.5 -22l-2.2 -34.2l-1.8 -52.8l-0.7 -51.2z"/>
<path fill="#07b5d0" d="M1404.7 774.5l0.2 49.5l1.3 62.7l1.5 34.5l2.2 26.7l3.5 21.8l4 13.7l5.5 11.3l3.8 5.2l4.5 4.8l4.2 3.5l6.3 4l7.7 3.7l11.3 4l17.5 4.3l25.5 4l29.2 3l40.5 2.7l50 2.3l67.2 2l0 -4.5l-64.7 -2.5l-49.8 -3l-43.4 -4l-31.5 -4.5l-20 -4.3l-19 -6l-12.3 -5.7l-7 -4.5l-5.5 -4.5l-4 -4l-4.7 -6l-6.8 -12.3l-4.7 -13.7l-4.5 -22l-2.8 -23.5l-2.2 -34.2l-1.8 -52.8l-0.7 -51.7z"/>
<path fill="#00b9c8" d="M1404.7 774.5l0.2 48.2l1.3 63l1.5 34.7l2.2 27l3 19.5l4 14.8l5.3 11.5l3.7 5.5l5 5.5l10.3 7.5l13.2 6l19.8 5.5l24.7 4.2l32.5 3.5l43.7 3l57.5 2.5l58 1.5l0 -4.2l-55.5 -2l-60 -3.5l-43.2 -4l-31.2 -4.5l-22.8 -5l-18.5 -6.3l-12.2 -6.2l-11 -8.5l-8 -9.5l-6.3 -11.5l-4.7 -13.8l-4.3 -20.2l-2.7 -22.5l-2.3 -31.7l-1.7 -47.3l-1 -62.7z"/>
<path fill="#06bcbf" d="M1404.7 774.5l0.2 47l1.3 63.2l1.5 35l2.5 29.2l2.7 17.5l4.5 16.3l5.3 11l4.5 6.2l3.7 4l9.8 7.3l14.2 6.5l18.8 5.2l26.2 4.5l32.8 3.5l44.2 3l58 2.5l55.7 1.5l0 -4.2l-56.7 -2l-56.3 -3.3l-44.2 -4l-33.2 -4.7l-20.8 -4.5l-17.2 -5.5l-14 -6.8l-10 -7.2l-5.5 -5.5l-3.8 -4.8l-6.7 -12l-5.8 -17l-3.7 -19l-2.8 -23.4l-2.2 -34l-1.8 -52.3l-0.7 -53.2z"/>
<path fill="#16bfb7" d="M1404.7 774.5l0.2 45.7l1.3 63.5l1.5 35.2l2.5 29.5l3 18.8l3.7 13.7l2.5 6.3l3.8 7l7.5 9.2l5.7 4.8l5.5 3.5l8.3 4l9.7 3.5l19.3 4.7l25.5 4l32.2 3.3l41.7 2.7l51.5 2.3l60.5 1.7l0 -4l-47 -1.7l-59.7 -3.3l-44.2 -3.7l-35.8 -4.8l-23 -4.7l-17.7 -5.5l-8.3 -3.5l-7 -3.8l-10.5 -7.7l-4.2 -4.3l-4.8 -6l-6.2 -11.2l-5.8 -17l-3.7 -19l-3 -26.2l-2 -31l-1.8 -52.3l-0.7 -53.7z"/>
<path fill="#25c2ae" d="M1404.7 774.5l1.5 108.5l1.5 35.2l2.5 29.7l3.2 20l4 14l5.5 11.5l2.5 3.8l5.3 6l5.7 4.7l5 3.3l13.8 6.2l10.5 3.3l11.7 2.7l26.3 4.3l31.5 3.2l40.4 2.8l56.8 2.5l58.2 1.5l0 -3.8l-59.2 -2.2l-55.5 -3.3l-46 -4.2l-28 -4l-24.2 -5.3l-16.8 -5.5l-14 -7l-10.7 -8.2l-7 -8l-4.3 -6.8l-3.5 -7.2l-5.5 -17.3l-3.7 -20.2l-2.5 -22.7l-2 -31l-1.8 -52l-0.7 -54.5z"/>
<path fill="#2ec4a5" d="M1404.7 774.5l1.5 107.5l1.7 39.7l2 23.5l2.5 17.2l4.5 17.8l6 13l7.8 9.7l10.2 7.8l7.3 3.7l7.5 3l17.7 5l27.5 4.8l32.5 3.5l48.5 3.2l52.5 2.3l56.2 1.5l0 -3.8l-55 -2l-57.2 -3.2l-40.2 -3.5l-30.8 -4l-23.2 -4.5l-18.3 -5.3l-14.5 -6.2l-8.5 -5.3l-4.7 -3.7l-8.8 -9.5l-7 -12l-2.7 -6.8l-3 -9.7l-4.3 -21.5l-2.5 -21.5l-2.2 -33.7l-1.8 -52l-0.7 -55z"/>
<path fill="#34c79b" d="M1404.7 774.5l1.5 106.7l1.7 39.7l2 23.8l3.8 23.5l3.7 13l6 12.5l7.3 9l9.7 7.5l6 3.2l9.8 4l20.2 5.5l23.5 4l34.8 3.8l39.7 2.7l55.2 2.5l61 1.8l0 -3.8l-56.2 -2l-53.3 -3l-43.7 -3.7l-29 -3.8l-22.5 -4.2l-21 -6l-9.7 -4l-6.3 -3.3l-11.5 -8.2l-8.5 -9.5l-4.2 -6.8l-3 -6.2l-5 -14.8l-4 -19.7l-3 -26l-2 -30.7l-1.8 -51.8l-0.7 -55.7z"/>
<path fill="#3dca90" d="M1404.7 774.5l0.5 59.2l1.2 54.5l1.5 32l2.3 26l3 19.2l4 14.8l2.7 6.7l4 7.3l7 8.5l10.3 7.7l6.7 3.5l8.8 3.5l19.2 5.3l26.8 4.5l30.2 3.2l38.7 2.8l53.3 2.5l65.7 2l0 -3.8l-57.5 -2l-60 -3.5l-38.7 -3.5l-34 -4.7l-23 -5l-15.5 -5l-14.5 -7l-6.2 -4.3l-5 -4.2l-7.8 -9l-6.7 -12.3l-4.8 -13.7l-4.7 -24l-2.3 -19.7l-2.2 -33.5l-1.8 -51.8l-0.7 -56.2z"/>
<path fill="#4bcb84" d="M1404.7 774.5l1.5 105l1.7 40.2l2.3 26l3.2 20.5l4.3 15l5.5 11.5l3.5 5l4.5 5l5.7 4.7l5.5 3.5l14 6.3l19 5.2l26.3 4.5l32.5 3.5l38.9 2.8l53.8 2.5l63.7 1.7l0 -3.2l-53.2 -2l-54.5 -3l-44.5 -3.8l-29.5 -3.7l-26 -5l-17.2 -5l-15 -6.5l-6.3 -3.8l-6.5 -5l-8.7 -9.5l-3.8 -5.7l-3.7 -7.5l-4.8 -13.8l-4.5 -22.2l-2.7 -24.2l-2 -30.5l-1.8 -51.5l-0.7 -57z"/>
<path fill="#5bcc77" d="M1404.7 774.5l1.5 104.2l1.7 40.2l2.3 26.3l3.5 21.7l3.7 13.3l6.3 13l7.5 9.2l5 4.3l5.7 3.7l6.3 3.3l8.7 3.5l21.5 5.7l26 4.3l28 3l46.7 3.2l49.8 2.3l61.7 1.7l0 -3.2l-54.5 -2l-54.2 -3l-44.2 -3.8l-29.3 -3.7l-22.7 -4.3l-21.8 -6.2l-13.5 -6l-8 -5l-5.2 -4.3l-8.5 -9.5l-6.8 -12l-5 -14.2l-4.2 -20.5l-3 -25.7l-2 -30.5l-1.8 -51.3l-0.7 -57.7z"/>
<path fill="#6bcd69" d="M1404.7 774.5l0.5 56l1.2 55.2l1.8 36.5l2 22.5l3.5 21.7l4.2 14.8l5.8 11.7l4 5.5l3.7 4l5.8 4.8l5.5 3.5l14 6.2l21.2 5.8l25.5 4.2l30.3 3.3l42.4 3l48.3 2.2l66.2 2l0 -3.2l-55.7 -2l-54 -3l-44 -3.8l-32.2 -4.2l-20.5 -4l-21.3 -6.3l-14.5 -6.7l-5.5 -3.5l-6.7 -5.5l-8.5 -10l-6.5 -12.3l-3.3 -9l-2.7 -10.5l-3.3 -18.5l-2.7 -26.7l-1.8 -29.5l-1.7 -57.5l-0.5 -46.7z"/>
<path fill="#7ecc5b" d="M1404.7 774.5l1.7 110.5l1.5 32.7l2.3 26.5l3.2 20.7l4 14.5l2.8 6.8l3.2 6l3.3 4.7l5 5.5l10.5 7.8l14.2 6.5l19.8 5.5l24.5 4.2l31.2 3.5l41.5 3l53 2.5l64.2 2l0 -3.2l-57 -2l-53.7 -3l-43.7 -3.8l-30.5 -4l-23 -4.5l-18 -5.2l-14.8 -6.5l-6.5 -4l-5.5 -4.3l-6 -6l-3.5 -4.5l-6.5 -11.5l-5.7 -17l-3.8 -19.2l-2.7 -24l-2.3 -35.5l-1.7 -57.2l-0.5 -47.5z"/>
<path fill="#90ca4d" d="M1404.7 774.5l1.7 109.5l1.8 36.9l2 22.8l3.5 22l4.2 14.7l5.5 11.5l4.5 6.3l4 4.2l5.5 4.5l5.5 3.5l14 6.3l20 5.5l26.5 4.5l32.5 3.5l39 2.7l60.2 2.8l55.5 1.5l0 -3l-52.7 -1.8l-59 -3.2l-43.5 -3.8l-28.7 -3.7l-25.5 -5l-18.3 -5.5l-15 -7l-10.7 -7.8l-8 -8.7l-3.5 -5.3l-3.8 -7.2l-5.5 -16l-3.7 -18.5l-3 -25.5l-2 -30.2l-1.8 -50.8l-0.7 -59z"/>
<path fill="#a1c840" d="M1404.7 774.5l1.7 108.7l1.8 37l2.2 25l3.3 20l4.7 16.2l5.5 11l4 5.5l4.3 4.5l10.2 7.5l14.3 6.5l22 6l23.7 4l34.8 3.8l39.2 2.7l54 2.5l60.2 1.8l0 -2.8l-54 -2l-55 -3l-42.2 -3.5l-31.7 -4l-23.8 -4.5l-19.2 -5.5l-15.3 -6.7l-5.7 -3.5l-7.3 -5.8l-5.2 -5.5l-3.8 -5l-6.2 -11.7l-4.8 -14.3l-4 -20l-3 -26.7l-2 -32.5l-1.7 -56.7l-0.5 -47.5z"/>
<path fill="#b2c534" d="M1404.7 774.5l1.7 108l1.8 37.2l2.2 25l3.5 21.2l4.3 14.5l5.7 11.8l4 5.5l4.3 4.5l5.5 4.5l5.5 3.5l14 6.2l21 5.8l23.2 4l34 3.7l42.5 3l54.5 2.5l58.2 1.8l0 -2.8l-66.2 -2.5l-47.5 -2.7l-43 -3.8l-30 -4l-20.5 -4l-20.5 -6l-14.2 -6.5l-7 -4.5l-6.8 -5.7l-5.5 -6.3l-3.2 -4.7l-6 -12.3l-4.8 -15.7l-3.7 -21.3l-2.5 -24.4l-1.8 -29.3l-1.7 -56.5l-0.5 -47.2z"/>
<path fill="#c3c22b" d="M1404.7 774.5l1.7 107l1.8 37.4l2.2 25.3l3 19l4.5 16.2l5.8 12l4.5 6.3l4.2 4.5l10.3 7.5l14.2 6.5l20.8 5.7l26.5 4.5l32.5 3.5l38.4 2.8l52.8 2.5l62.7 2l0 -2.8l-62.2 -2.2l-52.5 -3l-38 -3.3l-31.5 -4l-24.5 -4.7l-17.2 -5l-8.3 -3.3l-8 -4l-11 -7.7l-5.5 -5.5l-3.7 -4.8l-3.8 -6l-3.2 -6.7l-4.5 -13.3l-4.3 -20.7l-2.7 -23.7l-2.3 -35.3l-1.7 -56.2l-0.5 -47.3z"/>
<path fill="#d1bf27" d="M1404.7 774.5l1.7 106.2l1.8 37.5l2.2 25.5l3.3 20.2l4.7 16.5l5.3 10.8l4.5 6.2l4.2 4.5l4.5 3.8l7 4.5l13.5 6l19.8 5.5l24.2 4.2l30.8 3.5l48.9 3.5l55.5 2.5l54 1.5l0 -2.5l-52.5 -1.7l-56 -3l-40.2 -3.3l-34.5 -4.2l-26 -5l-18.5 -5.5l-14.7 -6.8l-11.3 -8l-4.7 -4.7l-4.5 -5.8l-6.5 -12l-5 -15l-3.8 -19l-2.7 -23.4l-2.3 -35l-1.7 -56.3l-0.5 -47z"/>
<path fill="#dfbc2a" d="M1404.7 774.5l1.7 105.5l1.8 37.7l2.5 27.5l3.2 19.5l4.8 16l5.5 11l4 5.5l4.2 4.5l5.5 4.5l5.5 3.5l14.5 6.5l20 5.5l26.3 4.5l32 3.5l42.2 3l53.5 2.5l58.7 1.7l0 -2.2l-54 -2l-59.2 -3.3l-41.2 -3.5l-31 -4l-24.3 -4.7l-17 -5l-9.2 -3.8l-7.3 -3.7l-5.7 -3.8l-5.5 -4.5l-7.8 -8.7l-4.2 -6.8l-3 -6.2l-2.8 -7.3l-3 -10.7l-3.7 -21l-2.5 -24.2l-2 -34.8z"/>
<path fill="#ebba31" d="M1404.7 774.5l1.7 104.5l1.8 38l2.2 25.4l3.5 21.8l4.5 15.5l5.5 11.2l4.5 6.3l4 4.2l5.5 4.5l6.8 4.3l13.7 6l9.8 3l12.7 3l24.3 4l32.2 3.5l42.5 3l54.2 2.5l56.5 1.7l0 -2.2l-55.5 -2l-55.2 -3l-39.7 -3.3l-34 -4.2l-25.8 -5l-18.2 -5.5l-15 -7l-5.8 -3.8l-6 -5l-5.5 -6l-4 -5.7l-5.5 -11l-5.2 -17.3l-3.3 -18l-2.7 -25.9l-2 -34.5z"/>
<path fill="#f6ba3c" d="M1404.7 774.5l2 111l1.5 30.7l2.2 25.7l3.5 21.8l4 14.2l3.3 7.8l3.2 5.7l7.8 9.5l6.7 5.5l5.3 3.3l6.5 3.2l9 3.5l22 5.8l22.5 3.7l34.5 3.8l42.9 3l61.5 2.7l47.5 1.3l0 -2l-51.2 -1.8l-53 -2.7l-42 -3.3l-35.7 -4.2l-27.8 -5.3l-18.5 -5.5l-14.2 -6.5l-10.8 -7.5l-9 -9.7l-6.5 -11.3l-2.7 -6.7l-3.3 -10.8l-3.5 -17.7l-3 -26.2l-2 -31.8l-1.5 -44.5z"/>
<path fill="#febe3c" d="M1404.9 774.5l0.2 44.5l1.3 58.2l1.5 34.3l2.5 29.9l3 19.5l5 18l5.2 11l4 5.8l4 4.5l9.5 7.5l7.8 4.2l7.7 3.3l21 6l27.5 4.7l37.8 4l40.4 2.8l48.5 2.2l58.8 1.8l-0 -2l-53 -1.8l-52.5 -2.7l-41.7 -3.3l-35.5 -4.2l-26.5 -5l-18.8 -5.5l-13.5 -6l-7.2 -4.5l-4.8 -3.8l-8.7 -9.5l-6.8 -11.7l-5.2 -15l-4 -19.5l-2.8 -23.3l-2.2 -34.4l-1.5 -44.5z"/>
<path fill="#fec537" d="M1404.9 774.5l0.2 43.2l1.3 58.5l1.7 38.5l2.5 28.2l3.5 21l4.5 15.3l3.5 7.7l3.5 5.8l3.5 4.5l5.3 5.2l11 7.5l6.7 3.3l11.8 4.2l14.5 3.8l27.7 4.7l35.3 3.8l43.7 3l49 2.2l56.5 1.8l-0 -1.8l-54.8 -2l-56 -3l-37.4 -3l-35.3 -4.2l-25.2 -4.8l-19 -5.5l-15 -6.7l-11 -7.8l-8.5 -9.2l-7 -12.3l-4.8 -13.5l-4.5 -22l-3 -27.4l-2 -34l-1.5 -49.5z"/>
<path fill="#fdcc32" d="M1404.9 774.5l0.5 58l1.2 50l1.8 35.2l2.7 28.5l3 17.2l4.8 16l4 8.5l3 4.8l3.5 4.5l4.7 4.7l10.8 7.5l15 6.5l20.5 5.5l25 4.3l34.5 3.7l42.7 3l54 2.5l54 1.5l-0 -1.5l-67.5 -2.5l-55.3 -3.2l-33.9 -3l-24.3 -3l-27.2 -5l-19.3 -5.5l-14.2 -6.3l-6.5 -4l-5.8 -4.5l-5.2 -5.2l-4.3 -5.5l-4 -6.8l-2.7 -6l-5.3 -17l-3.5 -19.5l-2.7 -26.9l-2 -36.8l-1.3 -43.2z"/>
<path fill="#fad42e" d="M1404.9 774.5l0.5 56.5l1.2 50.5l1.8 35.5l2.7 28.4l3.3 18.5l2.2 8.5l3.3 9l6.2 11.3l7.8 8.7l5.7 4.5l5.8 3.5l7.2 3.5l11.8 4.3l19.2 4.7l24.8 4l33 3.5l43.2 3l54.5 2.5l51.5 1.5l-0 -1.5l-64 -2.2l-56.8 -3.3l-34.7 -3l-28 -3.5l-23.2 -4.2l-21.3 -6l-15 -6.8l-11 -7.7l-5.2 -5.3l-3.8 -4.7l-3.7 -6l-3.8 -8l-5 -16.3l-3.5 -19.5l-3 -30.2l-1.7 -33.2l-1.3 -43z"/>
<path fill="#f7dc2a" d="M1404.9 774.5l0.5 55.2l1.2 50.8l1.5 31.7l2.5 28.7l3.3 20.3l4.5 16l6 12.5l3.5 5l5 5.5l5.7 4.7l5 3.3l14 6.5l21 6l27.3 4.7l34.2 3.8l38 2.7l44.7 2.3l67.8 2.2l-0 -1.5l-66 -2.2l-59.8 -3.5l-30.9 -2.8l-27.8 -3.5l-26.2 -5l-18.5 -5.5l-13.8 -6.2l-10.7 -7.5l-6 -6l-3.5 -4.5l-3 -4.8l-4 -8.2l-5 -15.8l-4 -22.2l-2.8 -28.2l-1.7 -33l-1.5 -55.5z"/>
<path fill="#f5e427" d="M1404.9 774.5l0.5 53.7l1.2 51l1.8 36l2.5 27l3.2 19.5l4.3 15l2.2 5.5l4.5 8.2l4.8 6.3l4.5 4.5l9.7 7l13.5 6.2l19.8 5.8l28 5l28.2 3.2l42.5 3.3l55.7 2.7l58.8 1.8l-0 -1l-57.3 -2l-59.7 -3.3l-31 -2.5l-34.2 -4l-25 -4.5l-20.5 -5.7l-15.3 -6.8l-6 -3.7l-6.7 -5.5l-7.8 -9l-6.5 -12l-5.5 -17.3l-3.5 -19.2l-3 -30l-1.7 -32.7l-1.5 -55.3z"/>
<path fill="#f5ec22" d="M1405.2 790.8l0.5 49.2l1.2 44.8l1.8 33l3 29.2l3 16.2l5.2 16.8l3 6.2l3.8 6l8.7 9.5l10.3 7l7.7 3.8l11.8 4.2l16.7 4.3l25 4.2l31.3 3.5l40.4 3l50.3 2.5l61.7 2l0 -1l-60 -2l-59 -3.2l-38.2 -3.3l-26.2 -3.2l-25.8 -4.8l-18.5 -5.2l-8.2 -3.3l-7.5 -3.7l-11 -7.8l-5 -5l-3.8 -4.7l-6.7 -12.3l-4.5 -13.2l-4.3 -21.3l-2.7 -24.9l-2 -33.3l-1.5 -48.2z"/>
<path fill="#f7f51b" d="M1405.7 825.3l0.7 43.2l1.8 40.3l2 25l3.2 22.7l3.8 15.2l3.2 8.8l3 6l6.3 9l8.5 8l6 4l7.7 4l16 5.7l17.8 4.3l26.7 4.2l31 3.3l42.5 3l59.7 2.7l45 1.3l0 -0.5l-51.5 -1.8l-58.7 -3l-38.7 -3l-27 -3l-23.8 -3.7l-22 -5.3l-15 -5.5l-13.2 -7.5l-9 -8l-4.3 -5.2l-3.7 -6l-3.3 -6.8l-3 -8.2l-4.2 -17.7l-3 -21.8l-2.3 -28.7l-1.7 -42.8z"/></g>
<line x1="1410.9" y1="1034.2" x2="1690.7" y2="1034.2" stroke="#fff" stroke-width="2.4" stroke-dasharray="10.5 8"/>
</g>
<rect x="1404.3" y="774.4" width="286.4" height="276.6" fill="none" stroke="#262626" stroke-width="0.9"/>
<path d="M1452 774.4v2.6M1452 1051v-2.6M1499.8 774.4v2.6M1499.8 1051v-2.6M1547.5 774.4v2.6M1547.5 1051v-2.6M1595.2 774.4v2.6M1595.2 1051v-2.6M1643 774.4v2.6M1643 1051v-2.6M1404.3 820.5h2.6M1690.7 820.5h-2.6M1404.3 866.6h2.6M1690.7 866.6h-2.6M1404.3 912.7h2.6M1690.7 912.7h-2.6M1404.3 958.8h2.6M1690.7 958.8h-2.6M1404.3 1004.9h2.6M1690.7 1004.9h-2.6" stroke="#262626" stroke-width="0.9" fill="none"/>
<line x1="1150.1" y1="1197.4" x2="1308.7" y2="1103.3" stroke="#e0e0e0" stroke-width="0.8"/>
<line x1="1308.7" y1="1103.3" x2="1467" y2="1197.4" stroke="#e0e0e0" stroke-width="0.8"/>
<line x1="1229.4" y1="1184.5" x2="1229.4" y2="1121.2" stroke="#e0e0e0" stroke-width="0.8"/>
<line x1="1387.8" y1="1184.5" x2="1387.8" y2="1121.2" stroke="#e0e0e0" stroke-width="0.8"/>
<line x1="1229.2" y1="1278.7" x2="1387.8" y2="1184.5" stroke="#e0e0e0" stroke-width="0.8"/>
<line x1="1229.4" y1="1184.5" x2="1387.7" y2="1278.7" stroke="#e0e0e0" stroke-width="0.8"/>
<line x1="1308.7" y1="1137.5" x2="1308.7" y2="1074.2" stroke="#707070" stroke-width="0.9"/>
<line x1="1150.1" y1="1168.3" x2="1308.7" y2="1074.2" stroke="#707070" stroke-width="0.9"/>
<line x1="1308.7" y1="1074.2" x2="1467" y2="1168.3" stroke="#707070" stroke-width="0.9"/>
<line x1="1150.1" y1="1231.6" x2="1308.7" y2="1137.5" stroke="#707070" stroke-width="0.9"/>
<line x1="1308.7" y1="1137.5" x2="1467" y2="1231.6" stroke="#707070" stroke-width="0.9"/>
<line x1="1150.1" y1="1231.6" x2="1150.1" y2="1168.3" stroke="#707070" stroke-width="0.9"/>
<line x1="1467" y1="1231.6" x2="1467" y2="1168.3" stroke="#707070" stroke-width="0.9"/>
<g filter="url(#bl2)"><path fill="#3f28ad" d="M1308.8 1137.5l-158.7 94l158.4 94.3l158.3 -94l-3 -2.3z"/>
<path fill="#412cba" d="M1217.5 1222.8l-0.7 3.7l0 8l1.7 7.3l1.7 4l7 10.3l10 9l14.3 8.4l12.7 5l17.3 4.3l15.7 2l22.6 0l17.4 -2.3l15.6 -4l16.7 -7l13.7 -9l9.6 -10l5 -8.7l2 -6.7l0.7 -5l-0.7 -8.3l-1.3 -4.7l-2.7 -5.6l-5.6 -8l-7.7 -7.4l-11.7 -7.6l-10.6 -5l-13 -4.4l-17 -3.3l-9.7 -8.7l-4.7 -2.6l-4.3 -1.4l-6 0l-7.3 3l-5.4 4l-5.6 5.7l-10.4 1.7l-11.3 3l-12.3 4.6l-9.7 5l-8.3 5.7l-9 8.7l-4.7 6.6z"/>
<path fill="#4432cb" d="M1229.8 1221.2l-1 5.3l0 5.4l2 8.3l3.3 6.3l3 4l7.4 7l9.6 6.7l12.7 5.7l15.3 4.3l16.7 2.3l19 0l13.7 -1.6l13.6 -3.4l11.7 -4.3l6 -3l7 -4.7l10 -9l5.3 -8l3 -9.6l0 -7.4l-1.6 -6.6l-4.4 -8l-5.3 -6.4l-7.3 -6l-11.7 -6.6l-12.3 -4.7l-8.7 -2l-5.7 -6.3l-9.3 -8.7l-6 -3.7l-4.3 -1.3l-6 0l-7.4 3l-5.3 4l-12.7 13l-7.3 1.7l-10.3 3.6l-8.4 4l-7.3 4.7l-5.3 4.3l-5.4 5.7l-3.3 5z"/>
<path fill="#4639da" d="M1236.2 1220.2l-1 5.3l0 4.4l2.3 9l6 9.3l6.4 6l8 5.3l13.3 6l13.3 3.7l14.7 2l12.3 0.3l17.4 -1.6l11.6 -2.7l12.7 -4.7l10.3 -5.6l5.4 -4l4.6 -4.7l6.4 -10l2 -7.3l-0 -6.4l-1.7 -6.6l-4 -7.4l-5.7 -6.3l-11.6 -8.3l-10 -4.7l-9 -2.7l-8.7 -9.6l-7.7 -7.4l-5.6 -4l-6.4 -2.3l-6 0l-7.3 3l-5.3 4l-15.7 16.3l-12 4l-12.7 7l-4.3 3.4l-6.7 7l-3 4.6z"/>
<path fill="#4741e5" d="M1240.5 1219.5l-0.7 3l0 7.3l1.7 6l4.3 7.7l7.7 7.7l7.7 5l6.6 3.3l10.4 3.7l11.6 2.6l12.7 1.4l16.7 -0.4l13 -2l13.6 -4l10 -4.6l7.7 -5l7.7 -7.7l4 -6.7l1.6 -4.6l0.7 -4.4l-0.3 -6l-2 -6.3l-3.4 -5.7l-4 -4.6l-6.3 -5.4l-5.3 -3.3l-6.7 -3.3l-7.7 -2.7l-18.3 -19l-5.7 -4l-6.3 -2.3l-6 -0l-7.3 3l-5.4 4l-17.3 18.3l-10 3.7l-12 7.3l-8.7 9z"/>
<path fill="#484aee" d="M1244.2 1217.8l-1 8.7l1.7 7l2 4.3l3.3 4.7l6 5.6l7 4.7l12.7 5.7l12.6 3.3l13.4 1.7l13.3 -0l9.3 -1l11.4 -2.4l11.3 -4l11 -6l8.7 -7.6l4.3 -6.4l2.7 -8.6l-0 -5.7l-1.4 -5.3l-3 -6l-3.6 -4.7l-9.4 -7.7l-7.3 -4l-6 -2.3l-19.7 -20.3l-5.6 -4l-6.4 -2.4l-7.3 0.4l-6 2.6l-3.3 2.4l-11 10.6l-9.7 10.7l-10.7 4.7l-8.6 6l-7 7.6z"/>
<path fill="#4852f4" d="M1247.8 1214.5l-1.3 4.7l-0.4 5.6l2 8l5 7.7l5.7 5.3l8.3 5.4l9.4 4l10.6 3l14.4 2l14 -0l11 -1.4l10 -2.3l11.3 -4.3l10.3 -6.4l6.4 -6l4.3 -7l2 -7.3l0 -5.3l-1.3 -5l-2.7 -5.4l-3.3 -4.3l-5 -4.7l-5.4 -3.6l-9 -4.4l-13 -14l-9.3 -8.6l-6 -3.7l-4.3 -1.3l-7.4 0.3l-6 2.7l-3.3 2.3l-11 10.7l-10.7 11.6l-8 3.7l-7.6 5.3l-6.4 6.7z"/>
<path fill="#475bf9" d="M1249.8 1214.8l-1 4.7l0 4.3l1.7 6.7l4 6.6l5.3 5.4l7.3 5l9.4 4.3l11.3 3.3l10.7 1.7l15.6 0.3l9.7 -1l9.3 -2l10.7 -3.6l7.7 -4l8.6 -6.7l4.7 -6l2 -4l1.3 -5.3l0 -6l-0.6 -3l-2.4 -5.4l-2.6 -4l-6.7 -6.3l-11 -6.3l-21.3 -22l-5.7 -4l-6.3 -2.4l-7.4 0.4l-6 2.6l-3.3 2.4l-11 10.6l-11 12l-7.7 4l-7 5.4l-5 5.6z"/>
<path fill="#4563fd" d="M1252.5 1212.5l-1.3 5.3l0.6 8l3 6.7l4.7 5.7l7.3 5.6l12.7 6l8.3 2.4l13 2l15 -0l6 -0.7l10 -2l10.7 -3.7l9.7 -5.3l7 -6l3.3 -4.3l2 -4l1.3 -5l0 -6l-1.3 -5l-2 -4l-3.7 -4.7l-6.6 -5.7l-6.7 -3.6l-22 -22.7l-5.7 -4l-6.3 -2.3l-7.3 0.3l-6 2.7l-3.4 2.3l-11 10.7l-11 12l-11.3 7.3l-5.7 6z"/>
<path fill="#416cfe" d="M1255.2 1209.8l-1.3 3.7l-0.7 4.6l0.7 5.4l2.3 6l5.7 7l8.3 6l10.3 4.6l11.4 3l7.3 1l14.7 0.4l7 -0.7l11.3 -2.3l8.7 -3l10.6 -6l5.7 -5l3.3 -4.4l2 -4l1.4 -5.6l-0 -4l-1.4 -5.4l-2 -4l-3.3 -4.3l-5.7 -5l-5.6 -3.3l-22.4 -23l-5.6 -4l-6.4 -2.4l-7.3 0.4l-6 2.6l-3.3 2.4l-11 10.6l-11 12l-9.4 6.4l-5 5z"/>
<path fill="#3975fe" d="M1256.2 1210.8l-1 7.7l1.3 6l3.7 6.3l5 5l7 4.7l5.3 2.6l10.4 3.4l11 2l19.3 -0l9.7 -1.7l11.6 -3.7l6.7 -3.3l7.7 -5.7l5.6 -7.3l2.4 -7.3l-0 -4.7l-1 -4.3l-1.7 -3.7l-4 -5.3l-3.7 -3.4l-5.6 -3.6l-22.4 -23l-5.6 -4l-6.4 -2.4l-7.3 0.4l-6 2.6l-3.3 2.4l-11 10.6l-11 12l-6.4 4.4l-5.6 5.3z"/>
<path fill="#307efb" d="M1258.5 1208.2l-1.3 4.7l-0 5.6l0.6 3l3 6l5.7 6l8 5.4l6 2.6l8.7 2.7l9.6 1.7l16 0.3l6 -0.7l13 -3l6.7 -2.6l8 -4.7l5.3 -4.7l3.7 -5l2.3 -6.6l-0.3 -8l-2 -5l-3.7 -5l-8 -6.4l-22.3 -23l-5.7 -4l-6.3 -2.3l-7.3 0.3l-6 2.7l-3.4 2.3l-11 10.7l-11 12l-6.3 4.7l-4.3 4.3z"/>
<path fill="#2e87f7" d="M1260.2 1206.8l-1.3 5l0.3 6.7l2.3 5.6l5.4 6.4l4.6 3.6l11 5.4l9.4 2.6l9 1.4l10.3 0.3l10.3 -1l9 -2l7.4 -2.7l7.6 -4l7.7 -6.6l3.3 -5l1.7 -5.4l-0.3 -7.6l-2 -5l-2.4 -3.4l-7.6 -6.6l-20 -21l-8 -6l-6.4 -2.4l-7.3 0.4l-6 2.6l-3.3 2.4l-11 10.6l-11 12l-8.7 7.4z"/>
<path fill="#2c8ff1" d="M1261.5 1206.2l-1 3.7l0 5.3l1 4l3 5.3l5.3 5.4l4.4 3l7.3 3.6l10 3l11.3 1.7l11.4 0l8.3 -1l13 -3.7l7.3 -3.6l6.4 -4.7l3.6 -4l3 -5.7l1 -6.3l-1.3 -6.3l-3.7 -6l-14 -13.4l-12 -13l-8 -6l-6.3 -2.3l-7.3 0.3l-6 2.7l-3.4 2.3l-11 10.7l-11 12l-6.6 5.7z"/>
<path fill="#2796eb" d="M1263.2 1204.5l-1.3 6l0.6 5.3l2 4.7l4.4 5.3l6.6 5l6 3l8 2.7l10.7 2l12.3 0.3l7 -0.6l8.4 -1.7l7.6 -2.7l8.7 -4.6l5.7 -5l3.3 -4.7l2 -6.7l-0.7 -6.6l-1.6 -4l-2.4 -3.4l-12.6 -12.3l-12 -13l-8 -6l-6.4 -2.3l-7.3 0.3l-6 2.7l-3.3 2.3l-11 10.7l-7.4 8.3l-9.3 8.7z"/>
<path fill="#259de6" d="M1264.5 1203.5l-1 3.7l0.3 6.6l2 4.7l5.4 6.3l5.6 4l8.7 4l15.3 3.4l10.7 0.3l7.3 -0.7l7 -1.3l10.7 -3.7l8.7 -5.3l3.6 -3.7l3 -4.3l1.7 -5l-0.3 -7.3l-2 -4.7l-2.7 -3.7l-25 -25.3l-5.7 -4l-6.3 -2.3l-7.3 0.3l-6 2.7l-3.4 2.3l-27 27.3z"/>
<path fill="#20a4e3" d="M1265.8 1202.2l-1 4.3l1 7.4l3 5.3l4.3 4.3l3.7 2.7l8.3 4l8 2.3l8.4 1.4l9 0.3l10 -1l8.3 -2l6.3 -2.3l6 -3.4l5.4 -4.3l3.3 -4.3l2.3 -6.4l-0.6 -7.6l-3.4 -6l-22.3 -23.4l-8 -6l-6.3 -2.3l-7.4 0.3l-6 2.7l-3.3 2.3l-25 25.4z"/>
<path fill="#1babde" d="M1266.8 1201.8l-0.7 5.3l1 5l2.4 4.4l4.3 4.6l5.3 3.7l7.4 3.3l6.6 2l8.7 1.4l8.3 0.3l8 -0.7l9.4 -2l6.3 -2.3l6.7 -3.7l6.3 -5.6l3 -5l1 -4l0 -4l-1.3 -4.7l-3.4 -5l-22.6 -23.3l-5.7 -4l-6.3 -2.4l-7.4 0.4l-6 2.6l-3.3 2.4l-22.3 22.6l-4 5z"/>
<path fill="#12b1d6" d="M1268.2 1200.5l-0.7 4l0.4 4l1.6 4.3l4.7 5.7l6.7 4.7l6 2.6l6.6 2l8 1.4l9.4 0.3l7.3 -0.7l8 -1.6l8 -3l5.3 -3l5.7 -5l3.3 -5.4l1 -4.3l-0.6 -6.3l-3.7 -6.4l-21.7 -22.3l-5.6 -4l-6.4 -2.3l-7.3 0.3l-6 2.7l-3.3 2.3l-11 10.7l-12.7 13.6z"/>
<path fill="#04b6ce" d="M1269.5 1199.2l-0.7 5.3l1.7 6l3.3 4.7l3.4 3l8.3 4.7l5.7 2l14.3 2.3l10 -0.3l8 -1.4l6.3 -2l6.4 -3l7.6 -6l3.4 -5.3l1 -3.7l-0.4 -5.6l-1.6 -4l-2.4 -3.4l-20.3 -21l-5.7 -4l-6.3 -2.3l-7.3 0.3l-6 2.7l-3.4 2.3l-11 10.7l-11.3 12.3z"/>
<path fill="#01bac4" d="M1271.2 1196.5l-1 4l0.7 6l1.3 3l4 5l8 5.3l7 2.7l9.7 2l11.6 0.3l6 -0.6l7.4 -1.7l7 -2.7l6 -3.6l3.6 -3.4l3 -4.3l1.4 -4.3l-0.4 -6l-1.3 -3.4l-2.3 -3.3l-19.4 -20l-5.6 -4l-6.4 -2.3l-7.3 0.3l-6 2.7l-3.3 2.3l-21.4 22z"/>
<path fill="#11beba" d="M1272.2 1195.8l-0.7 2.7l0.4 5.6l1.3 3.4l4 5l4 3l6.3 3.3l9 2.7l7.4 1l9.3 -0l7.3 -1l12 -4l5 -3l4 -3.7l2 -2.7l2 -5l0 -5.3l-0.6 -2.3l-3 -5l-18.4 -19l-5.6 -4l-6.4 -2.4l-7.3 0.4l-6 2.6l-3.3 2.4l-18.4 18.6z"/>
<path fill="#23c1af" d="M1273.2 1195.2l-0.3 6.3l0.6 2.4l2 3.6l3 3.4l4.7 3.3l6.3 3l13.4 3l11.3 0l4.7 -0.7l8.6 -2.3l6 -2.7l4.7 -3.3l3.3 -3.7l2 -3.3l1 -5l-0.6 -4.3l-1.4 -3l-11.3 -13l-10.7 -9.7l-4.6 -2.7l-4.4 -1.3l-7.3 0.3l-6 2.7l-3.3 2.3l-18.4 18.7z"/>
<path fill="#2ec4a4" d="M1274.2 1194.5l0.3 7l2 4l3.7 4l5 3.3l5.3 2.4l11.7 2.6l15.3 -0.3l12.4 -3.7l4.3 -2.3l5.3 -4.7l2 -2.6l1.7 -5.4l-0.3 -4.6l-1.4 -3.4l-10.3 -12l-10.7 -9.6l-4.6 -2.7l-4.4 -1.3l-7.3 0.3l-6 2.7l-3.3 2.3l-17.4 17.7z"/>
<path fill="#36c898" d="M1276.2 1190.8l-1 3.3l0.3 5l2 4.4l4 4.3l4 2.7l6 2.6l10 2.4l14 -0l7 -1.4l6.4 -2.3l6.6 -4l3.4 -3.3l3 -6.4l-0 -4.6l-1.4 -3.7l-9.3 -11l-10.7 -9.7l-4.6 -2.6l-4.4 -1.4l-7.3 0.4l-8 4l-12.3 11.6l-5.7 6.4z"/>
<path fill="#43cb8a" d="M1276.8 1190.8l-0.3 6l0.6 2.3l2 3.4l3.7 3.6l9.7 5l11.3 2.4l12 -0.4l11.3 -3l7 -4l4 -4l2.4 -5l-0 -5.6l-0.7 -2l-5.3 -7l-12.7 -12.4l-6 -3.6l-4.3 -1.4l-7.4 0.4l-8 4l-15.6 15.3z"/>
<path fill="#55cc7b" d="M1278.5 1188.2l-1 3.7l0.3 4l3.7 6.3l3.7 3l5.6 3l7.7 2.3l4.7 0.7l13.3 -0.3l11.3 -3.4l5 -3l3.4 -3l2.3 -3.6l1 -3.4l0 -3.3l-1 -3.3l-7.3 -9l-10.7 -9.7l-4.7 -2.7l-4.3 -1.3l-7.3 0.3l-8 4l-12.4 11.7z"/>
<path fill="#69cd6b" d="M1279.2 1188.2l-0.3 5l0.6 2.3l2.7 4.4l3.3 3l8 4l12.4 2.3l11 -0.7l10 -3l4.6 -2.6l4 -3.7l2.7 -5.3l0 -4.7l-1 -3l-6 -7.3l-10.7 -9.7l-4.6 -2.7l-4.4 -1.3l-7.3 0.3l-8 4l-14.7 14.4z"/>
<path fill="#7fcc5a" d="M1280.2 1187.5l0.3 6l2 3.7l2.7 2.6l4 2.7l5.3 2.3l10 2l10.7 -0.3l10 -2.7l5.3 -3l4.4 -4l2.3 -6l-0.7 -4.6l-2 -3.7l-3.3 -3.7l-10.7 -9.6l-4.6 -2.7l-4.4 -1.3l-7.3 0.3l-8 4l-12.3 11.7l-2.7 3.6z"/>
<path fill="#94ca4a" d="M1281.8 1184.5l-0.7 3l0.7 4.7l1.7 3l3 3l7.3 4l10 2.3l9.3 0l10.4 -2.3l7 -4l3.3 -3.4l2 -5l-0.7 -5.3l-4 -5.7l-10.6 -9.6l-4.7 -2.7l-4.3 -1.3l-6 -0l-7.4 3l-5.3 4l-8.7 8.6z"/>
<path fill="#a9c73a" d="M1282.8 1183.8l-0.3 4.3l0.6 2.7l1.4 2.3l3.3 3.4l6 3.3l9.3 2.3l10.7 0l9.3 -2.3l3 -1.3l5 -3.7l3.4 -5.7l-0.4 -5.6l-3 -4.7l-10.6 -9.7l-4.7 -2.6l-4.3 -1.4l-6 0l-7.4 3l-5.3 4l-8 8z"/>
<path fill="#bdc32e" d="M1283.8 1183.2l0.3 5.3l1.7 3l3 3l9 4.4l8.3 1.3l10 -0.7l9 -3l2.7 -1.6l3.7 -3.7l1.3 -2.3l0.7 -3.7l-1.4 -4.7l-6.3 -7l-8 -6l-6.3 -2.3l-6 0l-7.4 3l-5.3 4l-7 7z"/>
<path fill="#cfc027" d="M1285.2 1181.5l0 4.7l2.7 4.6l2.3 2l5 2.7l10 2.3l9.3 -0.3l9 -2.7l3 -1.6l3.4 -3l2 -3.7l0.3 -2l-1 -5l-5.3 -6l-8 -6l-6.4 -2.3l-6 -0l-7.3 3l-5.3 4l-6 6z"/>
<path fill="#e0bc2a" d="M1286.5 1180.2l-0.3 2.3l0.6 3l4 5l5.4 3l8.6 2l7.4 0l8.6 -2l6.7 -4l2.3 -3l1 -3l-0.6 -4.6l-4.4 -5.4l-8 -6l-6.3 -2.3l-6 0l-7.3 3l-5.4 4l-5 5z"/>
<path fill="#eeba34" d="M1287.8 1178.8l0.3 5l3.7 4.7l4.7 2.6l8 2l8 0l8 -2l4.3 -2.3l3 -3l1.7 -4l-0.7 -4.3l-3 -4l-8 -6l-6.3 -2.4l-6 0l-7.4 3l-9 7.7z"/>
<path fill="#fbbb3e" d="M1289.2 1177.2l0 4l2.7 4.3l6 3.7l7.3 1.7l9 -0.4l6.7 -2l5.3 -4l1.3 -2l0.7 -2.6l-0.3 -3l-1 -2l-3.4 -3.4l-5.6 -4l-6.4 -2.3l-6 0l-7.3 3l-5.3 4z"/>
<path fill="#fec239" d="M1290.5 1176.2l0.3 4l3 4l4.7 2.7l7 1.6l6 0l8 -2l3.3 -2l2.7 -2.6l1 -2.4l0 -3.6l-3 -4.4l-5.7 -4l-6.3 -2.3l-6 0l-7.3 3l-6.7 5.7z"/>
<path fill="#fdcb32" d="M1292.2 1174.5l0 3.7l3.3 4.3l3.7 2l7.3 1.7l6.7 -0.4l4.7 -1.3l3.6 -2l2.7 -2.7l1 -3l-0.3 -2.6l-3 -4l-6 -3.7l-4.4 -1.3l-6 -0l-3.3 1l-7.3 4.3z"/>
<path fill="#fad52e" d="M1293.5 1174.5l1.3 4l1.7 1.7l4.3 2.3l4 1l7.4 0l5.6 -1.7l4.4 -3.3l1.3 -3l-0.3 -3l-2.7 -3.3l-4.7 -2.7l-4.3 -1.3l-6 -0l-7.3 3l-3.7 3.3z"/>
<path fill="#f6de29" d="M1295.5 1171.8l0 2.7l1 2l2.7 2.3l5.3 2l4.7 0.3l6.6 -1.3l3 -1.7l2.7 -3.3l0 -3.3l-2.7 -3.4l-7.3 -3l-6 0l-3.3 1l-4.4 2.4z"/>
<path fill="#f5e825" d="M1297.5 1170.5l0.3 3.3l1.4 1.7l2.6 1.7l3.7 1l6.3 -0l2.7 -0.7l3.3 -2l1.7 -2.3l0 -3l-1.3 -2l-4 -2.4l-2.7 -0.6l-6 -0l-5.3 2z"/>
<path fill="#f6f11f" d="M1299.8 1169.5l0.3 2.3l1 1.4l3 1.6l4 0.7l3.4 -0.3l3.3 -1.4l1.7 -1.3l0.6 -1.7l-0.6 -3l-5 -2.6l-5.7 -0l-3.7 1.3z"/>
<path fill="#f8f818" d="M1303.2 1167.8l0.3 2l1.4 1.3l2 0.7l4.6 -0.3l2.4 -2l-0.4 -2.4l-3.3 -1.6l-3.3 -0l-2 0.6z"/></g>
<line x1="1150.1" y1="1231.6" x2="1308.4" y2="1325.7" stroke="#4d4d4d" stroke-width="0.9"/>
<line x1="1308.4" y1="1325.7" x2="1467" y2="1231.6" stroke="#4d4d4d" stroke-width="0.9"/>
<line x1="1150.1" y1="1231.6" x2="1145.3" y2="1234.4" stroke="#4d4d4d" stroke-width="0.8"/>
<line x1="1229.2" y1="1278.7" x2="1224.5" y2="1281.5" stroke="#4d4d4d" stroke-width="0.8"/>
<line x1="1308.4" y1="1325.7" x2="1303.6" y2="1328.5" stroke="#4d4d4d" stroke-width="0.8"/>
<line x1="1308.4" y1="1325.7" x2="1313.1" y2="1328.5" stroke="#4d4d4d" stroke-width="0.8"/>
<line x1="1387.7" y1="1278.7" x2="1392.4" y2="1281.5" stroke="#4d4d4d" stroke-width="0.8"/>
<line x1="1467" y1="1231.6" x2="1471.7" y2="1234.4" stroke="#4d4d4d" stroke-width="0.8"/>
<line x1="1150.1" y1="1231.6" x2="1145.3" y2="1234.4" stroke="#4d4d4d" stroke-width="0.8"/>
<line x1="1150.1" y1="1197.4" x2="1145.3" y2="1200.2" stroke="#4d4d4d" stroke-width="0.8"/>
<linearGradient id="gd" x1="0" y1="0" x2="0" y2="1"><stop offset="0%" stop-color="#f9fb15"/><stop offset="6.2%" stop-color="#f5e327"/><stop offset="12.5%" stop-color="#feca33"/><stop offset="18.8%" stop-color="#f1ba37"/><stop offset="25%" stop-color="#c8c129"/><stop offset="31.2%" stop-color="#94ca4a"/><stop offset="37.5%" stop-color="#5ccc76"/><stop offset="43.8%" stop-color="#34c79c"/><stop offset="50%" stop-color="#12beb9"/><stop offset="56.2%" stop-color="#0cb3d3"/><stop offset="62.5%" stop-color="#21a3e3"/><stop offset="68.8%" stop-color="#2c90f0"/><stop offset="75%" stop-color="#347afd"/><stop offset="81.2%" stop-color="#4562fc"/><stop offset="87.5%" stop-color="#484cef"/><stop offset="93.8%" stop-color="#4536d5"/><stop offset="100%" stop-color="#3e26a8"/></linearGradient>
<rect x="1560.3" y="1085.9" width="21.3" height="251.1" fill="url(#gd)" stroke="#7a7a7a" stroke-width="0.8"/>
<path d="M1581.6 1310.2h-2.2M1581.6 1283.4h-2.2M1581.6 1256.6h-2.2M1581.6 1229.8h-2.2M1581.6 1202.9h-2.2M1581.6 1176.1h-2.2M1581.6 1149.3h-2.2M1581.6 1122.5h-2.2M1581.6 1095.7h-2.2" stroke="#333" stroke-width="0.8" fill="none"/>
<g transform="translate(23.45,43.2) scale(0.674,0.791) translate(-11.75,10.5)"><text x="0" y="0" font-family="Liberation Sans,sans-serif" font-size="40" font-weight="bold">a</text></g>
<g transform="translate(923.65,39.8) scale(0.776,0.82) translate(-12.75,14.25)"><text x="0" y="0" font-family="Liberation Sans,sans-serif" font-size="40" font-weight="bold">b</text></g>
<g transform="translate(25.75,730.95) scale(0.672,0.795) translate(-11.25,10.5)"><text x="0" y="0" font-family="Liberation Sans,sans-serif" font-size="40" font-weight="bold">c</text></g>
<g transform="translate(929.05,738.85) scale(0.795,0.79) translate(-11.75,14.25)"><text x="0" y="0" font-family="Liberation Sans,sans-serif" font-size="40" font-weight="bold">d</text></g>
<g transform="translate(247.95,21.95) scale(0.864,0.807) translate(-105.75,13.25)"><text x="0" y="0" font-family="Liberation Serif,serif" font-size="40"><tspan font-style="italic">E</tspan><tspan font-size="28" dy="9">0</tspan><tspan dy="-9" dx="10" letter-spacing="1.5">(GV m</tspan><tspan font-size="31" dy="-15">−1</tspan><tspan dy="15">)</tspan></text></g>
<g transform="translate(152.55,60.2) scale(0.815,0.8) translate(-34,13.75)"><text x="0" y="0" font-family="Liberation Sans,sans-serif" font-size="40">100</text></g>
<g transform="translate(252.25,60.2) scale(0.808,0.8) translate(-33.25,13.75)"><text x="0" y="0" font-family="Liberation Sans,sans-serif" font-size="40">300</text></g>
<g transform="translate(344.4,60.2) scale(0.803,0.8) translate(-33.25,13.75)"><text x="0" y="0" font-family="Liberation Sans,sans-serif" font-size="40">500</text></g>
<g transform="translate(678.9,21.25) scale(0.864,0.811) translate(-105.75,13.25)"><text x="0" y="0" font-family="Liberation Serif,serif" font-size="40"><tspan font-style="italic">E</tspan><tspan font-size="28" dy="9">0</tspan><tspan dy="-9" dx="10" letter-spacing="1.5">(GV m</tspan><tspan font-size="31" dy="-15">−1</tspan><tspan dy="15">)</tspan></text></g>
<g transform="translate(561.9,59.65) scale(0.8,0.789) translate(-34,13.75)"><text x="0" y="0" font-family="Liberation Sans,sans-serif" font-size="40">100</text></g>
<g transform="translate(661.4,59.65) scale(0.803,0.789) translate(-33.25,13.75)"><text x="0" y="0" font-family="Liberation Sans,sans-serif" font-size="40">300</text></g>
<g transform="translate(753.75,59.65) scale(0.789,0.789) translate(-33.25,13.75)"><text x="0" y="0" font-family="Liberation Sans,sans-serif" font-size="40">500</text></g>
<g transform="translate(1145.15,22.25) scale(0.864,0.807) translate(-105.75,13.25)"><text x="0" y="0" font-family="Liberation Serif,serif" font-size="40"><tspan font-style="italic">E</tspan><tspan font-size="28" dy="9">0</tspan><tspan dy="-9" dx="10" letter-spacing="1.5">(GV m</tspan><tspan font-size="31" dy="-15">−1</tspan><tspan dy="15">)</tspan></text></g>
<g transform="translate(1049.75,60.5) scale(0.815,0.8) translate(-34,13.75)"><text x="0" y="0" font-family="Liberation Sans,sans-serif" font-size="40">100</text></g>
<g transform="translate(1149.45,60.5) scale(0.808,0.8) translate(-33.25,13.75)"><text x="0" y="0" font-family="Liberation Sans,sans-serif" font-size="40">300</text></g>
<g transform="translate(1241.6,60.5) scale(0.803,0.8) translate(-33.25,13.75)"><text x="0" y="0" font-family="Liberation Sans,sans-serif" font-size="40">500</text></g>
<g transform="translate(1576,21.55) scale(0.864,0.811) translate(-105.75,13.25)"><text x="0" y="0" font-family="Liberation Serif,serif" font-size="40"><tspan font-style="italic">E</tspan><tspan font-size="28" dy="9">0</tspan><tspan dy="-9" dx="10" letter-spacing="1.5">(GV m</tspan><tspan font-size="31" dy="-15">−1</tspan><tspan dy="15">)</tspan></text></g>
<g transform="translate(1459,59.95) scale(0.8,0.789) translate(-34,13.75)"><text x="0" y="0" font-family="Liberation Sans,sans-serif" font-size="40">100</text></g>
<g transform="translate(1558.5,59.95) scale(0.803,0.789) translate(-33.25,13.75)"><text x="0" y="0" font-family="Liberation Sans,sans-serif" font-size="40">300</text></g>
<g transform="translate(1650.85,59.95) scale(0.789,0.789) translate(-33.25,13.75)"><text x="0" y="0" font-family="Liberation Sans,sans-serif" font-size="40">500</text></g>
<g transform="translate(247.95,717.95) scale(0.864,0.807) translate(-105.75,13.25)"><text x="0" y="0" font-family="Liberation Serif,serif" font-size="40"><tspan font-style="italic">E</tspan><tspan font-size="28" dy="9">0</tspan><tspan dy="-9" dx="10" letter-spacing="1.5">(GV m</tspan><tspan font-size="31" dy="-15">−1</tspan><tspan dy="15">)</tspan></text></g>
<g transform="translate(152.55,756.2) scale(0.815,0.8) translate(-34,13.75)"><text x="0" y="0" font-family="Liberation Sans,sans-serif" font-size="40">100</text></g>
<g transform="translate(252.25,756.2) scale(0.808,0.8) translate(-33.25,13.75)"><text x="0" y="0" font-family="Liberation Sans,sans-serif" font-size="40">300</text></g>
<g transform="translate(344.4,756.2) scale(0.803,0.8) translate(-33.25,13.75)"><text x="0" y="0" font-family="Liberation Sans,sans-serif" font-size="40">500</text></g>
<g transform="translate(678.2,717.25) scale(0.864,0.811) translate(-105.75,13.25)"><text x="0" y="0" font-family="Liberation Serif,serif" font-size="40"><tspan font-style="italic">E</tspan><tspan font-size="28" dy="9">0</tspan><tspan dy="-9" dx="10" letter-spacing="1.5">(GV m</tspan><tspan font-size="31" dy="-15">−1</tspan><tspan dy="15">)</tspan></text></g>
<g transform="translate(561.2,755.65) scale(0.8,0.789) translate(-34,13.75)"><text x="0" y="0" font-family="Liberation Sans,sans-serif" font-size="40">100</text></g>
<g transform="translate(660.7,755.65) scale(0.803,0.789) translate(-33.25,13.75)"><text x="0" y="0" font-family="Liberation Sans,sans-serif" font-size="40">300</text></g>
<g transform="translate(753.05,755.65) scale(0.789,0.789) translate(-33.25,13.75)"><text x="0" y="0" font-family="Liberation Sans,sans-serif" font-size="40">500</text></g>
<g transform="translate(1145.15,719.95) scale(0.864,0.807) translate(-105.75,13.25)"><text x="0" y="0" font-family="Liberation Serif,serif" font-size="40"><tspan font-style="italic">E</tspan><tspan font-size="28" dy="9">0</tspan><tspan dy="-9" dx="10" letter-spacing="1.5">(GV m</tspan><tspan font-size="31" dy="-15">−1</tspan><tspan dy="15">)</tspan></text></g>
<g transform="translate(1049.75,758.2) scale(0.815,0.8) translate(-34,13.75)"><text x="0" y="0" font-family="Liberation Sans,sans-serif" font-size="40">100</text></g>
<g transform="translate(1149.45,758.2) scale(0.808,0.8) translate(-33.25,13.75)"><text x="0" y="0" font-family="Liberation Sans,sans-serif" font-size="40">300</text></g>
<g transform="translate(1241.6,758.2) scale(0.803,0.8) translate(-33.25,13.75)"><text x="0" y="0" font-family="Liberation Sans,sans-serif" font-size="40">500</text></g>
<g transform="translate(1572.3,719.25) scale(0.864,0.811) translate(-105.75,13.25)"><text x="0" y="0" font-family="Liberation Serif,serif" font-size="40"><tspan font-style="italic">E</tspan><tspan font-size="28" dy="9">0</tspan><tspan dy="-9" dx="10" letter-spacing="1.5">(GV m</tspan><tspan font-size="31" dy="-15">−1</tspan><tspan dy="15">)</tspan></text></g>
<g transform="translate(1455.3,757.65) scale(0.8,0.789) translate(-34,13.75)"><text x="0" y="0" font-family="Liberation Sans,sans-serif" font-size="40">100</text></g>
<g transform="translate(1554.8,757.65) scale(0.803,0.789) translate(-33.25,13.75)"><text x="0" y="0" font-family="Liberation Sans,sans-serif" font-size="40">300</text></g>
<g transform="translate(1647.15,757.65) scale(0.789,0.789) translate(-33.25,13.75)"><text x="0" y="0" font-family="Liberation Sans,sans-serif" font-size="40">500</text></g>
<g transform="translate(70.416,80.4) scale(0.807,0.807) translate(-27.75,13.75)"><text x="0" y="0" font-family="Liberation Sans,sans-serif" font-size="40">0.5</text></g>
<g transform="translate(70.214,135.6) scale(0.807,0.807) translate(-28,13.75)"><text x="0" y="0" font-family="Liberation Sans,sans-serif" font-size="40">0.4</text></g>
<g transform="translate(70.416,190.8) scale(0.807,0.807) translate(-27.75,13.75)"><text x="0" y="0" font-family="Liberation Sans,sans-serif" font-size="40">0.3</text></g>
<g transform="translate(70.618,246) scale(0.807,0.807) translate(-27.5,13.75)"><text x="0" y="0" font-family="Liberation Sans,sans-serif" font-size="40">0.2</text></g>
<g transform="translate(70.618,301.2) scale(0.807,0.807) translate(-27.5,13.75)"><text x="0" y="0" font-family="Liberation Sans,sans-serif" font-size="40">0.1</text></g>
<g transform="translate(968.316,80.4) scale(0.807,0.807) translate(-27.75,13.75)"><text x="0" y="0" font-family="Liberation Sans,sans-serif" font-size="40">0.5</text></g>
<g transform="translate(968.114,135.6) scale(0.807,0.807) translate(-28,13.75)"><text x="0" y="0" font-family="Liberation Sans,sans-serif" font-size="40">0.4</text></g>
<g transform="translate(968.316,190.8) scale(0.807,0.807) translate(-27.75,13.75)"><text x="0" y="0" font-family="Liberation Sans,sans-serif" font-size="40">0.3</text></g>
<g transform="translate(968.518,246) scale(0.807,0.807) translate(-27.5,13.75)"><text x="0" y="0" font-family="Liberation Sans,sans-serif" font-size="40">0.2</text></g>
<g transform="translate(968.518,301.2) scale(0.807,0.807) translate(-27.5,13.75)"><text x="0" y="0" font-family="Liberation Sans,sans-serif" font-size="40">0.1</text></g>
<g transform="translate(69.416,779.9) scale(0.807,0.807) translate(-27.75,13.75)"><text x="0" y="0" font-family="Liberation Sans,sans-serif" font-size="40">0.5</text></g>
<g transform="translate(69.214,835.1) scale(0.807,0.807) translate(-28,13.75)"><text x="0" y="0" font-family="Liberation Sans,sans-serif" font-size="40">0.4</text></g>
<g transform="translate(69.416,890.3) scale(0.807,0.807) translate(-27.75,13.75)"><text x="0" y="0" font-family="Liberation Sans,sans-serif" font-size="40">0.3</text></g>
<g transform="translate(69.618,945.5) scale(0.807,0.807) translate(-27.5,13.75)"><text x="0" y="0" font-family="Liberation Sans,sans-serif" font-size="40">0.2</text></g>
<g transform="translate(69.618,1000.7) scale(0.807,0.807) translate(-27.5,13.75)"><text x="0" y="0" font-family="Liberation Sans,sans-serif" font-size="40">0.1</text></g>
<g transform="translate(966.816,779.9) scale(0.807,0.807) translate(-27.75,13.75)"><text x="0" y="0" font-family="Liberation Sans,sans-serif" font-size="40">0.5</text></g>
<g transform="translate(966.614,835.1) scale(0.807,0.807) translate(-28,13.75)"><text x="0" y="0" font-family="Liberation Sans,sans-serif" font-size="40">0.4</text></g>
<g transform="translate(966.816,890.3) scale(0.807,0.807) translate(-27.75,13.75)"><text x="0" y="0" font-family="Liberation Sans,sans-serif" font-size="40">0.3</text></g>
<g transform="translate(967.018,945.5) scale(0.807,0.807) translate(-27.5,13.75)"><text x="0" y="0" font-family="Liberation Sans,sans-serif" font-size="40">0.2</text></g>
<g transform="translate(967.018,1000.7) scale(0.807,0.807) translate(-27.5,13.75)"><text x="0" y="0" font-family="Liberation Sans,sans-serif" font-size="40">0.1</text></g>
<g transform="translate(479.026,80.6) scale(0.758,0.758) translate(-33.5,13.75)"><text x="0" y="0" font-family="Liberation Sans,sans-serif" font-size="40">600</text></g>
<g transform="translate(478.837,126.7) scale(0.758,0.758) translate(-33.25,13.75)"><text x="0" y="0" font-family="Liberation Sans,sans-serif" font-size="40">500</text></g>
<g transform="translate(478.647,172.8) scale(0.758,0.758) translate(-33,13.75)"><text x="0" y="0" font-family="Liberation Sans,sans-serif" font-size="40">400</text></g>
<g transform="translate(478.837,218.9) scale(0.758,0.758) translate(-33.25,13.75)"><text x="0" y="0" font-family="Liberation Sans,sans-serif" font-size="40">300</text></g>
<g transform="translate(479.026,265) scale(0.758,0.758) translate(-33.5,13.75)"><text x="0" y="0" font-family="Liberation Sans,sans-serif" font-size="40">200</text></g>
<g transform="translate(479.405,311.1) scale(0.758,0.758) translate(-34,13.75)"><text x="0" y="0" font-family="Liberation Sans,sans-serif" font-size="40">100</text></g>
<g transform="translate(1376.426,80.6) scale(0.758,0.758) translate(-33.5,13.75)"><text x="0" y="0" font-family="Liberation Sans,sans-serif" font-size="40">600</text></g>
<g transform="translate(1376.237,126.7) scale(0.758,0.758) translate(-33.25,13.75)"><text x="0" y="0" font-family="Liberation Sans,sans-serif" font-size="40">500</text></g>
<g transform="translate(1376.047,172.8) scale(0.758,0.758) translate(-33,13.75)"><text x="0" y="0" font-family="Liberation Sans,sans-serif" font-size="40">400</text></g>
<g transform="translate(1376.237,218.9) scale(0.758,0.758) translate(-33.25,13.75)"><text x="0" y="0" font-family="Liberation Sans,sans-serif" font-size="40">300</text></g>
<g transform="translate(1376.426,265) scale(0.758,0.758) translate(-33.5,13.75)"><text x="0" y="0" font-family="Liberation Sans,sans-serif" font-size="40">200</text></g>
<g transform="translate(1376.805,311.1) scale(0.758,0.758) translate(-34,13.75)"><text x="0" y="0" font-family="Liberation Sans,sans-serif" font-size="40">100</text></g>
<g transform="translate(475.026,779.6) scale(0.758,0.758) translate(-33.5,13.75)"><text x="0" y="0" font-family="Liberation Sans,sans-serif" font-size="40">600</text></g>
<g transform="translate(474.837,825.7) scale(0.758,0.758) translate(-33.25,13.75)"><text x="0" y="0" font-family="Liberation Sans,sans-serif" font-size="40">500</text></g>
<g transform="translate(474.647,871.8) scale(0.758,0.758) translate(-33,13.75)"><text x="0" y="0" font-family="Liberation Sans,sans-serif" font-size="40">400</text></g>
<g transform="translate(474.837,917.9) scale(0.758,0.758) translate(-33.25,13.75)"><text x="0" y="0" font-family="Liberation Sans,sans-serif" font-size="40">300</text></g>
<g transform="translate(475.026,964) scale(0.758,0.758) translate(-33.5,13.75)"><text x="0" y="0" font-family="Liberation Sans,sans-serif" font-size="40">200</text></g>
<g transform="translate(475.405,1010.1) scale(0.758,0.758) translate(-34,13.75)"><text x="0" y="0" font-family="Liberation Sans,sans-serif" font-size="40">100</text></g>
<g transform="translate(1370.026,780.8) scale(0.758,0.758) translate(-33.5,13.75)"><text x="0" y="0" font-family="Liberation Sans,sans-serif" font-size="40">600</text></g>
<g transform="translate(1369.837,826.9) scale(0.758,0.758) translate(-33.25,13.75)"><text x="0" y="0" font-family="Liberation Sans,sans-serif" font-size="40">500</text></g>
<g transform="translate(1369.647,873) scale(0.758,0.758) translate(-33,13.75)"><text x="0" y="0" font-family="Liberation Sans,sans-serif" font-size="40">400</text></g>
<g transform="translate(1369.837,919.1) scale(0.758,0.758) translate(-33.25,13.75)"><text x="0" y="0" font-family="Liberation Sans,sans-serif" font-size="40">300</text></g>
<g transform="translate(1370.026,965.2) scale(0.758,0.758) translate(-33.5,13.75)"><text x="0" y="0" font-family="Liberation Sans,sans-serif" font-size="40">200</text></g>
<g transform="translate(1370.405,1011.3) scale(0.758,0.758) translate(-34,13.75)"><text x="0" y="0" font-family="Liberation Sans,sans-serif" font-size="40">100</text></g>
<g transform="translate(20.1,199.3) rotate(-90) scale(1.01,0.986) translate(-41.5,9.25)"><text x="0" y="0" font-family="Liberation Serif,serif" font-size="40"><tspan font-style="italic">v</tspan><tspan font-size="28" dy="8">el</tspan><tspan dy="-8" dx="11">/</tspan><tspan font-style="italic" dx="5">c</tspan></text></g>
<g transform="translate(922.7,197.3) rotate(-90) scale(1.005,0.997) translate(-41.5,9.25)"><text x="0" y="0" font-family="Liberation Serif,serif" font-size="40"><tspan font-style="italic">v</tspan><tspan font-size="28" dy="8">el</tspan><tspan dy="-8" dx="11">/</tspan><tspan font-style="italic" dx="5">c</tspan></text></g>
<g transform="translate(23.1,904.95) rotate(-90) scale(1.011,0.986) translate(-41.5,9.25)"><text x="0" y="0" font-family="Liberation Serif,serif" font-size="40"><tspan font-style="italic">v</tspan><tspan font-size="28" dy="8">el</tspan><tspan dy="-8" dx="11">/</tspan><tspan font-style="italic" dx="5">c</tspan></text></g>
<g transform="translate(925.2,895.8) rotate(-90) scale(1,0.893) translate(-41.5,9.25)"><text x="0" y="0" font-family="Liberation Serif,serif" font-size="40"><tspan font-style="italic">v</tspan><tspan font-size="28" dy="8">el</tspan><tspan dy="-8" dx="11">/</tspan><tspan font-style="italic" dx="5">c</tspan></text></g>
<g transform="translate(425.5,205.1) rotate(-90) scale(0.973,0.795) translate(-68.5,7)"><text x="0" y="0" font-family="Liberation Serif,serif" font-size="40"><tspan font-style="italic">λ</tspan><tspan font-size="28" dy="8">ph</tspan><tspan dy="-8" dx="12" letter-spacing="1.5">(nm)</tspan></text></g>
<g transform="translate(1323.1,205) rotate(-90) scale(0.964,0.79) translate(-68.5,7)"><text x="0" y="0" font-family="Liberation Serif,serif" font-size="40"><tspan font-style="italic">λ</tspan><tspan font-size="28" dy="8">ph</tspan><tspan dy="-8" dx="12" letter-spacing="1.5">(nm)</tspan></text></g>
<g transform="translate(426.15,904.15) rotate(-90) scale(0.973,0.826) translate(-68.5,7)"><text x="0" y="0" font-family="Liberation Serif,serif" font-size="40"><tspan font-style="italic">λ</tspan><tspan font-size="28" dy="8">ph</tspan><tspan dy="-8" dx="12" letter-spacing="1.5">(nm)</tspan></text></g>
<g transform="translate(1316.4,904.65) rotate(-90) scale(0.966,0.79) translate(-68.5,7)"><text x="0" y="0" font-family="Liberation Serif,serif" font-size="40"><tspan font-style="italic">λ</tspan><tspan font-size="28" dy="8">ph</tspan><tspan dy="-8" dx="12" letter-spacing="1.5">(nm)</tspan></text></g>
<g transform="translate(153.6,506.65) scale(1.02,1.089) translate(-34.5,14.75)"><text x="0" y="0" font-family="Liberation Serif,serif" font-size="40" font-style="italic">P</text><text x="22" y="10" font-family="Liberation Serif,serif" font-size="27">0</text><text x="27" y="-15" font-family="Liberation Serif,serif" font-size="28" font-style="italic">A</text><text x="46" y="-15" font-family="Liberation Serif,serif" font-size="28">·</text><text x="55" y="-15" font-family="Liberation Serif,serif" font-size="28" font-style="italic">k</text><text x="32" y="-34" font-family="Liberation Serif,serif" font-size="20">→</text><text x="53" y="-34" font-family="Liberation Serif,serif" font-size="20">→</text></g>
<g transform="translate(1031.05,519.8) scale(1.017,0.996) translate(-41.75,11.5)"><text x="0" y="0" font-family="Liberation Serif,serif" font-size="40" font-style="italic">P</text><text x="21" y="12" font-family="Liberation Serif,serif" font-size="30" letter-spacing="0.5">±1, 0</text><text x="27" y="-15" font-family="Liberation Serif,serif" font-size="28" font-style="italic">A</text><text x="46" y="-15" font-family="Liberation Serif,serif" font-size="28">·</text><text x="55" y="-15" font-family="Liberation Serif,serif" font-size="28" font-style="italic">k</text><text x="32" y="-34" font-family="Liberation Serif,serif" font-size="20">→</text><text x="53" y="-34" font-family="Liberation Serif,serif" font-size="20">→</text></g>
<g transform="translate(127.45,1218.35) scale(1.083,0.995) translate(-45.75,11.5)"><text x="0" y="0" font-family="Liberation Serif,serif" font-size="40" font-style="italic">P</text><text x="21" y="12" font-family="Liberation Serif,serif" font-size="30" letter-spacing="0.5">±1,±1</text><text x="27" y="-15" font-family="Liberation Serif,serif" font-size="28" font-style="italic">A</text><text x="46" y="-15" font-family="Liberation Serif,serif" font-size="28">·</text><text x="55" y="-15" font-family="Liberation Serif,serif" font-size="28" font-style="italic">k</text><text x="32" y="-34" font-family="Liberation Serif,serif" font-size="20">→</text><text x="53" y="-34" font-family="Liberation Serif,serif" font-size="20">→</text></g>
<g transform="translate(1018.75,1209.3) scale(1.098,1.004) translate(-45.75,11.5)"><text x="0" y="0" font-family="Liberation Serif,serif" font-size="40" font-style="italic">P</text><text x="21" y="12" font-family="Liberation Serif,serif" font-size="30" letter-spacing="0.5">±2,±2</text><text x="27" y="-15" font-family="Liberation Serif,serif" font-size="28" font-style="italic">A</text><text x="46" y="-15" font-family="Liberation Serif,serif" font-size="28">·</text><text x="55" y="-15" font-family="Liberation Serif,serif" font-size="28" font-style="italic">k</text><text x="32" y="-34" font-family="Liberation Serif,serif" font-size="20">→</text><text x="53" y="-34" font-family="Liberation Serif,serif" font-size="20">→</text></g>
<g transform="translate(229.35,477.15) scale(0.814,0.775) translate(-28.5,13.75)"><text x="0" y="0" font-family="Liberation Sans,sans-serif" font-size="40">1.0</text></g>
<g transform="translate(228.45,510.45) scale(0.81,0.796) translate(-27.75,13.75)"><text x="0" y="0" font-family="Liberation Sans,sans-serif" font-size="40">0.5</text></g>
<g transform="translate(232.9,549.4) scale(0.785,0.785) translate(-11,13.75)"><text x="0" y="0" font-family="Liberation Sans,sans-serif" font-size="40">0</text></g>
<g transform="translate(1118.25,484.6) scale(0.807,0.793) translate(-39,13.75)"><text x="0" y="0" font-family="Liberation Sans,sans-serif" font-size="40">0.10</text></g>
<g transform="translate(1117.95,518.35) scale(0.804,0.796) translate(-38.75,13.75)"><text x="0" y="0" font-family="Liberation Sans,sans-serif" font-size="40">0.05</text></g>
<g transform="translate(1129.55,549.45) scale(0.785,0.785) translate(-11,13.75)"><text x="0" y="0" font-family="Liberation Sans,sans-serif" font-size="40">0</text></g>
<g transform="translate(212.25,1183.8) scale(0.801,0.786) translate(-39,13.75)"><text x="0" y="0" font-family="Liberation Sans,sans-serif" font-size="40">0.10</text></g>
<g transform="translate(211.9,1216.75) scale(0.797,0.811) translate(-38.75,13.75)"><text x="0" y="0" font-family="Liberation Sans,sans-serif" font-size="40">0.05</text></g>
<g transform="translate(233,1248.4) scale(0.785,0.785) translate(-11,13.75)"><text x="0" y="0" font-family="Liberation Sans,sans-serif" font-size="40">0</text></g>
<g transform="translate(1104.75,1199.1) scale(0.807,0.807) translate(-38.75,13.75)"><text x="0" y="0" font-family="Liberation Sans,sans-serif" font-size="40">0.03</text></g>
<g transform="translate(1133.9,1249.2) scale(0.785,0.785) translate(-11,13.75)"><text x="0" y="0" font-family="Liberation Sans,sans-serif" font-size="40">0</text></g>
<g transform="translate(266,622.2) scale(0.994,0.985) translate(-34.5,2)"><text x="0" y="0" font-family="Liberation Serif,serif" font-size="40" font-style="italic">δt</text><text x="30" y="12" font-family="Liberation Serif,serif" font-size="52">/</text><text x="46" y="24" font-family="Liberation Serif,serif" font-size="36" font-style="italic">T</text></g>
<g transform="translate(1157.25,622.2) scale(0.993,0.985) translate(-34.5,2)"><text x="0" y="0" font-family="Liberation Serif,serif" font-size="40" font-style="italic">δt</text><text x="30" y="12" font-family="Liberation Serif,serif" font-size="52">/</text><text x="46" y="24" font-family="Liberation Serif,serif" font-size="36" font-style="italic">T</text></g>
<g transform="translate(259.3,1315.25) scale(0.994,0.983) translate(-34.5,2)"><text x="0" y="0" font-family="Liberation Serif,serif" font-size="40" font-style="italic">δt</text><text x="30" y="12" font-family="Liberation Serif,serif" font-size="52">/</text><text x="46" y="24" font-family="Liberation Serif,serif" font-size="36" font-style="italic">T</text></g>
<g transform="translate(1156.5,1317.05) scale(1,0.983) translate(-34.5,2)"><text x="0" y="0" font-family="Liberation Serif,serif" font-size="40" font-style="italic">δt</text><text x="30" y="12" font-family="Liberation Serif,serif" font-size="52">/</text><text x="46" y="24" font-family="Liberation Serif,serif" font-size="36" font-style="italic">T</text></g>
<g transform="translate(310.7,597.8) scale(0.796,0.814) translate(-27.75,13.75)"><text x="0" y="0" font-family="Liberation Sans,sans-serif" font-size="40">0.5</text></g>
<g transform="translate(389.75,640.8) scale(0.822,0.814) translate(-28.5,13.75)"><text x="0" y="0" font-family="Liberation Sans,sans-serif" font-size="40">1.0</text></g>
<g transform="translate(429.1,644.35) scale(0.785,0.785) translate(-11,13.75)"><text x="0" y="0" font-family="Liberation Sans,sans-serif" font-size="40">0</text></g>
<g transform="translate(509.35,605.45) scale(0.822,0.796) translate(-22.5,13.75)"><text x="0" y="0" font-family="Liberation Sans,sans-serif" font-size="40">90</text></g>
<g transform="translate(593.5,558.55) scale(0.829,0.796) translate(-34,13.75)"><text x="0" y="0" font-family="Liberation Sans,sans-serif" font-size="40">180</text></g>
<g transform="translate(1207.85,598.2) scale(0.806,0.765) translate(-27.75,13.75)"><text x="0" y="0" font-family="Liberation Sans,sans-serif" font-size="40">0.5</text></g>
<g transform="translate(1285.9,642.95) scale(0.827,0.761) translate(-28.5,13.75)"><text x="0" y="0" font-family="Liberation Sans,sans-serif" font-size="40">1.0</text></g>
<g transform="translate(1326.15,646.2) scale(0.785,0.785) translate(-11,13.75)"><text x="0" y="0" font-family="Liberation Sans,sans-serif" font-size="40">0</text></g>
<g transform="translate(1405.45,605.85) scale(0.812,0.761) translate(-22.5,13.75)"><text x="0" y="0" font-family="Liberation Sans,sans-serif" font-size="40">90</text></g>
<g transform="translate(1489.9,558.55) scale(0.826,0.761) translate(-34,13.75)"><text x="0" y="0" font-family="Liberation Sans,sans-serif" font-size="40">180</text></g>
<g transform="translate(311.05,1296.9) scale(0.779,0.765) translate(-27.75,13.75)"><text x="0" y="0" font-family="Liberation Sans,sans-serif" font-size="40">0.5</text></g>
<g transform="translate(388.8,1340.4) scale(0.812,0.765) translate(-28.5,13.75)"><text x="0" y="0" font-family="Liberation Sans,sans-serif" font-size="40">1.0</text></g>
<g transform="translate(428.7,1343.6) scale(0.785,0.785) translate(-11,13.75)"><text x="0" y="0" font-family="Liberation Sans,sans-serif" font-size="40">0</text></g>
<g transform="translate(509.3,1304.6) scale(0.81,0.765) translate(-22.5,13.75)"><text x="0" y="0" font-family="Liberation Sans,sans-serif" font-size="40">90</text></g>
<g transform="translate(592.45,1257.25) scale(0.785,0.761) translate(-34,13.75)"><text x="0" y="0" font-family="Liberation Sans,sans-serif" font-size="40">180</text></g>
<g transform="translate(1207.45,1295.85) scale(0.779,0.761) translate(-27.75,13.75)"><text x="0" y="0" font-family="Liberation Sans,sans-serif" font-size="40">0.5</text></g>
<g transform="translate(1285.45,1339.35) scale(0.802,0.761) translate(-28.5,13.75)"><text x="0" y="0" font-family="Liberation Sans,sans-serif" font-size="40">1.0</text></g>
<g transform="translate(1325.1,1343.2) scale(0.785,0.785) translate(-11,13.75)"><text x="0" y="0" font-family="Liberation Sans,sans-serif" font-size="40">0</text></g>
<g transform="translate(1404.45,1295.85) scale(0.812,0.761) translate(-22.5,13.75)"><text x="0" y="0" font-family="Liberation Sans,sans-serif" font-size="40">90</text></g>
<g transform="translate(1488.2,1250.45) scale(0.803,0.719) translate(-34,13.75)"><text x="0" y="0" font-family="Liberation Sans,sans-serif" font-size="40">180</text></g>
<g transform="translate(573.1,619.4) rotate(-30.6) scale(0.878,1.015) translate(-81.75,9.5)"><text x="0" y="0" font-family="Liberation Serif,serif" font-size="40"><tspan font-style="italic">φ</tspan><tspan dx="9">(degree)</tspan></text></g>
<g transform="translate(1474.55,618.05) rotate(-30.6) scale(0.87,1.076) translate(-81.75,9.5)"><text x="0" y="0" font-family="Liberation Serif,serif" font-size="40"><tspan font-style="italic">φ</tspan><tspan dx="9">(degree)</tspan></text></g>
<g transform="translate(577.1,1316.75) rotate(-30.6) scale(0.871,1.074) translate(-81.75,9.5)"><text x="0" y="0" font-family="Liberation Serif,serif" font-size="40"><tspan font-style="italic">φ</tspan><tspan dx="9">(degree)</tspan></text></g>
<g transform="translate(1456.85,1320.85) rotate(-30.6) scale(0.87,1.076) translate(-81.75,9.5)"><text x="0" y="0" font-family="Liberation Serif,serif" font-size="40"><tspan font-style="italic">φ</tspan><tspan dx="9">(degree)</tspan></text></g>
<g transform="translate(729.05,387) scale(0.814,0.807) translate(-28.5,13.75)"><text x="0" y="0" font-family="Liberation Sans,sans-serif" font-size="40">1.0</text></g>
<g transform="translate(728.3,512.1) scale(0.789,0.8) translate(-27.75,13.75)"><text x="0" y="0" font-family="Liberation Sans,sans-serif" font-size="40">0.5</text></g>
<g transform="translate(716.6,635.35) scale(0.785,0.785) translate(-11,13.75)"><text x="0" y="0" font-family="Liberation Sans,sans-serif" font-size="40">0</text></g>
<g transform="translate(1620.3,419.85) scale(0.813,0.782) translate(-39,13.75)"><text x="0" y="0" font-family="Liberation Sans,sans-serif" font-size="40">0.10</text></g>
<g transform="translate(1620.3,528.7) scale(0.819,0.786) translate(-38.75,13.75)"><text x="0" y="0" font-family="Liberation Sans,sans-serif" font-size="40">0.05</text></g>
<g transform="translate(1599.45,635.6) scale(0.785,0.785) translate(-11,13.75)"><text x="0" y="0" font-family="Liberation Sans,sans-serif" font-size="40">0</text></g>
<g transform="translate(732.7,1118.8) scale(0.8,0.786) translate(-39,13.75)"><text x="0" y="0" font-family="Liberation Sans,sans-serif" font-size="40">0.10</text></g>
<g transform="translate(732.2,1228.2) scale(0.792,0.751) translate(-38.75,13.75)"><text x="0" y="0" font-family="Liberation Sans,sans-serif" font-size="40">0.05</text></g>
<g transform="translate(711.85,1333.45) scale(0.785,0.785) translate(-11,13.75)"><text x="0" y="0" font-family="Liberation Sans,sans-serif" font-size="40">0</text></g>
<g transform="translate(1624.85,1101.5) scale(0.834,0.786) translate(-38.75,13.75)"><text x="0" y="0" font-family="Liberation Sans,sans-serif" font-size="40">0.06</text></g>
<g transform="translate(1597.9,1334) scale(0.785,0.785) translate(-11,13.75)"><text x="0" y="0" font-family="Liberation Sans,sans-serif" font-size="40">0</text></g>
<g transform="translate(805.3,505.6) rotate(-90) scale(1.02,1.075) translate(-34.5,14.75)"><text x="0" y="0" font-family="Liberation Serif,serif" font-size="40" font-style="italic">P</text><text x="22" y="10" font-family="Liberation Serif,serif" font-size="27">0</text><text x="27" y="-15" font-family="Liberation Serif,serif" font-size="28" font-style="italic">A</text><text x="46" y="-15" font-family="Liberation Serif,serif" font-size="28">·</text><text x="55" y="-15" font-family="Liberation Serif,serif" font-size="28" font-style="italic">k</text><text x="32" y="-34" font-family="Liberation Serif,serif" font-size="20">→</text><text x="53" y="-34" font-family="Liberation Serif,serif" font-size="20">→</text></g>
<g transform="translate(1689.75,505.3) rotate(-90) scale(1.023,1.027) translate(-41.75,11.5)"><text x="0" y="0" font-family="Liberation Serif,serif" font-size="40" font-style="italic">P</text><text x="21" y="12" font-family="Liberation Serif,serif" font-size="30" letter-spacing="0.5">±1, 0</text><text x="27" y="-15" font-family="Liberation Serif,serif" font-size="28" font-style="italic">A</text><text x="46" y="-15" font-family="Liberation Serif,serif" font-size="28">·</text><text x="55" y="-15" font-family="Liberation Serif,serif" font-size="28" font-style="italic">k</text><text x="32" y="-34" font-family="Liberation Serif,serif" font-size="20">→</text><text x="53" y="-34" font-family="Liberation Serif,serif" font-size="20">→</text></g>
<g transform="translate(811.55,1204.45) rotate(-90) scale(1.098,1.03) translate(-45.75,11.5)"><text x="0" y="0" font-family="Liberation Serif,serif" font-size="40" font-style="italic">P</text><text x="21" y="12" font-family="Liberation Serif,serif" font-size="30" letter-spacing="0.5">±1,±1</text><text x="27" y="-15" font-family="Liberation Serif,serif" font-size="28" font-style="italic">A</text><text x="46" y="-15" font-family="Liberation Serif,serif" font-size="28">·</text><text x="55" y="-15" font-family="Liberation Serif,serif" font-size="28" font-style="italic">k</text><text x="32" y="-34" font-family="Liberation Serif,serif" font-size="20">→</text><text x="53" y="-34" font-family="Liberation Serif,serif" font-size="20">→</text></g>
<g transform="translate(1669.45,1214.25) rotate(-90) scale(1.094,1.02) translate(-45.75,11.5)"><text x="0" y="0" font-family="Liberation Serif,serif" font-size="40" font-style="italic">P</text><text x="21" y="12" font-family="Liberation Serif,serif" font-size="30" letter-spacing="0.5">±2,±2</text><text x="27" y="-15" font-family="Liberation Serif,serif" font-size="28" font-style="italic">A</text><text x="46" y="-15" font-family="Liberation Serif,serif" font-size="28">·</text><text x="55" y="-15" font-family="Liberation Serif,serif" font-size="28" font-style="italic">k</text><text x="32" y="-34" font-family="Liberation Serif,serif" font-size="20">→</text><text x="53" y="-34" font-family="Liberation Serif,serif" font-size="20">→</text></g>
</svg>
</body></html>
